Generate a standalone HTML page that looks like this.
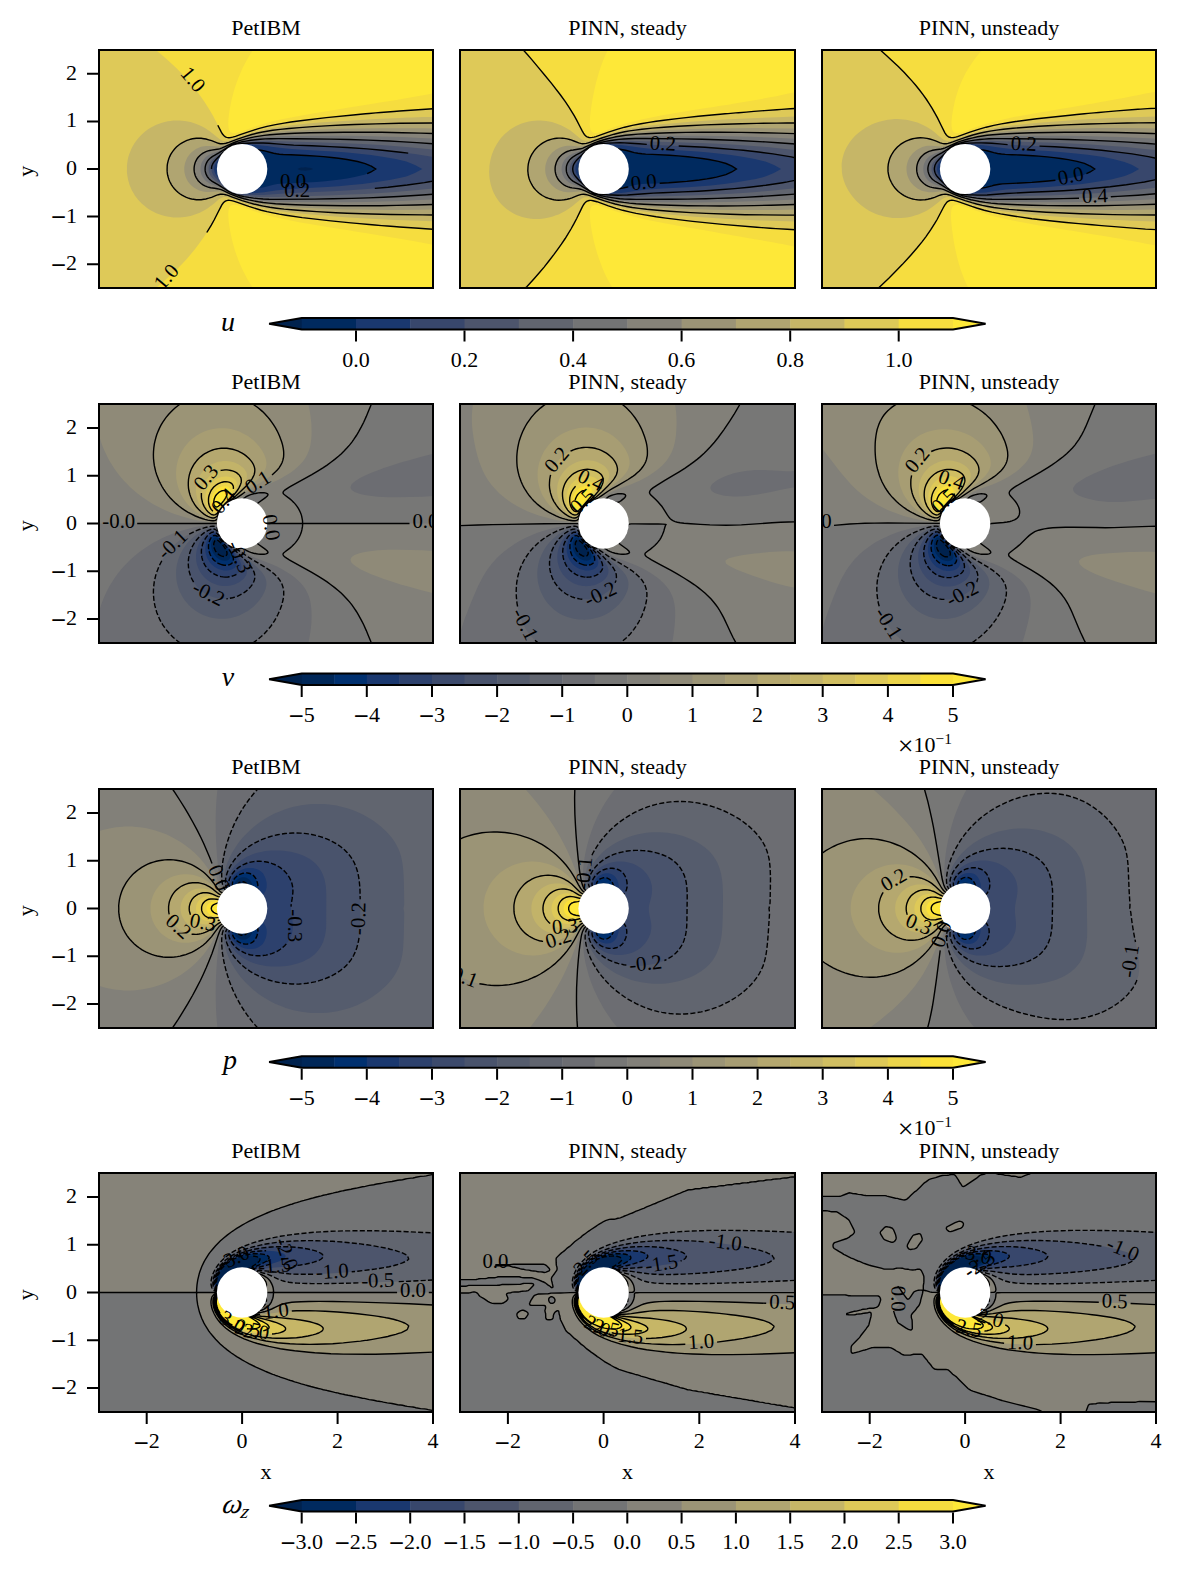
<!DOCTYPE html>
<html><head><meta charset="utf-8"><title>Flow fields</title><style>html,body{margin:0;padding:0;background:#fff}svg{display:block}</style></head><body>
<svg width="1181" height="1572" viewBox="0 0 1181 1572" font-family="'Liberation Serif', 'Times New Roman', serif" font-size="22px" fill="#000">
<rect width="1181" height="1572" fill="#fff"/>
<defs>
<clipPath id="c00"><rect x="99" y="50" width="334" height="238"/></clipPath>
<clipPath id="c10"><rect x="99" y="404" width="334" height="239"/></clipPath>
<clipPath id="c20"><rect x="99" y="789" width="334" height="239"/></clipPath>
<clipPath id="c30"><rect x="99" y="1173" width="334" height="239"/></clipPath>
<clipPath id="c01"><rect x="460" y="50" width="335" height="238"/></clipPath>
<clipPath id="c11"><rect x="460" y="404" width="335" height="239"/></clipPath>
<clipPath id="c21"><rect x="460" y="789" width="335" height="239"/></clipPath>
<clipPath id="c31"><rect x="460" y="1173" width="335" height="239"/></clipPath>
<clipPath id="c02"><rect x="822" y="50" width="334" height="238"/></clipPath>
<clipPath id="c12"><rect x="822" y="404" width="334" height="239"/></clipPath>
<clipPath id="c22"><rect x="822" y="789" width="334" height="239"/></clipPath>
<clipPath id="c32"><rect x="822" y="1173" width="334" height="239"/></clipPath>
</defs>
<g clip-path="url(#c00)">
<rect x="99" y="50" width="334" height="238" fill="#00224e"/>
<path fill="#002a5f" fill-rule="evenodd" d="M99 288l334 0l0-238l-334 0l0 238zM299.4 170l-0.1 0l-0.9-0.5l-0.8-0.5l0.8-0.5l1-0.5l1.9-0.4l1.9-0.2l1.9-0.1l1.9 0.1l1.9 0.3l2 0.4l2.4 0.9l-1.5 0.6l-1.1 0.4l-1.8 0.3l-1.9 0.3l-1.9 0.1l-1.9-0.1l-1.9-0.2l-1.9-0.4z"/>
<path fill="#1a386f" fill-rule="evenodd" d="M99 288l334 0l0-238l-334 0l0 238zM242.1 192.8l-0.2 0l-0.7-0.7l-1-0.2l-2.8 0l-1-0.1l-0.9-0.9l-0.3 0l6.4-20l0.2-0.9l0.3-1l11.4 0l-11.4 0l-0.3-1l-0.2-0.9l-2.3-7.3l-0.7-2.2l-3.4-10.5l0.3 0l0.9-1l3.8 0l1-0.2l0.7-0.7l0.7 0l0.5 0.4l1 0.4l1.9 0.1l2.9 0.1l0.9 0.8l1.5 0.1l0.4 0.4l0.9 0.5l1 0.1l0.9 0.8l0.7 0.1l0.3 0.4l1 0.4l1.9 0.2l0.9 0l2.9 0.5l2.4 0.4l7.1 1.9l1.9 0.5l2.9 0.5l2.9 0.4l3.8 0.3l7.6 0.3l15.3 0.7l10.5 0.6l6.7 0.5l8.5 0.9l6.7 0.8l8.6 1.2l10.5 2l7.6 2.1l4.8 2l1.3 0.5l4.4 2.9l-4.7 3l-5.8 2.4l-0.9 0.4l-9.6 2.3l-7.6 1.4l-6.7 1l-6.6 0.8l-8.6 0.9l-8.6 0.7l-9.6 0.6l-8.6 0.4l-18.1 0.8l-2.8 0.4l-3.9 0.6l-2.8 0.7l-4.8 1.3l-1.9 0.5l-2.9 0.5l-2.8 0.3l-1.9 0.2l-1 0.4l-0.3 0.4l-0.7 0.1l-0.9 0.9l-1 0l-0.9 0.5l-0.4 0.4l-1.5 0.1l-1 0.9l-3.8 0l-0.9 0.1l-1 0.4l-0.5 0.4l-0.5 0z"/>
<path fill="#38476c" fill-rule="evenodd" d="M99 288l334 0l0-238l-334 0l0 238zM237.4 192.9l-2.9-0.8l-1.9-0.8l-1.9-0.9l-2.4-1.4l-1.4-1.1l-1.9-1.6l-1.2-1.1l-1.7-1.9l-1.6-1.9l-1.3-1.8l-0.8-1.1l-0.6-0.9l-2-2.9l-0.5-0.9l-0.7-1.9l-0.3-1l-0.1-0.9l0-1l0-1l0.3-1.4l0.1-0.5l0.7-1.9l1.1-1.9l2-2.8l2.9-3.8l1.8-2.1l1.6-1.7l2.3-1.9l1.8-1.3l2.9-1.6l0.9-0.4l1.3-0.5l1.6-0.6l4.7-1l2.9-0.2l2.9-0.1l3.8 0.2l11.4 0.9l5.8 0.7l4.7 0.7l9.6 1.3l4.7 0.5l5.8 0.5l10.5 0.6l21.9 1.2l9.6 0.6l10.5 0.8l10.4 1l11.5 1.2l4.8 0.6l11.4 1.6l13.4 2.4l10.5 2.5l3.8 1.5l5.4 2.1l6.8 3.8l-7.4 4.1l-6.7 2.6l-2.9 1l-14.3 3.1l-14.3 2.3l-14.3 1.8l-11.5 1.2l-12.4 1.1l-11.4 0.8l-23.9 1.3l-11.4 0.6l-6.7 0.5l-4.8 0.6l-4.8 0.6l-11.4 1.7l-5 0.5l-10.3 0.7l-3.8 0.2l-2.9-0.1l-1.9-0.2l-1.9-0.3l-0.9-0.2z"/>
<path fill="#4d556c" fill-rule="evenodd" d="M99 288l334 0l0-106.9l-3.8 0.7l-4.8 0.8l-17.2 2.4l-19.1 2.2l-14.3 1.3l-13.3 1.1l-14.3 0.9l-13.4 0.7l-18.1 0.8l-17.2 0.7l-9.6 0.5l-7 0.6l-17.8 1.2l-4.7 0.1l-5.8-0.1l-5.7-0.2l-3.8-0.3l-2.9-0.4l-2.8-0.6l-1.9-0.5l-3-1.2l-1.8-0.8l-1.9-1.1l-1.9-1.2l-2.1-1.6l-2.1-1.9l-8.2-8.4l-0.2-0.2l-0.8-1.1l-0.5-0.8l-0.9-1.9l-0.3-0.9l-0.3-1.9l0-1l0.1-1.7l0-0.2l0.2-1l0.3-0.9l0.5-1l0.4-0.9l0.6-1l0.9-1.1l1.5-1.7l3.2-3.2l2.5-2.5l3.3-3l2.3-1.8l1.5-0.9l1.9-1.1l1.9-0.9l1.9-0.8l2.9-0.8l2.8-0.6l2.9-0.4l3.8-0.3l5.7-0.2l5.8-0.1l4.7 0.1l5.8 0.3l7.6 0.6l9.5 0.7l7.7 0.5l18.1 0.7l18.1 0.8l17.2 0.9l20.1 1.4l15.2 1.3l18.2 2l14.3 1.8l17.1 2.7l1 0.2l0-106.9l-334 0l0 238z"/>
<path fill="#61656f" fill-rule="evenodd" d="M99 288l334 0l0-99.5l-15.3 1.5l-22.9 1.9l-14.3 1l-16.2 1l-14.3 0.7l-22 0.8l-50.5 1.5l-7.7 0.2l-5.7 0l-4.8-0.1l-4.8-0.3l-4.7-0.4l-5.2-0.6l-3.4-0.6l-2.9-0.6l-2.4-0.7l-1.4-0.5l-2.9-1.2l-2.8-1.5l-2.6-1.6l-2.6-1.9l-5.3-4.3l-3.2-2.4l-2.3-1.9l-1.2-1.3l-0.9-1.3l-0.2-0.2l-0.8-1.6l-0.2-0.3l-0.3-1l-0.5-1.9l-0.1-0.9l0-2l0.3-1.9l0.3-0.9l0.5-1.3l0.3-0.6l0.7-1.2l0.9-1.3l1-1l0.9-0.9l1-0.9l1.9-1.4l2.8-2.2l6.7-5.2l1.9-1.3l1.9-1.1l1.9-0.9l2-0.8l2.3-0.9l1.5-0.4l2.8-0.7l2.9-0.5l3.8-0.6l5.7-0.6l4.8-0.3l4.8-0.2l4.8-0.1l6.6 0.2l41.1 1.2l16.2 0.5l13.4 0.5l18.1 0.8l18.1 1.1l13.4 0.9l15.2 1.2l18.2 1.7l5.7 0.6l0-99.5l-334 0l0 238z"/>
<path fill="#737475" fill-rule="evenodd" d="M99 288l334 0l0-93.7l-10.5 0.7l-23.9 1.5l-15.2 0.7l-15.3 0.7l-16.2 0.5l-19.1 0.4l-18.1 0.3l-40.1 0.3l-5.7-0.1l-5.8-0.3l-4.7-0.4l-4.8-0.5l-4.8-0.7l-4.7-0.8l-3.9-0.9l-3.8-1l-1.9-0.7l-2.9-1.2l-2-1l-1.8-1l-1.9-1.1l-7.6-4.9l-6.1-3.4l-1.5-1.2l-1-0.8l-1-1l-0.9-1.1l-0.5-0.7l-1-1.9l-0.7-1.9l-0.4-1.9l-0.1-1.9l0.1-1.9l0.4-1.9l0.7-1.9l1-1.9l0.7-1l0.8-0.9l1-1l1.8-1.4l1-0.7l1.9-1.1l4.7-2.6l2.9-1.9l4.2-2.7l2.5-1.5l2.8-1.4l2.3-1l1.6-0.6l2.8-0.8l3.8-1l3.9-0.7l4.7-0.8l4.8-0.6l4.8-0.5l4.7-0.3l5.8-0.2l7.6-0.1l17.2 0.1l35.3 0.4l18.1 0.4l19.1 0.6l21 0.9l10.5 0.6l17.2 1l16.2 1.1l0-93.7l-334 0l0 238z"/>
<path fill="#868379" fill-rule="evenodd" d="M99 288l334 0l0-88.5l-13.4 0.6l-18.1 0.8l-19.1 0.6l-15.2 0.4l-19.1 0.3l-19.1 0.1l-16.2-0.1l-20.1-0.2l-13.3-0.3l-8.1-0.3l-5.3-0.4l-4.8-0.4l-4.7-0.7l-4.8-0.7l-4.8-1l-4.8-1.1l-3.8-1l-3.8-1.3l-3.8-1.6l-3.8-2l-6.7-3.6l-1.9-0.9l-2.9-1l-3.8-1.3l-0.9-0.5l-2-0.9l-1-0.7l-1.3-0.9l-1.5-1.4l-0.9-1.1l-0.3-0.4l-1.3-1.9l-0.9-1.9l-0.6-1.9l-0.3-1.9l-0.1-1.9l0.1-1.9l0.3-1.9l0.6-1.9l0.9-1.9l1.3-1.9l1.2-1.5l1-0.9l0.9-0.8l1-0.7l1.9-1.1l1.9-0.9l2.9-1l3.8-1.3l1.9-0.9l1.9-0.9l8.6-4.7l2.9-1.2l3.8-1.4l2.8-0.8l2.9-0.8l5.7-1.2l4.8-0.9l4.8-0.7l4.7-0.6l5.8-0.4l5.7-0.3l7.6-0.3l12.4-0.2l20.1-0.2l17.1-0.1l16.3 0.1l17.1 0.3l16.3 0.4l21 0.6l18.1 0.8l12.4 0.6l0-88.5l-334 0l0 238z"/>
<path fill="#9b9476" fill-rule="evenodd" d="M99 288l334 0l0-83.5l-17.2 0.5l-19.1 0.4l-16.2 0.3l-17.2 0.1l-19-0.1l-16.3-0.2l-17.1-0.3l-15.3-0.5l-11.5-0.5l-8.6-0.5l-6.6-0.6l-5.8-0.6l-4.7-0.7l-4.8-0.9l-4.8-1l-4.7-1.2l-5.8-1.7l-4.7-1.7l-3.6-1.5l-3.1-1.5l-2.9-1.4l-2.9-1.2l-1.9-0.6l-1.9-0.4l-2.8-0.4l-3.8-0.6l-2-0.4l-1.9-0.6l-1.9-0.8l-1.9-1l-1.9-1.4l-1.4-1.2l-1.5-1.6l-0.9-1.3l-1.1-1.8l-0.9-1.9l-0.6-1.9l-0.4-1.9l-0.2-1.9l0-2l0.2-1.9l0.4-1.9l0.6-1.9l0.9-1.9l1.1-1.9l0.9-1.2l1-1.1l1-0.9l0.9-0.8l1.9-1.4l1-0.5l1.9-1l2.1-0.7l1.7-0.4l1.9-0.4l7.1-1.1l1.5-0.4l1.9-0.7l2.9-1.3l7.6-3.5l2.9-1.1l3.8-1.3l5.7-1.6l4.8-1.2l4.7-1l4.8-0.8l4.8-0.7l5.7-0.6l6.7-0.6l7.8-0.4l10.3-0.5l15.3-0.5l17.2-0.3l17.2-0.2l17.1-0.1l20.1 0.1l21 0.4l18.1 0.4l12.4 0.4l0-83.5l-334 0l0 238z"/>
<path fill="#b0a571" fill-rule="evenodd" d="M99 288l334 0l0-78.4l-12.4 0.1l-31.5 0.2l-27.7-0.3l-14.3-0.2l-17.2-0.5l-15.2-0.6l-13.4-0.6l-12.4-0.8l-8.6-0.6l-7.6-0.8l-5.7-0.7l-4.8-0.7l-4.8-0.9l-4.8-1l-4.7-1.2l-5.2-1.5l-3.4-1.1l-3.8-1.4l-6.7-2.6l-3.8-1.6l-2.9-0.9l-1.9-0.3l-1.9-0.1l-1.9 0l-7.7 0.6l-1.9 0l-2.4-0.3l-1.4-0.2l-1.9-0.5l-1.9-0.6l-1.9-0.9l-1.9-1l-1.9-1.3l-1.5-1.2l-1.4-1.3l-1.3-1.5l-1.4-1.9l-1.1-2l-0.9-1.8l-0.6-1.9l-0.5-1.9l-0.4-1.9l-0.1-1.9l0-2.9l0.3-1.9l0.4-1.9l0.6-1.9l0.8-1.9l0.9-1.9l1.3-1.9l1.5-1.9l1.5-1.5l1.6-1.4l1.3-0.9l1.8-1.2l1.9-0.9l2.2-0.8l1.7-0.5l2.3-0.4l1.5-0.2l1.9-0.1l1.9 0l2.9 0.2l3.8 0.4l1.9 0l1.9-0.1l1.9-0.3l1.9-0.6l1.9-0.7l6-2.5l2.6-1l2.9-1l3.8-1.3l5.7-1.7l4.8-1.2l4.8-1.1l4.7-0.9l5.8-0.9l5.7-0.7l6.7-0.7l8.5-0.7l10.5-0.6l13.4-0.7l14.3-0.6l16.2-0.5l18.2-0.3l21.9-0.2l24.8 0l18.2 0.1l7.6 0.1l0-78.4l-334 0l0 238z"/>
<path fill="#c6b667" fill-rule="evenodd" d="M99 288l334 0l0-73l-10.5-0.1l-31.5-0.4l-20-0.5l-23.9-0.8l-11.4-0.5l-19.1-1.1l-12.4-0.8l-9.6-0.8l-10.5-0.9l-7.6-0.9l-6.7-0.9l-6.5-1.2l-4-0.8l-5.7-1.3l-4.8-1.3l-6.7-2.1l-10.5-3.8l-3-1.1l-3.2-1l-1.4-0.3l-1.9-0.2l-1.9 0.1l-1.9 0.4l-2.7 1l-4 1.6l-2.9 0.9l-2.8 0.8l-1.9 0.3l-2.9 0.4l-1.9 0.1l-2.9-0.1l-2.8-0.4l-1.9-0.3l-1.9-0.5l-2-0.6l-1.9-0.8l-1.9-0.9l-1.9-1l-2.2-1.4l-1.6-1.3l-1.9-1.7l-1.9-2l-1.3-1.7l-1.6-2.3l-0.9-1.6l-1-2l-0.7-1.7l-0.6-1.9l-0.6-2.3l-0.3-1.5l-0.2-1.9l-0.1-1.9l0.1-3.9l0.2-1.9l0.4-1.9l0.5-1.9l0.6-1.9l0.8-1.9l0.9-1.9l1.1-1.9l1.4-1.9l1.5-1.9l1.8-1.9l1.8-1.6l1.6-1.3l1.4-0.9l1.8-1l1.9-1l2-0.9l1.8-0.6l1.9-0.6l1.9-0.4l1.9-0.3l1.9-0.2l2.9-0.1l1.9 0.1l2.9 0.4l1.9 0.3l2.8 0.8l2.9 0.9l6.8 2.6l1.8 0.4l1.9 0.1l1.9-0.2l1.9-0.4l2.9-0.9l8.6-3.2l6.7-2.3l7.6-2.3l4.8-1.2l4.7-1l5.8-1.1l5.7-0.9l7.6-0.9l8.6-0.9l10.5-0.9l13.4-1l17.1-1l12.4-0.6l12.4-0.5l21-0.6l23.9-0.6l33.4-0.3l0-73l-334 0l0 238z"/>
<path fill="#dec958" fill-rule="evenodd" d="M99 288l334 0l0-66.8l-14.3-0.4l-8.6-0.3l-5.7-0.2l-9.6-0.4l-23.8-1.1l-22.9-1.3l-19.1-1.4l-12.4-1l-16.2-1.5l-11.5-1.2l-8.6-1.2l-7.6-1.2l-6.7-1.2l-4.8-1l-4.7-1.2l-5.8-1.7l-4.7-1.5l-14.4-5l-2.8-0.9l-1.9-0.3l-1.9-0.1l-1 0l-0.9 0.2l-1 0.3l-1.9 0.9l-1 0.6l-0.9 0.7l-1.9 1.6l-4.5 3.8l-1.3 0.9l-2.8 2.1l-2.9 1.7l-2.8 1.6l-2.9 1.4l-2.9 1.1l-2.8 1l-2.9 0.9l-2.9 0.6l-2.8 0.5l-2.9 0.3l-2.8 0.2l-2.9 0l-2.9-0.1l-2.8-0.3l-3.4-0.5l-2.4-0.5l-2.8-0.8l-2.9-1l-2.8-1.1l-2.9-1.4l-2.9-1.6l-2-1.2l-1.8-1.3l-2-1.6l-2.8-2.4l-1.9-1.9l-1.9-2.1l-1.7-2.1l-1.4-1.9l-1.7-2.9l-1.6-2.9l-1.3-2.8l-0.9-2.4l-0.7-2.4l-0.8-2.8l-0.5-2.9l-0.4-2.8l-0.2-1.9l0.1-3.9l-0.1-1.9l0.3-2.8l0.4-2.9l0.6-2.8l0.8-2.9l1.1-2.8l1.3-3.2l1.3-2.5l1.6-2.7l1.4-2.1l1.5-1.9l1.9-2.3l1.9-2l1.9-1.8l1.9-1.6l2.9-2.2l2.8-1.8l2.9-1.6l2.9-1.4l2.8-1.1l2.9-1l2.8-0.8l2.9-0.6l2.9-0.4l2.8-0.3l2.9-0.1l2.9 0l2.8 0.2l2.9 0.3l2.8 0.5l2.9 0.6l2.9 0.9l2.8 1l3.1 1.2l2.7 1.3l2.8 1.6l1.9 1.1l2.9 2l2.9 2.2l6.2 5.1l1.4 1l1.9 0.9l1 0.3l0.9 0.2l1 0l1.9-0.1l2-0.4l3.7-1.1l17.2-5.9l5.1-1.5l3.6-1l4-0.9l3.5-0.8l6.7-1.2l5.7-0.9l7.6-1.1l10.5-1.2l11.5-1.2l11.4-1l16.3-1.2l35.3-2.2l10.5-0.5l18.1-0.8l7.6-0.3l4.8-0.2l10.5-0.3l7.6-0.2l2.9-0.1l0-66.8l-334 0l0 238z"/>
<path fill="#f6dd3f" fill-rule="evenodd" d="M155.7 288l277.3 0l0-58.7l-7.6-0.5l-6.7-0.5l-7.6-0.5l-11.5-0.8l-5.7-0.5l-6.7-0.5l-5.7-0.4l-6.7-0.6l-5.7-0.5l-12.4-1.1l-5.8-0.5l-20-2l-22-2.5l-6.7-0.8l-16.2-2.4l-6.6-1.1l-7.7-1.5l-4.7-1l-5.8-1.4l-7.6-2.3l-4.8-1.5l-11.4-4.1l-3.8-1.2l-2-0.5l-1.9-0.2l-0.9-0.1l-1.2 0.1l-0.7 0.2l-1 0.3l-0.9 0.5l-1.1 0.9l-0.9 1l-1.3 1.9l-1 1.9l-2.4 4.7l-3.9 7.7l-3.1 5.7l-2.9 4.7l-3 4.8l-2.6 3.8l-3.6 5.1l-4.1 5.4l-3.5 4.3l-5.3 6.1l-3.3 3.6l-5.8 6l-4.7 4.5l-6.7 6.1l-5.7 4.8l-4.4 3.6zM227.6 137.6l0.2 0l1 0.1l1.9-0.2l1.9-0.4l2.9-0.8l4.7-1.6l6.7-2.4l7.6-2.5l4.8-1.5l7.7-1.9l8.5-1.8l8.6-1.5l6.7-1.1l9.6-1.3l25.9-3.1l29.4-2.9l4.8-0.5l5.1-0.4l3.5-0.3l6.6-0.6l4.8-0.4l6.7-0.5l6.7-0.5l5.7-0.5l33.4-2.3l0-58.7l-277.3 0l4.4 3.6l6.7 5.7l5.7 5.2l4.8 4.6l4.6 4.7l2.6 2.9l3.2 3.5l5.1 6l3.5 4.4l4.8 6.4l3.8 5.6l3.8 6l3.9 6.5l3.8 7.2l2.8 5.8l1.5 2.8l1 1.9l1.4 1.9l0.9 1.1l1.1 0.8l0.8 0.5l1 0.3l0.7 0.2z"/>
<path fill="#fee838" fill-rule="evenodd" d="M252.4 287l0.6 1l180 0l0-43.3l-6.7-1.3l-10.5-1.9l-8.6-1.5l-10.5-1.8l-4.7-0.8l-10.5-1.7l-5.8-1l-5.9-1l-4.6-0.7l-3.8-0.6l-7.6-1.2l-2.9-0.5l-3.8-0.6l-3.8-0.6l-9.5-1.5l-18.2-3l-5.7-1l-9.5-1.6l-17.2-3.4l-6.7-1.5l-6.7-1.6l-8.6-2.4l-5.1-1.7l-2.7-0.9l-3.6-1.3l-9.7-3.5l-3.7-1l-1.9-0.2l-0.9 0l-1 0.1l-1 0.3l-0.9 0.5l-0.4 0.3l-0.7 1l-0.4 0.9l-0.4 1.2l-0.3 1.7l-0.2 1.9l0 2.8l0.2 2.9l0.3 3.8l0.7 4.8l0.8 4.7l1 4.8l1.1 4.8l1.3 4.7l1.4 4.8l1.6 4.7l1.8 4.8l2 4.8l2.1 4.7l2.4 4.7l2.6 4.8l1.7 2.9l2.4 3.8l0.7 0.9zM231.9 132.8l0.7 0.2l1 0.1l1.9-0.1l1.1-0.2l2.7-0.7l1.9-0.6l4.3-1.5l4.3-1.6l11.4-3.9l9.6-2.7l9.5-2.2l13.4-2.7l19.1-3.4l22.9-3.8l10.4-1.6l2.9-0.5l14.3-2.3l7.7-1.2l4.7-0.8l3.9-0.7l10.5-1.7l7.6-1.2l3.8-0.7l17.2-3l2.8-0.5l5.8-1.1l5.7-1.1l0-43.3l-180 0l-2.5 3.8l-2.6 4.4l-2.9 5.2l-2.4 4.7l-1.7 3.8l-1.6 3.8l-1.9 4.9l-1.7 4.6l-1.5 4.8l-1.3 4.7l-1.3 5l-1.1 5.5l-0.9 4.8l-0.7 4.7l-0.4 3.8l-0.2 3.9l0 2.8l0.2 1.9l0.3 1.9l0.4 1l0.5 1.1l0.6 0.8l0.4 0.3l1.2 0.6z"/>
<path fill="none" stroke="#000" stroke-width="1.4" d="M255.9 149.4l0.6 0.4l1.9 0.2l0.9 0l2.9 0.5l2.4 0.4l7.1 1.9l1.9 0.5l2.9 0.5l2.9 0.4l3.8 0.3l7.6 0.3l15.3 0.7l10.5 0.6l6.7 0.5l8.5 0.9l6.7 0.8l8.6 1.2l10.5 2l7.6 2.1l4.8 2l1.3 0.5l4.4 2.9l-4.7 3l-3.8 1.6M252.1 147.5l0.5 0.5l1 0.1l0.9 0.8l0.7 0.1M250.6 147l0.1 0.1l0.6 0M236.4 146.2l1-0.1M246.9 146.1l2 0.1M241.9 145.2l0.7 0M433 181.1l-3.8 0.7l-4.8 0.8l-17.2 2.4l-19.1 2.2l-13.3 1.2M211.5 169l0.1-1.7l0-0.2l0.2-1l0.3-0.9l0.5-1l0.4-0.9l0.6-1l0.9-1.1l1.5-1.7l3.2-3.2l2.5-2.5l3.3-3l2.3-1.8l1.5-0.9l1.9-1.1l1.9-0.9l1.9-0.8l2.9-0.8l2.8-0.6l2.9-0.4l3.8-0.3l5.7-0.2l5.8-0.1l4.7 0.1l5.8 0.3l7.6 0.6l9.5 0.7l7.7 0.5l18.1 0.7l18.1 0.8l17.2 0.9l20.1 1.4l15.2 1.3l18.2 2l7.6 0.9M433 194.3l-10.5 0.7l-23.9 1.5l-15.2 0.7l-15.3 0.7l-16.2 0.5l-19.1 0.4l-18.1 0.3l-40.1 0.3l-5.7-0.1l-5.8-0.3l-4.7-0.4l-4.8-0.5l-4.8-0.7l-4.7-0.8l-3.9-0.9l-3.8-1l-1.9-0.7l-2.9-1.2l-2-1l-1.8-1l-1.9-1.1l-7.6-4.9l-6.1-3.4l-1.5-1.2l-1-0.8l-1-1l-0.9-1.1l-0.5-0.7l-1-1.9l-0.7-1.9l-0.4-1.9l-0.1-1.9l0.1-1.9l0.4-1.9l0.7-1.9l1-1.9l0.7-1l0.8-0.9l1-1l1.8-1.4l1-0.7l1.9-1.1l4.7-2.6l2.9-1.9l4.2-2.7l2.5-1.5l2.8-1.4l2.3-1l1.6-0.6l2.8-0.8l3.8-1l3.9-0.7l4.7-0.8l4.8-0.6l4.8-0.5l4.7-0.3l5.8-0.2l7.6-0.1l17.2 0.1l35.3 0.4l18.1 0.4l19.1 0.6l21 0.9l10.5 0.6l17.2 1l16.2 1.1M433 204.5l-17.2 0.5l-19.1 0.4l-16.2 0.3l-17.2 0.1l-19-0.1l-16.3-0.2l-17.1-0.3l-15.3-0.5l-11.5-0.5l-8.6-0.5l-6.6-0.6l-5.8-0.6l-4.7-0.7l-4.8-0.9l-4.8-1l-4.7-1.2l-5.8-1.7l-4.7-1.7l-3.6-1.5l-3.1-1.5l-2.9-1.4l-2.9-1.2l-1.9-0.6l-1.9-0.4l-2.8-0.4l-3.8-0.6l-2-0.4l-1.9-0.6l-1.9-0.8l-1.9-1l-1.9-1.4l-1.4-1.2l-1.5-1.6l-0.9-1.3l-1.1-1.8l-0.9-1.9l-0.6-1.9l-0.4-1.9l-0.2-1.9l0-2l0.2-1.9l0.4-1.9l0.6-1.9l0.9-1.9l1.1-1.9l0.9-1.2l1-1.1l1-0.9l0.9-0.8l1.9-1.4l1-0.5l1.9-1l2.1-0.7l1.7-0.4l1.9-0.4l7.1-1.1l1.5-0.4l1.9-0.7l2.9-1.3l7.6-3.5l2.9-1.1l3.8-1.3l5.7-1.6l4.8-1.2l4.7-1l4.8-0.8l4.8-0.7l5.7-0.6l6.7-0.6l7.8-0.4l10.3-0.5l15.3-0.5l17.2-0.3l17.2-0.2l17.1-0.1l20.1 0.1l21 0.4l18.1 0.4l12.4 0.4M433 215l-10.5-0.1l-31.5-0.4l-20-0.5l-23.9-0.8l-11.4-0.5l-19.1-1.1l-12.4-0.8l-9.6-0.8l-10.5-0.9l-7.6-0.9l-6.7-0.9l-6.5-1.2l-4-0.8l-5.7-1.3l-4.8-1.3l-6.7-2.1l-10.5-3.8l-3-1.1l-3.2-1l-1.4-0.3l-1.9-0.2l-1.9 0.1l-1.9 0.4l-2.7 1l-4 1.6l-2.9 0.9l-2.8 0.8l-1.9 0.3l-2.9 0.4l-1.9 0.1l-2.9-0.1l-2.8-0.4l-1.9-0.3l-1.9-0.5l-2-0.6l-1.9-0.8l-1.9-0.9l-1.9-1l-2.2-1.4l-1.6-1.3l-1.9-1.7l-1.9-2l-1.3-1.7l-1.6-2.3l-0.9-1.6l-1-2l-0.7-1.7l-0.6-1.9l-0.6-2.3l-0.3-1.5l-0.2-1.9l-0.1-1.9l0.1-3.9l0.2-1.9l0.4-1.9l0.5-1.9l0.6-1.9l0.8-1.9l0.9-1.9l1.1-1.9l1.4-1.9l1.5-1.9l1.8-1.9l1.8-1.6l1.6-1.3l1.4-0.9l1.8-1l1.9-1l2-0.9l1.8-0.6l1.9-0.6l1.9-0.4l1.9-0.3l1.9-0.2l2.9-0.1l1.9 0.1l2.9 0.4l1.9 0.3l2.8 0.8l2.9 0.9l6.8 2.6l1.8 0.4l1.9 0.1l1.9-0.2l1.9-0.4l2.9-0.9l8.6-3.2l6.7-2.3l7.6-2.3l4.8-1.2l4.7-1l5.8-1.1l5.7-0.9l7.6-0.9l8.6-0.9l10.5-0.9l13.4-1l17.1-1l12.4-0.6l12.4-0.5l21-0.6l23.9-0.6l33.4-0.3M433 229.3l-7.6-0.5l-6.7-0.5l-7.6-0.5l-11.5-0.8l-5.7-0.5l-6.7-0.5l-5.7-0.4l-6.7-0.6l-5.7-0.5l-12.4-1.1l-5.8-0.5l-20-2l-22-2.5l-6.7-0.8l-16.2-2.4l-6.6-1.1l-7.7-1.5l-4.7-1l-5.8-1.4l-7.6-2.3l-4.8-1.5l-11.4-4.1l-3.8-1.2l-2-0.5l-1.9-0.2l-0.9-0.1l-1.2 0.1l-0.7 0.2l-1 0.3l-0.9 0.5l-1.1 0.9l-0.9 1l-1.3 1.9l-1 1.9l-2.4 4.7l-3.9 7.7l-3.1 5.7l-2.9 4.7l-1.6 2.6M217.8 125.2l3.4 6.7l1.1 1.9l0.8 0.9l0.9 1.1l1.1 0.8l0.8 0.5l1 0.3l0.9 0.2l1 0.1l1.9-0.2l1.9-0.4l2.9-0.8l4.7-1.6l6.7-2.4l7.6-2.5l4.8-1.5l7.7-1.9l8.5-1.8l8.6-1.5l6.7-1.1l9.6-1.3l25.9-3.1l29.4-2.9l4.8-0.5l5.1-0.4l3.5-0.3l6.6-0.6l4.8-0.4l6.7-0.5l6.7-0.5l5.7-0.5l33.4-2.3"/>
<ellipse cx="242.1" cy="169.0" rx="25.2" ry="25.1" fill="#fff"/>
<text transform="translate(191.6 80.5) rotate(50.0)" text-anchor="middle" y="4.9" font-size="20.8px">1.0</text>
<text transform="translate(167.7 278.0) rotate(-50.0)" text-anchor="middle" y="4.9" font-size="20.8px">1.0</text>
<text transform="translate(293.1 183.1) rotate(0.0)" text-anchor="middle" y="4.9" font-size="20.8px">0.0</text>
<text transform="translate(297.2 192.3) rotate(0.0)" text-anchor="middle" y="4.9" font-size="20.8px">0.2</text>
</g>
<rect x="99" y="50" width="334" height="238" fill="none" stroke="#000" stroke-width="2"/>
<text transform="translate(50.9 275.6) scale(1.215 1.5)">−</text><text x="66.0" y="270.2">2</text>
<text transform="translate(50.9 227.9) scale(1.215 1.5)">−</text><text x="66.0" y="222.6">1</text>
<text x="77.0" y="175.0" text-anchor="end">0</text>
<text x="77.0" y="127.4" text-anchor="end">1</text>
<text x="77.0" y="79.8" text-anchor="end">2</text>
<text transform="translate(33 171.3) rotate(-90)" text-anchor="middle">y</text>
<path stroke="#000" stroke-width="2" fill="none" d="M98.0 264.2h-11M98.0 216.6h-11M98.0 169.0h-11M98.0 121.4h-11M98.0 73.8h-11"/>
<text x="266.0" y="34.6" text-anchor="middle">PetIBM</text>
<g clip-path="url(#c01)">
<rect x="460" y="50" width="335" height="238" fill="#002a5f"/>
<path fill="#1a386f" fill-rule="evenodd" d="M460 288l335 0l0-238l-335 0l0 238zM602.6 192.8l-0.9-0.7l-1-0.1l-2.9-0.1l-0.9-0.1l-1-0.9l-1 0l-0.9-0.8l-1.1-0.2l-0.8-0.8l-1-0.1l-0.9-0.9l-0.6-0.1l-0.4-0.3l-0.9-0.8l-1-0.8l-2.9-2.8l0-1l-1-0.9l-0.3-1l-0.6-0.6l0-0.3l-0.4-1l-0.5-0.5l-0.2-1.4l-0.8-0.7l-0.1-0.2l0-1l-0.2-0.9l-0.4-1l-0.3-0.4l-0.2-1.5l-0.1-1.9l0.1-1.9l0.2-1.4l0.3-0.5l0.4-1l0.2-0.9l0.1-1.2l0.8-0.7l0.2-1.4l0.5-0.5l0.4-1.3l0.6-0.6l0.4-1l0.9-0.9l0-1l3.9-3.8l1.2-0.9l0.7-0.1l0.9-0.9l1-0.2l0.8-0.7l1.1-0.2l1-0.8l0.9-0.1l1-0.9l3.8-0.1l1-0.2l0.9-0.6l2.5 0l0.4 0.3l0.9 0.3l2 0.2l2.3 0.2l0.5 0.4l1 0.3l1.4 0.2l0.5 0.4l1.9 0.6l1 0.5l0.9 0.2l1 0.2l0.9 0.3l5.8 1l3.8 1l4.8 1.3l3.8 0.7l3.9 0.5l3.8 0.3l6.7 0.3l17.2 0.9l8.6 0.6l9.6 0.9l7.7 0.8l6.7 0.9l6.7 1l9.5 1.9l7.7 2.1l5.9 2.6l4.4 2.9l-4.6 3l-5.9 2.7l-9.4 2.4l-5.7 1.1l-3.9 0.7l-7.6 1.1l-6.7 0.8l-5.8 0.6l-11.4 0.9l-6.7 0.5l-12.5 0.6l-9.6 0.4l-4.7 0.3l-3.9 0.5l-2.8 0.5l-4.2 1l-7.6 1.9l-4.5 0.8l-1 0.3l-0.9 0.2l-1 0.4l-0.3 0.2l-1.6 0.5l-0.7 0.5l-0.3 0.1l-1.9 0.3l-0.6 0.5l-0.3 0.1l-2.9 0.1l-1 0.1l-0.9 0.3l-0.6 0.4l-1.3 0l-1 0z"/>
<path fill="#38476c" fill-rule="evenodd" d="M460 288l335 0l0-238l-335 0l0 238zM598.8 192.9l-2.9-0.8l-1.9-0.7l-1.9-1l-2.4-1.4l-1.4-1l-2-1.6l-1.2-1.2l-1.7-1.9l-2.3-2.9l-2.4-3.3l-1-1.4l-1.1-1.9l-0.8-1.9l-0.2-1l-0.1-0.9l-0.1-1l0.1-1l0.1-0.9l0.2-1l0.8-1.9l1.1-1.9l4.2-5.7l2.5-3l1.7-1.7l2.2-1.9l1.9-1.3l2.8-1.6l1-0.5l4.3-1.4l1.4-0.3l2-0.3l2.8-0.3l2.9 0l3.8 0.2l11.5 0.8l5.8 0.7l5.7 0.8l6.7 0.9l6.7 0.7l5.7 0.5l12.5 0.7l17.2 1l14.4 1l11.5 1l11.5 1.2l10.5 1.2l11.5 1.7l12.4 2.3l10.5 2.6l3.9 1.4l5.3 2.2l6.6 3.8l-7.2 4.1l-6.7 2.7l-2 0.8l-10.4 2.6l-1.9 0.4l-16.3 2.7l-12.4 1.7l-13.4 1.4l-9.6 0.8l-13.4 1l-25.8 1.4l-9.6 0.6l-5.8 0.4l-5.7 0.6l-5.7 0.8l-9.6 1.4l-4.8 0.5l-9.6 0.6l-3.8 0.2l-2.9 0l-2.8-0.3l-2-0.3l-0.9-0.2z"/>
<path fill="#4d556c" fill-rule="evenodd" d="M460 288l335 0l0-107.6l-7.7 1.5l-4.7 0.8l-16.7 2.5l-16.8 2l-14.4 1.4l-15.3 1.2l-9.6 0.7l-11.5 0.7l-15.3 0.7l-20.1 0.8l-9.6 0.4l-8.6 0.6l-17.2 1.3l-4.8 0.1l-4.8 0.1l-5.7-0.2l-4.8-0.2l-3.8-0.4l-2.9-0.4l-2.9-0.7l-2.8-1l-2-0.8l-1.9-1l-2.4-1.5l-1.4-1l-2.2-1.9l-3-2.8l-1.5-1.5l-1.4-1.4l-3.6-3.8l-1.3-1.9l-0.5-0.9l-0.4-1l-0.5-1.6l0-0.3l-0.1-0.9l-0.1-1l0.1-1l0.3-1.9l0.3-0.9l0.5-1.2l0.4-0.7l0.6-1l0.9-1.2l1.5-1.6l4.3-4.2l1.4-1.5l3.3-3l2.4-1.8l1.5-1l1.9-1l1.9-0.9l1.9-0.8l2.9-0.9l2.9-0.6l2.8-0.4l3.9-0.3l5.7-0.2l5.7-0.1l4.8 0.1l5.8 0.3l8.6 0.6l11.5 0.9l10.6 0.5l37.2 1.7l17.9 1.2l25.2 2l18.2 2l13.4 1.8l18.2 3l3.8 0.8l0-107.7l-335 0l0 238z"/>
<path fill="#61656f" fill-rule="evenodd" d="M460 288l335 0l0-99.8l-22 2.3l-16.3 1.4l-17.2 1.3l-12.5 0.7l-13.4 0.7l-8.6 0.4l-14.3 0.5l-15.3 0.4l-22.1 0.6l-25.8 0.7l-4.8-0.1l-4.8-0.2l-4.8-0.4l-5.7-0.6l-3.8-0.6l-3-0.6l-1.8-0.5l-2.9-0.9l-2.9-1.1l-2.8-1.5l-2.7-1.7l-2.6-1.9l-4.3-3.5l-4.3-3.2l-2.2-1.9l-1.2-1.2l-0.9-1.2l-0.3-0.4l-0.7-1.3l-0.3-0.6l-0.3-1l-0.5-1.9l-0.1-0.9l0-2l0.3-1.9l0.3-0.9l0.6-1.6l0.2-0.3l0.8-1.3l0.9-1.3l1-1.1l1-0.8l0.9-0.8l1.8-1.4l1.3-0.9l2.7-2.1l4.7-3.7l2.7-1.8l2.1-1.3l1.9-1l2.9-1.1l2.9-1l2.9-0.6l2.8-0.6l3.9-0.5l5.7-0.6l4.8-0.4l4.8-0.2l4.8-0.1l6.7 0.2l65 2l12.5 0.6l23 1.3l21 1.4l10.5 0.9l18.2 1.8l9.6 1l0-99.9l-335 0l0 238z"/>
<path fill="#737475" fill-rule="evenodd" d="M460 288l335 0l0-93.9l-16.3 1.2l-19.1 1.2l-15.3 0.9l-15.3 0.6l-11.5 0.4l-11.5 0.4l-18.2 0.3l-17.2 0.2l-34.5 0.1l-5.7-0.1l-5.8-0.2l-4.8-0.4l-4.7-0.6l-4.8-0.7l-4.8-0.8l-3.8-0.8l-3.9-1.1l-1.9-0.7l-3-1.2l-1.9-1l-1.8-0.9l-1.9-1.2l-7.7-4.9l-6.7-3.7l-0.9-0.7l-1.1-0.9l-0.9-1l-0.9-1l-0.9-1.5l-0.3-0.3l-0.8-1.9l-0.6-1.9l-0.2-1.9l0-2l0.2-1.9l0.6-1.9l0.9-1.9l1.1-1.7l0.1-0.2l0.9-1l0.9-0.9l1.1-0.9l1.8-1.3l1.9-1.1l4.8-2.6l2.9-1.8l4.8-3.1l2.8-1.6l1.9-1l2.2-0.9l1.7-0.6l3.8-1.1l4.8-1.1l3.8-0.7l4.8-0.7l4.8-0.6l4.8-0.4l4.8-0.3l6.7-0.2l10.5 0l35.4 0.4l21.1 0.4l16.2 0.5l20.1 0.7l26.8 1.4l12.5 0.8l14.3 1.1l2.9 0.2l0-94l-335 0l0 238z"/>
<path fill="#868379" fill-rule="evenodd" d="M460 288l335 0l0-88.6l-16.3 0.8l-19.1 0.9l-15.3 0.5l-15.3 0.4l-17.1 0.3l-14.5 0.1l-17.3 0l-21-0.2l-14.4-0.3l-8.6-0.3l-6.7-0.4l-5.7-0.5l-4.8-0.6l-4.8-0.7l-4.8-0.9l-4.8-1.1l-3.8-1l-2.9-0.9l-2.8-1l-2.9-1.3l-3.8-1.9l-5.9-3.3l-2.1-0.9l-1.6-0.6l-6.7-2.4l-1.9-1l-1.9-1.2l-1-0.8l-1-0.9l-0.9-1.1l-1-1.2l-0.7-1.3l-0.9-1.9l-0.6-1.9l-0.4-1.9l-0.1-1.9l0.1-1.9l0.4-1.9l0.6-1.9l0.9-1.9l1.2-1.9l1.4-1.7l1-0.9l1-0.7l0.9-0.7l1.9-1.1l1.9-0.9l2.9-1l3.8-1.3l2-0.8l2.8-1.5l5.8-3.2l3.8-1.8l2.9-1.1l3.8-1.2l4.8-1.2l4.8-1.1l4.8-0.9l4.7-0.7l4.8-0.5l5.8-0.5l5.7-0.3l7.7-0.3l12.4-0.3l17.2-0.1l21.1 0l21.1 0.2l16.2 0.3l20.1 0.6l18.2 0.7l20.1 0.9l4.8 0.3l0-88.7l-335 0l0 238z"/>
<path fill="#9b9476" fill-rule="evenodd" d="M460 288l335 0l0-83.5l-23.9 0.7l-17.3 0.4l-16.2 0.3l-17.3 0.1l-14.3-0.1l-18.2-0.2l-17.2-0.4l-15.3-0.5l-11.5-0.6l-7.7-0.5l-6.7-0.6l-5.7-0.7l-4.8-0.7l-4.8-0.9l-4.8-1.1l-5.7-1.5l-3.9-1.2l-3.9-1.3l-2.8-1.2l-2.8-1.2l-5-2.4l-2.7-1.1l-1.9-0.6l-1.9-0.4l-2.9-0.4l-3.8-0.5l-1.9-0.4l-1.9-0.6l-2-0.8l-1.9-1l-1.9-1.3l-0.9-0.8l-1-0.9l-1-1l-1.2-1.6l-1.1-1.9l-0.9-1.9l-0.6-2l-0.4-1.8l-0.2-1.9l0-2l0.2-1.9l0.5-1.9l0.6-1.9l0.9-1.9l1.1-1.9l1.1-1.5l1-1l1-0.9l0.9-0.8l1-0.7l1.9-1.2l1.9-0.9l1.9-0.7l1.9-0.5l2.2-0.3l7.4-1.2l2.3-0.7l1.5-0.7l2.9-1.3l3.8-1.8l3.9-1.6l4.7-1.7l5-1.5l3.7-1l4-0.9l3.6-0.8l4.8-0.8l4.8-0.7l5.7-0.6l6.7-0.6l7.7-0.4l10.5-0.5l13.4-0.4l16.3-0.4l16.3-0.2l18.1 0l21.1 0.2l20.1 0.3l17.2 0.4l16.3 0.5l0-83.6l-335 0l0 238z"/>
<path fill="#b0a571" fill-rule="evenodd" d="M460 288l335 0l0-78.4l-17.2 0.3l-32.6 0.2l-9.5-0.1l-23-0.3l-14.4-0.4l-13.4-0.4l-15.3-0.7l-14.3-0.8l-10.6-0.8l-7.6-0.7l-6.5-0.7l-4.1-0.6l-4.7-0.8l-4.8-0.9l-4.8-1.1l-5.8-1.6l-4.7-1.5l-6.7-2.4l-4.8-1.9l-4-1.6l-1.8-0.6l-1.9-0.4l-1.9-0.2l-1.9 0l-2.9 0.2l-4.8 0.5l-1.9 0l-1.9-0.1l-1.9-0.2l-1.9-0.3l-1.9-0.6l-2-0.7l-1.9-0.9l-1.9-1.1l-1.8-1.3l-1.2-1l-1.8-1.8l-0.9-1.2l-1.3-1.7l-1.1-1.9l-0.8-1.9l-0.7-1.9l-0.5-1.9l-0.3-1.9l-0.1-1.9l0.1-2.9l0.2-1.9l0.5-1.9l0.6-1.9l0.7-1.9l1-1.9l1.3-1.9l1.5-1.9l1.7-1.8l1.4-1.1l1.5-1.1l1.9-1.1l1.9-1l2-0.7l1.9-0.5l1.9-0.4l1.9-0.3l1.9-0.1l1.9 0.1l2.9 0.2l3.8 0.4l1.9 0.1l2-0.1l1.9-0.4l1.9-0.5l1.9-0.7l3.8-1.6l3.9-1.6l6.7-2.3l4.7-1.5l6.7-1.8l4.8-1.1l5.8-1.1l5.7-0.8l6.7-0.9l7.7-0.7l9.5-0.7l11.5-0.6l12.5-0.6l13.4-0.5l22-0.5l19.1-0.3l25.9-0.1l33.5 0.3l3.8 0.1l0-78.5l-335 0l0 238z"/>
<path fill="#c6b667" fill-rule="evenodd" d="M460 288l335 0l0-72.9l-9.6 0l-40.2-0.4l-15.3-0.4l-23.9-0.9l-15.3-0.8l-21.1-1.3l-12.4-1l-10.6-1l-7.6-0.9l-6.7-0.9l-5.8-1l-5.7-1.1l-5.7-1.4l-4.8-1.3l-5.8-1.8l-6.9-2.4l-4.6-1.7l-3.2-1.1l-2.5-0.8l-1.9-0.4l-1.9-0.2l-1.9 0.1l-2 0.5l-2.2 0.8l-5.4 2.1l-2.9 1l-1.9 0.5l-2.9 0.5l-2.8 0.3l-2.9 0.1l-2.9-0.2l-1.9-0.3l-1.9-0.4l-1.9-0.5l-1.9-0.6l-2-0.7l-1.9-1l-1.9-1l-1.9-1.3l-1.8-1.4l-1.1-1l-1.9-1.9l-1.6-1.9l-1.3-1.9l-1.1-1.9l-1-1.9l-0.8-1.9l-0.7-1.9l-0.5-1.9l-0.4-1.9l-0.2-2.2l-0.2-1.6l0.2-4.2l0.3-2.5l0.4-1.9l0.5-1.9l0.7-1.9l0.9-2.2l1-1.9l1-1.6l1.3-1.9l1.5-1.9l1.9-2l2.1-1.8l1.8-1.3l1.9-1.3l1.9-1l1.9-0.9l1.9-0.7l1.9-0.6l1.9-0.5l2-0.4l1.9-0.2l1.9-0.2l1.9 0l1.9 0.1l1.9 0.2l2.9 0.5l2.3 0.6l1.5 0.4l2.9 1.1l4.8 1.9l1.9 0.5l1.9 0.3l1.9-0.1l1.9-0.2l2-0.6l2.8-0.9l3.9-1.5l2.8-1l3.9-1.4l7.6-2.4l4.8-1.4l4.8-1.2l5.7-1.2l4.9-0.9l5.7-0.8l6.7-0.9l10.5-1.1l11.5-0.9l14.3-1l9.6-0.5l17.2-0.8l19.2-0.7l17.2-0.5l15.3-0.3l20.1-0.3l10.5-0.1l7.7 0l0-73l-335 0l0 238z"/>
<path fill="#dec958" fill-rule="evenodd" d="M460 288l335 0l0-66.5l-35.4-1.1l-35.4-1.6l-29.7-2l-18.2-1.6l-12.4-1.2l-12.5-1.4l-7.6-1l-6.7-1l-5.8-1l-5.7-1.1l-5.8-1.4l-7-1.9l-3.5-1.1l-4.8-1.6l-3.8-1.4l-7.7-2.7l-3-0.8l-1.7-0.3l-2-0.1l-0.9 0l-1.5 0.4l-0.4 0.1l-1.7 0.8l-1.4 1l-2.4 1.9l-2.2 1.9l-2.9 2.4l-3.8 2.9l-3.8 2.4l-2.9 1.6l-3.8 1.8l-3.3 1.2l-2.5 0.9l-3.8 1l-3.8 0.8l-2.9 0.4l-2.9 0.2l-2.8 0.1l-2.9-0.1l-2.9-0.2l-2.8-0.4l-2.9-0.6l-2.9-0.7l-2.9-0.9l-2.8-1.2l-2.9-1.4l-3-1.7l-1.8-1.2l-2.2-1.6l-2.6-2.2l-1.9-1.8l-1.9-2.1l-1.2-1.5l-1.7-2.3l-1-1.5l-1.1-1.9l-1.5-2.9l-1.2-2.9l-1-2.8l-0.8-2.9l-0.6-2.8l-0.5-2.9l-0.3-2.8l-0.1-2.9l-0.1-0.9l0.3-3.9l0-1.9l0.6-3.8l0.6-3.1l0.7-2.6l0.9-2.8l0.7-1.9l1.2-2.9l1.5-2.8l1.1-2l1.8-2.8l1.7-2.3l1.2-1.5l1.7-1.9l1.9-1.9l2.2-1.9l2.6-2.1l2.8-1.9l2.9-1.6l2.1-1.1l2.7-1.1l2.9-1.1l2.8-0.8l2.9-0.7l2.9-0.5l2.9-0.3l2.8-0.1l2.9 0l2.9 0.1l2.8 0.3l2.9 0.5l2.9 0.6l2.9 0.8l2.8 1l3.3 1.3l2.5 1.2l2.8 1.5l3.9 2.4l2.8 2.2l5.8 4.7l1.6 1.3l1.4 1l1.8 0.8l0.9 0.3l1 0.2l0.9 0l2-0.1l1.9-0.3l3.8-1.2l10.1-3.5l3.3-1.2l4.8-1.5l7.4-2.1l3.1-0.8l6.7-1.4l5.8-1l6.7-1.1l8.6-1.1l10.8-1.2l9.3-0.9l20.1-1.7l24.9-1.6l13.4-0.8l22.9-1.1l24.9-1l18.2-0.6l0-66.6l-335 0l0 238z"/>
<path fill="#f6dd3f" fill-rule="evenodd" d="M525.4 288l269.6 0l0-58.2l-7.7-0.5l-11.4-0.7l-5.8-0.4l-8.6-0.6l-4.8-0.3l-34.4-2.9l-29.7-3l-26.8-3.3l-9.6-1.3l-11.5-1.9l-8.6-1.5l-5.7-1.3l-7.7-1.8l-6.7-2l-7.6-2.5l-11.5-4.1l-1.9-0.5l-2-0.5l-1.9-0.3l-0.9 0l-1 0.1l-0.9 0.2l-1.6 0.7l-0.4 0.2l-0.9 0.8l-1 1.1l-1.1 1.7l-1.1 1.9l-1.8 3.8l-3.7 7.6l-3 5.7l-2.7 4.8l-3.4 5.7l-2.4 3.8l-3.8 5.7l-4.1 5.7l-3.5 4.8l-5.1 6.6l-4.6 5.8l-4.8 5.7l-5 5.7l-4.3 4.7l-3 3.2l-1.6 1.6zM586.7 136.6l0.6 0.3l1 0.4l0.9 0.2l1 0.1l1.9-0.2l1.9-0.3l1.9-0.5l5.5-1.9l7-2.5l8.6-2.8l7.6-2.2l7.7-1.8l8.6-1.7l8.1-1.3l7.2-1.1l7.7-1.1l15.3-1.8l6.8-0.8l12.3-1.3l16.3-1.5l5.7-0.6l4.8-0.4l2.9-0.2l7.7-0.7l2.8-0.2l7.7-0.6l7.6-0.7l6.7-0.5l3.9-0.3l12.4-0.9l4.8-0.3l8.6-0.6l4.8-0.3l0-58.5l-271.7 0l4.3 4.8l4.2 4.8l7.1 8.5l5.5 6.7l7.5 9.1l8.6 11.1l4.8 6.6l3.8 5.7l3.4 5.5l1.7 2.9l2.6 4.7l3 5.8l2.4 4.7l1.3 2.3l0.9 1.3l0.2 0.2l0.9 1l1.2 0.9z"/>
<path fill="#fee838" fill-rule="evenodd" d="M612.1 287l0.6 1l182.3 0l0-41.2l-10.5-2.3l-1.9-0.4l-3.9-0.6l-7.6-1.4l-9.6-1.8l-6.7-1.1l-11.5-2l-3.8-0.7l-7.7-1.3l-3.8-0.7l-7.7-1.3l-4.7-0.9l-12.5-2.2l-10.5-1.8l-1.9-0.4l-3.9-0.6l-2.8-0.5l-7.7-1.4l-1.9-0.4l-5.7-1l-13.4-2.6l-12.5-2.5l-12.4-3.1l-9.6-2.8l-10.5-3.6l-3.9-1.5l-5.7-1.9l-2.9-0.7l-0.9-0.2l-1.9-0.1l-1.2 0.2l-0.8 0.3l-1 0.6l-0.9 1.2l-0.3 0.7l-0.4 1l-0.3 1.9l-0.2 1.9l0 2.8l0.2 2.9l0.3 3.8l0.7 5l0.8 4.5l0.9 4.8l1.3 5.7l1.5 5.7l1.7 5.7l1.6 4.8l1.8 5.1l2.1 5.4l2.1 4.7l1.8 3.8l2 3.8l2.2 3.8l1.2 1.9zM593.8 132.8l0.2 0.1l1 0.1l1.9-0.1l0.9-0.2l3.4-0.8l4.3-1.5l3.8-1.4l3.8-1.4l10-3.3l3.4-1.1l3.9-1l4.8-1.3l6.1-1.4l7.3-1.6l12.4-2.4l32.5-5.5l12.7-1.9l3.6-0.6l3.8-0.6l3.9-0.6l4.8-0.7l7.6-1.2l1.9-0.3l8.6-1.5l4.8-0.8l7.7-1.4l8.6-1.5l8.6-1.7l7.7-1.3l0.9-0.2l1.9-0.4l7.7-1.7l5.7-1.1l1-0.2l0-42.3l-187 0l-2 3.8l-1.7 3.8l-1.7 4.1l-1.9 5.2l-1.6 5l-1.4 4.8l-1.6 5.7l-1.3 5.7l-1.4 6.6l-1.1 5.8l-0.9 5.7l-0.8 5.7l-0.5 4.7l-0.2 3.8l-0.1 2.9l0 1.9l0.2 1.9l0.4 1.9l0.3 1l0.5 0.9l0.9 1.1l0.9 0.5l0.8 0.3z"/>
<path fill="none" stroke="#000" stroke-width="1.4" d="M604.9 192.8l-1.3 0l-1 0M598.8 191.9l-1.9-0.1M610.6 191.8l-0.3 0.1l-2.1 0.1M595 190.9l-0.1 0M593.1 190l-0.2-0.1M591.2 189l-0.1 0M587.4 186.3l-3-3M583.5 181.4l-0.3-0.3M582.5 179.8l0-0.3l-0.3-0.4M581.6 178l-0.2-0.6M580.6 175.9l-0.1-0.2l0-1l-0.2-0.9l-0.4-0.7M579.6 172.4l-0.2-1.5l-0.1-1.9l0.1-1.9l0.2-1.4M579.9 164.9l0.4-0.7l0.2-0.9l0.1-1.2M581.4 160.6l0.1-0.2l0.1-0.4M582.2 158.9l0.3-0.4l0-0.3M583.2 156.8l0.3-0.2M584.4 154.7l3.4-3.3M591.1 149l0.1-0.1M592.9 148.1l0.1-0.1l0.2-0.1M594.8 147.1l0.2 0M611.7 146.6l0.5 0.3l1.4 0.2l0.5 0.4l1.9 0.6l1 0.5l0.9 0.2l1 0.2l0.9 0.3l5.8 1l3.8 1l4.8 1.3l3.8 0.7l3.9 0.5l3.8 0.3l6.7 0.3l17.2 0.9l8.6 0.6l9.6 0.9l7.7 0.8l6.7 0.9l6.7 1l9.5 1.9l7.7 2.1l5.9 2.6l4.4 2.9l-4.6 3l-5.9 2.7l-9.4 2.4l-5.7 1.1l-3.9 0.7l-7.6 1.1l-6.7 0.8l-5.8 0.6l-11.4 0.9l-6.7 0.5l-9 0.4M628.3 186.9l-1.8 0.4l-3.8 0.8l-3.8 0.7l-1 0.3l-0.9 0.2l-1 0.4l-0.3 0.2l-1.6 0.5l-0.7 0.5l-0.3 0.1l-0.9 0.1l-0.4 0.2M596.9 146.2l0-0.1l2 0M608.1 145.9l0.3 0.1l2.3 0.2M602.5 145.2l1.1 0l1.5 0M795 180.4l-7.7 1.5l-4.7 0.8l-16.7 2.5l-16.8 2l-14.4 1.4l-15.3 1.2l-9.6 0.7l-11.5 0.7l-15.3 0.7l-20.1 0.8l-9.6 0.4l-8.6 0.6l-17.2 1.3l-4.8 0.1l-4.8 0.1l-5.7-0.2l-4.8-0.2l-3.8-0.4l-2.9-0.4l-2.9-0.7l-2.8-1l-2-0.8l-1.9-1l-2.4-1.5l-1.4-1l-2.2-1.9l-3-2.8l-1.5-1.5l-1.4-1.4l-3.6-3.8l-1.3-1.9l-0.5-0.9l-0.4-1l-0.5-1.6l0-0.3l-0.1-0.9l-0.1-1l0.1-1l0.3-1.9l0.3-0.9l0.5-1.2l0.4-0.7l0.6-1l0.9-1.2l1.5-1.6l4.3-4.2l1.4-1.5l3.3-3l2.4-1.8l1.5-1l1.9-1l1.9-0.9l1.9-0.8l2.9-0.9l2.9-0.6l2.8-0.4l3.9-0.3l5.7-0.2l5.7-0.1l4.8 0.1l5.8 0.3l8.6 0.6l7.8 0.6M678.7 146l15.8 0.7l10.5 0.6l12.5 0.9l21 1.7l4.8 0.4l15.3 1.7l14.4 1.9l18.2 3l3.8 0.8M795 194.1l-16.3 1.2l-19.1 1.2l-15.3 0.9l-15.3 0.6l-11.5 0.4l-11.5 0.4l-18.2 0.3l-17.2 0.2l-34.5 0.1l-5.7-0.1l-5.8-0.2l-4.8-0.4l-4.7-0.6l-4.8-0.7l-4.8-0.8l-3.8-0.8l-3.9-1.1l-1.9-0.7l-3-1.2l-1.9-1l-1.8-0.9l-1.9-1.2l-7.7-4.9l-6.7-3.7l-0.9-0.7l-1.1-0.9l-0.9-1l-0.9-1l-0.9-1.5l-0.3-0.3l-0.8-1.9l-0.6-1.9l-0.2-1.9l0-2l0.2-1.9l0.6-1.9l0.9-1.9l1.1-1.7l0.1-0.2l0.9-1l0.9-0.9l1.1-0.9l1.8-1.3l1.9-1.1l4.8-2.6l2.9-1.8l4.8-3.1l2.8-1.6l1.9-1l2.2-0.9l1.7-0.6l3.8-1.1l4.8-1.1l3.8-0.7l4.8-0.7l4.8-0.6l4.8-0.4l4.8-0.3l6.7-0.2l10.5 0l35.4 0.4l21.1 0.4l16.2 0.5l20.1 0.7l26.8 1.4l12.5 0.8l14.3 1.1l2.9 0.2M795 204.5l-23.9 0.7l-17.3 0.4l-16.2 0.3l-17.3 0.1l-14.3-0.1l-18.2-0.2l-17.2-0.4l-15.3-0.5l-11.5-0.6l-7.7-0.5l-6.7-0.6l-5.7-0.7l-4.8-0.7l-4.8-0.9l-4.8-1.1l-5.7-1.5l-3.9-1.2l-3.9-1.3l-2.8-1.2l-2.8-1.2l-5-2.4l-2.7-1.1l-1.9-0.6l-1.9-0.4l-2.9-0.4l-3.8-0.5l-1.9-0.4l-1.9-0.6l-2-0.8l-1.9-1l-1.9-1.3l-0.9-0.8l-1-0.9l-1-1l-1.2-1.6l-1.1-1.9l-0.9-1.9l-0.6-2l-0.4-1.8l-0.2-1.9l0-2l0.2-1.9l0.5-1.9l0.6-1.9l0.9-1.9l1.1-1.9l1.1-1.5l1-1l1-0.9l0.9-0.8l1-0.7l1.9-1.2l1.9-0.9l1.9-0.7l1.9-0.5l2.2-0.3l7.4-1.2l2.3-0.7l1.5-0.7l2.9-1.3l3.8-1.8l3.9-1.6l4.7-1.7l5-1.5l3.7-1l4-0.9l3.6-0.8l4.8-0.8l4.8-0.7l5.7-0.6l6.7-0.6l7.7-0.4l10.5-0.5l13.4-0.4l16.3-0.4l16.3-0.2l18.1 0l21.1 0.2l20.1 0.3l17.2 0.4l16.3 0.5M795 215.1l-9.6 0l-40.2-0.4l-15.3-0.4l-23.9-0.9l-15.3-0.8l-21.1-1.3l-12.4-1l-10.6-1l-7.6-0.9l-6.7-0.9l-5.8-1l-5.7-1.1l-5.7-1.4l-4.8-1.3l-5.8-1.8l-6.9-2.4l-4.6-1.7l-3.2-1.1l-2.5-0.8l-1.9-0.4l-1.9-0.2l-1.9 0.1l-2 0.5l-2.2 0.8l-5.4 2.1l-2.9 1l-1.9 0.5l-2.9 0.5l-2.8 0.3l-2.9 0.1l-2.9-0.2l-1.9-0.3l-1.9-0.4l-1.9-0.5l-1.9-0.6l-2-0.7l-1.9-1l-1.9-1l-1.9-1.3l-1.8-1.4l-1.1-1l-1.9-1.9l-1.6-1.9l-1.3-1.9l-1.1-1.9l-1-1.9l-0.8-1.9l-0.7-1.9l-0.5-1.9l-0.4-1.9l-0.2-2.2l-0.2-1.6l0.2-4.2l0.3-2.5l0.4-1.9l0.5-1.9l0.7-1.9l0.9-2.2l1-1.9l1-1.6l1.3-1.9l1.5-1.9l1.9-2l2.1-1.8l1.8-1.3l1.9-1.3l1.9-1l1.9-0.9l1.9-0.7l1.9-0.6l1.9-0.5l2-0.4l1.9-0.2l1.9-0.2l1.9 0l1.9 0.1l1.9 0.2l2.9 0.5l2.3 0.6l1.5 0.4l2.9 1.1l4.8 1.9l1.9 0.5l1.9 0.3l1.9-0.1l1.9-0.2l2-0.6l2.8-0.9l3.9-1.5l2.8-1l3.9-1.4l7.6-2.4l4.8-1.4l4.8-1.2l5.7-1.2l4.9-0.9l5.7-0.8l6.7-0.9l10.5-1.1l11.5-0.9l14.3-1l9.6-0.5l17.2-0.8l19.2-0.7l17.2-0.5l15.3-0.3l20.1-0.3l10.5-0.1l7.7 0M795 229.8l-7.7-0.5l-11.4-0.7l-5.8-0.4l-8.6-0.6l-4.8-0.3l-34.4-2.9l-29.7-3l-26.8-3.3l-9.6-1.3l-11.5-1.9l-8.6-1.5l-5.7-1.3l-7.7-1.8l-6.7-2l-7.6-2.5l-11.5-4.1l-1.9-0.5l-2-0.5l-1.9-0.3l-0.9 0l-1 0.1l-0.9 0.2l-1.6 0.7l-0.4 0.2l-0.9 0.8l-1 1.1l-1.1 1.7l-1.1 1.9l-1.8 3.8l-3.7 7.6l-3 5.7l-2.7 4.8l-3.4 5.7l-2.4 3.8l-3.8 5.7l-4.1 5.7l-3.5 4.8l-5.1 6.6l-4.6 5.8l-4.8 5.7l-5 5.7l-4.3 4.7l-3 3.2l-1.6 1.6M523.3 50l4.3 4.8l4.2 4.8l7.1 8.5l5.5 6.7l7.5 9.1l8.6 11.1l4.8 6.6l3.8 5.7l3.4 5.5l1.7 2.9l2.6 4.7l3 5.8l2.4 4.7l1.3 2.3l0.9 1.3l0.2 0.2l0.9 1l1.2 0.9l0.6 0.3l1 0.4l0.9 0.2l1 0.1l1.9-0.2l1.9-0.3l1.9-0.5l5.5-1.9l7-2.5l8.6-2.8l7.6-2.2l7.7-1.8l8.6-1.7l8.1-1.3l7.2-1.1l7.7-1.1l15.3-1.8l6.8-0.8l12.3-1.3l16.3-1.5l5.7-0.6l4.8-0.4l2.9-0.2l7.7-0.7l2.8-0.2l7.7-0.6l7.6-0.7l6.7-0.5l3.9-0.3l12.4-0.9l4.8-0.3l8.6-0.6l4.8-0.3"/>
<ellipse cx="603.6" cy="169.0" rx="25.2" ry="25.1" fill="#fff"/>
<text transform="translate(643.9 184.0) rotate(-6.1)" text-anchor="middle" y="4.9" font-size="20.8px">0.0</text>
<text transform="translate(662.8 145.3) rotate(-357.3)" text-anchor="middle" y="4.9" font-size="20.8px">0.2</text>
</g>
<rect x="460" y="50" width="335" height="238" fill="none" stroke="#000" stroke-width="2"/>
<text x="627.5" y="34.6" text-anchor="middle">PINN, steady</text>
<g clip-path="url(#c02)">
<rect x="822" y="50" width="334" height="238" fill="#002a5f"/>
<path fill="#1a386f" fill-rule="evenodd" d="M822 288l334 0l0-238l-334 0l0 238zM965.1 192.8l-0.2 0l-0.7-0.7l-1-0.2l-2.8 0l-1.1-0.1l-0.8-0.9l-0.6 0l-0.2-1.9l0.1-1.9l0.2-1.9l0.5-2.1l0.4-1.7l1.1-2.9l1.7-3.8l0.6-0.9l0.4-1l0.6-0.9l0.4-1l0.5-0.5l0.1-0.4l-0.1-0.3l-0.6 0.3l-0.4 0.3l-1.3 0.6l-0.6 0.4l-1 0.6l-6.9 4.7l-5.4 4.4l-1 0.8l-0.9-0.1l-0.4-0.3l-0.6-0.5l-0.1-0.5l-0.9-0.9l-0.1-1l-0.8-0.8l0-0.1l-0.1-1l-0.9-0.9l-0.1-1.9l-0.3-1l-0.5-0.9l-0.3-1.9l0-2l0.3-2.1l0.5-0.7l0.2-1l0.2-2l0.9-0.8l0.1-1.2l0.7-0.7l0.2-1.2l0.8-0.7l0.2-1l0.9-0.9l0.1-0.8l0.1-0.2l3-2.8l1.6-1.4l0.6-0.5l0.4-0.1l0.9-0.9l1-0.1l0.9-0.9l1 0l1-0.9l0.9 0l1-0.9l3.8-0.1l0.9-0.1l1.1-0.8l1.9 0l0.9 0.6l0.9 0.2l2.9 0.1l1.1 0.1l0.8 0.7l1.9 0.2l0.9 0.7l1.2 0.3l0.7 0.6l1.2 0.3l0.8 0.5l0.9 0.2l2.9 0.3l4.7 1l5.8 1.6l3.8 0.9l3.8 0.5l3.8 0.4l6.7 0.3l8.6 0.3l12.4 0.7l5.7 0.4l8.6 0.8l6.7 0.7l6.7 0.9l7.6 1.1l8.8 1.8l7.4 2l4.8 2.2l1.2 0.5l4.3 2.9l-4.5 3l-5.8 2.5l-0.9 0.4l-8.6 2.2l-7.6 1.4l-5.8 0.9l-5.7 0.8l-7.6 0.8l-8.6 0.8l-7.7 0.6l-11.4 0.6l-18.1 0.9l-3.1 0.3l-2.7 0.5l-2.8 0.6l-1.9 0.6l-1.9 0.5l-3.9 1l-3.8 0.6l-2.8 0.2l-1 0.4l-0.4 0.4l-0.6 0.1l-0.9 0.8l-1 0.1l-0.9 0.4l-0.5 0.5l-1.4 0.1l-1 0.9l-3.8 0l-0.9 0.1l-1 0.3l-0.6 0.5l-0.4 0zM963.7 168l0.5 0.2l0.1-0.2l-0.1-0.3l-0.5 0.3zM962.3 167.1l0.9 0.4l0.3-0.4l-0.3-0.6l-0.4-0.4l-0.5-0.7l-0.3-0.2l-0.7-0.7l-0.9-0.6l-0.5 0.3l0.5 1l0.9 1l1 0.9z"/>
<path fill="#38476c" fill-rule="evenodd" d="M822 288l334 0l0-238l-334 0l0 238zM960.4 192.9l-2.9-0.8l-1.9-0.7l-1.9-1l-2.4-1.4l-1.4-1.1l-1.9-1.6l-1.2-1.1l-1.8-1.9l-2.2-2.9l-2.5-3.4l-0.9-1.3l-1.1-1.9l-0.8-1.9l-0.2-1l-0.2-0.9l0-1l0-1l0.2-0.9l0.2-1l0.7-1.9l1.2-1.9l1.3-1.9l4.4-5.8l1.6-1.8l2.2-2l2.4-1.8l1.5-0.9l1.8-1l1-0.5l4.3-1.4l1.4-0.3l1.9-0.3l2.9-0.3l2.9 0l3.8 0.2l10.5 0.8l5.7 0.7l4.8 0.7l8.6 1.3l6.6 0.7l6.7 0.5l9.6 0.5l22.9 1.3l17.1 1.4l10.5 1l11.8 1.3l15.9 2.4l9.6 1.8l11.4 3l6.7 2.6l1.9 0.9l6 3.6l-7 4l-6.6 2.7l-2.5 0.9l-9.9 2.4l-2 0.5l-17.1 2.8l-11.5 1.6l-13.3 1.4l-9.7 0.8l-11.3 0.9l-12.4 0.7l-22.9 1.3l-6.7 0.6l-5.7 0.7l-5.8 0.8l-8.6 1.3l-4.7 0.4l-11.5 0.8l-2.8 0.1l-2.9-0.2l-1.9-0.2l-1.9-0.4z"/>
<path fill="#4d556c" fill-rule="evenodd" d="M822 288l334 0l0-108.4l-11.5 2.4l-5.7 0.9l-12.4 1.9l-16.2 2l-15.3 1.5l-20 1.7l-11.5 0.7l-15.2 0.8l-18.2 0.8l-16.2 0.8l-7.6 0.4l-19.1 1.5l-4.8 0.1l-4.8 0l-5.7-0.2l-3.8-0.2l-2.9-0.3l-2.8-0.4l-2.9-0.7l-2.8-1l-2-0.8l-1.9-1l-2.4-1.5l-1.4-1l-2.2-1.9l-3-2.8l-1.5-1.5l-1.3-1.4l-3.7-3.8l-1.3-1.9l-0.4-0.9l-0.4-1l-0.5-1.6l0-0.3l-0.2-0.9l0-1l0-1l0.4-1.9l0.2-0.9l0.6-1.2l0.3-0.7l0.6-1l1-1.2l1.4-1.6l4.3-4.2l1.5-1.5l3.3-3l2.3-1.8l1.5-1l1.9-1l1.9-0.9l1.9-0.8l2.9-0.9l2.8-0.6l2.9-0.3l3.8-0.4l5.7-0.2l5.8 0l4.7 0.1l5.8 0.3l7.6 0.6l9.5 0.8l9.8 0.5l44.6 2.1l11.5 0.7l15.3 1.2l12.4 1.2l14.3 1.5l15.2 2l16.3 2.7l7.6 1.7l0-108.3l-334 0l0 238z"/>
<path fill="#61656f" fill-rule="evenodd" d="M822 288l334 0l0-100.2l-21.9 2.3l-21 1.8l-13.4 1l-16.2 1l-13.4 0.7l-20 0.8l-13.4 0.4l-26.7 0.7l-20 0.6l-4.8 0l-4.8-0.2l-4.8-0.3l-5.7-0.6l-3.8-0.6l-2.9-0.5l-2.8-0.7l-2.9-0.9l-2.9-1.2l-2.8-1.5l-2.6-1.6l-2.6-1.9l-5.3-4.2l-3.8-2.9l-1-0.8l-0.9-0.9l-1-1l-0.9-1.3l-0.3-0.3l-0.7-1.3l-0.3-0.6l-0.3-1l-0.5-1.9l-0.1-0.9l0-2l0.3-1.9l0.3-0.9l0.6-1.6l0.1-0.3l0.9-1.4l0.9-1.2l1-1.1l0.9-0.8l1-0.8l1.7-1.4l1.3-0.9l2.7-2.1l4.8-3.7l2.6-1.8l2.1-1.3l1.9-1l2.9-1.1l2.9-0.9l2.8-0.7l2.9-0.6l3.8-0.5l5.9-0.6l4.6-0.3l4.8-0.2l4.8-0.1l6.6 0.2l38.2 1.2l14.3 0.4l22 0.9l20 1l13.4 0.9l10.5 0.8l11.4 0.9l18.1 1.8l11.5 1.2l0-100.1l-334 0l0 238z"/>
<path fill="#737475" fill-rule="evenodd" d="M822 288l334 0l0-94.2l-18.1 1.4l-20.1 1.2l-16.2 0.9l-14.3 0.6l-15.3 0.5l-19.1 0.5l-17.1 0.2l-36.3 0.3l-7.6-0.1l-5.8-0.3l-4.7-0.4l-4.8-0.5l-4.8-0.7l-4.7-0.8l-3.9-0.9l-3.8-1l-1.9-0.7l-2.9-1.2l-2-1l-1.8-0.9l-1.9-1.2l-7.6-4.9l-6.7-3.8l-0.9-0.7l-1.1-0.8l-0.9-1l-0.9-1.1l-1-1.4l-0.2-0.3l-0.8-1.9l-0.6-1.9l-0.3-1.9l0-2l0.3-1.9l0.5-1.9l0.9-1.9l0.6-0.9l0.7-1l0.8-1l1-0.9l1-0.9l1.9-1.3l1.9-1.1l4.7-2.6l2.9-1.8l4.8-3.1l2.8-1.6l1.9-0.9l2.2-1l1.7-0.6l2.8-0.9l3.8-0.9l4.8-0.9l4.8-0.8l5.1-0.6l4.4-0.4l4.8-0.3l5.7-0.2l7.7 0l14.3 0.1l33.4 0.4l18.4 0.4l18.8 0.6l22.9 1l18.1 1l20.1 1.4l7.6 0.6l0-94.1l-334 0l0 238z"/>
<path fill="#868379" fill-rule="evenodd" d="M822 288l334 0l0-88.8l-17.2 0.9l-19.1 0.8l-18.1 0.6l-15.3 0.4l-19 0.3l-19.1 0.1l-17.2-0.1l-17.2-0.2l-12.4-0.3l-7.6-0.3l-5.8-0.4l-5.1-0.6l-4.4-0.6l-4.8-0.8l-4.7-1l-4.8-1.1l-4.2-1.2l-1.5-0.5l-3.6-1.4l-1.2-0.6l-3.8-2l-5.8-3.2l-2.1-0.9l-1.7-0.7l-6.6-2.4l-2-0.9l-1.9-1.3l-0.9-0.7l-1-0.9l-0.9-1.1l-1-1.2l-0.8-1.3l-0.9-1.9l-0.6-1.9l-0.3-1.9l-0.1-1.9l0.1-1.9l0.3-1.9l0.6-1.9l0.9-1.9l0.8-1.3l1-1.3l0.9-1l1-0.9l0.9-0.8l1-0.6l1.9-1.1l1.9-0.9l2.9-1l3.8-1.3l1.9-0.8l2.6-1.4l2.2-1.2l3.8-2.1l3.8-1.8l2.9-1.1l3.8-1.2l4.8-1.2l4.7-1.1l4.8-0.8l4.8-0.8l4.7-0.5l5.8-0.5l5.7-0.3l7.6-0.2l12.4-0.3l17.2-0.1l17.2-0.1l16.2 0.1l16.2 0.3l16.3 0.3l20 0.7l16.2 0.7l16.2 0.8l2.9 0.1l0-88.7l-334 0l0 238z"/>
<path fill="#9b9476" fill-rule="evenodd" d="M822 288l334 0l0-83.7l-20 0.6l-21 0.5l-16.3 0.3l-17.1 0.1l-16.3-0.1l-17.1-0.1l-16.3-0.4l-14.3-0.5l-11.4-0.5l-8.6-0.5l-6.7-0.6l-5.7-0.7l-5.7-0.9l-5.3-1.1l-3.3-0.7l-5.8-1.5l-3.8-1.2l-4.7-1.7l-2.9-1.2l-9.1-4.2l-1.4-0.5l-1.9-0.5l-2.9-0.4l-4.7-0.7l-2-0.4l-1.9-0.6l-1.9-0.7l-1.9-1l-1.9-1.3l-0.9-0.8l-1-0.9l-1-1l-1.2-1.6l-1.2-1.9l-0.9-1.9l-0.6-1.9l-0.4-1.9l-0.2-1.9l0-2l0.2-1.9l0.4-1.9l0.6-1.9l0.9-1.9l1.1-1.9l1.3-1.7l1.1-1.1l1.8-1.6l1-0.7l1.9-1.1l1.9-0.9l1.9-0.6l1.9-0.5l2.9-0.5l5.7-0.8l1.9-0.5l1.9-0.6l2.9-1.3l7.6-3.5l2.9-1.2l3.8-1.2l5.7-1.7l4.8-1.1l4.7-1.1l4.8-0.8l4.8-0.7l5.7-0.6l6.7-0.5l7.6-0.5l10.5-0.4l14.3-0.5l16.3-0.3l17.1-0.2l16.3-0.1l16.2 0.1l19.1 0.2l19.1 0.5l16.2 0.5l3.8 0.1l0-83.6l-334 0l0 238z"/>
<path fill="#b0a571" fill-rule="evenodd" d="M822 288l334 0l0-78.5l-30.5 0.4l-19.1 0l-30.6-0.3l-20-0.5l-16.2-0.6l-14.3-0.7l-11.5-0.6l-10.5-0.9l-7.6-0.7l-5.7-0.7l-4.8-0.8l-4.8-0.9l-4.8-1l-4.7-1.2l-5.2-1.5l-3.4-1.1l-3.8-1.4l-6.7-2.6l-3.9-1.6l-2.8-0.9l-1.9-0.3l-1.9-0.1l-1.9 0.1l-3.8 0.4l-2.9 0.2l-1.9 0l-1.9 0l-2.4-0.4l-1.4-0.2l-2.4-0.7l-1.5-0.5l-1.9-0.9l-1.9-1.1l-0.9-0.6l-1.9-1.5l-1.2-1.1l-1.8-1.9l-1.4-1.9l-1.1-1.9l-0.9-1.9l-0.7-1.9l-0.5-1.9l-0.3-1.9l-0.2-1.9l0-2.9l0.3-1.9l0.4-1.9l0.7-2.2l0.7-1.6l0.9-1.9l1.3-1.9l1.5-1.9l1.3-1.4l1.8-1.5l1.3-0.9l1.7-1.1l1.9-1l2-0.8l1.8-0.5l1.9-0.5l1.9-0.3l1.9-0.1l1.9 0l2.9 0.2l5.7 0.6l1.9-0.1l1.9-0.2l2-0.4l1.9-0.6l4.7-2l3.9-1.5l6.6-2.4l4.8-1.5l6.7-1.8l4.8-1.1l5.7-1.1l5.7-0.8l6.7-0.8l7.6-0.7l9.6-0.7l11.4-0.7l13.4-0.6l17.2-0.6l21.9-0.5l19.1-0.3l17.2-0.1l30.5 0.2l10.5 0.2l0-78.4l-334 0l0 238z"/>
<path fill="#c6b667" fill-rule="evenodd" d="M822 288l334 0l0-73l-25.8-0.1l-17.1-0.3l-32.5-0.9l-22.3-0.9l-12-0.6l-14.4-0.9l-12.4-1l-10.5-0.9l-8.5-1l-6.7-0.9l-5.8-1l-5.7-1.1l-5.7-1.4l-4.8-1.3l-6.7-2.1l-10.5-3.8l-3-1.1l-3.2-1l-1.4-0.3l-1.9-0.2l-1.9 0.2l-1.9 0.4l-2.6 0.9l-4.1 1.6l-3.6 1.2l-1.2 0.3l-1.9 0.5l-2.8 0.4l-1.9 0.2l-2.9 0.1l-2.9-0.2l-2.8-0.4l-1.9-0.4l-2-0.6l-2.4-0.8l-2.2-1l-2-1l-1.9-1.2l-2.3-1.6l-1.6-1.3l-1.5-1.6l-1.8-1.9l-1.4-1.9l-1.3-1.9l-1-1.9l-0.9-1.9l-0.8-1.9l-0.6-1.9l-0.6-2.8l-0.3-1.9l-0.1-1l0-3.8l0.3-2.9l0.4-1.9l0.5-1.9l0.6-1.9l0.9-2.1l1-1.9l1-1.7l1.3-1.9l1.6-1.9l1.8-1.9l2.1-1.9l1.7-1.3l2.5-1.6l2.3-1.1l1.9-0.9l2.3-0.8l2.5-0.7l1.9-0.4l2.8-0.4l2.9-0.2l2.9 0.1l1.9 0.2l1.9 0.3l2.8 0.6l2.9 0.9l2.9 1l4.7 1.9l1.9 0.6l1.9 0.3l2 0l1.9-0.3l1.9-0.6l2.8-0.9l4.8-1.8l7.1-2.5l3.4-1.1l4.8-1.5l6.7-1.8l4.7-1l5.8-1.1l6.6-1l6.7-0.9l9.6-0.9l13.3-1.1l12.4-0.9l9.6-0.5l17.1-0.9l22.9-0.9l14.4-0.4l24.8-0.6l11.4-0.1l17.2-0.1l0-72.8l-334 0l0 238z"/>
<path fill="#dec958" fill-rule="evenodd" d="M822 288l334 0l0-66.6l-9.5-0.2l-7.7-0.3l-7.6-0.2l-8.6-0.4l-6.7-0.3l-18.1-0.8l-7.6-0.4l-31.5-2l-23.9-1.9l-9.5-0.9l-13.4-1.5l-7.6-1l-6.7-1.1l-5.7-1l-5.8-1.2l-5.7-1.4l-4.8-1.3l-7-2.2l-3.5-1.2l-12.4-4.3l-1.9-0.5l-1.9-0.2l-0.9 0l-1 0l-0.9 0.2l-1 0.3l-1.9 0.9l-1 0.6l-0.9 0.7l-1.9 1.6l-3.8 3.2l-3.3 2.5l-1.5 1l-2.9 1.8l-2.8 1.6l-3.9 1.8l-2.8 1.2l-3.6 1.1l-2.1 0.6l-2.9 0.7l-2.9 0.5l-2.8 0.4l-2.9 0.2l-2.9 0.1l-2.8 0l-2.9-0.2l-3.1-0.3l-2.6-0.5l-2.9-0.6l-3.2-0.9l-2.9-0.9l-2.5-1l-2.8-1.2l-3.1-1.6l-3.2-1.9l-2.8-1.9l-2.4-1.9l-2.8-2.5l-1.9-1.8l-2.2-2.4l-1.7-1.9l-2-2.8l-1.9-2.9l-1.6-2.9l-1.4-2.8l-0.8-1.9l-1-2.9l-0.9-2.8l-0.6-2.9l-0.4-2.8l-0.1-3.9l-0.2-1.9l0.1-2.8l0.4-2.9l0.6-2.8l0.5-1.9l0.7-2.5l1-2.4l1.3-2.7l1.6-2.9l1.9-2.9l1.9-2.5l1.9-2.2l1.9-2l2-1.8l2.8-2.3l2.8-2.1l2.9-1.8l2.9-1.6l2.8-1.4l3.1-1.3l3.6-1.3l2.9-0.8l3.1-0.8l3.5-0.6l2.9-0.4l3.8-0.3l2.9 0l2.9 0.1l2.8 0.2l2.9 0.3l2.8 0.5l2.9 0.7l2.9 0.8l2.8 0.9l2.9 1.1l3.2 1.5l2.5 1.3l2.9 1.7l2.8 1.9l2.9 2.2l4.8 4.1l1.4 1.2l1.4 1.1l1.2 0.8l1.7 0.8l1 0.3l0.9 0.2l1 0.1l1.9-0.2l1.9-0.3l3.8-1.1l10.5-3.8l3.8-1.3l5.7-1.8l5.5-1.5l3.1-0.7l6.7-1.5l5.7-1l6.7-1.1l8.6-1.1l9.5-1.1l11.5-1.1l9.5-0.9l13.3-1l23-1.6l31.5-1.7l7.6-0.4l7.7-0.2l6.6-0.3l8.6-0.3l15.3-0.5l0-66.4l-334 0l0 238z"/>
<path fill="#f6dd3f" fill-rule="evenodd" d="M878.4 288l277.6 0l0-58.4l-10.5-0.5l-34.4-2.7l-6.6-0.5l-5.8-0.5l-6.6-0.6l-13.4-1.2l-12.4-1.1l-14.3-1.5l-20.1-2.3l-20-2.9l-11.4-1.9l-8.6-1.8l-7.7-1.9l-7.6-2.2l-4.8-1.6l-11.4-4.1l-3.8-1.2l-2-0.5l-1.1-0.2l-1.7-0.1l-1.3 0.1l-0.6 0.1l-1 0.4l-0.9 0.5l-1.2 0.9l-0.8 1l-1.3 1.9l-1.6 2.8l-6 11.5l-2.5 4.2l-3.8 6l-4.8 6.9l-3.8 5l-4.8 5.9l-6.2 7.2l-3.4 3.8l-5.6 6.1l-8 8.2l-5.4 5.4l-7.6 7.2l-2.8 2.6zM951.5 137.6l0.9 0l1.3-0.1l1.9-0.4l1.9-0.5l5.5-1.9l6.9-2.5l8.6-2.8l7.6-2.2l7.7-1.8l7.6-1.5l6.7-1.2l7.6-1.2l15.3-2l5.7-0.7l33.4-3.6l6.7-0.7l7.7-0.7l3.7-0.4l5.8-0.5l4.7-0.4l6.7-0.6l5.7-0.5l5.8-0.5l21-1.6l2.8-0.2l6.7-0.5l7.6-0.4l1-0.1l0-58.1l-275.7 0l6.4 5.7l4 3.7l7.6 7.2l6.2 6.2l3.6 3.9l3.6 3.9l4 4.6l3.8 4.8l3.7 4.8l3.3 4.7l2.5 3.8l3 4.8l2.7 4.7l2.8 5.1l3.6 7.3l3.8 7.6l1.3 1.9l0.9 1l1.2 0.9l0.6 0.4l1 0.3l0.9 0.2l0.7 0.1z"/>
<path fill="#fee838" fill-rule="evenodd" d="M967.9 287l0.5 1l187.6 0l0-42.6l-2.9-0.5l-5.7-0.9l-8.5-1.7l-6.8-1.3l-6.6-1.1l-6.7-1.3l-1.9-0.4l-11.5-1.9l-4.7-0.8l-6.7-1.1l-5.8-1l-4.1-0.6l-6.4-1l-3.8-0.7l-3.8-0.6l-3.8-0.6l-3.8-0.6l-4.8-0.8l-7.6-1.2l-9.6-1.6l-20-3.6l-11.5-2.3l-12.4-2.8l-7.6-2.1l-10.5-3.3l-3.8-1.3l-6.1-2.3l-7.3-2.4l-1.9-0.5l-1.9-0.3l-0.9 0l-1 0.1l-1 0.3l-0.9 0.5l-0.5 0.4l-0.8 1l-0.6 1.5l-0.1 0.4l-0.4 1.9l-0.2 1.9l-0.1 2.8l0.1 3.9l0.4 4.7l0.6 5.7l0.8 5.7l0.9 5.8l1 5.7l1.3 5.7l1.4 6l1.2 4.4l1.8 5.8l1.8 5.1l1.7 4.4l1.6 3.8l1.8 3.8l0.5 0.9zM955.3 132.8l0.3 0.1l1 0.1l1.9-0.1l0.9-0.1l3.4-0.9l4.3-1.5l3.8-1.4l3.8-1.4l9.9-3.3l3.4-1.1l3.9-1l4.7-1.3l8.6-2l8.6-1.8l7.6-1.4l21-3.7l3.9-0.6l15.2-2.6l4.8-0.8l4.8-0.7l2.8-0.6l5.8-0.9l4.7-0.9l4.8-0.8l2.9-0.4l8.6-1.6l4.7-0.8l9.4-1.8l5.5-0.9l3.3-0.7l9.5-1.8l5.7-1l6.7-1.5l7.6-1.4l2.9-0.5l0-41.7l-173.9 0l-3.6 4.3l-3.4 4.3l-2.3 3.2l-3 4.4l-2.3 3.8l-1.7 2.8l-2 3.9l-1.8 3.8l-1.6 3.8l-1.5 3.8l-1.6 4.7l-1.5 4.8l-1.2 4.6l-1 4.9l-0.9 4.8l-0.6 3.8l-0.4 3.8l-0.2 2.9l0 2.8l0.2 1.9l0.3 1.9l0.3 1l0.5 0.9l0.9 1.1l0.9 0.6l0.7 0.2z"/>
<path fill="none" stroke="#000" stroke-width="1.4" d="M965.5 192.8l-0.6 0M960.4 191.9l-1.1-0.1M971.9 191.8l-0.1 0.1l-1.9 0M974.2 190.9l-0.5 0.1M976.6 189.9l-1 0.1l-0.4 0.4M978.1 189l-0.6 0.1l-0.9 0.8M944.1 179.5l0-0.1M943.2 177.7l-0.1-0.2M942.2 175.8l0-0.1l-0.1-1.9l-0.3-0.4M941.3 172l-0.2-1.1l-0.1-1.9l0.1-1.9l0.2-1.2M941.8 164.7l0.2-0.5l0.2-2M943.1 160.5l0-0.1l0.1-0.2M943.9 158.7l0.2-0.2l0-0.2M945 156.7l0.1-0.1M952.7 149M954.6 148.1l0.1-0.1M956.5 147.1l0.1 0M973.5 146.9l0.2 0.1l1 0.1l0.9 0.7l1.2 0.3l0.7 0.6l1.2 0.3l0.8 0.5l0.9 0.2l2.9 0.3l4.7 1l5.8 1.6l3.8 0.9l3.8 0.5l3.8 0.4l6.7 0.3l8.6 0.3l12.4 0.7l5.7 0.4l8.6 0.8l6.7 0.7l6.7 0.9l7.6 1.1l8.8 1.8l7.4 2l4.8 2.2l1.2 0.5l4.3 2.9l-4.5 3l-3.8 1.7M1055.4 180.2l-7.2 0.8l-8.6 0.8l-7.7 0.6l-11.4 0.6l-18.1 0.9l-3.1 0.3l-2.7 0.5l-2.8 0.6l-1.9 0.6l-1.9 0.5l-3.9 1l-3.8 0.6l-2.8 0.2l-0.6 0.4M958.5 146.2l1.9-0.1M969.8 146l0.1 0.1l2.1 0.1M964.3 145.2l1.9 0M1156 179.6l-11.5 2.4l-5.7 0.9l-12.4 1.9l-16.2 2l-15.3 1.5l-20 1.7l-11.5 0.7l-15.2 0.8l-18.2 0.8l-16.2 0.8l-7.6 0.4l-19.1 1.5l-4.8 0.1l-4.8 0l-5.7-0.2l-3.8-0.2l-2.9-0.3l-2.8-0.4l-2.9-0.7l-2.8-1l-2-0.8l-1.9-1l-2.4-1.5l-1.4-1l-2.2-1.9l-3-2.8l-1.5-1.5l-1.3-1.4l-3.7-3.8l-1.3-1.9l-0.4-0.9l-0.4-1l-0.5-1.6l0-0.3l-0.2-0.9l0-1l0-1l0.4-1.9l0.2-0.9l0.6-1.2l0.3-0.7l0.6-1l1-1.2l1.4-1.6l4.3-4.2l1.5-1.5l3.3-3l2.3-1.8l1.5-1l1.9-1l1.9-0.9l1.9-0.8l2.9-0.9l2.8-0.6l2.9-0.3l3.8-0.4l5.7-0.2l5.8 0l4.7 0.1l5.8 0.3l7.6 0.6l8.1 0.7M1039.5 146.1l15.3 0.7l11.5 0.7l21 1.5l14.3 1.3l16.2 1.8l14.3 1.8l16.3 2.7l7.6 1.7M1156 193.8l-18.1 1.4l-20.1 1.2l-7 0.4M1079 198.2l-15.6 0.4l-18.1 0.4l-21 0.2l-25.8 0.2l-6.6-0.1l-5.8-0.3l-4.7-0.4l-4.8-0.5l-4.8-0.7l-4.7-0.8l-3.9-0.9l-3.8-1l-1.9-0.7l-2.9-1.2l-2-1l-1.8-0.9l-1.9-1.2l-7.6-4.9l-6.7-3.8l-0.9-0.7l-1.1-0.8l-0.9-1l-0.9-1.1l-1-1.4l-0.2-0.3l-0.8-1.9l-0.6-1.9l-0.3-1.9l0-2l0.3-1.9l0.5-1.9l0.9-1.9l0.6-0.9l0.7-1l0.8-1l1-0.9l1-0.9l1.9-1.3l1.9-1.1l4.7-2.6l2.9-1.8l4.8-3.1l2.8-1.6l1.9-0.9l2.2-1l1.7-0.6l2.8-0.9l3.8-0.9l4.8-0.9l4.8-0.8l5.1-0.6l4.4-0.4l4.8-0.3l5.7-0.2l7.7 0l14.3 0.1l33.4 0.4l18.4 0.4l18.8 0.6l22.9 1l18.1 1l20.1 1.4l7.6 0.6M1156 204.3l-20 0.6l-21 0.5l-16.3 0.3l-17.1 0.1l-16.3-0.1l-17.1-0.1l-16.3-0.4l-14.3-0.5l-11.4-0.5l-8.6-0.5l-6.7-0.6l-5.7-0.7l-5.7-0.9l-5.3-1.1l-3.3-0.7l-5.8-1.5l-3.8-1.2l-4.7-1.7l-2.9-1.2l-9.1-4.2l-1.4-0.5l-1.9-0.5l-2.9-0.4l-4.7-0.7l-2-0.4l-1.9-0.6l-1.9-0.7l-1.9-1l-1.9-1.3l-0.9-0.8l-1-0.9l-1-1l-1.2-1.6l-1.2-1.9l-0.9-1.9l-0.6-1.9l-0.4-1.9l-0.2-1.9l0-2l0.2-1.9l0.4-1.9l0.6-1.9l0.9-1.9l1.1-1.9l1.3-1.7l1.1-1.1l1.8-1.6l1-0.7l1.9-1.1l1.9-0.9l1.9-0.6l1.9-0.5l2.9-0.5l5.7-0.8l1.9-0.5l1.9-0.6l2.9-1.3l7.6-3.5l2.9-1.2l3.8-1.2l5.7-1.7l4.8-1.1l4.7-1.1l4.8-0.8l4.8-0.7l5.7-0.6l6.7-0.5l7.6-0.5l10.5-0.4l14.3-0.5l16.3-0.3l17.1-0.2l16.3-0.1l16.2 0.1l19.1 0.2l19.1 0.5l16.2 0.5l3.8 0.1M1156 215l-25.8-0.1l-17.1-0.3l-32.5-0.9l-22.3-0.9l-12-0.6l-14.4-0.9l-12.4-1l-10.5-0.9l-8.5-1l-6.7-0.9l-5.8-1l-5.7-1.1l-5.7-1.4l-4.8-1.3l-6.7-2.1l-10.5-3.8l-3-1.1l-3.2-1l-1.4-0.3l-1.9-0.2l-1.9 0.2l-1.9 0.4l-2.6 0.9l-4.1 1.6l-3.6 1.2l-1.2 0.3l-1.9 0.5l-2.8 0.4l-1.9 0.2l-2.9 0.1l-2.9-0.2l-2.8-0.4l-1.9-0.4l-2-0.6l-2.4-0.8l-2.2-1l-2-1l-1.9-1.2l-2.3-1.6l-1.6-1.3l-1.5-1.6l-1.8-1.9l-1.4-1.9l-1.3-1.9l-1-1.9l-0.9-1.9l-0.8-1.9l-0.6-1.9l-0.6-2.8l-0.3-1.9l-0.1-1l0-3.8l0.3-2.9l0.4-1.9l0.5-1.9l0.6-1.9l0.9-2.1l1-1.9l1-1.7l1.3-1.9l1.6-1.9l1.8-1.9l2.1-1.9l1.7-1.3l2.5-1.6l2.3-1.1l1.9-0.9l2.3-0.8l2.5-0.7l1.9-0.4l2.8-0.4l2.9-0.2l2.9 0.1l1.9 0.2l1.9 0.3l2.8 0.6l2.9 0.9l2.9 1l4.7 1.9l1.9 0.6l1.9 0.3l2 0l1.9-0.3l1.9-0.6l2.8-0.9l4.8-1.8l7.1-2.5l3.4-1.1l4.8-1.5l6.7-1.8l4.7-1l5.8-1.1l6.6-1l6.7-0.9l9.6-0.9l13.3-1.1l12.4-0.9l9.6-0.5l17.1-0.9l22.9-0.9l14.4-0.4l24.8-0.6l11.4-0.1l17.2-0.1M1156 229.6l-10.5-0.5l-34.4-2.7l-6.6-0.5l-5.8-0.5l-6.6-0.6l-13.4-1.2l-12.4-1.1l-14.3-1.5l-20.1-2.3l-20-2.9l-11.4-1.9l-8.6-1.8l-7.7-1.9l-7.6-2.2l-4.8-1.6l-11.4-4.1l-3.8-1.2l-2-0.5l-1.1-0.2l-1.7-0.1l-1.3 0.1l-0.6 0.1l-1 0.4l-0.9 0.5l-1.2 0.9l-0.8 1l-1.3 1.9l-1.6 2.8l-6 11.5l-2.5 4.2l-3.8 6l-4.8 6.9l-3.8 5l-4.8 5.9l-6.2 7.2l-3.4 3.8l-5.6 6.1l-8 8.2l-5.4 5.4l-7.6 7.2l-2.8 2.6M880.3 50l6.4 5.7l4 3.7l7.6 7.2l6.2 6.2l3.6 3.9l3.6 3.9l4 4.6l3.8 4.8l3.7 4.8l3.3 4.7l2.5 3.8l3 4.8l2.7 4.7l2.8 5.1l3.6 7.3l3.8 7.6l1.3 1.9l0.9 1l1.2 0.9l0.6 0.4l1 0.3l0.9 0.2l1.6 0.1l1.3-0.1l1.9-0.4l1.9-0.5l5.5-1.9l6.9-2.5l8.6-2.8l7.6-2.2l7.7-1.8l7.6-1.5l6.7-1.2l7.6-1.2l15.3-2l5.7-0.7l33.4-3.6l6.7-0.7l7.7-0.7l3.7-0.4l5.8-0.5l4.7-0.4l6.7-0.6l5.7-0.5l5.8-0.5l21-1.6l2.8-0.2l6.7-0.5l7.6-0.4l1-0.1"/>
<ellipse cx="965.1" cy="169.0" rx="25.2" ry="25.1" fill="#fff"/>
<text transform="translate(1071.1 177.8) rotate(-11.2)" text-anchor="middle" y="4.9" font-size="20.8px">0.0</text>
<text transform="translate(1023.6 145.4) rotate(-357.3)" text-anchor="middle" y="4.9" font-size="20.8px">0.2</text>
<text transform="translate(1094.9 197.6) rotate(-2.5)" text-anchor="middle" y="4.9" font-size="20.8px">0.4</text>
</g>
<rect x="822" y="50" width="334" height="238" fill="none" stroke="#000" stroke-width="2"/>
<text x="989.0" y="34.6" text-anchor="middle">PINN, unsteady</text>
<path fill="#00224e" d="M302.2 318.1L269.1 323.85L302.2 329.6z"/>
<path fill="#fee838" d="M952.5 318.1L985.6 323.85L952.5 329.6z"/>
<rect x="301.70" y="318.1" width="54.77" height="11.5" fill="#002a5f"/>
<rect x="355.97" y="318.1" width="54.78" height="11.5" fill="#1a386f"/>
<rect x="410.25" y="318.1" width="54.77" height="11.5" fill="#38476c"/>
<rect x="464.52" y="318.1" width="54.77" height="11.5" fill="#4d556c"/>
<rect x="518.80" y="318.1" width="54.78" height="11.5" fill="#61656f"/>
<rect x="573.08" y="318.1" width="54.77" height="11.5" fill="#737475"/>
<rect x="627.35" y="318.1" width="54.78" height="11.5" fill="#868379"/>
<rect x="681.62" y="318.1" width="54.77" height="11.5" fill="#9b9476"/>
<rect x="735.90" y="318.1" width="54.77" height="11.5" fill="#b0a571"/>
<rect x="790.17" y="318.1" width="54.78" height="11.5" fill="#c6b667"/>
<rect x="844.45" y="318.1" width="54.77" height="11.5" fill="#dec958"/>
<rect x="898.72" y="318.1" width="54.28" height="11.5" fill="#f6dd3f"/>
<path fill="none" stroke="#000" stroke-width="2" stroke-linejoin="miter" d="M301.7 318.1H953.0L985.6 323.85L953.0 329.6H301.7L269.1 323.85z"/>
<text x="356.0" y="366.6" text-anchor="middle">0.0</text>
<text x="464.5" y="366.6" text-anchor="middle">0.2</text>
<text x="573.1" y="366.6" text-anchor="middle">0.4</text>
<text x="681.6" y="366.6" text-anchor="middle">0.6</text>
<text x="790.2" y="366.6" text-anchor="middle">0.8</text>
<text x="898.7" y="366.6" text-anchor="middle">1.0</text>
<path stroke="#000" stroke-width="2" fill="none" d="M356.0 330.6v11M464.5 330.6v11M573.1 330.6v11M681.6 330.6v11M790.2 330.6v11M898.7 330.6v11"/>
<text x="228" y="330.6" text-anchor="middle" font-style="italic" font-size="28px">u</text>
<g clip-path="url(#c10)">
<rect x="99" y="404" width="334" height="239" fill="#00224e"/>
<path fill="#002758" fill-rule="evenodd" d="M99 643l334 0l0-239l-334 0l0 239zM222.1 556.2l-1-0.3l-0.9-0.4l-1-0.6l-1-0.8l-1-1l-0.8-0.9l-1-1.4l-0.7-1.5l-0.4-0.9l-0.4-2l-0.1-0.9l-0.1-1l0.1-0.9l0.2-1l0.5-1.2l0.5-0.7l0.4-0.4l1-0.3l0.9 0.1l1.1 0.6l1.1 1l1 0.9l1.8 1.9l1.5 1.9l1.3 2l0.8 1.3l0.7 1.5l0.3 1l0.1 0.9l0 1l-0.1 0.4l-0.3 0.5l-0.7 0.8l-0.2 0.2l-0.7 0.3l-1 0.2l-0.9-0.1l-1-0.2z"/>
<path fill="#00306f" fill-rule="evenodd" d="M99 643l334 0l0-239l-334 0l0 239zM225 560.8l-1-0.1l-0.9-0.1l-1-0.2l-1.5-0.6l-0.4-0.1l-1.5-0.8l-0.4-0.3l-1-0.7l-1.1-0.9l-0.9-1l-0.8-1l-1.3-1.9l-0.9-1.9l-0.6-1.9l-0.4-1.9l-0.2-1.9l0.1-1.9l0.4-1.9l0.4-1l0.6-1.2l0.5-0.7l0.4-0.5l1-0.6l0.9-0.2l1 0.1l0.9 0.5l1 0.7l1.9 1.9l3.4 3.8l2.4 2.9l1.4 1.9l1.2 1.9l0.9 1.9l0.4 1l0.2 0.9l0.1 1l0 1l-0.2 0.9l-0.5 1l-1 0.9l-0.7 0.4l-0.9 0.4l-1 0.1l-0.9 0.1z"/>
<path fill="#1a386f" fill-rule="evenodd" d="M99 643l334 0l0-239l-334 0l0 239zM222.1 564.8l-1.9-0.6l-1.9-0.9l-1.9-1.1l-1.7-1.4l-1.2-1.1l-1.4-1.8l-0.7-0.9l-1-2l-0.8-1.9l-0.6-1.9l-0.4-1.9l-0.1-1.9l0-1.9l0.2-2l0.5-1.8l0.7-1.9l0.8-1.4l0.3-0.6l0.8-0.9l0.8-0.7l0.9-0.5l1-0.3l0.9 0.1l1.1 0.4l0.8 0.6l1.9 1.9l1.2 1.4l9.1 10.5l1.9 2.8l1 1.9l0.7 2l0.2 0.9l0.1 1l0 0.9l-0.1 1l-0.4 0.9l-0.6 1l-1 1l-0.6 0.4l-1.1 0.5l-0.8 0.3l-1 0.2l-1.9 0.2l-1.9-0.1l-1.9-0.4z"/>
<path fill="#2d416d" fill-rule="evenodd" d="M99 643l334 0l0-239l-334 0l0 239zM224 570.4l-1.9-0.3l-1.9-0.5l-1.9-0.7l-1.9-0.9l-1.9-1.2l-1.6-1.2l-1.3-1.2l-1.5-1.7l-0.7-1l-1.2-1.9l-1-1.9l-0.7-1.9l-0.6-2.1l-0.4-1.7l-0.1-1.9l-0.1-1.9l0.2-2l0.3-1.9l0.5-1.9l0.7-1.9l0.9-1.9l0.8-1.3l1-1.2l1-1l0.9-0.8l1-0.5l0.9-0.3l1-0.1l0.9 0.2l1 0.6l0.9 0.7l1.9 2.2l1.2 1.5l3.6 4.2l3.8 4l1.4 1.4l2.5 2.8l1.4 1.9l1.4 2.1l1 1.8l0.8 1.9l0.5 1.9l0.2 0.9l0 1l-0.1 1l-0.2 0.9l-0.4 1l-0.8 1.3l-1 1l-0.9 0.7l-1.7 0.8l-1.2 0.4l-1.9 0.5l-1.9 0.2l-1.9 0l-1-0.1z"/>
<path fill="#3c4a6c" fill-rule="evenodd" d="M99 643l334 0l0-239l-334 0l0 239zM225 577.1l-1.9-0.2l-2-0.3l-2.2-0.5l-1.6-0.6l-1.9-0.8l-1.9-1l-1.9-1.2l-1.5-1.2l-1.4-1.3l-1.4-1.6l-1.4-1.7l-1-1.5l-0.9-1.8l-1-2.1l-0.5-1.5l-0.5-1.9l-0.4-1.9l-0.2-1.9l0-1.9l0-1.9l0.2-1.9l0.5-2.1l0.4-1.8l0.7-1.9l0.9-1.9l1.1-1.9l1.3-1.9l1.7-1.9l1.5-1.3l1-0.7l0.9-0.5l1.3-0.4l0.6-0.1l1.1 0.1l0.8 0.3l1.1 0.7l0.9 0.9l1.5 1.9l1.3 1.7l0.9 1.2l2 2.4l1.9 2l3.8 3.8l1.5 1.4l3.7 3.8l2.4 3l1.2 1.8l1.2 1.9l1 1.9l0.8 1.9l0.6 1.9l0.1 1.9l-0.1 1.4l-0.1 0.5l-0.3 1l-0.6 1.1l-0.9 1.4l-1 0.9l-0.9 0.8l-1 0.7l-1.9 1l-2.1 0.8l-1.7 0.4l-1.9 0.4l-1.9 0.2l-1.9 0z"/>
<path fill="#49536c" fill-rule="evenodd" d="M99 643l334 0l0-239l-334 0l0 239zM221.1 585.7l-1.9-0.3l-1.9-0.5l-1.9-0.6l-1.9-0.7l-1.9-0.9l-1.9-1.1l-1.9-1.3l-1.9-1.6l-1.9-1.8l-1.6-1.8l-1.4-1.9l-1.2-1.9l-1-1.9l-0.8-1.9l-0.7-2.1l-0.5-1.7l-0.5-2.5l-0.1-1.4l-0.2-1.9l0-1.9l0.1-1.9l0.2-1.9l0.4-1.9l0.6-2.3l0.5-1.6l0.8-1.9l0.9-1.9l1.1-1.9l1.5-2.2l1.2-1.6l1.8-1.9l1.7-1.5l1-0.7l1-0.7l1.9-1l0.9-0.3l1-0.3l0.9 0l1 0.1l0.9 0.3l1 0.7l1.2 1.5l0.7 0.9l2 2.9l1.8 2.4l1.1 1.4l1.8 1.9l2 1.9l2.7 2.5l1.9 1.6l2 1.7l1.9 1.9l2.7 2.8l3.9 4.9l1.3 1.8l1.2 2l1 1.9l0.8 1.9l0.4 1.9l0.1 0.9l0 1.7l0 0.3l-0.2 0.9l-0.2 1l-0.5 1.2l-0.4 0.7l-0.6 0.9l-0.9 1.2l-1 1l-1 0.9l-1.9 1.4l-1.9 1.2l-2.2 1l-1.6 0.7l-1.9 0.6l-1.9 0.4l-1.9 0.3l-1.9 0.2l-1.9 0.1l-1.9-0.1l-2-0.2z"/>
<path fill="#555c6d" fill-rule="evenodd" d="M99 643l334 0l0-239l-334 0l0 239zM217.3 598.2l-2.8-0.6l-1.9-0.6l-2.2-0.8l-2.2-1l-1.8-1l-1.6-0.9l-1.8-1.2l-2.1-1.7l-1.7-1.5l-1.9-1.9l-1.1-1.4l-1.8-2.3l-0.9-1.5l-1.1-1.9l-1-1.9l-0.8-2l-0.6-1.8l-0.6-1.9l-0.4-2l-0.5-2.8l-0.2-2.9l0-2.9l0.2-2.8l0.5-2.9l0.7-2.7l0.3-1.1l0.7-1.9l0.9-2.2l0.9-1.9l1-1.7l1.1-1.9l1.7-2.3l1.3-1.5l1.7-1.9l2.1-1.9l2.6-2.1l1.9-1.2l1.9-1.1l1.9-0.8l1.9-0.6l1-0.2l0.9 0l1.2 0.2l0.7 0.3l1 0.7l0.9 1.2l3.5 5.5l2.3 3l1.9 2.1l1.9 1.8l2.8 2.4l1.6 1.2l1.3 1l3.4 2.8l6.1 5.8l3.9 3.8l2.5 2.9l2.3 2.8l1.4 1.9l1 1.9l0.9 2l0.5 1.9l0.2 1.9l0 1.9l-0.4 1.9l-0.7 1.9l-0.4 1l-1.1 1.9l-1.5 1.9l-1.7 1.9l-1.1 1.1l-2.1 1.8l-1.7 1.2l-2 1.2l-2.5 1.4l-1.3 0.6l-2.8 1.1l-2.9 0.8l-2.9 0.6l-2.8 0.4l-2.9 0.1l-2.9-0.1l-2.8-0.3l-1-0.2z"/>
<path fill="#61656f" fill-rule="evenodd" d="M99 643l334 0l0-239l-334 0l0 239zM214.5 618.2l-2.9-0.5l-2.9-0.7l-2.8-1l-2.9-1.1l-1.9-0.9l-1.9-1l-2.9-1.8l-2.4-1.7l-1.4-1.1l-2-1.7l-2-1.9l-1.7-2l-1.9-2.4l-1.7-2.3l-1.2-2l-1.4-2.8l-0.9-1.9l-1.1-2.9l-0.7-1.9l-0.7-2.9l-0.6-2.8l-0.3-2.9l-0.2-2.9l0-2.8l0.1-2.9l0.4-2.9l0.5-2.8l0.8-2.9l0.9-2.9l1.1-2.9l1.4-2.8l1.7-3l1.1-1.8l2.1-2.9l1.6-1.9l1.9-2l1.9-1.9l2.1-1.8l2.6-2.1l2.9-1.9l3-1.8l2.7-1.3l1.9-0.8l2.2-0.7l1.7-0.4l1.9-0.3l0.9 0l1 0.1l0.9 0.4l1 0.7l1 1.4l3.2 5.7l2 2.9l1.7 1.9l1.9 1.9l1.6 1.5l3.8 2.8l2.9 1.9l2 1.5l3.7 2.9l9.6 7.8l4.7 3.9l2 1.6l2.9 2.9l1.8 1.9l1.5 1.9l1.4 2.2l0.9 1.6l0.7 1.9l0.5 2l0.2 1.9l0 1.9l-0.3 1.9l-0.4 1.9l-0.7 2l-0.9 2.3l-1 1.8l-0.9 1.7l-1.2 1.8l-1.7 2.3l-2.1 2.4l-1.8 2l-2 1.9l-2.3 1.9l-1.3 1l-1.9 1.3l-2.9 1.7l-2.9 1.5l-2.8 1.3l-2.9 1l-2.8 0.8l-2.9 0.7l-2.9 0.5l-2.8 0.3l-2.9 0.1l-2.9-0.1l-2.8-0.2l-1.9-0.3z"/>
<path fill="#6c6d72" fill-rule="evenodd" d="M99 643l81.3 0l-2.1-1.5l-2.9-2.3l-2.2-1.9l-2.5-2.5l-2.1-2.3l-2.4-2.9l-1.4-1.9l-1.9-2.9l-1.8-2.9l-1.4-2.8l-1.4-3.2l-1.4-3.5l-0.9-2.9l-1-3.8l-0.6-2.9l-0.5-3.8l-0.3-3.8l-0.1-2.9l0.1-3.8l0.4-3.8l0.4-3.1l0.8-3.6l0.7-2.9l0.9-2.8l1.1-2.9l1.3-3.3l1.2-2.4l1.7-3.2l1.6-2.6l2.2-3.3l1.9-2.5l2.4-2.8l2.7-2.9l3-2.8l3.4-2.9l2.8-2.1l2.9-1.9l2.8-1.8l3.5-1.8l4.2-2.1l3.8-1.5l2.9-1l2.8-0.9l2.9-0.7l2.9-0.5l1.9-0.2l0.9 0l1.1 0.2l0.8 0.2l1.1 0.7l0.8 1.1l2.6 5.6l2.4 3.8l1.7 2.1l1.9 2l2 1.7l1.8 1.3l3.9 2.4l0.9 0.6l2.5 1.4l4.2 2.9l4.8 3.3l4.7 3.1l13.4 8l3.8 2.5l1.9 1.3l2.9 2.3l1.9 1.6l1.9 1.9l1.6 1.8l1.5 1.9l1.2 1.9l1 1.9l0.7 1.9l0.6 2l0.4 1.9l0.2 1.9l0 1.9l0 1.9l-0.2 1.9l-0.5 2.9l-0.7 2.8l-0.8 2.9l-1.2 3.3l-1 2.5l-1.3 2.8l-1.5 3l-1.9 3.3l-1.9 3l-1.9 2.6l-2 2.5l-2.5 2.8l-2.2 2.4l-2.9 2.7l-3.1 2.6l-2.6 1.9l-2.7 1.9l180.2 0l0-239l-334 0l0 239z"/>
<path fill="#777776" fill-rule="evenodd" d="M308.2 643l124.8 0l0-146.9l-10.5 0.7l-12.4 0.3l-12.4 0.2l-5.7 0l-3.9-0.1l-10.4-0.5l-2-0.2l-9.5-1.2l-3.8-0.8l-2.9-0.7l-4.9-1.8l-2.9-2l-1-1.9l-0.2-0.9l0.6-1.9l0.5-1l2.2-2.1l2.3-1.7l2.5-1.6l0.9-0.6l1.9-1l3.8-1.9l6-2.6l5.5-2.1l7.1-2.6l6.3-2.2l10.5-3.3l9.5-2.7l10.5-2.9l11.4-3l1-0.2l0-49.8l-334 0l0 208.4l1-3.8l1.5-4.8l1.4-3.8l1.6-3.8l2.2-4.8l2-3.8l1.8-3.1l2.2-3.6l2.6-3.9l2-2.8l3.1-3.9l3.3-3.8l3.9-4.1l2.9-2.8l2.9-2.6l3.8-3.2l3.3-2.6l4.3-3l4.1-2.7l4.8-2.9l4.5-2.4l3.8-1.9l3.8-1.8l4.8-2l3.8-1.4l4.8-1.7l4-1.2l5.5-1.5l4.8-1.1l4.7-1l4.8-0.8l3.8-0.5l3.9-0.4l2.8 0l1 0l0.9 0.2l1 0.3l0.9 1l1.2 2.8l0.2 1l0.5 1.3l0.4 0.6l0.3 1l0.3 0.6l0.3 0.3l0.3 1l0.3 0.5l0.5 0.4l0.5 1.1l1 1.3l1.3 1.5l0.9 0.9l2.5 2.4l1 0.7l1.2 0.7l1.6 1l2 1l6.6 3.2l8.6 5.1l2.9 1.4l3.8 1.7l4.9 1.9l9.4 3.6l3.8 1.7l3.9 1.7l3.8 2l2.8 1.6l3.8 2.3l2.9 1.9l2 1.5l2.8 2.2l1.9 1.7l1.9 1.8l1.9 2l1.9 2.3l1.1 1.5l1.3 1.9l1.1 1.9l0.9 1.9l1.2 2.9l0.6 1.9l0.8 2.8l0.5 2.9l0.5 3.8l0.3 3.9l0.1 3.8l-0.1 3.8l-0.1 3.8l-0.5 4.8l-0.6 4.8l-0.8 4.8l-1 4.7l-0.3 1z"/>
<path fill="#828079" fill-rule="evenodd" d="M370.9 642l0.4 1l61.7 0l0-119.5l-129.8 0l-0.6 1l-0.1 1.9l-0.5 2.8l-0.4 1.9l-0.6 2l-0.8 1.9l-0.9 1.9l-1.1 1.9l-1.2 1.9l-1.5 1.9l-1.8 2l-1.9 1.9l-2.2 1.9l-1.7 1.2l-2.8 2.2l-0.6 0.4l-1 0.9l-0.5 1l0.2 0.9l0.6 1l0.3 0.2l1 0.9l1.9 1.3l1.9 1.2l2.1 1.2l20.8 11.6l6.7 4l4.8 3l3.8 2.5l3.8 2.8l3.8 2.9l3.8 3.1l2.9 2.6l2.9 2.9l2.8 3l2.4 2.7l2.4 3l1.9 2.7l2.6 3.9l2.3 3.8l2.6 4.8l2.4 4.7l2.6 5.8l2 4.8l2.3 5.7l0.3 0.9zM258 554.1l1.3 0.1l1.9 0.1l1.9-0.1l1.9-0.1l1-0.3l1.6-0.7l0.4-0.9l-0.1-0.2l-0.4-0.8l-2.1-1.9l-1.3-0.9l-5.4-3.9l-0.3-0.3l-1.9-1.3l-1 0.3l-0.4 0.4l-0.6 0.1l-0.9 0.8l-1 0.1l-0.9 0.4l-0.5 0.5l-1.4 0.1l-1 0.9l-3.8 0l-0.9 0.2l-1 0.7l0.2 1l0.8 0.4l0.6 0.5l1.3 0.8l0.2 0.2l2.6 1.3l1.9 0.7l2.9 0.9l2.9 0.6l1.5 0.3zM235.5 546.4l4.7 0.1l1 0.2l0.9-0.3l0-19.1l-0.9-0.8l-0.4 1.8l-0.6 1.2l-0.4 1.6l-0.7 2l-0.6 1.9l-0.3 0.9l-1.3 3.9l-1.5 4.7l-0.3 1l0.4 0.9zM99 522.5l0 1l203.3 0l0.3-1l-0.1-1.9l-0.5-2.8l-0.4-1.9l-0.6-2l-0.8-1.9l-0.9-1.9l-1.1-1.9l-1.2-1.9l-1.5-1.9l-1.8-2l-1.9-1.9l-2.2-1.9l-1.7-1.2l-2.8-2.2l-0.6-0.4l-1-0.9l-0.5-1l0.2-0.9l0.6-1l0.3-0.2l1-0.9l1.9-1.3l1.9-1.2l2.1-1.2l20.8-11.6l6.7-4l4.8-3l3.8-2.5l3.8-2.8l3.8-2.9l3.8-3.1l2.9-2.6l2.9-2.9l2.8-3l2.4-2.7l2.4-3l1.9-2.7l2.6-3.9l2.3-3.8l2.6-4.8l2.4-4.7l2.6-5.8l2-4.8l2.3-5.7l0.7-1.9l-272.3 0l0 118.5zM241.2 520.5l-0.4-1.8l-0.6-1.2l-0.4-1.6l-0.7-2l-0.6-1.9l-0.3-0.9l-1.3-3.9l-1.5-4.7l-0.3-1l0.4-0.9l4.7-0.1l1-0.2l0.9 0.3l0 19.1l-0.9 0.8zM255.5 503.8l-0.4-0.4l-0.6-0.1l-0.9-0.8l-1-0.1l-0.9-0.4l-0.5-0.5l-1.4-0.1l-1-0.9l-3.8 0l-0.9-0.2l-1-0.7l0.2-1l0.8-0.4l0.6-0.5l1.3-0.8l0.2-0.2l2.6-1.3l1.9-0.7l2.9-0.9l2.9-0.6l1.9-0.3l1.9-0.2l1.9 0l1.9 0.1l0.9 0.1l1 0.3l1.6 0.7l0.4 0.9l-0.1 0.2l-0.4 0.8l-2.1 1.9l-1.3 0.9l-5.4 3.9l-0.3 0.3l-1.9 1.3l-1-0.3z"/>
<path fill="#8f8a78" fill-rule="evenodd" d="M429.6 592.3l3.4 0.9l0-42.3l-10.5-0.7l-12.4-0.3l-12.4-0.2l-5.7 0l-3.9 0.1l-10.4 0.5l-2 0.2l-9.5 1.2l-3.8 0.8l-2.9 0.7l-4.9 1.8l-2.9 2l-1 1.9l-0.2 0.9l0.6 1.9l0.5 1l2.2 2.1l2.3 1.7l2.5 1.6l0.9 0.6l1.9 1l3.8 1.9l6 2.6l5.5 2.1l7.1 2.6l6.3 2.2l10.5 3.3l9.5 2.7l10.5 2.9l9 2.3zM205.7 521.6l4 0.4l2.9 0.1l1.9 0l0.9-0.2l1-0.3l0.9-1l1.2-2.8l0.2-1l0.5-1.3l0.4-0.6l0.3-1l0.3-0.6l0.3-0.3l0.3-1l0.3-0.5l0.5-0.4l0.5-1.1l1-1.3l1.3-1.5l0.9-0.9l2.5-2.4l1-0.7l1.2-0.7l1.6-1l2-1l6.6-3.2l8.6-5.1l2.9-1.4l3.8-1.7l4.9-1.9l9.4-3.6l3.8-1.7l3.9-1.7l3.8-2l2.8-1.6l3.8-2.3l2.9-1.9l2-1.5l2.8-2.2l1.9-1.7l1.9-1.8l1.9-2l1.9-2.3l1.1-1.5l1.3-1.9l1.1-1.9l0.9-1.9l1.2-2.9l0.6-1.9l0.8-2.8l0.5-2.9l0.5-3.8l0.3-3.9l0.1-3.8l-0.1-3.8l-0.1-3.8l-0.5-4.8l-0.6-4.8l-0.8-4.8l-1-4.7l-0.3-1l-209.2 0l0 30.6l1 3.8l1.5 4.8l1.4 3.8l1.6 3.8l2.2 4.8l2 3.8l1.8 3.1l2.2 3.6l2.6 3.9l2 2.8l3.1 3.9l3.3 3.8l3.9 4.1l2.9 2.8l2.9 2.6l3.8 3.2l3.3 2.6l4.3 3l4.1 2.7l4.8 2.9l4.5 2.4l3.8 1.9l3.8 1.8l4.8 2l3.8 1.4l4.8 1.7l4 1.2l5.5 1.5l4.8 1.1l4.7 1l4.8 0.8l2.7 0.4z"/>
<path fill="#9b9476" fill-rule="evenodd" d="M210.6 520.6l1 0.1l1.9 0.1l1.1-0.2l0.8-0.2l1.1-0.7l0.8-1.1l2.6-5.6l2.4-3.8l1.7-2.1l1.9-2l2-1.7l1.8-1.3l3.9-2.4l0.9-0.6l2.5-1.4l4.2-2.9l4.8-3.3l4.7-3.1l13.4-8l3.8-2.5l1.9-1.3l2.9-2.3l1.9-1.6l1.9-1.9l1.6-1.8l1.5-1.9l1.2-1.9l1-1.9l0.7-1.9l0.6-2l0.4-1.9l0.2-1.9l0-1.9l0-1.9l-0.2-1.9l-0.5-2.9l-0.7-2.8l-0.8-2.9l-1.2-3.3l-1-2.5l-1.3-2.8l-1.5-3l-1.9-3.3l-1.9-3l-1.9-2.6l-2-2.5l-2.5-2.8l-2.2-2.4l-2.9-2.7l-3.1-2.6l-2.6-1.9l-2.7-1.9l-72.5 0l-2.1 1.5l-2.9 2.3l-2.2 1.9l-2.5 2.5l-2.1 2.3l-2.4 2.9l-1.4 1.9l-1.9 2.9l-1.8 2.9l-1.4 2.8l-1.4 3.2l-1.4 3.5l-0.9 2.9l-1 3.8l-0.6 2.9l-0.5 3.8l-0.3 3.8l-0.1 2.9l0.1 3.8l0.4 3.8l0.4 3.1l0.8 3.6l0.7 2.9l0.9 2.8l1.1 2.9l1.3 3.3l1.2 2.4l1.7 3.2l1.6 2.6l2.2 3.3l1.9 2.5l2.4 2.8l2.7 2.9l3 2.8l3.4 2.9l2.8 2.1l2.9 1.9l2.8 1.8l3.5 1.8l4.2 2.1l3.8 1.5l2.9 1l2.8 0.9l2.9 0.7l2.8 0.5z"/>
<path fill="#a79d73" fill-rule="evenodd" d="M209 518.7l1.7 0.4l1.9 0.3l0.9 0l1-0.1l0.9-0.4l1-0.7l1-1.4l3.2-5.7l2-2.9l1.7-1.9l1.9-1.9l1.6-1.5l3.8-2.8l2.9-1.9l2-1.5l3.7-2.9l9.6-7.8l4.7-3.9l2-1.6l2.9-2.9l1.8-1.9l1.5-1.9l1.4-2.2l0.9-1.6l0.7-1.9l0.5-2l0.2-1.9l0-1.9l-0.3-1.9l-0.4-1.9l-0.7-2l-0.9-2.3l-1-1.8l-0.9-1.7l-1.2-1.8l-1.7-2.3l-2.1-2.4l-1.8-2l-2-1.9l-2.3-1.9l-1.3-1l-1.9-1.3l-2.9-1.7l-2.9-1.5l-2.8-1.3l-2.9-1l-2.8-0.8l-2.9-0.7l-2.9-0.5l-2.8-0.3l-2.9-0.1l-2.9 0.1l-2.8 0.2l-2.9 0.4l-2.8 0.6l-2.9 0.8l-2.9 1l-2.8 1.2l-2.9 1.5l-2.9 1.8l-2.4 1.7l-1.4 1.1l-2 1.7l-2 1.9l-1.7 2l-1.9 2.4l-1.7 2.3l-1.2 2l-1.4 2.8l-0.9 1.9l-1.1 2.9l-0.7 1.9l-0.7 2.9l-0.6 2.8l-0.3 2.9l-0.2 2.9l0 2.8l0.1 2.9l0.4 2.9l0.5 2.8l0.8 2.9l0.9 2.9l1.1 2.9l1.4 2.8l1.7 3l1.1 1.8l2.1 2.9l1.6 1.9l1.9 2l1.9 1.9l2.1 1.8l2.6 2.1l2.9 1.9l3 1.8l2.7 1.3l1.9 0.8l2.2 0.7z"/>
<path fill="#b5a86f" fill-rule="evenodd" d="M211.4 517.8l0.2 0l1 0.2l0.9 0l1.2-0.2l0.7-0.3l1-0.7l0.9-1.2l3.5-5.5l2.3-3l1.9-2.1l1.9-1.8l2.8-2.4l1.6-1.2l1.3-1l3.4-2.8l6.1-5.8l3.9-3.8l2.5-2.9l2.3-2.8l1.4-1.9l1-1.9l0.9-2l0.5-1.9l0.2-1.9l0-1.9l-0.4-1.9l-0.7-1.9l-0.4-1l-1.1-1.9l-1.5-1.9l-1.7-1.9l-1.1-1.1l-2.1-1.8l-1.7-1.2l-2-1.2l-2.5-1.4l-1.3-0.6l-2.8-1.1l-2.9-0.8l-2.9-0.6l-2.8-0.4l-2.9-0.1l-2.9 0.1l-2.8 0.3l-1.9 0.4l-1.9 0.4l-1.9 0.6l-2.2 0.8l-2.2 1l-1.8 1l-1.6 0.9l-1.8 1.2l-2.1 1.7l-1.7 1.5l-1.9 1.9l-1.1 1.4l-1.8 2.3l-0.9 1.5l-1.1 1.9l-1 1.9l-0.8 2l-0.6 1.8l-0.6 1.9l-0.4 2l-0.5 2.8l-0.2 2.9l0 2.9l0.2 2.8l0.5 2.9l0.7 2.7l0.3 1.1l0.7 1.9l0.9 2.2l0.9 1.9l1 1.7l1.1 1.9l1.7 2.3l1.3 1.5l1.7 1.9l2.1 1.9l2.6 2.1l1.9 1.2l1.9 1.1l1.9 0.8l1.7 0.6z"/>
<path fill="#c2b369" fill-rule="evenodd" d="M210.6 515.9l1 0.3l1 0.3l0.9 0l1-0.1l0.9-0.3l1-0.7l1.2-1.5l0.7-0.9l2-2.9l1.8-2.4l1.1-1.4l1.8-1.9l2-1.9l2.7-2.5l1.9-1.6l2-1.7l1.9-1.9l2.7-2.8l3.9-4.9l1.3-1.8l1.2-2l1-1.9l0.8-1.9l0.4-1.9l0.1-0.9l0-1.7l0-0.3l-0.2-0.9l-0.2-1l-0.5-1.2l-0.4-0.7l-0.6-0.9l-0.9-1.2l-1-1l-1-0.9l-1.9-1.4l-1.9-1.2l-2.2-1l-1.6-0.7l-1.9-0.6l-1.9-0.4l-1.9-0.3l-1.9-0.2l-1.9-0.1l-1.9 0.1l-2.4 0.3l-1.5 0.2l-1.9 0.5l-1.9 0.6l-1.9 0.7l-1.9 0.9l-1.9 1.1l-1.9 1.3l-1.9 1.6l-1.9 1.8l-1.6 1.8l-1.4 1.9l-1.2 1.9l-1 1.9l-0.8 1.9l-0.7 2.1l-0.5 1.7l-0.5 2.5l-0.1 1.4l-0.2 1.9l0 1.9l0.1 1.9l0.2 1.9l0.4 1.9l0.6 2.3l0.5 1.6l0.8 1.9l0.9 1.9l1.1 1.9l1.5 2.2l1.2 1.6l1.8 1.9l1.7 1.5l1 0.7l1 0.7l1.8 1z"/>
<path fill="#d0be62" fill-rule="evenodd" d="M212.9 514.9l0.6 0.1l1.1-0.1l0.8-0.3l1.1-0.7l0.9-0.9l1.5-1.9l1.3-1.7l0.9-1.2l2-2.4l1.9-2l3.8-3.8l1.5-1.4l3.7-3.8l2.4-3l1.2-1.8l1.2-1.9l1-1.9l0.8-1.9l0.6-1.9l0.1-1.9l-0.1-1.4l-0.1-0.5l-0.3-1l-0.6-1.1l-0.9-1.4l-1-0.9l-0.9-0.8l-1-0.7l-1.9-1l-2.1-0.8l-1.7-0.4l-1.9-0.4l-1.9-0.2l-1.9 0l-1.9 0.2l-2 0.3l-2.2 0.5l-1.6 0.6l-1.9 0.8l-1.9 1l-1.9 1.2l-1.5 1.2l-1.4 1.3l-1.4 1.6l-1.4 1.7l-1 1.5l-0.9 1.8l-1 2.1l-0.5 1.5l-0.5 1.9l-0.4 1.9l-0.2 1.9l0 1.9l0 1.9l0.2 1.9l0.5 2.1l0.4 1.8l0.7 1.9l0.9 1.9l1.1 1.9l1.3 1.9l1.7 1.9l1.5 1.3l1 0.7l0.9 0.5l1.3 0.4z"/>
<path fill="#dec958" fill-rule="evenodd" d="M212.5 513l0.1 0l0.9 0.3l1 0.1l0.9-0.2l1-0.6l0.9-0.7l1.9-2.2l1.2-1.5l3.6-4.2l3.8-4l1.4-1.4l2.5-2.8l1.4-1.9l1.4-2.1l1-1.8l0.8-1.9l0.5-1.9l0.2-0.9l0-1l-0.1-1l-0.2-0.9l-0.4-1l-0.8-1.3l-1-1l-0.9-0.7l-1.7-0.8l-1.2-0.4l-1.9-0.5l-1.9-0.2l-1.9 0l-1.9 0.2l-2 0.4l-1.9 0.6l-1.9 0.9l-1.9 1l-1.9 1.3l-1.6 1.5l-1.2 1.3l-1.3 1.6l-1.2 1.9l-1 1.9l-0.7 1.9l-0.6 2.1l-0.4 1.7l-0.1 1.9l-0.1 1.9l0.2 2l0.3 1.9l0.5 1.9l0.7 1.9l0.9 1.9l0.8 1.3l1 1.2l1 1l0.9 0.8l0.9 0.5z"/>
<path fill="#ebd44b" fill-rule="evenodd" d="M213.1 511.1l0.4 0.2l1 0.3l0.9-0.1l1.1-0.4l0.8-0.6l1.9-1.9l1.2-1.4l9.1-10.5l1.9-2.8l1-1.9l0.7-2l0.2-0.9l0.1-1l0-0.9l-0.1-1l-0.4-0.9l-0.6-1l-1-1l-0.6-0.4l-1.1-0.5l-0.8-0.3l-1-0.2l-1.9-0.2l-1.9 0.1l-1.9 0.4l-1.9 0.6l-1.9 0.9l-1.9 1.1l-1.7 1.4l-1.2 1.1l-1.4 1.8l-0.7 0.9l-1 2l-0.8 1.9l-0.6 1.9l-0.4 1.9l-0.1 1.9l0 1.9l0.2 2l0.5 1.8l0.7 1.9l0.8 1.4l0.3 0.6l0.8 0.9l0.8 0.7l0.5 0.3z"/>
<path fill="#fbe138" fill-rule="evenodd" d="M214.2 509.2l0.3 0.1l0.9 0.2l1-0.1l0.9-0.5l1-0.7l1.9-1.9l3.4-3.8l2.4-2.9l1.4-1.9l1.2-1.9l0.9-1.9l0.4-1l0.2-0.9l0.1-1l0-1l-0.2-0.9l-0.5-1l-1-0.9l-0.7-0.4l-0.9-0.4l-1-0.1l-1.2-0.1l-0.7 0.1l-0.9 0.1l-1 0.2l-1.5 0.6l-0.4 0.1l-1.5 0.8l-0.4 0.3l-1 0.7l-1.1 0.9l-0.9 1l-0.8 1l-1.3 1.9l-0.9 1.9l-0.6 1.9l-0.4 1.9l-0.2 1.9l0.1 1.9l0.4 1.9l0.4 1l0.6 1.2l0.5 0.7l0.4 0.5l0.7 0.5z"/>
<path fill="#fee838" fill-rule="evenodd" d="M215 506.3l0.4 0.4l1 0.3l0.9-0.1l1.1-0.6l1.1-1l1-0.9l1.8-1.9l1.5-1.9l1.3-2l0.8-1.3l0.7-1.5l0.3-1l0.1-0.9l0-1l-0.1-0.4l-0.3-0.5l-0.7-0.8l-0.2-0.2l-0.7-0.3l-1-0.2l-0.9 0.1l-1 0.2l-1 0.3l-0.9 0.4l-1 0.6l-1 0.8l-1 1l-0.8 0.9l-1 1.4l-0.7 1.5l-0.4 0.9l-0.4 2l-0.1 0.9l-0.1 1l0.1 0.9l0.2 1l0.5 1.2l0.5 0.7z"/>
<path fill="none" stroke="#000" stroke-width="1.4" d="M243.1 547.4l0.2 1l0.8 0.4l0.6 0.5l1.3 0.8l0.2 0.2l2.6 1.3l1.9 0.7l2.9 0.9l2.9 0.6l1.9 0.3l1.9 0.2l1.9 0l1.9-0.1l0.9-0.1l1-0.3l1.6-0.7l0.4-0.9l-0.1-0.2l-0.4-0.8l-2.1-1.9l-1.3-0.9l-5.4-3.9l-0.3-0.3l-1.9-1.3l-0.6 0.3M235.5 546.4l1.9 0.1M248.9 546.4l-0.1 0.1l-2 0M251.2 545.5l-0.6 0.1M255.1 543.6l-0.6 0.1l-0.9 0.8l-1 0.1l-0.5 0.4M409.5 523.5l-106.3 0l-0.6 1l-0.1 1.9l-0.5 2.8l-0.4 1.9l-0.6 2l-0.8 1.9l-0.9 1.9l-1.1 1.9l-1.2 1.9l-1.5 1.9l-1.8 2l-1.9 1.9l-2.2 1.9l-1.7 1.2l-2.8 2.2l-0.6 0.4l-1 0.9l-0.5 1l0.2 0.9l0.6 1l0.3 0.2l1 0.9l1.9 1.3l1.9 1.2l2.1 1.2l20.8 11.6l6.7 4l4.8 3l3.8 2.5l3.8 2.8l3.8 2.9l3.8 3.1l2.9 2.6l2.9 2.9l2.8 3l2.4 2.7l2.4 3l1.9 2.7l2.6 3.9l2.3 3.8l2.6 4.8l2.4 4.7l2.6 5.8l2 4.8l2.3 5.7l0.7 1.9M137.2 523.5l81.1 0M266 523.5l36.3 0l0.3-1l-0.1-1.9l-0.5-2.8l-0.4-1.9l-0.6-2l-0.8-1.9l-0.9-1.9l-1.1-1.9l-1.2-1.9l-1.5-1.9l-1.8-2l-1.9-1.9l-2.2-1.9l-1.7-1.2l-2.8-2.2l-0.6-0.4l-1-0.9l-0.5-1l0.2-0.9l0.6-1l0.3-0.2l1-0.9l1.9-1.3l1.9-1.2l2.1-1.2l20.8-11.6l6.7-4l4.8-3l3.8-2.5l3.8-2.8l3.8-2.9l3.8-3.1l2.9-2.6l2.9-2.9l2.8-3l2.4-2.7l2.4-3l1.9-2.7l2.6-3.9l2.3-3.8l2.6-4.8l2.4-4.7l2.6-5.8l2-4.8l2.3-5.7l0.7-1.9M255.1 503.4l-0.6-0.1l-0.9-0.8l-1-0.1l-0.5-0.4M251.2 501.5l-0.6-0.1M235.5 500.6l1.9-0.1M248.9 500.6l-0.1-0.1l-2 0M243.1 499.6l0.2-1l0.8-0.4l0.6-0.5l1.3-0.8l0.2-0.2l2.6-1.3l1.9-0.7l2.9-0.9l2.9-0.6l1.9-0.3l1.9-0.2l1.9 0l1.9 0.1l0.9 0.1l1 0.3l1.6 0.7l0.4 0.9l-0.1 0.2l-0.4 0.8l-2.1 1.9l-1.3 0.9l-5.4 3.9l-0.3 0.3l-1.9 1.3l-0.6-0.3M180.3 404l-2.1 1.5l-2.9 2.3l-2.2 1.9l-2.5 2.5l-2.1 2.3l-2.4 2.9l-1.4 1.9l-1.9 2.9l-1.8 2.9l-1.4 2.8l-1.4 3.2l-1.4 3.5l-0.9 2.9l-1 3.8l-0.6 2.9l-0.5 3.8l-0.3 3.8l-0.1 2.9l0.1 3.8l0.4 3.8l0.4 3.1l0.8 3.6l0.7 2.9l0.9 2.8l1.1 2.9l1.3 3.3l1.2 2.4l1.7 3.2l1.6 2.6l2.2 3.3l1.9 2.5l2.4 2.8l2.7 2.9l3 2.8l3.4 2.9l2.8 2.1l2.9 1.9l2.8 1.8l3.5 1.8l4.2 2.1l3.8 1.5l2.9 1l2.8 0.9l2.9 0.7l2.9 0.5l1.9 0.2l0.9 0l1.1-0.2l0.8-0.2l1.1-0.7l0.8-1.1l2.6-5.6l2.4-3.8l1.7-2.1l1.9-2l2-1.7l1.8-1.3l3.9-2.4l0.9-0.6l2.5-1.4l4.2-2.9l3.9-2.8M272 474.9l1.4-1.1l2.1-2l2-2l1.4-1.7l1.4-2.1l1-1.8l0.9-2l0.6-1.8l0.5-1.9l0.3-1.9l0.1-1.9l0-1.9l-0.1-2l-0.4-2.8l-0.6-2.9l-0.8-2.9l-1-2.8l-1.1-2.9l-1.3-3l-1.3-2.7l-1.6-2.9l-1.9-3l-1.9-2.8l-2.1-2.8l-2.4-2.9l-2.2-2.3l-2.4-2.5l-2.3-2l-2.9-2.3l-2.9-2.1l-1.7-1.2M211.6 517.8l1 0.2l0.9 0l1.2-0.2l0.7-0.3l1-0.7l0.9-1.2l3.5-5.5l2.3-3l1.9-2.1l1.9-1.8l2.8-2.4l1.6-1.2l1.3-1l3.4-2.8l6.1-5.8l3.9-3.8l2.5-2.9l2.3-2.8l1.4-1.9l1-1.9l0.9-2l0.5-1.9l0.2-1.9l0-1.9l-0.4-1.9l-0.7-1.9l-0.4-1l-1.1-1.9l-1.5-1.9l-1.7-1.9l-1.1-1.1l-2.1-1.8l-1.7-1.2l-2-1.2l-2.5-1.4l-1.3-0.6l-2.8-1.1l-2.9-0.8l-2.9-0.6l-2.8-0.4l-2.9-0.1l-2.9 0.1l-2.8 0.3l-1.9 0.4l-1.9 0.4l-1.9 0.6l-2.2 0.8l-2.2 1l-1.8 1l-1.6 0.9l-1.8 1.2l-2.1 1.7l-1.7 1.5l-1.9 1.9l-1.1 1.4l-1.8 2.3l-0.9 1.5l-1.1 1.9l-1 1.9l-0.8 2l-0.6 1.8l-0.6 1.9l-0.4 2l-0.5 2.8l-0.2 2.9l0 2.9l0.2 2.8l0.5 2.9l0.7 2.7l0.3 1.1l0.7 1.9l0.9 2.2l0.9 1.9l1 1.7l1.1 1.9l1.7 2.3l1.3 1.5l1.7 1.9l2.1 1.9l2.6 2.1l1.9 1.2l1.9 1.1l1.9 0.8l1.7 0.6zM201.4 493l0 1.8l0 1.9l0.2 1.9l0.5 2.1l0.4 1.8l0.7 1.9l0.9 1.9l1.1 1.9l1.3 1.9l1.7 1.9l1.5 1.3l1 0.7l0.9 0.5l1.3 0.4l0.6 0.1l1.1-0.1l0.8-0.3l1.1-0.7l0.9-0.9l1.5-1.9l1.3-1.7l0.9-1.2l2-2.4l1.9-2l3.8-3.8l1.5-1.4l3.7-3.8l2.4-3l1.2-1.8l1.2-1.9l1-1.9l0.8-1.9l0.6-1.9l0.1-1.9l-0.1-1.4l-0.1-0.5l-0.3-1l-0.6-1.1l-0.9-1.4l-1-0.9l-0.9-0.8l-1-0.7l-1.9-1l-2.1-0.8l-1.7-0.4l-1.9-0.4l-1.9-0.2l-1.9 0l-1.9 0.2l-2 0.3l-0.5 0.1M233.3 488.9l0.1-0.8l0-0.9l-0.1-1l-0.4-0.9l-0.6-1l-1-1l-0.6-0.4l-1.1-0.5l-0.8-0.3l-1-0.2l-1.9-0.2l-1.9 0.1l-1.9 0.4l-1.9 0.6l-1.9 0.9l-1.9 1.1l-1.7 1.4l-1.2 1.1l-1.4 1.8l-0.7 0.9l-1 2l-0.8 1.9l-0.6 1.9l-0.4 1.9l-0.1 1.9l0 1.9l0.2 2l0.5 1.8l0.7 1.9l0.8 1.4l0.3 0.6l0.8 0.9l0.8 0.7l0.4 0.2M215.4 506.7l1 0.3l0.9-0.1l1.1-0.6l1.1-1l1-0.9l1.8-1.9l1.5-1.9l1.3-2l0.8-1.3l0.7-1.5l0.3-1l0.1-0.9l0-1l-0.1-0.4l-0.3-0.5l-0.7-0.8l-0.2-0.2l-0.7-0.3l-1-0.2l-0.9 0.1l-1 0.2l-1 0.3l-0.9 0.4l-1 0.6l-1 0.8l-1 1l-0.8 0.9l-1 1.4l-0.7 1.5l-0.4 0.9l-0.4 2l-0.1 0.9l-0.1 1l0.1 0.9l0.2 1l0.5 1.2l0.5 0.7z"/>
<path fill="none" stroke="#000" stroke-width="1.4" stroke-dasharray="5.1 2.2" d="M222.1 556.2l-1-0.3l-0.9-0.4l-1-0.6l-1-0.8l-1-1l-0.8-0.9l-1-1.4l-0.7-1.5l-0.4-0.9l-0.4-2l-0.1-0.9l-0.1-1l0.1-0.9l0.2-1l0.5-1.2l0.5-0.7l0.4-0.4l1-0.3l0.9 0.1l1.1 0.6l1.1 1l1 0.9l1.8 1.9l1.5 1.9l1.3 2l0.8 1.3l0.7 1.5l0.3 1l0.1 0.9l0 1l-0.1 0.4l-0.3 0.5l-0.7 0.8l-0.2 0.2l-0.7 0.3l-1 0.2l-0.9-0.1l-1-0.2M222.1 564.8l-1.9-0.6l-1.9-0.9l-1.9-1.1l-1.7-1.4l-1.2-1.1l-1.4-1.8l-0.7-0.9l-1-2l-0.8-1.9l-0.6-1.9l-0.4-1.9l-0.1-1.9l0-1.9l0.2-2l0.5-1.8l0.7-1.9l0.8-1.4l0.3-0.6l0.8-0.9l0.8-0.7l0.9-0.5l1-0.3l0.9 0.1l1.1 0.4l0.8 0.6l1.9 1.9l1.2 1.4l9.1 10.5l1.9 2.8l1 1.9l0.7 2l0.2 0.9l0.1 1l0 0.9l-0.1 1l-0.4 0.9l-0.6 1l-1 1l-0.6 0.4l-1.1 0.5l-0.8 0.3l-1 0.2l-1.9 0.2l-1.9-0.1l-0.9-0.2zM225 577.1l-1.9-0.2l-2-0.3l-2.2-0.5l-1.6-0.6l-1.9-0.8l-1.9-1l-1.9-1.2l-1.5-1.2l-1.4-1.3l-1.4-1.6l-1.4-1.7l-1-1.5l-0.9-1.8l-1-2.1l-0.5-1.5l-0.5-1.9l-0.4-1.9l-0.2-1.9l0-1.9l0-1.9l0.2-1.9l0.5-2.1l0.4-1.8l0.7-1.9l0.9-1.9l1.1-1.9l1.3-1.9l1.7-1.9l1.5-1.3l1-0.7l0.9-0.5l1.3-0.4l0.6-0.1l1.1 0.1l0.8 0.3l1.1 0.7l0.9 0.9l1.5 1.9l1.3 1.7l0.9 1.2l2 2.4l1.9 2.1M236.4 574.3l-0.9 0.5l-1.9 0.9l-2 0.6l-1.9 0.4l-1.9 0.3l-1.9 0.1l-0.9 0M193.6 582.1l-1.1-1.9l-1.1-2.2l-0.8-2l-0.6-1.8l-0.6-1.9l-0.4-2l-0.5-2.8l-0.2-2.9l0-2.9l0.2-2.8l0.5-2.9l0.7-2.7l0.3-1.1l0.7-1.9l0.9-2.2l0.9-1.9l1-1.7l1.1-1.9l1.7-2.3l1.3-1.5l1.7-1.9l2.1-1.9l2.6-2.1l1.9-1.2l1.9-1.1l1.9-0.8l1.9-0.6l1-0.2l0.9 0l1.2 0.2l0.7 0.3l1 0.7l0.9 1.2l3.5 5.5l2.3 3l1.9 2.1l1.9 1.8l2.8 2.4l1.6 1.2l1.3 1l3.4 2.8l6.1 5.8l3.9 3.8l2.5 2.9l2.3 2.8l1.4 1.9l1 1.9l0.9 2l0.5 1.9l0.2 1.9l0 1.9l-0.4 1.9l-0.7 1.9l-0.4 1l-1.1 1.9l-1.5 1.9l-1.7 1.9l-1.1 1.1l-2.1 1.8l-1.7 1.2l-2 1.2l-2.5 1.4l-1.3 0.6l-2.8 1.1l-2.9 0.8l-2.9 0.6l-2.8 0.4l-0.4 0M180.3 643l-2.1-1.5l-2.9-2.3l-2.2-1.9l-2.5-2.5l-2.1-2.3l-2.4-2.9l-1.4-1.9l-1.9-2.9l-1.8-2.9l-1.4-2.8l-1.4-3.2l-1.4-3.5l-0.9-2.9l-1-3.8l-0.6-2.9l-0.5-3.8l-0.3-3.8l-0.1-2.9l0.1-3.8l0.4-3.8l0.4-3.1l0.8-3.6l0.7-2.9l0.9-2.8l1.1-2.9l1.3-3.3l1.2-2.4l1.5-2.9M189.2 534.1l2-1l4.2-2.1l3.8-1.5l2.9-1l2.8-0.9l2.9-0.7l2.9-0.5l1.9-0.2l0.9 0l1.1 0.2l0.8 0.2l1.1 0.7l0.8 1.1l2.6 5.6l2.4 3.8l1.7 2.1l1.9 2l2 1.7l1.8 1.3l3.9 2.4l0.9 0.6l2.5 1.4l4.2 2.9l4.8 3.3l4.7 3.1l13.4 8l3.8 2.5l1.9 1.3l2.9 2.3l1.9 1.6l1.9 1.9l1.6 1.8l1.5 1.9l1.2 1.9l1 1.9l0.7 1.9l0.6 2l0.4 1.9l0.2 1.9l0 1.9l0 1.9l-0.2 1.9l-0.5 2.9l-0.7 2.8l-0.8 2.9l-1.2 3.3l-1 2.5l-1.3 2.8l-1.5 3l-1.9 3.3l-1.9 3l-1.9 2.6l-2 2.5l-2.5 2.8l-2.2 2.4l-2.9 2.7l-3.1 2.6l-2.6 1.9l-2.7 1.9"/>
<ellipse cx="242.1" cy="523.5" rx="25.2" ry="25.2" fill="#fff"/>
<text transform="translate(238.0 557.5) rotate(-293.3)" text-anchor="middle" y="4.9" font-size="20.8px">-0.3</text>
<text transform="translate(207.8 595.0) rotate(-333.2)" text-anchor="middle" y="4.9" font-size="20.8px">-0.2</text>
<text transform="translate(173.7 545.6) rotate(-44.2)" text-anchor="middle" y="4.9" font-size="20.8px">-0.1</text>
<text transform="translate(425.4 523.5) rotate(-0.0)" text-anchor="middle" y="4.9" font-size="20.8px">0.0</text>
<text transform="translate(258.7 483.7) rotate(-31.8)" text-anchor="middle" y="4.9" font-size="20.8px">0.1</text>
<text transform="translate(207.3 478.6) rotate(-49.7)" text-anchor="middle" y="4.9" font-size="20.8px">0.3</text>
<text transform="translate(224.9 502.2) rotate(-49.6)" text-anchor="middle" y="4.9" font-size="20.8px">0.4</text>
<text transform="translate(269.5 527.8) rotate(80.0)" text-anchor="middle" y="4.9" font-size="20.8px">0.0</text>
<text transform="translate(118.8 523.5) rotate(0.0)" text-anchor="middle" y="4.9" font-size="20.8px">-0.0</text>
</g>
<rect x="99" y="404" width="334" height="239" fill="none" stroke="#000" stroke-width="2"/>
<text transform="translate(50.9 630.5) scale(1.215 1.5)">−</text><text x="66.0" y="625.1">2</text>
<text transform="translate(50.9 582.6) scale(1.215 1.5)">−</text><text x="66.0" y="577.3">1</text>
<text x="77.0" y="529.5" text-anchor="end">0</text>
<text x="77.0" y="481.7" text-anchor="end">1</text>
<text x="77.0" y="433.9" text-anchor="end">2</text>
<text transform="translate(33 525.8) rotate(-90)" text-anchor="middle">y</text>
<path stroke="#000" stroke-width="2" fill="none" d="M98.0 619.1h-11M98.0 571.3h-11M98.0 523.5h-11M98.0 475.7h-11M98.0 427.9h-11"/>
<text x="266.0" y="388.6" text-anchor="middle">PetIBM</text>
<g clip-path="url(#c11)">
<rect x="460" y="404" width="335" height="239" fill="#00224e"/>
<path fill="#002758" fill-rule="evenodd" d="M460 643l335 0l0-239l-335 0l0 239zM583.5 556.1l-1-0.3l-1.4-0.8l-0.5-0.2l-1-0.8l-0.9-0.9l-1-1.1l-1.1-1.7l-0.8-2l-0.2-0.9l-0.3-1.9l0-1l0-0.9l0.2-1l0.4-0.9l0.9-1.1l0.9-0.4l1 0.1l0.9 0.5l1.1 0.9l1 0.9l1.8 1.9l1.9 2.5l1 1.4l1 1.9l0.4 0.9l0.3 1l0.1 0.9l-0.1 1l-0.4 0.9l-0.4 0.5l-1 0.6l-0.9 0.2l-1 0l-0.9-0.2z"/>
<path fill="#00306f" fill-rule="evenodd" d="M460 643l335 0l0-239l-335 0l0 239zM582.5 560l-0.9-0.4l-1.4-0.7l-1.4-1l-0.1-0.1l-1-0.8l-1-1l-0.9-1.1l-1.1-1.8l-1-1.9l-0.6-1.9l-0.4-1.9l-0.1-1.9l0.1-1.9l0.2-1.3l0.2-0.6l0.4-1l0.4-0.9l1-1.3l1-0.7l0.9-0.2l1.1 0.2l0.8 0.4l0.9 0.7l1 0.9l2.6 2.8l2.5 2.9l2.3 2.9l1.3 1.9l1.1 1.9l0.7 1.9l0.3 0.9l0.1 1l-0.1 1l-0.3 1.1l-0.5 0.8l-0.4 0.5l-1 0.7l-0.9 0.3l-1 0.2l-1 0.1l-0.9-0.1l-1-0.1l-0.9-0.2l-1-0.3z"/>
<path fill="#1a386f" fill-rule="evenodd" d="M460 643l335 0l0-239l-335 0l0 239zM583.5 564.8l-1.9-0.6l-2-0.9l-1.9-1.2l-1.6-1.3l-1-1l-0.9-0.9l-0.7-1l-1.2-1.9l-0.5-1l-0.8-1.9l-0.6-1.9l-0.4-1.9l-0.1-1.9l0-1.9l0.3-1.9l0.4-1.9l0.8-1.9l0.6-1.2l0.9-1.3l1-0.9l1-0.6l0.9-0.2l1 0l0.9 0.4l1.3 0.9l0.9 0.9l1.7 1.8l0.9 1.1l3.4 3.8l4.3 4.9l1.3 1.8l1.2 1.9l1 1.9l0.7 2l0.2 0.9l0.1 1l0 0.9l-0.2 1l-0.5 1.3l-0.4 0.6l-0.6 0.6l-0.9 0.7l-1.3 0.6l-0.6 0.2l-1 0.2l-1.9 0.2l-1.9-0.1l-1.9-0.3z"/>
<path fill="#2d416d" fill-rule="evenodd" d="M460 643l335 0l0-239l-335 0l0 239zM585.4 570.4l-1.9-0.3l-1.9-0.5l-2-0.7l-1.9-0.9l-1.9-1.2l-1.6-1.2l-1.3-1.2l-1.5-1.7l-0.7-1l-1.2-1.9l-0.9-1.9l-0.8-1.9l-0.5-1.9l-0.4-1.9l-0.1-1.9l-0.1-1.9l0.2-2l0.3-1.9l0.5-1.9l0.7-1.9l1-1.9l0.7-1.1l0.9-1.3l1-1l0.9-0.7l1.4-0.7l0.6-0.2l0.9 0l1.1 0.2l0.8 0.5l1 0.7l1.9 2.2l1.1 1.4l3.7 4.3l3.8 4l1.3 1.3l2.5 2.9l1.5 1.8l1.4 2.3l0.9 1.6l0.8 1.9l0.5 1.9l0.2 0.9l0 1l-0.1 1l-0.4 1.5l-0.1 0.4l-0.8 1.2l-1 1l-0.9 0.7l-1.7 0.9l-1.2 0.4l-1.9 0.5l-1.9 0.2l-2 0l-0.9-0.1z"/>
<path fill="#3c4a6c" fill-rule="evenodd" d="M460 643l335 0l0-239l-335 0l0 239zM585.4 577.1l-1.9-0.2l-1.9-0.4l-2-0.5l-1.9-0.7l-1.9-0.9l-2-1.2l-1.8-1.3l-1.9-1.7l-1.6-1.8l-1.3-1.6l-1-1.5l-0.9-1.8l-1-2.2l-0.5-1.5l-0.5-1.9l-0.3-1.9l-0.2-1.9l-0.1-1.9l0.1-1.9l0.2-1.9l0.4-2l0.5-1.9l0.7-1.9l0.9-1.9l1.1-1.9l1.3-1.9l1.7-1.9l1.4-1.2l1.1-0.7l0.8-0.5l1-0.3l1-0.2l0.9 0.1l1 0.3l0.9 0.6l1 0.9l1.9 2.4l1.1 1.4l2.3 2.9l2.3 2.6l4.8 4.6l1.5 1.4l3.5 3.8l1.7 2.3l1.2 1.6l1.2 1.9l1 1.9l0.8 1.9l0.5 1.9l0.1 1l0.1 0.9l-0.1 1.1l-0.1 0.8l-0.3 1l-0.5 1.1l-1 1.3l-1 1.1l-0.9 0.7l-1 0.7l-1.9 1l-1.9 0.8l-1.9 0.5l-1.9 0.4l-1.9 0.1l-2 0.1l-0.9-0.1z"/>
<path fill="#49536c" fill-rule="evenodd" d="M460 643l335 0l0-239l-335 0l0 239zM580.6 585.6l-1.9-0.4l-1.9-0.6l-2.3-0.9l-2-0.9l-1.6-1l-1.8-1.2l-2-1.7l-1.8-1.7l-1.1-1.1l-1.5-1.9l-1.2-2l-1.1-1.9l-0.9-1.9l-0.7-1.9l-0.5-1.9l-0.5-1.9l-0.3-1.9l-0.1-1.9l-0.1-1.9l0.1-2l0.2-2.4l0.3-1.4l0.4-1.9l0.9-2.9l0.8-1.9l0.9-1.9l1.1-1.9l1.4-2l1.4-1.8l1.8-1.9l1.6-1.4l0.9-0.7l1.9-1.2l1.2-0.6l0.7-0.2l1-0.3l1 0l0.9 0.1l1.1 0.4l0.8 0.6l1.2 1.4l0.7 0.9l1.3 1.9l2.9 3.9l1.7 1.9l1.8 1.9l2.9 2.6l1.4 1.2l5.3 4.8l2.6 2.8l4.1 5l1.2 1.7l1.2 2l1 1.9l0.8 1.9l0.5 1.9l0.1 0.9l0 1l0 1l-0.2 0.9l-0.3 1l-0.5 1.3l-0.3 0.6l-0.7 1.1l-0.9 1.2l-1 1l-0.9 0.9l-1.9 1.4l-2 1.1l-1.9 1l-2.3 0.9l-1.5 0.5l-2.1 0.4l-1.7 0.3l-1.9 0.2l-2 0.1l-1.9-0.1l-1.9-0.1l-1.9-0.4z"/>
<path fill="#555c6d" fill-rule="evenodd" d="M460 643l335 0l0-239l-335 0l0 239zM581.6 599.1l-2-0.2l-1.9-0.4l-1.9-0.4l-1.9-0.6l-1.9-0.7l-1.9-0.8l-1.9-0.9l-2-1.1l-2.4-1.7l-1.4-1l-2-1.8l-1.9-1.9l-1.8-2.3l-1.2-1.6l-1.2-1.9l-1-1.9l-0.9-1.9l-0.8-1.9l-0.7-2.2l-0.4-1.6l-0.6-2.9l-0.3-2.9l-0.1-2.8l0.1-2.9l0.2-1.9l0.5-2.9l0.6-2.4l0.5-1.4l0.6-1.9l0.9-1.9l0.9-2l1-1.9l1.3-1.9l1.5-2.1l1.4-1.7l1.8-1.9l2.1-1.9l2.4-2l1.9-1.2l1.9-1.1l1.9-0.9l1.9-0.5l1-0.2l1 0l0.9 0.1l1 0.4l0.9 0.7l1 1.2l2.9 4.5l1.2 1.8l1.6 2.1l1.9 2.1l2 1.8l3.1 2.6l2.6 2l3.4 2.8l5.2 4.9l3.8 3.8l2.9 3.1l1.4 1.6l2.3 2.9l1.7 2.8l0.9 2l0.6 1.9l0.2 1.9l0 1.9l-0.3 1.9l-0.3 1l-0.7 1.9l-1.1 1.9l-1.4 1.9l-1.4 1.7l-1.2 1.2l-1.6 1.5l-2 1.5l-1.9 1.2l-1.9 1.2l-2.6 1.3l-1.2 0.5l-1.9 0.7l-2.4 0.7l-1.5 0.3l-1.9 0.4l-2.8 0.4l-2.9 0.1l-1.9 0l-1.9-0.2z"/>
<path fill="#61656f" fill-rule="evenodd" d="M460 643l335 0l0-239l-335 0l0 239zM576.8 619.2l-2.9-0.5l-2.9-0.6l-2.8-0.9l-2.9-1l-2.9-1.3l-2.9-1.5l-1.9-1.2l-2.4-1.7l-1.4-1.1l-2-1.8l-1.9-1.9l-1.8-2l-2-2.5l-1.5-2.2l-1.3-2.2l-1.3-2.6l-1.3-2.8l-1.1-2.9l-0.5-1.9l-0.8-2.9l-0.5-2.8l-0.3-2.9l-0.2-2.9l0-2.8l0.2-3l0.4-2.8l0.6-3l0.7-2.7l1-2.9l1.2-2.9l1.3-2.8l1.7-2.9l1.7-2.7l1-1.3l1.4-1.7l2.6-2.9l1.9-1.9l2.7-2.3l2-1.5l2.8-2l3.2-1.9l2.5-1.2l2-0.8l2.4-0.8l1.4-0.4l1.9-0.2l1 0l0.9 0.1l1.1 0.5l0.8 0.6l1 1.3l3.3 5.7l2 2.9l1.6 1.9l1.9 1.9l1.7 1.5l3.8 2.8l2.2 1.5l4.5 3.3l2 1.6l9.5 7.7l4.5 3.6l5.3 4.8l1.8 1.9l1.5 1.9l1.4 1.9l1 1.9l0.9 1.9l0.5 2l0.3 1.9l0.1 1.9l-0.2 1.9l-0.3 1.9l-0.6 1.9l-0.9 2.4l-0.9 2l-1 1.8l-0.9 1.6l-1.3 1.8l-1.6 2.1l-1.9 2.3l-1.9 1.9l-1.9 1.8l-2 1.5l-2.5 1.9l-1.4 0.9l-1.8 1.1l-2.9 1.5l-2.8 1.2l-2.9 1.1l-3.1 0.8l-2.7 0.7l-2.8 0.4l-2.9 0.3l-2.9 0.2l-2.8-0.1l-2.9-0.2l-1.9-0.2z"/>
<path fill="#6c6d72" fill-rule="evenodd" d="M460 643l78.3 0l-2.3-1.9l-2.3-2.1l-2.5-2.7l-1.6-1.9l-2.2-2.9l-1.8-2.8l-1.6-2.9l-1.4-2.9l-1.2-2.8l-1.1-2.9l-0.9-2.9l-0.7-2.8l-0.9-3.9l-0.7-3.8l-0.4-2.9l-0.3-3.8l-0.2-3.8l0-2.9l0.2-3.8l0.3-3.8l0.5-2.9l0.5-2.9l0.7-2.8l0.9-3.2l1-2.7l1.1-2.7l1.4-2.9l1.5-2.9l1.8-2.8l1.9-2.9l2.2-2.9l2.5-2.9l2.8-2.8l3.1-2.9l2.8-2.2l2.8-2.1l2.1-1.4l3-1.9l3.5-1.9l3.9-1.9l1.9-0.8l1.9-0.8l2.9-1l2.8-0.9l2.9-0.7l1.9-0.4l1.9-0.3l2 0l0.9 0.1l1 0.3l0.9 0.6l1 1.2l2.6 5.5l2.4 3.8l1.7 2.2l1.9 1.9l2 1.7l1.8 1.4l4 2.4l4.7 2.9l4.1 2.8l3.5 2.5l4.8 3l14.9 8.9l4.3 2.8l2.8 2.1l2.1 1.8l2.7 2.5l1.2 1.3l1.7 2l1.2 1.8l1.1 1.9l0.9 1.9l0.7 2l0.5 1.9l0.4 1.9l0.2 1.9l0 1.9l-0.1 2.9l-0.4 2.8l-0.6 2.9l-0.7 2.9l-0.9 2.8l-1 2.9l-1.3 3.3l-1.2 2.4l-1.7 3.4l-1.4 2.4l-1.8 2.8l-2.1 2.9l-1.5 1.9l-1.8 2.2l-2.4 2.6l-2.4 2.3l-2.9 2.4l-2.6 2l174.9 0l0-239l-335 0l0 239z"/>
<path fill="#777776" fill-rule="evenodd" d="M460 643l0.1 0l-0.1-1.9l0.1-2.9l0.2-2.8l0.5-2.9l0.6-2.9l0.7-2.9l1.2-3.8l1.3-3.8l2.5-6.7l3.8-9.6l4.8-11.4l2.6-5.8l2.4-4.7l2.3-4.3l2-3.4l1.9-2.9l2-2.8l2.7-3.5l1.9-2.3l2.9-3.1l2.8-2.8l2-1.8l3.2-2.8l3.7-2.8l3.6-2.5l2.9-1.9l2.8-1.8l3.9-2.1l2.8-1.5l3.9-1.9l4-1.7l4.8-1.9l4.6-1.6l4-1.3l4.6-1.3l4.8-1.2l4.7-1l4.8-0.8l3.9-0.5l3.8-0.4l1.9-0.1l1.9 0.1l1 0.1l0.9 0.4l1 1l1.1 2.7l0.3 1l0.5 1.3l0.3 0.6l0.3 1l0.4 0.6l0.2 0.3l0.4 1l0.3 0.5l0.4 0.4l0.6 1.1l0.9 1.3l1.4 1.5l0.8 0.9l2.6 2.4l1 0.7l1.1 0.7l1.7 1l2 1l6.7 3.3l9 5.2l2.4 1.2l3.9 1.7l4.9 1.9l10.1 3.9l5.1 2.1l3.8 1.8l3.8 2l3.9 2.1l2.8 1.8l2.9 1.9l2.9 2.1l1.9 1.6l2.1 1.8l2.7 2.5l1.1 1.3l1.7 2l1.4 1.8l1.5 2.3l1 1.7l0.9 1.9l0.8 1.8l1 2.8l0.7 2.9l0.5 2.9l0.4 2.8l0.2 2.9l0.1 3.8l-0.1 3.8l-0.2 3.9l-0.4 4.7l-0.7 5.8l-0.8 5.7l-0.9 4.8l122.9 0l0-155.8l-4.8 0.8l-6.7 1.3l-11.5 2.4l-7.6 1.5l-6.7 1.2l-5.8 0.9l-4.8 0.6l-3.8 0.3l-5.7 0.3l-4.8-0.1l-4.8-0.3l-1.9-0.2l-2.9-0.5l-3.8-0.8l-1.9-0.6l-2.9-1.1l-2.9-2l-0.5-0.9l-0.5-0.9l-0.4-1l0.5-1.9l0.4-0.9l1.5-1.7l1.4-1.2l1.5-1.1l1.9-1.3l0.9-0.5l3.9-2l4.7-1.9l4.8-1.6l1-0.4l5.7-1.4l3.9-0.7l4.7-0.7l3.9-0.4l3.8-0.3l10.5-0.1l2.9 0.2l5.7 0.3l4.8 0.2l6.7 0.5l3.9 0l5.7-0.1l0-67.1l-335 0l0 239z"/>
<path fill="#828079" fill-rule="evenodd" d="M735.5 642l0.6 1l58.9 0l0-121.1l-6.7 0.1l-7.7 0.3l-8.6 0.5l-30.6 2.1l-7.7 0.2l-7.6 0.1l-7.7-0.1l-8.6-0.2l-9.6-0.5l-9.5-0.7l-6.7-0.5l-3.9-0.5l-2.8-0.5l-2.2-0.6l-1.7-0.7l-0.9-0.5l-1.1-0.7l-1.1-1l-0.9-0.9l-1.4-1.9l-0.7-1l-4.4-7l-1.1-1.6l-1.8-2.1l-1.9-2.2l-2.4-2.4l-5.1-4.8l-0.6-0.9l-0.5-1l0.1-0.9l0.3-1l0.7-1l0.9-0.9l1.8-1.5l2-1.3l1.5-1l8-4.9l8-4.7l6.4-3.9l5.9-3.7l4.6-3.2l3.8-2.8l3.9-3l3-2.5l3.7-3.3l2.5-2.5l3.6-3.8l4.2-4.8l3.8-4.7l5.6-7.7l5.9-8.6l4.3-6.7l2.8-4.8l2.7-4.7l0.5-1l-280 0l0 121.6l18.2-0.6l14.3-0.4l52.7-0.8l20.1-0.2l12.4 0l1 0l0.8 0.9l0.1 0.5l0.4 0.4l0.5 1l0.1 1.9l0 1.6l5.7-1.2l4.8-1.1l6.7-1.8l1-0.4l1.9-0.3l0.3 0.3l-1.3 1.6l-0.3 0.3l-1.9 2.9l-1 1.9l-0.8 1.9l-0.7 2.1l-0.5 1.7l-0.5 2.7l-0.1 1.2l-0.2 2.8l0.3 0l1 1l0.9 0l1 0.9l3.8 0.1l1 0.2l0.8 0.7l1.1 0.1l0.9 0.2l0.2 0.7l0.8 0.4l0.6 0.5l1.3 0.8l0.2 0.2l2.7 1.3l1.9 0.7l2.9 0.9l2.8 0.6l1.9 0.3l2 0.1l1.9 0.1l2.3-0.2l1.5-0.3l1.5-0.7l0.5-0.9l-0.1-0.2l-0.4-0.8l-2-1.9l-1.4-1l-5.2-3.8l-0.6-0.5l-0.6-0.4l-0.3-0.7l-0.6-0.3l0.6-0.5l0.1-0.4l1.8-1.8l0.1-0.1l1.9-2l0.2-0.9l0.7-0.7l0.1-0.3l0.8-0.9l0.2-1l0.8-0.9l0.3-2l0.6-0.6l0.2-0.3l0.2-1.9l0.3-1l0.3-0.5l0.4-1.4l0.6-0.9l0.9-0.4l1.9-0.2l3.9 0l14.3 0.1l8.6 0l4.8 0.1l2.9 0.3l0.2 0.1l-0.5 0.9l-0.7 2.1l-0.9 3.3l-0.4 1.3l-1.2 2.9l-1.4 2.8l-1.2 2l-1.6 2.1l-1.4 1.7l-1.9 1.9l-1.5 1.3l-2.8 2.3l-3 2.1l-1.2 1l-1 0.9l-0.4 1l0.2 0.9l0.7 1l1.2 1l4.5 2.8l8.7 4.8l10.4 5.6l7 4l6.4 3.8l6.1 3.8l4.4 3l3.8 2.8l3.9 3.1l3 2.6l3.1 2.9l2.8 2.8l2.5 3l2.2 2.8l2.1 2.8l1.8 2.9l2.2 3.8l2 3.8l3.6 7.7l3.1 6.7l2.3 4.8l2.1 3.8l0.5 0.9zM601.7 524.6l-0.2-0.1l0.3 0l-0.1 0.1zM612.2 545.5l-0.3 0l0.3-0.2l0 0.2zM614.1 501.5l-1-0.4l-0.9-0.2l-1-0.4l-0.9-0.4l-1-0.1l-1.3-0.4l-1.8-1l0.2-0.2l0.7-0.7l1.3-0.8l0.2-0.2l2.6-1.2l1.9-0.7l2.9-0.7l1.9-0.3l1.9-0.1l2 0l1.3 0.2l0.6 0.1l0.9 0.4l0.7 0.4l0.4 1l-0.3 0.9l-0.8 1l-1 0.9l-2.4 2l-1.4 0.9l-0.9 0.5l-1 0.3l-0.9 0.1l-1-0.2l-1.9-0.7z"/>
<path fill="#8f8a78" fill-rule="evenodd" d="M793.7 587.6l1.3 0.2l0-36.3l-4.8-0.3l-5.3 0l-6.2 0.2l-9.5 0.6l-3.9 0.4l-6.7 0.8l-3.8 0.4l-11.5 1.5l-3.8 0.7l-4.8 0.9l-5.7 1.5l-1.3 0.7l-1.6 1l-0.8 0.9l0.5 1.9l0.4 1l1.8 1.4l2.9 1.6l3.4 1.7l3.3 1.5l5.9 2.4l9.4 3.4l9.6 3.3l7.6 2.5l6.7 2l4.8 1.3l4.8 1.2l4.8 1.1l2.5 0.5zM566.4 521.6l3.7 0.4l2.8 0.2l2 0l0.9-0.1l1-0.1l1-0.4l0.9-1l1.2-2.8l0.2-1l0.5-1.2l0.4-0.7l0.3-1l0.3-0.5l0.3-0.4l0.3-1l0.3-0.4l0.5-0.5l0.5-1.1l0.9-1.3l1.4-1.5l0.9-0.9l2.5-2.3l1-0.7l0.9-0.6l0.3-0.2l0.7-0.5l2.9-1.4l2.8-1.3l2.9-1.4l2.2-1.2l6.5-3.8l2.8-1.4l3.4-1.5l2.4-0.9l5.7-2.1l7.6-2.8l3.9-1.6l3.8-1.7l3.8-1.9l3.8-2.1l2.9-1.7l2.9-1.9l2.9-2l1.9-1.5l2.8-2.4l2-1.7l1.9-2l1.3-1.4l1.5-1.9l1.4-1.9l1.8-2.9l1.5-2.8l1.2-2.9l1-2.9l0.8-3l0.6-2.7l0.5-2.9l0.5-3.8l0.3-4.8l0.2-4.8l0-4.7l-0.1-4.8l-0.4-3.9l-0.4-3.8l-0.6-3.8l-202 0l-0.4 2.9l-0.4 3.8l-0.3 3.8l0 3.8l0 3.9l0.3 4.7l0.5 4.8l0.8 5.8l1 5.7l1.2 5.7l1.2 4.8l1 3.8l1.5 4.8l1.5 3.8l1.6 3.9l1.8 3.8l1.6 2.9l1.9 3l1.9 2.7l2.1 2.9l2.5 2.8l3 3.2l1.9 1.9l3 2.6l2.8 2.2l2.9 2.2l2.8 2l2.9 1.8l2.9 1.7l3.8 2.1l3.8 1.9l3.9 1.7l3.9 1.6l4.7 1.7l3.8 1.2l4.8 1.4l4.8 1.3l3.8 0.8l4.8 1l4.8 0.8l3 0.4z"/>
<path fill="#9b9476" fill-rule="evenodd" d="M571.6 520.6l1.3 0.2l2 0l1.2-0.2l0.7-0.2l1.1-0.7l0.8-1.1l2.6-5.6l2.4-3.8l1.7-2.1l1.9-2l2-1.7l1.8-1.3l3.9-2.3l0.9-0.6l2.9-1.7l2.9-1.9l6.7-4.6l3.8-2.3l5.9-3.4l10-5.8l4.3-2.8l2.8-2.1l2-1.8l2.1-1.9l1.8-1.9l1.7-2.2l1.1-1.6l1.1-1.9l0.8-1.9l0.7-2l0.4-1.9l0.4-1.9l0.1-1.9l0-2.9l-0.2-2.8l-0.4-2.9l-0.6-2.9l-0.8-2.8l-0.9-2.9l-1.4-3.8l-1.2-3l-1.4-2.8l-1.5-2.9l-1.9-3.2l-1.9-2.8l-2-2.6l-2.2-2.8l-2.5-2.7l-2.2-2.1l-2.6-2.3l-1.9-1.5l-75.9 0l-2.7 1.9l-2.8 2.2l-1.9 1.7l-3 2.8l-1.8 2l-2.4 2.8l-2.1 2.9l-2 2.8l-1.7 2.9l-1.5 2.9l-1.4 2.8l-1.3 3.3l-1 2.7l-1 3l-0.6 2.5l-0.8 3.8l-0.6 3.8l-0.3 2.9l-0.2 2.9l0 3.8l0.1 2.9l0.2 2.8l0.6 3.9l0.7 3.1l0.7 2.6l0.9 2.9l1.3 3.4l1 2.3l1.4 2.9l1.7 2.8l1.9 2.9l2.1 2.9l2.4 2.8l1.9 2.1l1.9 1.9l2 1.8l2.8 2.2l2.1 1.6l2.8 1.9l3.7 2.2l3 1.6l4 2l3.5 1.4l2.9 1l2.9 0.9l2.9 0.8l2.8 0.5l0.6 0.1z"/>
<path fill="#a79d73" fill-rule="evenodd" d="M570.1 518.7l1.9 0.5l1.9 0.2l1 0l0.9-0.1l1-0.3l0.9-0.7l1.1-1.5l3.2-5.7l2-2.9l1.7-1.9l1.6-1.7l2.6-2.1l1.2-1l1.4-0.9l1.5-1.1l4-2.8l4.9-3.8l3.6-2.9l5.7-4.4l1.9-1.5l3.3-2.7l3.4-2.9l1.9-1.8l1.9-2.2l1.4-1.7l1.2-1.9l1-1.9l0.7-1.9l0.5-1.9l0.2-1.9l0-1.9l-0.3-2l-0.4-1.9l-0.6-1.9l-0.8-2.1l-1-2l-0.9-1.7l-1.1-1.8l-1.8-2.5l-1.9-2.4l-1.9-2l-1.9-1.9l-2.1-1.7l-1.8-1.4l-2.2-1.5l-1.6-1l-1.9-1l-2.9-1.3l-2.8-1.2l-2.9-0.9l-2.9-0.7l-2.9-0.5l-2.8-0.3l-2.9-0.1l-2.9 0l-2.8 0.2l-2.9 0.3l-2.9 0.6l-2.9 0.7l-2.8 0.9l-2.9 1.1l-2.9 1.3l-1.9 1l-1.9 1.1l-1.9 1.2l-2.1 1.5l-2.4 1.9l-1.3 1.1l-1.9 1.9l-1.9 2.1l-1.9 2.4l-1.5 2l-1.4 2.2l-1.4 2.6l-1.4 3l-1.1 2.7l-1 2.9l-0.7 2.9l-0.5 2.9l-0.4 2.8l-0.1 2.9l0 2.9l0.2 2.8l0.4 2.9l0.6 2.9l0.8 2.8l0.8 2.4l1 2.3l0.4 1.1l1.5 2.8l1.2 1.9l1.6 2.5l1.1 1.4l1.8 2.2l1.9 2l1.9 1.8l2 1.7l2.8 2.2l2.4 1.5l3.4 2l2.8 1.4l2 0.8l1.9 0.6z"/>
<path fill="#b5a86f" fill-rule="evenodd" d="M572.5 517.8l0.4 0.1l1 0.1l1 0l1.2-0.2l0.7-0.3l0.9-0.7l1-1.1l3.5-5.6l2.2-3l1.9-2.1l2-1.8l2.8-2.4l1.9-1.4l3.4-2.7l5.4-4.7l5.8-5.8l3.6-3.8l1.9-2.3l1.1-1.5l1.2-1.9l1-2l0.6-1.9l0.4-1.9l0.1-1.9l-0.3-1.9l-0.5-1.9l-0.8-1.9l-1.1-1.9l-1.4-2l-1.2-1.3l-1.9-1.9l-1.9-1.6l-2-1.4l-2.3-1.4l-1.9-1l-1.5-0.6l-1.9-0.8l-1.9-0.6l-1.9-0.5l-2.9-0.5l-2.9-0.3l-1.9-0.1l-1.9 0l-1.9 0.1l-1.9 0.3l-2 0.3l-1.9 0.4l-1.9 0.5l-2.4 0.9l-1.4 0.6l-1.9 0.8l-2.6 1.5l-1.5 0.9l-1.7 1.2l-2.1 1.7l-2.1 1.9l-1.7 1.9l-1.7 2.1l-1.2 1.7l-1.2 1.9l-1.1 2l-0.8 1.9l-1.1 2.8l-0.6 1.9l-0.5 2l-0.5 2.8l-0.2 2.9l-0.1 2.9l0.2 2.8l0.5 2.9l0.4 1.9l0.6 1.9l0.8 2.4l0.6 1.4l1.3 2.7l0.7 1.2l1.9 2.8l2.2 2.9l1.9 2l2 1.8l2.4 1.9l2.3 1.5l1.9 1.1l1 0.4l1.9 0.7l0.5 0.2z"/>
<path fill="#c2b369" fill-rule="evenodd" d="M571.8 515.9l1.1 0.4l1 0.2l1 0.1l0.9-0.1l1-0.4l0.9-0.7l1.3-1.5l0.7-0.9l2-2.9l1.8-2.4l1.1-1.4l1.8-1.9l2-1.9l2.7-2.4l1.9-1.6l2-1.8l2.9-2.8l2.8-3.1l2.3-2.7l2.2-2.8l1.8-2.9l1-1.9l0.7-1.9l0.4-1.9l0.1-1l0-1l-0.1-0.9l-0.2-1l-0.5-1.4l-0.2-0.5l-0.8-1.3l-1-1.3l-1-1.2l-1.8-1.6l-1.9-1.3l-2-1l-1.9-0.9l-1.9-0.7l-1.9-0.5l-1.9-0.4l-2.1-0.3l-1.7-0.1l-2 0l-2 0.1l-1.8 0.2l-1.9 0.4l-1.9 0.5l-2.3 0.8l-1.5 0.6l-2.6 1.3l-1.5 1l-1.7 1.1l-2 1.8l-2 1.9l-1.7 2l-1.3 1.8l-1.2 1.9l-1 1.9l-0.8 1.9l-0.7 1.9l-0.5 1.9l-0.4 2l-0.2 1.9l-0.2 1.9l0 1.9l0.1 1.9l0.2 1.9l0.4 1.9l0.5 1.9l0.6 2l0.8 1.9l0.9 1.9l1.1 1.9l1.3 1.9l1.5 1.9l1.8 1.9l1.9 1.6l0.9 0.7l1 0.6l1.7 1z"/>
<path fill="#d0be62" fill-rule="evenodd" d="M574.1 514.9l0.8 0.1l1.1-0.1l0.8-0.2l1-0.8l1-0.9l0.8-1l2.1-2.8l2.7-3.3l1.9-2.1l3.9-3.7l1.5-1.5l3.7-3.8l2.4-2.9l1.4-1.9l1.5-2.3l0.8-1.5l0.9-1.9l0.6-1.9l0.1-1l0.1-0.9l0-1l-0.1-0.9l-0.2-1l-0.4-0.9l-0.8-1.5l-1-1.2l-1-0.8l-0.9-0.7l-1.9-1.2l-1.9-0.8l-2-0.5l-1.9-0.4l-1.9-0.2l-1.9-0.1l-1.9 0.1l-1.9 0.2l-1.9 0.5l-2 0.5l-1.9 0.8l-1.9 0.9l-1.9 1.1l-1.9 1.4l-2 1.9l-1.8 1.9l-1 1.3l-1 1.5l-1.1 1.9l-0.8 2l-0.7 1.9l-0.5 1.9l-0.4 1.9l-0.2 1.9l0 1.9l0.1 1.9l0.2 1.9l0.4 2l0.5 1.9l0.7 1.9l0.9 1.9l1.1 1.9l1.3 1.9l1.7 1.9l1.6 1.4l1 0.6l0.9 0.5l1.2 0.4z"/>
<path fill="#dec958" fill-rule="evenodd" d="M573.8 513l0.1 0l1 0.3l0.9 0.1l1-0.2l0.9-0.5l1-0.8l1.9-2.2l1.2-1.5l3.6-4.2l3.8-4l1.4-1.4l2.5-2.8l1.5-1.9l1.9-2.9l1-1.9l0.7-1.9l0.5-1.9l0-1l0-1l-0.1-0.9l-0.3-1l-0.5-0.9l-0.9-1.2l-1-0.9l-1.3-0.8l-0.6-0.3l-1.8-0.6l-1.1-0.3l-1.9-0.3l-1.9-0.1l-1.9 0.1l-1.9 0.4l-1.9 0.5l-2 0.7l-1.9 0.9l-1.9 1.2l-1.9 1.6l-1.1 1l-1.7 1.9l-1 1.5l-1 1.6l-0.8 1.7l-0.7 1.9l-0.5 1.9l-0.4 1.9l-0.2 1.9l0 1.9l0.2 2l0.3 1.9l0.5 1.9l0.7 1.9l1 1.9l0.9 1.4l0.9 1.2l0.3 0.3l1 0.9l0.6 0.5l0.9 0.5z"/>
<path fill="#ebd44b" fill-rule="evenodd" d="M574.3 511.1l0.6 0.2l0.9 0.3l1-0.1l1-0.4l0.9-0.6l1.9-1.9l1.2-1.4l9.3-10.7l1.2-1.7l1.1-1.9l0.9-1.9l0.6-1.9l0.1-1l0.1-0.9l-0.1-1l-0.3-0.9l-0.7-1.2l-1-1l-1-0.7l-0.9-0.4l-0.9-0.3l-1.5-0.3l-1.4-0.1l-1.9 0.2l-1.9 0.3l-1.9 0.7l-2 0.8l-1.9 1.2l-0.9 0.8l-1.1 0.9l-1 1l-1.5 1.9l-0.6 0.9l-1.1 2l-0.8 1.9l-0.5 1.9l-0.4 1.9l-0.1 1.9l0 1.9l0.3 1.9l0.4 1.9l0.8 1.9l0.8 1.5l0.3 0.5l0.8 0.9l0.8 0.7l0.4 0.3z"/>
<path fill="#fbe138" fill-rule="evenodd" d="M575.5 509.2l0.3 0.1l1 0.3l0.9-0.2l1-0.5l0.9-0.7l2-1.9l2.8-3.2l3-3.5l1.4-1.9l1.2-1.9l1-1.9l0.4-1l0.2-0.9l0.2-1l0-1l-0.2-0.9l-0.5-1.1l-0.9-1l-1-0.5l-0.9-0.4l-1-0.1l-1-0.1l-0.9 0.1l-1.3 0.2l-0.6 0.2l-1 0.3l-1.9 0.9l-1 0.5l-1.2 1l-1.1 0.9l-0.9 1l-0.8 1l-1.2 1.9l-0.9 1.9l-0.6 1.9l-0.4 1.9l-0.1 1.9l0.1 1.9l0.4 1.9l0.3 1l0.7 1.3l0.5 0.6l0.5 0.5l0.6 0.5z"/>
<path fill="#fee838" fill-rule="evenodd" d="M576.3 506.3l0.5 0.4l0.9 0.4l1-0.2l1-0.6l1.2-1l1-0.9l1.7-1.9l1.6-1.9l1.3-2l0.8-1.3l0.7-1.5l0.3-1l0.2-0.9l0-1l-0.3-0.9l-0.9-1.1l-1-0.4l-0.9-0.2l-1 0.1l-0.9 0.2l-1.3 0.4l-0.6 0.3l-1.1 0.7l-1.2 0.9l-0.9 1l-0.8 0.9l-0.8 1.2l-0.8 1.7l-0.4 0.9l-0.4 2l-0.1 0.9l-0.1 1l0.1 0.9l0.2 1l0.5 1.3l0.5 0.6z"/>
<path fill="none" stroke="#000" stroke-width="1.4" d="M602.5 547.4l1.1 0.1l0.9 0.2l0.2 0.7l0.8 0.4l0.6 0.5l1.3 0.8l0.2 0.2l2.7 1.3l1.9 0.7l2.9 0.9l2.8 0.6l1.9 0.3l2 0.1l1.9 0.1l2.3-0.2l1.5-0.3l1.5-0.7l0.5-0.9l-0.1-0.2l-0.4-0.8l-2-1.9l-1.4-1l-5.2-3.8l-0.6-0.5l-0.6-0.4l-0.3-0.7l-0.6-0.3l0.6-0.5l0.1-0.4l1.8-1.8l0.1-0.1l1.9-2l0.1-0.2M596.9 546.4l1.9 0.1M594.9 545.5l0.1 0M612.2 545.5M623.7 536.2l0.1-0.3l0.8-0.9l0.2-1l0.8-0.9l0.1-1l0.2-0.3M626.5 530.5l0.2-0.3l0.2-1.9l0.3-0.7M580.6 528.3l0 1.6M627.5 526.8l0.4-1.4l0.6-0.9l0.9-0.4l1.9-0.2l3.9 0l14.3 0.1l8.6 0l4.8 0.1l2.9 0.3l0.2 0.1l-0.5 0.9l-0.7 2.1l-0.9 3.3l-0.4 1.3l-1.2 2.9l-1.4 2.8l-1.2 2l-1.6 2.1l-1.4 1.7l-1.9 1.9l-1.5 1.3l-2.8 2.3l-3 2.1l-1.2 1l-1 0.9l-0.4 1l0.2 0.9l0.7 1l1.2 1l4.5 2.8l8.7 4.8l10.4 5.6l7 4l6.4 3.8l6.1 3.8l4.4 3l3.8 2.8l3.9 3.1l3 2.6l3.1 2.9l2.8 2.8l2.5 3l2.2 2.8l2.1 2.8l1.8 2.9l2.2 3.8l2 3.8l3.6 7.7l3.1 6.7l2.3 4.8l2.1 3.8l1.1 1.9M460 525.6l18.2-0.6l14.3-0.4l52.7-0.8l20.1-0.2l12.4 0l1 0l0.8 0.9l0.1 0.5M795 521.9l-6.7 0.1l-7.7 0.3l-8.6 0.5l-30.6 2.1l-7.7 0.2l-7.6 0.1l-7.7-0.1l-8.6-0.2l-9.6-0.5l-9.5-0.7l-6.7-0.5l-3.9-0.5l-2.8-0.5l-2.2-0.6l-1.7-0.7l-0.9-0.5l-1.1-0.7l-1.1-1l-0.9-0.9l-1.4-1.9l-0.7-1l-4.4-7l-1.1-1.6l-1.8-2.1l-1.9-2.2l-2.4-2.4l-5.1-4.8l-0.6-0.9l-0.5-1l0.1-0.9l0.3-1l0.7-1l0.9-0.9l1.8-1.5l2-1.3l1.5-1l8-4.9l8-4.7l6.4-3.9l5.9-3.7l4.6-3.2l3.8-2.8l3.9-3l3-2.5l3.7-3.3l2.5-2.5l3.6-3.8l4.2-4.8l3.8-4.7l5.6-7.7l5.9-8.6l4.3-6.7l2.8-4.8l2.7-4.7l0.5-1M614.1 501.5l-1-0.4l-0.9-0.2l-1-0.4l-0.9-0.4l-1-0.1l-1.3-0.4l-1.8-1l0.2-0.2l0.7-0.7l1.3-0.8l0.2-0.2l2.6-1.2l1.9-0.7l2.9-0.7l1.9-0.3l1.9-0.1l2 0l1.3 0.2l0.6 0.1l0.9 0.4l0.7 0.4l0.4 1l-0.3 0.9l-0.8 1l-1 0.9l-2.4 2l-1.4 0.9l-0.9 0.5l-1 0.3l-0.9 0.1l-1-0.2l-1.9-0.7M545.9 404l-2.7 1.9l-2.8 2.2l-1.9 1.7l-3 2.8l-1.8 2l-2.4 2.8l-2.1 2.9l-2 2.8l-1.7 2.9l-1.5 2.9l-1.4 2.8l-1.3 3.3l-1 2.7l-1 3l-0.6 2.5l-0.8 3.8l-0.6 3.8l-0.3 2.9l-0.2 2.9l0 3.8l0.1 2.9l0.2 2.8l0.6 3.9l0.7 3.1l0.7 2.6l0.9 2.9l1.3 3.4l1 2.3l1.4 2.9l1.7 2.8l1.9 2.9l2.1 2.9l2.4 2.8l1.9 2.1l1.9 1.9l2 1.8l2.8 2.2l2.1 1.6l2.8 1.9l3.7 2.2l3 1.6l4 2l3.5 1.4l2.9 1l2.9 0.9l2.9 0.8l2.8 0.5l1.9 0.3l2 0l1.2-0.2l0.7-0.2l1.1-0.7l0.8-1.1l2.6-5.6l2.4-3.8l1.7-2.1l1.9-2l2-1.7l1.8-1.3l3.9-2.3l0.9-0.6l2.9-1.7l2.9-1.9l6.7-4.6l3.8-2.3l5.9-3.4l10-5.8l4.3-2.8l2.8-2.1l2-1.8l2.1-1.9l1.8-1.9l1.7-2.2l1.1-1.6l1.1-1.9l0.8-1.9l0.7-2l0.4-1.9l0.4-1.9l0.1-1.9l0-2.9l-0.2-2.8l-0.4-2.9l-0.6-2.9l-0.8-2.8l-0.9-2.9l-1.4-3.8l-1.2-3l-1.4-2.8l-1.5-2.9l-1.9-3.2l-1.9-2.8l-2-2.6l-2.2-2.8l-2.5-2.7l-2.2-2.1l-2.6-2.3l-1.9-1.5M550.6 474.9l-0.4 1.8l-0.5 2.8l-0.2 2.9l-0.1 2.9l0.2 2.8l0.5 2.9l0.4 1.9l0.6 1.9l0.8 2.4l0.6 1.4l1.3 2.7l0.7 1.2l1.9 2.8l2.2 2.9l1.9 2l2 1.8l2.4 1.9l2.3 1.5l1.9 1.1l1 0.4l1.9 0.7l0.9 0.3l1 0.1l1 0l1.2-0.2l0.7-0.3l0.9-0.7l1-1.1l3.5-5.6l2.2-3l1.9-2.1l2-1.8l2.8-2.4l1.9-1.4l3.4-2.7l5.4-4.7l5.8-5.8l3.6-3.8l1.9-2.3l1.1-1.5l1.2-1.9l1-2l0.6-1.9l0.4-1.9l0.1-1.9l-0.3-1.9l-0.5-1.9l-0.8-1.9l-1.1-1.9l-1.4-2l-1.2-1.3l-1.9-1.9l-1.9-1.6l-2-1.4l-2.3-1.4l-1.9-1l-1.5-0.6l-1.9-0.8l-1.9-0.6l-1.9-0.5l-2.9-0.5l-2.9-0.3l-1.9-0.1l-1.9 0l-1.9 0.1l-1.9 0.3l-2 0.3l-1.9 0.4l-1.9 0.5l-2.4 0.9l-1.4 0.6l-1.5 0.6M574.9 515l1.1-0.1l0.8-0.2l1-0.8l1-0.9l0.8-1l2.1-2.8l2.7-3.3l1.9-2.1l3.9-3.7l1.5-1.5l3.7-3.8l2.4-2.9l1.4-1.9l1.5-2.3l0.8-1.5l0.9-1.9l0.6-1.9l0.1-1l0.1-0.9l0-1l-0.1-0.9l-0.2-1l-0.4-0.9l-0.8-1.5l-1-1.2l-1-0.8l-0.9-0.7l-1.9-1.2l-1.9-0.8l-2-0.5l-1.9-0.4l-1.9-0.2l-1.9-0.1l-1.9 0.1l-1.9 0.2l-1.9 0.5l-2 0.5l-1.9 0.8l-1.9 0.9l-1.9 1.1l-1.9 1.4l-2 1.9l-1.8 1.9l-1 1.3l-1 1.5l-1.1 1.9l-0.8 2l-0.7 1.9l-0.5 1.9l-0.4 1.9l-0.2 1.9l0 1.9l0.1 1.9l0.2 1.9l0.4 2l0.5 1.9l0.7 1.9l0.9 1.9l1.1 1.9l1.3 1.9l1.7 1.9l1.6 1.4l1 0.6l0.9 0.5l1.2 0.4zM575.6 486.3l-0.9 0.9l-1.5 1.9l-0.6 0.9l-1.1 2l-0.8 1.9l-0.5 1.9l-0.4 1.9l-0.1 1.9l0 1.9l0.3 1.9l0.4 1.9l0.8 1.9l0.8 1.5l0.3 0.5l0.8 0.9l0.8 0.7l1 0.5l0.9 0.3l1-0.1l1-0.4l0.9-0.6l1.9-1.9l1.2-1.4l9.3-10.7l1.3-1.8M584.8 490.3l-0.4 0.1l-0.9 0.2l-1.3 0.4l-0.6 0.3l-1.1 0.7l-1.2 0.9l-0.9 1l-0.8 0.9l-0.8 1.2l-0.8 1.7l-0.4 0.9l-0.4 1.5"/>
<path fill="none" stroke="#000" stroke-width="1.4" stroke-dasharray="5.1 2.2" d="M583.5 556.1l-1-0.3l-1.4-0.8l-0.5-0.2l-1-0.8l-0.9-0.9l-1-1.1l-1.1-1.7l-0.8-2l-0.2-0.9l-0.3-1.9l0-1l0-0.9l0.2-1l0.4-0.9l0.9-1.1l0.9-0.4l1 0.1l0.9 0.5l1.1 0.9l1 0.9l1.8 1.9l1.9 2.5l1 1.4l1 1.9l0.4 0.9l0.3 1l0.1 0.9l-0.1 1l-0.4 0.9l-0.4 0.5l-1 0.6l-0.9 0.2l-1 0zM583.5 564.8l-1.9-0.6l-2-0.9l-1.9-1.2l-1.6-1.3l-1-1l-0.9-0.9l-0.7-1l-1.2-1.9l-0.5-1l-0.8-1.9l-0.6-1.9l-0.4-1.9l-0.1-1.9l0-1.9l0.3-1.9l0.4-1.9l0.8-1.9l0.6-1.2l0.9-1.3l1-0.9l1-0.6l0.9-0.2l1 0l0.9 0.4l1.3 0.9l0.9 0.9l1.7 1.8l0.9 1.1l3.4 3.8l4.3 4.9l1.3 1.8l1.2 1.9l1 1.9l0.7 2l0.2 0.9l0.1 1l0 0.9l-0.2 1l-0.5 1.3l-0.4 0.6l-0.6 0.6l-0.9 0.7l-1.3 0.6l-0.6 0.2l-1 0.2l-1.9 0.2l-1.9-0.1l-1-0.1zM585.4 577.1l-1.9-0.2l-1.9-0.4l-2-0.5l-1.9-0.7l-1.9-0.9l-2-1.2l-1.8-1.3l-1.9-1.7l-1.6-1.8l-1.3-1.6l-1-1.5l-0.9-1.8l-1-2.2l-0.5-1.5l-0.5-1.9l-0.3-1.9l-0.2-1.9l-0.1-1.9l0.1-1.9l0.2-1.9l0.4-2l0.5-1.9l0.7-1.9l0.9-1.9l1.1-1.9l1.3-1.9l1.7-1.9l1.4-1.2l1.1-0.7l0.8-0.5l1-0.3l1-0.2l0.9 0.1l1 0.3l0.9 0.6l1 0.9l1.9 2.4l1.1 1.4l2.3 2.9l2.3 2.6l4.8 4.6l1.5 1.4l3.5 3.8l1.7 2.3l1.2 1.6l1.2 1.9l1 1.9l0.8 1.9l0.5 1.9l0.1 1l0.1 0.9l-0.1 1.1l-0.1 0.8l-0.3 1l-0.5 1.1l-1 1.3l-1 1.1l-0.9 0.7l-1 0.7l-1.9 1l-1.9 0.8l-1.9 0.5l-1.9 0.4l-1.9 0.1l-2 0.1zM582.3 599.2l-2.7-0.3l-1.9-0.4l-1.9-0.4l-1.9-0.6l-1.9-0.7l-1.9-0.8l-1.9-0.9l-2-1.1l-2.4-1.7l-1.4-1l-2-1.8l-1.9-1.9l-1.8-2.3l-1.2-1.6l-1.2-1.9l-1-1.9l-0.9-1.9l-0.8-1.9l-0.7-2.2l-0.4-1.6l-0.6-2.9l-0.3-2.9l-0.1-2.8l0.1-2.9l0.2-1.9l0.5-2.9l0.6-2.4l0.5-1.4l0.6-1.9l0.9-1.9l0.9-2l1-1.9l1.3-1.9l1.5-2.1l1.4-1.7l1.8-1.9l2.1-1.9l2.4-2l1.9-1.2l1.9-1.1l1.9-0.9l1.9-0.5l1-0.2l1 0l0.9 0.1l1 0.4l0.9 0.7l1 1.2l2.9 4.5l1.2 1.8l1.6 2.1l1.9 2.1l2 1.8l3.1 2.6l2.6 2l3.4 2.8l5.2 4.9l3.8 3.8l2.9 3.1l1.4 1.6l2.3 2.9l1.7 2.8l0.9 2l0.6 1.9l0.2 1.9l0 1.9l-0.3 1.9l-0.3 1l-0.7 1.8M538.3 643l-2.3-1.9l-0.9-0.8M517.6 606.5l-0.5-2.7l-0.4-2.9l-0.3-3.8l-0.2-3.8l0-2.9l0.2-3.8l0.3-3.8l0.5-2.9l0.5-2.9l0.7-2.8l0.9-3.2l1-2.7l1.1-2.7l1.4-2.9l1.5-2.9l1.8-2.8l1.9-2.9l2.2-2.9l2.5-2.9l2.8-2.8l3.1-2.9l2.8-2.2l2.8-2.1l2.1-1.4l3-1.9l3.5-1.9l3.9-1.9l1.9-0.8l1.9-0.8l2.9-1l2.8-0.9l2.9-0.7l1.9-0.4l1.9-0.3l2 0l0.9 0.1l1 0.3l0.9 0.6l1 1.2l2.6 5.5l2.4 3.8l1.7 2.2l1.9 1.9l2 1.7l1.8 1.4l4 2.4l4.7 2.9l4.1 2.8l3.5 2.5l4.8 3l14.9 8.9l4.3 2.8l2.8 2.1l2.1 1.8l2.7 2.5l1.2 1.3l1.7 2l1.2 1.8l1.1 1.9l0.9 1.9l0.7 2l0.5 1.9l0.4 1.9l0.2 1.9l0 1.9l-0.1 2.9l-0.4 2.8l-0.6 2.9l-0.7 2.9l-0.9 2.8l-1 2.9l-1.3 3.3l-1.2 2.4l-1.7 3.4l-1.4 2.4l-1.8 2.8l-2.1 2.9l-1.5 1.9l-1.8 2.2l-2.4 2.6l-2.4 2.3l-2.9 2.4l-2.6 2"/>
<ellipse cx="603.6" cy="523.5" rx="25.2" ry="25.2" fill="#fff"/>
<text transform="translate(601.1 595.7) rotate(-26.2)" text-anchor="middle" y="4.9" font-size="20.8px">-0.2</text>
<text transform="translate(523.5 624.9) rotate(-297.2)" text-anchor="middle" y="4.9" font-size="20.8px">-0.1</text>
<text transform="translate(558.0 460.9) rotate(-50.1)" text-anchor="middle" y="4.9" font-size="20.8px">0.2</text>
<text transform="translate(590.2 481.7) rotate(-334.1)" text-anchor="middle" y="4.9" font-size="20.8px">0.4</text>
<text transform="translate(583.7 502.4) rotate(-43.5)" text-anchor="middle" y="4.9" font-size="20.8px">0.5</text>
</g>
<rect x="460" y="404" width="335" height="239" fill="none" stroke="#000" stroke-width="2"/>
<text x="627.5" y="388.6" text-anchor="middle">PINN, steady</text>
<g clip-path="url(#c12)">
<rect x="822" y="404" width="334" height="239" fill="#00224e"/>
<path fill="#002758" fill-rule="evenodd" d="M822 643l334 0l0-239l-334 0l0 239zM944.1 556.4l-0.9-0.5l-1.4-0.9l-1.2-0.9l-0.9-1l-0.8-0.9l-0.6-1l-0.8-1.6l-0.5-1.2l-0.4-2l-0.1-0.9l-0.1-1l0.1-1l0.2-0.9l0.3-0.9l0.5-1l0.9-0.8l1-0.2l0.9 0.2l1.3 0.8l1.1 1l1 0.9l1.4 1.6l1.9 2.4l1.3 1.8l0.6 1l1 2.1l0.2 0.7l0.2 0.9l0 1l-0.4 1.3l-0.5 0.6l-0.5 0.3l-0.9 0.4l-1 0.2l-0.9-0.1l-1-0.1l-1-0.3z"/>
<path fill="#00306f" fill-rule="evenodd" d="M822 643l334 0l0-239l-334 0l0 239zM945.1 560.8l-1-0.3l-1.9-0.8l-1.3-0.8l-1.2-1l-1.1-0.9l-0.9-1l-0.7-1l-0.7-0.9l-1-1.9l-0.7-1.9l-0.5-1.9l-0.2-2l0-1.9l0.2-1.9l0.5-1.7l0.1-0.2l0.4-0.9l0.7-1l0.9-1l0.8-0.4l0.9-0.2l1 0.2l0.9 0.5l1.1 0.9l1 1l1.8 1.9l4.7 5.5l1 1.2l1.3 1.9l1 1.9l0.5 1.1l0.3 0.8l0.3 0.9l0.1 1l0 1l-0.1 0.9l-0.6 1.2l-0.9 1l-1 0.5l-0.9 0.3l-1 0.2l-0.9 0.1l-1-0.1l-0.9-0.1l-1-0.2z"/>
<path fill="#1a386f" fill-rule="evenodd" d="M822 643l334 0l0-239l-334 0l0 239zM947 565.6l-1.9-0.3l-1.9-0.6l-1.9-0.8l-1.9-1.1l-1.4-1.1l-1.1-0.9l-0.9-1l-0.8-0.9l-0.7-1l-1.2-1.9l-0.9-1.9l-0.7-2.1l-0.3-1.7l-0.3-1.9l0-2l0.2-1.9l0.3-1.9l0.6-1.9l0.5-1l0.4-0.9l0.7-1l0.8-1l1.1-0.9l0.8-0.4l1-0.2l0.9 0l1 0.4l1.4 1.2l0.5 0.4l11.4 13.1l1.3 1.8l1.1 1.9l0.5 1.1l0.7 1.8l0.3 1.4l0 0.5l0 0.9l-0.1 1l-0.3 0.9l-0.6 1.1l-1 1l-1.1 0.8l-0.8 0.3l-0.9 0.4l-1.5 0.3l-1.4 0.1l-1.9-0.1z"/>
<path fill="#2d416d" fill-rule="evenodd" d="M822 643l334 0l0-239l-334 0l0 239zM944.1 570.4l-1.9-0.5l-1.9-0.8l-1.9-1l-1.9-1.2l-1.6-1.3l-1.2-1.3l-1.4-1.6l-1.3-1.9l-0.5-1l-0.9-1.9l-0.7-1.9l-0.5-1.9l-0.4-1.9l-0.1-1.9l0-2.4l0.2-1.5l0.3-1.9l0.5-1.9l0.8-1.9l1.1-2.2l0.9-1.4l0.2-0.2l0.8-1l1-0.9l1.5-1l0.4-0.2l0.9-0.3l1 0l0.9 0.2l1 0.5l0.9 0.8l1.9 2.2l1.3 1.6l3.5 4.1l3.4 3.5l4.4 4.8l1.4 1.9l1.9 2.9l0.9 1.9l0.7 1.9l0.4 1.9l0.1 1l-0.1 1l-0.2 0.9l-0.5 1.4l-0.3 0.5l-0.7 1l-1.1 0.9l-0.7 0.5l-1 0.6l-1 0.4l-1.9 0.6l-1.9 0.3l-1.9 0.2l-1.9-0.1l-1.9-0.3l-1-0.2z"/>
<path fill="#3c4a6c" fill-rule="evenodd" d="M822 643l334 0l0-239l-334 0l0 239zM943.2 577.1l-1.9-0.5l-1.9-0.6l-1.9-0.9l-1.9-1l-1.9-1.3l-2-1.6l-1.7-1.8l-1.1-1.4l-1.1-1.5l-1.1-1.9l-0.9-1.9l-0.8-1.9l-0.5-1.9l-0.4-1.9l-0.3-2l-0.1-1.9l0.1-1.9l0.2-1.9l0.3-1.9l0.5-1.9l0.6-1.9l0.8-1.9l1-1.9l1.2-2l1.6-1.9l0.9-0.9l1-1l1.8-1.2l0.9-0.4l1-0.4l0.9-0.1l1 0l0.9 0.3l1.2 0.9l0.9 0.9l0.8 1l2.9 3.8l1.9 2.3l1.9 2.1l3.8 3.7l1.9 1.8l1.6 1.6l3.3 3.8l1.8 2.4l1 1.4l1.1 1.9l0.9 1.9l0.7 2l0.3 1.9l0.1 0.9l-0.1 1l-0.2 1.3l-0.2 0.6l-0.8 1.6l-0.2 0.3l-0.7 1l-1 0.9l-1.2 1l-1.6 1l-1.9 0.9l-2 0.6l-1.9 0.5l-1.9 0.3l-1.9 0.1l-1.9 0l-1.9-0.2l-1.9-0.3z"/>
<path fill="#49536c" fill-rule="evenodd" d="M822 643l334 0l0-239l-334 0l0 239zM946.1 586.6l-2.9-0.2l-1.9-0.4l-1.9-0.4l-1.9-0.7l-1.9-0.7l-1.9-0.9l-2.5-1.5l-1.4-1l-1.9-1.5l-1.3-1.3l-1.7-1.9l-1.7-2.3l-1-1.5l-1-2l-0.9-1.9l-0.7-1.9l-0.5-1.9l-0.5-1.9l-0.2-1.9l-0.2-1.9l0-1.9l0-2l0.3-1.9l0.3-1.9l0.5-2.2l0.5-1.6l0.8-1.9l0.9-1.9l1-1.9l1.2-1.9l1.4-2l1.9-2l1.9-1.8l1.9-1.5l0.9-0.6l2-0.9l0.9-0.4l1-0.2l0.9-0.1l1 0.2l0.9 0.3l1 0.7l1.3 1.6l0.7 0.9l1.9 2.9l1.8 2.4l1.2 1.4l1.8 1.9l2 1.9l2.6 2.4l1.9 1.6l2 1.8l2.9 2.8l2.6 2.9l3.8 4.8l2.1 3.4l0.7 1.4l0.8 1.9l0.4 1.9l0.2 0.9l0 1l-0.2 1.6l0 0.3l-0.3 1l-0.6 1.5l-0.8 1.3l-0.7 1l-0.8 0.9l-1.6 1.5l-1.9 1.4l-1.9 1.2l-1.9 1l-1.9 0.8l-1.9 0.6l-1.9 0.5l-1.9 0.4l-1.9 0.2l-1.9 0.1l-1.9 0z"/>
<path fill="#555c6d" fill-rule="evenodd" d="M822 643l334 0l0-239l-334 0l0 239zM940.3 599.1l-2.8-0.6l-1.9-0.5l-2.6-0.9l-1.3-0.5l-1.9-0.9l-1.9-1l-2.1-1.4l-1.7-1.2l-2-1.7l-1.9-1.9l-1.8-2l-1.9-2.5l-1-1.5l-0.9-1.6l-1-2l-0.9-2.1l-0.6-1.7l-0.6-1.9l-0.5-1.9l-0.4-1.9l-0.2-1.9l-0.2-1.9l0-1.9l0-2l0.3-2.8l0.3-1.9l0.4-2l0.6-1.9l0.9-2.5l0.5-1.3l0.9-1.9l1.6-2.9l1.2-1.9l1.5-1.9l1.6-1.9l2.2-2.3l1.7-1.5l2.5-1.9l2.5-1.7l0.9-0.5l1.9-0.9l2-0.7l0.9-0.2l1-0.2l0.9 0l1 0.1l0.9 0.4l1 0.8l0.9 1.1l3.5 5.6l2.3 2.9l1.9 2.1l1.9 1.9l2.8 2.3l1.9 1.5l3.4 2.7l4.3 3.8l3.9 3.8l3.7 3.9l2.5 2.8l2.3 3.1l1.1 1.7l0.9 1.9l0.7 1.9l0.4 1.9l0.1 1.9l-0.2 1.9l-0.3 1l-0.6 1.9l-0.5 1l-1.1 1.9l-1.4 1.9l-1 1.2l-1.9 1.9l-2 1.7l-1.8 1.4l-2.4 1.4l-1.7 1l-1.9 1l-2.4 0.9l-1.2 0.4l-2.9 0.9l-1.9 0.4l-2.8 0.4l-2.9 0.2l-1.9 0.1l-1.9-0.1l-1.9-0.2l-1-0.1z"/>
<path fill="#61656f" fill-rule="evenodd" d="M822 643l334 0l0-239l-334 0l0 239zM934.6 618.2l-2.9-0.6l-2.8-0.9l-2.9-1.1l-2.7-1.3l-2.1-1.1l-1.9-1.2l-2.2-1.5l-1.6-1.2l-2-1.7l-2-1.9l-1.8-1.9l-1.8-2.2l-1.9-2.6l-1.2-1.9l-1.7-3l-1.3-2.7l-1.1-2.9l-1-2.9l-0.7-2.8l-0.5-2.9l-0.4-2.9l-0.1-2.8l0-2.9l0.2-2.9l0.4-2.8l0.6-2.9l0.8-2.9l1-2.8l1.2-2.9l1-1.9l1-1.9l1.8-2.8l0.9-1.3l1.3-1.7l1.6-1.9l1.9-1.9l2-1.9l2.2-1.9l2.5-1.9l2.9-1.9l2.8-1.6l1.9-1l1.9-0.9l1.9-0.8l1.9-0.6l2-0.5l1.9-0.2l0.9 0l1 0.1l0.9 0.4l1 0.7l1.1 1.5l3.1 5.7l2.1 2.9l1.6 1.9l1.6 1.7l2.6 2.1l1.2 1l1.4 0.9l1.5 1.1l4 2.8l3.6 2.9l8.6 7l4.3 3.5l4.4 3.8l1.9 1.9l1.8 1.9l1.5 1.9l1.4 2.2l0.9 1.6l0.7 1.9l0.4 2l0.2 1.9l0 1.9l-0.3 1.9l-0.4 1.9l-0.7 1.9l-0.8 1.9l-1 1.9l-1.2 2l-1.6 2.4l-1.9 2.3l-1.7 1.9l-1.9 2l-1.2 1l-2.1 1.8l-2.5 1.9l-2.1 1.4l-2.8 1.7l-2.9 1.5l-2.9 1.3l-2.8 1.1l-2.9 0.9l-2.9 0.6l-2.8 0.6l-2.9 0.3l-2.9 0.2l-2.8-0.1l-2.9-0.2l-2.8-0.4l-1-0.2z"/>
<path fill="#6c6d72" fill-rule="evenodd" d="M822 643l83.4 0l-2.3-1.7l-2.6-2.1l-1.2-1.1l-2.9-2.7l-1.9-2l-2.5-2.8l-1.6-1.9l-2.1-2.9l-1.9-2.9l-1.6-2.8l-1.5-2.9l-1.3-2.9l-1.2-2.8l-1-2.9l-1-3.8l-0.9-3.9l-0.4-2.8l-0.4-2.9l-0.2-3.8l-0.1-2.9l0.2-3.8l0.2-2.9l0.6-3.8l0.6-2.9l0.9-3.4l0.7-2.3l1.2-3.2l1.1-2.5l1.4-2.9l1.6-2.9l1.9-2.9l2.1-2.8l2.4-2.9l1.9-2l1.9-1.9l1.9-1.8l2.9-2.4l1.9-1.5l2.8-2l2.9-1.8l3.4-1.9l3.8-1.9l4.4-1.9l3.7-1.3l2.8-0.9l2.9-0.8l2.8-0.6l2-0.3l1.9-0.2l0.9 0l1.4 0.3l0.5 0.1l1 0.6l0.9 1.2l2.7 5.7l2.3 3.8l1.7 2.1l1.9 2l2 1.7l1.8 1.3l3.9 2.4l0.9 0.5l2.9 1.7l2.8 2l6.7 4.6l3.8 2.5l14.8 8.9l4.3 2.9l2.9 2.2l1.9 1.7l1.9 1.8l1.7 1.9l1.4 1.9l1.2 1.9l1 1.9l0.7 1.9l0.5 2l0.3 1.9l0.1 1.9l0 1.9l-0.2 2.2l-0.3 1.6l-0.6 2.9l-0.9 2.8l-1.1 3l-1.2 2.8l-1.6 3.3l-1.4 2.4l-1.7 2.9l-1.9 2.9l-2.1 2.8l-2.2 2.9l-2.2 2.5l-2.9 3l-2.8 2.7l-2.9 2.5l-2.9 2.3l-3.1 2.3l-2.6 1.7l-0.3 0.2l184.5 0l0-239l-334 0l0 239z"/>
<path fill="#777776" fill-rule="evenodd" d="M1022.3 643l133.7 0l0-144.2l-5.7 0.5l-6.7 0.6l-16.2 1.7l-5.8 0.4l-4.7 0.1l-4.8 0l-3.8-0.2l-3.8-0.3l-5.8-0.7l-2.8-0.4l-6.7-1.4l-1.9-0.6l-4.8-1.5l-1.9-0.8l-1.9-0.8l-1.1-0.6l-2.7-1.9l-1.4-1.9l-0.3-1l-0.1-1.9l0.4-0.9l1.4-2l0.9-1.1l1-0.9l2.9-2l2.8-1.8l3.2-1.8l3.7-1.9l3.6-1.7l1-0.4l10.8-4.6l6.3-2.4l7.7-2.7l8.6-2.7l6.7-1.9l8.5-2.4l11.5-2.9l1.9-0.5l0-49.5l-334 0l0 229.3l0.4-2.7l0.6-2.9l1-3.8l0.9-3.1l1.5-4.6l2.7-7.6l4.4-11.5l3.5-8.6l2.6-5.7l2.4-5l2-3.6l1.9-3.1l1.9-3l1.9-2.7l2.1-2.7l2.6-3.1l2.5-2.6l2.9-2.9l3.2-2.9l3.6-2.8l4.1-2.9l2.9-1.9l3.7-2.3l3.9-2.1l3.8-1.8l3.8-1.7l4-1.7l4.6-1.7l3.8-1.2l4.8-1.4l4.7-1.2l4.8-1.1l3.8-0.7l4.8-0.8l4.8-0.6l3.8-0.4l2.9-0.1l1.9 0l0.9 0.2l1.1 0.4l0.9 1l1.1 2.8l0.3 1l0.4 1.2l0.4 0.7l0.3 1l0.3 0.5l0.3 0.4l0.4 1l0.2 0.4l0.5 0.5l0.5 1l1 1.4l1.3 1.5l0.9 0.9l2.5 2.3l1 0.7l0.9 0.6l0.3 0.2l0.7 0.5l2.9 1.5l3.8 1.7l0.9 0.5l1.9 1l8.6 5.1l2.9 1.4l3.9 1.7l4.8 1.9l10.4 4l4.1 1.8l4.1 1.9l3.6 1.9l3.4 2l3 1.8l2.8 2l2.8 2.2l1.9 1.7l1.9 1.8l2 2.1l1.3 1.7l1.5 2.2l1 1.6l0.9 1.9l1 2.4l0.4 1.4l0.5 2.3l0.4 2.5l0.2 1.9l0 2.9l-0.1 2.9l-0.2 2.8l-0.6 3.9l-0.6 3.8l-1 4.8l-1.2 4.7l-1.8 6.7l-2.2 7.7l-0.6 1.9z"/>
<path fill="#828079" fill-rule="evenodd" d="M1085.2 642l0.5 1l70.3 0l0-116.7l-6.7 0.1l-7.6 0.2l-27.7 1l-8.6 0.1l-9.5-0.2l-22.9-0.3l-7.7 0l-6.6 0.3l-5.8 0.3l-4.7 0.5l-3.9 0.6l-2.8 0.6l-2.9 0.7l-1.9 0.7l-1.9 0.8l-1.9 1.1l-1.9 1.3l-2.2 1.8l-2 1.9l-7.3 7.1l-3 2.5l-2.7 2.1l-3.5 2.7l-1 0.9l-0.6 1l-0.1 0.9l0.4 1.1l1 1l0.9 0.8l2.9 2l9.7 5.7l7.5 4.3l6.9 4.3l4.5 3l3.9 2.8l3.8 2.9l3.1 2.7l3.1 2.9l2.7 2.9l2.5 2.9l1.9 2.5l1 1.3l1.9 3l1.6 2.7l2.2 4.3l1.6 3.4l4 9.5l2.4 5.7l2.5 5.8l3.6 7.6l1 1.9zM980.8 554.1l1.5 0.1l1.9 0.1l1.9 0l1.9-0.2l1-0.3l1.5-0.7l0.3-0.9l-0.4-1l-2-1.9l-1.3-1l-6.4-4.7l-0.3-0.5l-0.9-0.5l-1 0.1l-0.8 0.9l-0.2 0l-0.9 0.5l-0.4 0.4l-0.6 0.1l-0.9 0.4l-0.5 0.5l-1.4 0.1l-1 0.9l-1.9 0.1l-0.9 0.1l-1 0.3l-0.4 0.4l-0.5 0.3l-0.5 0.7l0.5 0.2l0.9 0.8l1.9 1.2l1.9 0.9l1.9 0.8l2.9 0.9l2.9 0.7l1.3 0.2zM978.5 541.7l1 0.9l0.9-0.8l0.1-0.1l1.9-1.9l1.9-2l0-0.9l0.9-1l0.4-0.9l0.5-0.6l0.1-0.4l0.2-0.9l0.7-0.8l0.1-1.2l0.9-0.9l0-1.9l0.1-1l0.3-0.9l0.5-1l0.3-0.9l0.7-0.8l1.5-0.2l12.1-1l3.5-0.5l2.9-0.5l1.9-0.6l1.9-0.7l1.2-0.5l1.5-1l1-0.9l0.8-1l0.5-0.9l0.4-1l0.3-1.4l0.1-0.5l0-1.9l-0.3-1.9l-0.6-2l-1.1-2.2l-0.9-1.6l-1.3-1.9l-1.6-1.9l-3.4-3.8l-0.6-1l-0.5-0.9l-0.1-1l0.2-0.9l0.6-1l0.9-1l1-0.9l1.9-1.4l2.3-1.5l8.2-4.8l9.6-5.5l6.9-4l7.4-4.6l3.8-2.4l3.8-2.7l3.8-2.8l3.8-2.9l3.2-2.8l3.1-2.9l2.7-2.8l2.5-2.9l2.1-2.9l2-2.8l1.6-2.7l1.2-2.1l2-3.8l1.8-3.9l2.4-5.7l6.7-16.2l0.4-1l-273.1 0l0 122.4l5.7-0.4l8.6-0.8l11.5-1l7.6-0.5l7.6-0.4l8.6-0.2l11.5-0.1l16.2 0.1l20 0.2l18.2 0.1l2.8-0.1l0.9-0.8l0.1-0.6l0.3-0.3l0.5-1l0.1-1.9l0-1l7.7 3.1l2.8 1.1l2.9 0.8l1.9 0.5l2.1 0.3l1.7 0.2l1.9 0l1 0.2l0.6 0.6l-0.7 0.9l-0.2 1l-0.1 0.9l0 1l0.2 0.9l0.2 0.6l0.9 0.2l1-0.8l1-1l0 0.1l1.1 0.9l1.7 2l7.6 9.5l1 1zM976.6 501.8l-4.8-1.7l-1.9-0.3l-0.9-0.5l-1.3-0.7l0.3-0.2l0.6-0.7l1.3-0.8l0.2-0.2l2.7-1.2l2-0.7l2.7-0.6l2.1-0.3l1.8-0.1l2.1 0.1l0.7 0.1l1 0.2l1.2 0.6l0.5 1l-0.3 0.9l-0.7 1l-2.1 1.9l-2.4 1.7l-1 0.5l-0.9 0.4l-1 0.1l-1-0.2l-0.9-0.3z"/>
<path fill="#8f8a78" fill-rule="evenodd" d="M1155 593.3l1 0.2l0-41.6l-5.7-0.2l-7.7 0l-10.5 0.2l-3.8 0.1l-19.1 1.3l-6.6 0.5l-2.9 0.3l-7.6 1l-1.9 0.4l-5.8 1.5l-3.8 1.9l-1.5 1.9l-0.1 0.9l0.5 2l0.4 0.9l2.6 2.3l2.1 1.5l2.7 1.7l2.2 1.2l1.6 0.8l1 0.4l3.8 1.8l9.6 3.7l10.4 3.5l8.6 2.8l15.3 4.7l8.6 2.5l6.6 1.8zM929.6 521.6l3.1 0.3l2.9 0.2l1.9-0.1l0.9-0.2l1-0.3l0.9-1l1.1-2.7l0.3-1l0.5-1.3l0.4-0.6l0.3-1l0.3-0.6l0.3-0.3l0.3-1l0.3-0.5l0.5-0.4l0.5-1.1l1-1.3l1.3-1.5l0.9-0.9l2.5-2.4l1-0.6l1.2-0.8l0.7-0.5l2.9-1.5l2.8-1.2l2.9-1.4l2.1-1.2l6.7-3.8l2.6-1.3l3.6-1.6l2.4-0.9l5.5-2l6.7-2.4l4.7-1.9l3.9-1.8l3.8-1.9l3.8-2.1l2.8-1.8l2.9-1.9l2-1.4l2.8-2.2l1.9-1.6l2-2l1.8-1.9l1.9-2.2l1.2-1.6l1.2-1.9l1.1-1.9l0.9-1.9l0.7-1.9l0.6-2l0.5-1.9l0.5-2.8l0.2-1.9l0.1-2.9l0-2.9l-0.2-2.9l-0.4-3.8l-0.7-4.6l-0.7-4l-1.3-5.7l-1.2-4.8l-1.8-6.7l-0.7-1.9l-204.2 0l0 44.3l8.7 11.1l9.6 12.5l4.7 5.7l3.7 4.2l2.9 3.1l2.3 2.3l3.4 3.2l2.9 2.5l3.5 2.9l4.1 3l3.8 2.5l2.9 1.8l2.8 1.7l3.9 2l3.8 1.9l3.8 1.7l4.8 1.9l4.7 1.8l5.5 1.8l6 1.7l4.8 1.2l4.7 1l4.8 1l4.8 0.7l0.7 0.1z"/>
<path fill="#9b9476" fill-rule="evenodd" d="M934.3 520.6l1.3 0.1l1.6-0.1l0.3 0l0.9-0.3l1-0.6l0.9-1.2l2.6-5.5l2.4-3.8l1.7-2.1l1.9-2l2-1.7l1.8-1.3l3.9-2.3l0.9-0.6l2.9-1.7l2.8-1.9l6.9-4.6l3.6-2.3l5.8-3.2l3.8-2.2l4.9-2.8l3.7-2.3l2.2-1.5l2.5-2l2.2-1.9l2-1.9l1.7-1.9l1.4-1.9l1.3-2.1l0.9-1.7l0.7-1.9l0.5-2l0.3-1.9l0.2-1.9l-0.1-1.9l-0.1-1.9l-0.5-2.7l-0.5-2.1l-0.8-2.8l-1-2.9l-1.3-2.9l-1.3-2.9l-1.7-3.1l-2-3.1l-1.9-2.8l-1.9-2.5l-2.3-2.8l-2.4-2.6l-2.2-2.2l-2.6-2.3l-2.9-2.3l-2.8-2.1l-2.9-1.9l-3.2-1.9l-2.5-1.4l-1.1-0.5l-72.9 0l-2.4 1.4l-2.8 2l-1.9 1.6l-2 1.7l-1.9 2l-1.9 2.3l-1.6 2.4l-1.2 2.1l-1 1.8l-1.2 2.8l-1 2.8l-0.9 2.9l-0.6 2.9l-0.5 2.8l-0.5 3.9l-0.3 3.8l-0.1 3.8l0 3.8l0.2 3.9l0.3 3.8l0.5 3.8l0.7 3.8l0.7 2.9l1.1 3.8l0.9 2.9l1.1 2.9l1.5 3.4l1.2 2.3l1.7 3.1l1.7 2.6l2.1 3l1.9 2.4l1.9 2.2l1 1l2.9 2.9l2.8 2.5l1.9 1.5l2.9 2.2l2.8 1.9l2.9 1.8l2.9 1.6l3.8 1.9l3.8 1.7l2.9 1.1l1.9 0.7l2.8 0.9l2.9 0.7l1.9 0.4l1.6 0.2z"/>
<path fill="#a79d73" fill-rule="evenodd" d="M932.2 518.7l1.5 0.4l1.9 0.2l0.9 0l1-0.1l1.1-0.5l0.8-0.5l1-1.4l3.2-5.7l2-2.9l1.7-1.9l1.6-1.7l2.6-2.1l1.2-1l1.4-0.9l1.5-1.1l4.1-2.8l4.8-3.8l3.6-2.9l4.7-3.6l1.9-1.5l3.2-2.5l4.5-3.8l2-1.9l1.7-2l1.5-1.9l1.2-1.9l0.9-1.9l0.6-1.9l0.4-1.9l0.1-1.9l-0.1-1.9l-0.3-2l-0.5-1.9l-0.9-2.2l-1-2l-0.9-1.6l-1.2-1.8l-1.7-2.3l-1.9-2.3l-2-2.1l-2.2-1.9l-1.5-1.3l-2.2-1.6l-1.6-1.1l-2.9-1.7l-2.8-1.4l-2.9-1.2l-2.9-1.1l-2.8-0.8l-2.9-0.7l-3.4-0.6l-2.3-0.3l-2.9-0.2l-2.9-0.1l-2.8 0.1l-2.9 0.2l-2.8 0.4l-2.9 0.6l-2.9 0.7l-2.8 0.9l-2.9 1.1l-2.9 1.4l-1.9 1l-1.9 1.2l-2.3 1.6l-1.5 1.2l-1.9 1.7l-2 1.9l-1.8 2.1l-1.3 1.7l-1.6 2.3l-0.9 1.5l-1.1 2l-0.9 1.9l-1.2 2.8l-0.6 2.1l-0.8 2.7l-0.6 2.9l-0.4 2.9l-0.2 2.8l0 2.9l0.1 2.9l0.4 2.8l0.5 2.9l0.7 2.9l0.9 2.8l1.2 2.9l1.3 2.9l1.6 2.8l1.3 1.9l2 2.9l2.5 2.9l1.9 2l1.9 1.8l2.8 2.4l1.9 1.5l2.9 1.9l3.2 1.9l2.5 1.2l1.9 0.8l2.4 0.8z"/>
<path fill="#b5a86f" fill-rule="evenodd" d="M934.6 517.8l1 0.1l0.9 0l1.1-0.1l0.8-0.4l1-0.7l0.9-1.1l3.5-5.5l2.3-3l1.9-2.1l1.9-1.8l2.8-2.4l1.9-1.4l3.4-2.7l5.4-4.7l6.8-6.7l2.7-2.9l1.8-2.2l1.2-1.6l1.2-1.9l0.9-2l0.6-1.9l0.3-1.9l0.1-0.9l-0.2-1.9l-0.4-2l-0.8-1.9l-0.5-0.9l-1.2-1.9l-1.2-1.6l-1.2-1.3l-1.7-1.6l-1.9-1.6l-2.4-1.6l-1.6-0.9l-1.8-1l-2.2-1l-1.5-0.5l-2.9-0.9l-2.9-0.7l-2.8-0.4l-2.9-0.3l-2.8 0l-2.9 0.2l-1.9 0.3l-2.5 0.4l-1.3 0.4l-2.2 0.6l-1.6 0.6l-2 0.7l-1.9 0.9l-1.9 1.1l-2.3 1.5l-1.5 1.1l-2.1 1.7l-1.9 1.9l-1.7 2l-1.4 1.9l-1.3 1.9l-1.1 2l-1 2l-0.9 2.5l-0.7 2.1l-0.5 1.9l-0.3 1.9l-0.3 1.9l-0.1 2.9l0 1.9l0.1 1.9l0.2 1.9l0.4 1.9l0.6 2.9l0.6 1.9l0.9 2.3l0.7 1.5l1.5 2.9l1.6 2.6l1 1.4l1.4 1.7l1.7 2l1.9 1.9l2.2 1.9l2.7 1.9l1.6 1l1.9 0.9l1.9 0.7l0.9 0.3z"/>
<path fill="#c2b369" fill-rule="evenodd" d="M933.7 515.9l0.9 0.3l1 0.2l0.9 0.1l1-0.1l0.9-0.4l1-0.6l1.2-1.5l0.7-0.9l2-2.9l1.8-2.4l1.2-1.4l1.7-1.9l2-1.9l2.7-2.4l1.9-1.6l2-1.8l3-2.8l2.7-3l2.3-2.8l2.5-3.2l1-1.6l1-1.9l0.9-1.9l0.5-1.9l0.2-0.9l0-1l0-1l-0.1-0.9l-0.2-1l-0.5-1.3l-0.3-0.6l-0.6-1.1l-1-1.3l-1.3-1.4l-1.6-1.3l-1.9-1.3l-1.9-1l-1.9-0.9l-1.9-0.7l-2-0.5l-1.8-0.4l-1.9-0.3l-1.9-0.2l-1.9 0l-1.9 0.1l-2 0.2l-1.9 0.3l-1.9 0.5l-2.3 0.7l-1.5 0.6l-1.9 0.9l-1.9 1.1l-2 1.2l-1.8 1.5l-1.9 1.8l-1.4 1.5l-1.5 1.9l-1.3 1.9l-1 2l-0.9 1.9l-0.7 1.9l-0.6 1.9l-0.4 1.9l-0.3 1.9l-0.2 1.9l0 1.9l0.1 2l0.2 1.9l0.3 1.9l0.5 1.9l0.6 1.9l0.8 2.3l0.8 1.5l1.6 2.9l1.5 2.1l1.3 1.7l1.8 1.9l1.6 1.4l1 0.8l1.9 1.2l1 0.5z"/>
<path fill="#d0be62" fill-rule="evenodd" d="M936.2 514.9l0.3 0.1l1-0.1l0.9-0.3l1-0.7l1-0.9l1.5-1.9l1.3-1.7l0.9-1.2l2-2.3l1.9-2.1l3.8-3.7l1.9-1.8l1.6-1.6l3.4-3.8l1.7-2.2l1.1-1.6l1.1-1.9l1-1.9l0.7-2l0.3-0.9l0.2-1l0.1-0.9l-0.1-1l-0.1-0.9l-0.2-1l-0.4-0.9l-0.9-1.5l-0.9-1.1l-1-0.8l-0.9-0.7l-1.9-1.1l-1.9-0.8l-2-0.6l-1.9-0.4l-1.9-0.2l-1.9-0.1l-1.9 0.1l-1.9 0.2l-1.9 0.4l-1.9 0.5l-1.9 0.7l-1.9 0.9l-1.9 1.1l-2 1.4l-1.9 1.7l-1.2 1.2l-1.5 1.9l-1.1 1.6l-0.9 1.7l-0.8 1.5l-0.7 1.9l-0.6 1.9l-0.4 1.9l-0.2 2l-0.1 1.9l0 1.9l0.2 1.9l0.3 1.9l0.5 1.9l0.6 1.9l1.2 2.7l0.6 1.1l1.3 2l1.4 1.9l1.4 1.4l1 0.8l1 0.6l0.9 0.5l1 0.4l0.6 0.1z"/>
<path fill="#dec958" fill-rule="evenodd" d="M935.6 513l0.9 0.3l1 0l0.9-0.2l1-0.5l0.9-0.8l1.9-2.1l1.2-1.5l3.6-4.2l3.8-3.9l1.4-1.5l2.6-2.8l1.8-2.4l1-1.4l1.1-2l0.8-1.9l0.6-1.9l0.3-1.6l0-0.3l0-1l-0.2-0.9l-0.3-1l-0.5-0.9l-0.9-1.2l-1-0.9l-1.3-0.8l-0.6-0.3l-1.9-0.6l-1-0.3l-1.9-0.3l-1.9-0.1l-1.9 0.2l-1.9 0.3l-1.9 0.5l-1.9 0.7l-1.9 0.9l-1.9 1.2l-1.9 1.5l-1.2 1.1l-0.9 0.9l-1.5 2l-0.6 0.9l-1 1.9l-0.8 1.9l-0.7 2.3l-0.4 1.6l-0.2 1.9l-0.1 1.9l0.1 1.9l0.3 1.9l0.4 1.9l0.6 1.9l0.8 1.9l1.1 2l1.2 1.5l1 1l0.9 0.7l1 0.6z"/>
<path fill="#ebd44b" fill-rule="evenodd" d="M936.1 511.1l0.4 0.2l1 0.2l0.9 0l1.1-0.4l0.8-0.6l1.9-1.9l2-2.3l4.7-5.3l2.2-2.4l1.6-2l1.3-1.8l1.1-1.9l0.5-1l0.7-1.9l0.3-0.9l0.1-1l0-0.9l-0.1-1.3l-0.3-0.6l-0.7-1.3l-1-1l-0.9-0.6l-1-0.4l-0.9-0.3l-1.4-0.3l-1.5-0.1l-1.9 0.2l-1.9 0.3l-1.9 0.6l-2 0.9l-1.8 1.2l-1 0.8l-1.1 0.9l-1 1l-1.5 1.9l-0.6 0.9l-1 2l-0.8 1.9l-0.5 1.9l-0.4 1.9l-0.1 1.9l0 1.9l0.3 2.1l0.5 1.7l0.7 1.9l0.8 1.4l0.3 0.6l0.9 0.9l0.7 0.6l0.5 0.4z"/>
<path fill="#fbe138" fill-rule="evenodd" d="M937.2 509.2l0.3 0.1l0.9 0.2l1-0.1l0.9-0.5l1-0.7l1.9-1.9l2.9-3.2l2.9-3.5l1.5-1.9l1.3-2l0.9-2l0.3-0.8l0.3-0.9l0.2-1l0-1l-0.2-0.9l-0.6-1.2l-0.9-1l-1-0.5l-0.9-0.3l-1-0.2l-0.9 0l-1 0l-1.5 0.3l-1.4 0.4l-1.9 0.9l-0.9 0.6l-1.3 1l-1.1 0.9l-0.9 1l-0.7 1l-1.2 1.9l-0.9 1.9l-0.6 1.9l-0.4 1.9l-0.1 1.9l0.1 1.9l0.4 1.9l0.4 1l0.6 1.2l0.5 0.7l0.4 0.5l0.7 0.5z"/>
<path fill="#fee838" fill-rule="evenodd" d="M937.9 506.3l0.5 0.4l1 0.4l0.9-0.2l1.1-0.6l1.2-1l1-0.9l1.7-1.9l1.7-2.2l1.2-1.7l0.7-1.1l0.8-1.7l0.3-1l0.2-0.9l0-1l-0.3-1.2l-0.7-0.7l-0.3-0.3l-0.9-0.3l-1-0.2l-0.9 0.1l-1 0.2l-1.4 0.5l-0.5 0.3l-1.1 0.7l-1.2 0.9l-0.9 1l-0.8 0.9l-0.8 1.2l-0.8 1.7l-0.4 0.9l-0.4 2l-0.1 0.9l0 1l0.1 0.9l0.2 1l0.5 1.3l0.4 0.6z"/>
<path fill="none" stroke="#000" stroke-width="1.4" d="M967.6 547.4l-0.5 0.3l-0.5 0.7l0.5 0.2l0.9 0.8l1.9 1.2l1.9 0.9l1.9 0.8l2.9 0.9l2.9 0.7l1.9 0.3l1.9 0.1l1.9 0l1.9-0.1l0.9-0.1l1-0.3l1.5-0.7l0.3-0.9l-0.4-1l-2-1.9l-1.3-1l-6.4-4.7l-0.3-0.5l-0.9-0.5M972 546.4l-0.2 0.1l-1.9 0.1l-0.2 0.1M974.2 545.5l-0.6 0.1M976.2 544.5l-0.6 0.1l-0.3 0.3M977.7 543.6l-0.2 0l-0.3 0.4M979.5 542.6l0.9-0.8l0.1-0.1l1.9-1.9l1.9-2M985.2 536l0-0.1l0.3-0.3M986.1 534.4l0.1-0.4l0.2-0.2M987.1 532.3l0.1-0.3M988 530.3l0.1-0.1l0-1.9l0.1-0.2M834 525.4l15.7-1.4l7.6-0.4l7.6-0.3l9.6-0.2l13.3-0.1l17.2 0.1l34.4 0.3l0.9-0.1l0.9-0.8l0.1-0.6M989 525.6l0.3-1.1l0.7-0.8l1.5-0.2l12.1-1l3.5-0.5l2.9-0.5l1.9-0.6l1.9-0.7l1.2-0.5l1.5-1l1-0.9l0.8-1l0.5-0.9l0.4-1l0.3-1.4l0.1-0.5l0-1.9l-0.3-1.9l-0.6-2l-1.1-2.2l-0.9-1.6l-1.3-1.9l-1.6-1.9l-3.4-3.8l-0.6-1l-0.5-0.9l-0.1-1l0.2-0.9l0.6-1l0.9-1l1-0.9l1.9-1.4l2.3-1.5l8.2-4.8l9.6-5.5l6.9-4l7.4-4.6l3.8-2.4l3.8-2.7l3.8-2.8l3.8-2.9l3.2-2.8l3.1-2.9l2.7-2.8l2.5-2.9l2.1-2.9l2-2.8l1.6-2.7l1.2-2.1l2-3.8l1.8-3.9l2.4-5.7l6.7-16.2l0.4-1M1156 526.3l-6.7 0.1l-7.6 0.2l-27.7 1l-8.6 0.1l-9.5-0.2l-22.9-0.3l-7.7 0l-6.6 0.3l-5.8 0.3l-4.7 0.5l-3.9 0.6l-2.8 0.6l-2.9 0.7l-1.9 0.7l-1.9 0.8l-1.9 1.1l-1.9 1.3l-2.2 1.8l-2 1.9l-7.3 7.1l-3 2.5l-2.7 2.1l-3.5 2.7l-1 0.9l-0.6 1l-0.1 0.9l0.4 1.1l1 1l0.9 0.8l2.9 2l9.7 5.7l7.5 4.3l6.9 4.3l4.5 3l3.9 2.8l3.8 2.9l3.1 2.7l3.1 2.9l2.7 2.9l2.5 2.9l1.9 2.5l1 1.3l1.9 3l1.6 2.7l2.2 4.3l1.6 3.4l4 9.5l2.4 5.7l2.5 5.8l3.6 7.6l1.5 2.9M942.2 518.7l0-1M976.6 501.8l-4.8-1.7l-1.9-0.3l-0.9-0.5l-1.3-0.7l0.3-0.2l0.6-0.7l1.3-0.8l0.2-0.2l2.7-1.2l2-0.7l2.7-0.6l2.1-0.3l1.8-0.1l2.1 0.1l0.7 0.1l1 0.2l1.2 0.6l0.5 1l-0.3 0.9l-0.7 1l-2.1 1.9l-2.4 1.7l-1 0.5l-0.9 0.4l-1 0.1l-1-0.2zM896.9 404l-2.4 1.4l-2.8 2l-1.9 1.6l-2 1.7l-1.9 2l-1.9 2.3l-1.6 2.4l-1.2 2.1l-1 1.8l-1.2 2.8l-1 2.8l-0.9 2.9l-0.6 2.9l-0.5 2.8l-0.5 3.9l-0.3 3.8l-0.1 3.8l0 3.8l0.2 3.9l0.3 3.8l0.5 3.8l0.7 3.8l0.7 2.9l1.1 3.8l0.9 2.9l1.1 2.9l1.5 3.4l1.2 2.3l1.7 3.1l1.7 2.6l2.1 3l1.9 2.4l1.9 2.2l1 1l2.9 2.9l2.8 2.5l1.9 1.5l2.9 2.2l2.8 1.9l2.9 1.8l2.9 1.6l3.8 1.9l3.8 1.7l2.9 1.1l1.9 0.7l2.8 0.9l2.9 0.7l1.9 0.4l1.9 0.3l1.9 0l1-0.1l0.9-0.3l1-0.6l0.9-1.2l2.6-5.5l2.4-3.8l1.7-2.1l1.9-2l2-1.7l1.8-1.3l3.9-2.3l0.9-0.6l2.9-1.7l2.8-1.9l6.9-4.6l3.6-2.3l5.8-3.2l3.8-2.2l4.9-2.8l3.7-2.3l2.2-1.5l2.5-2l2.2-1.9l2-1.9l1.7-1.9l1.4-1.9l1.3-2.1l0.9-1.7l0.7-1.9l0.5-2l0.3-1.9l0.2-1.9l-0.1-1.9l-0.1-1.9l-0.5-2.7l-0.5-2.1l-0.8-2.8l-1-2.9l-1.3-2.9l-1.3-2.9l-1.7-3.1l-2-3.1l-1.9-2.8l-1.9-2.5l-2.3-2.8l-2.4-2.6l-2.2-2.2l-2.6-2.3l-2.9-2.3l-2.8-2.1l-2.9-1.9l-3.2-1.9l-2.5-1.4l-1.1-0.5M911.6 475.3l-0.4 2.3l-0.3 1.9l-0.1 2.9l0 1.9l0.1 1.9l0.2 1.9l0.4 1.9l0.6 2.9l0.6 1.9l0.9 2.3l0.7 1.5l1.5 2.9l1.6 2.6l1 1.4l1.4 1.7l1.7 2l1.9 1.9l2.2 1.9l2.7 1.9l1.6 1l1.9 0.9l1.9 0.7l0.9 0.3l1 0.1l0.9 0l1.1-0.1l0.8-0.4l1-0.7l0.9-1.1l3.5-5.5l2.3-3l1.9-2.1l1.9-1.8l2.8-2.4l1.9-1.4l3.4-2.7l5.4-4.7l6.8-6.7l2.7-2.9l1.8-2.2l1.2-1.6l1.2-1.9l0.9-2l0.6-1.9l0.3-1.9l0.1-0.9l-0.2-1.9l-0.4-2l-0.8-1.9l-0.5-0.9l-1.2-1.9l-1.2-1.6l-1.2-1.3l-1.7-1.6l-1.9-1.6l-2.4-1.6l-1.6-0.9l-1.8-1l-2.2-1l-1.5-0.5l-2.9-0.9l-2.9-0.7l-2.8-0.4l-2.9-0.3l-2.8 0l-2.9 0.2l-1.9 0.3l-2.5 0.4l-1.3 0.4l-2.2 0.6l-1.6 0.6l-2.5 1M936.5 515l1-0.1l0.9-0.3l1-0.7l1-0.9l1.5-1.9l1.3-1.7l0.9-1.2l2-2.3l1.9-2.1l3.8-3.7l1.9-1.8l1.6-1.6l3.4-3.8l1.7-2.2l1.1-1.6l1.1-1.9l1-1.9l0.7-2l0.3-0.9l0.2-1l0.1-0.9l-0.1-1l-0.1-0.9l-0.2-1l-0.4-0.9l-0.9-1.5l-0.9-1.1l-1-0.8l-0.9-0.7l-1.9-1.1l-1.9-0.8l-2-0.6l-1.9-0.4l-1.9-0.2l-1.9-0.1l-1.9 0.1l-1.9 0.2l-1.9 0.4l-1.9 0.5l-1.9 0.7l-1.9 0.9l-1.9 1.1l-2 1.4l-1.9 1.7l-1.2 1.2l-1.5 1.9l-1.1 1.6l-0.9 1.7l-0.8 1.5l-0.7 1.9l-0.6 1.9l-0.4 1.9l-0.2 2l-0.1 1.9l0 1.9l0.2 1.9l0.3 1.9l0.5 1.9l0.6 1.9l1.2 2.7l0.6 1.1l1.3 2l1.4 1.9l1.4 1.4l1 0.8l1 0.6l0.9 0.5l1 0.4l0.6 0.1zM936.5 487l-1 1.1l-1.3 1.9l-1 2l-0.8 1.9l-0.5 1.9l-0.4 1.9l-0.1 1.9l0 1.9l0.3 2.1l0.5 1.7l0.7 1.9l0.8 1.4l0.3 0.6l0.9 0.9l0.7 0.6l0.9 0.6l1 0.2l0.9 0l1.1-0.4l0.8-0.6l1.9-1.9l2-2.3l4.7-5.3l2.2-2.4l1.6-2l1.3-1.8l0.7-1.1M946.7 490.3l-0.6 0l-1 0.2l-1.4 0.5l-0.5 0.3l-1.1 0.7l-1.2 0.9l-0.9 1l-0.8 0.9l-0.8 1.2l-0.8 1.7l-0.4 0.9l-0.3 1.5"/>
<path fill="none" stroke="#000" stroke-width="1.4" stroke-dasharray="5.1 2.2" d="M944.1 556.4l-0.9-0.5l-1.4-0.9l-1.2-0.9l-0.9-1l-0.8-0.9l-0.6-1l-0.8-1.6l-0.5-1.2l-0.4-2l-0.1-0.9l-0.1-1l0.1-1l0.2-0.9l0.3-0.9l0.5-1l0.9-0.8l1-0.2l0.9 0.2l1.3 0.8l1.1 1l1 0.9l1.4 1.6l1.9 2.4l1.3 1.8l0.6 1l1 2.1l0.2 0.7l0.2 0.9l0 1l-0.4 1.3l-0.5 0.6l-0.5 0.3l-0.9 0.4l-1 0.2l-0.9-0.1l-1-0.1l-1-0.3M947 565.6l-1.9-0.3l-1.9-0.6l-1.9-0.8l-1.9-1.1l-1.4-1.1l-1.1-0.9l-0.9-1l-0.8-0.9l-0.7-1l-1.2-1.9l-0.9-1.9l-0.7-2.1l-0.3-1.7l-0.3-1.9l0-2l0.2-1.9l0.3-1.9l0.6-1.9l0.5-1l0.4-0.9l0.7-1l0.8-1l1.1-0.9l0.8-0.4l1-0.2l0.9 0l1 0.4l1.4 1.2l0.5 0.4l11.4 13.1l1.3 1.8l1.1 1.9l0.5 1.1l0.7 1.8l0.3 1.4l0 0.5l0 0.9l-0.1 1l-0.3 0.9l-0.6 1.1l-1 1l-1.1 0.8l-0.8 0.3l-0.9 0.4l-1.5 0.3l-1.4 0.1l-1.9-0.1M943.2 577.1l-1.9-0.5l-1.9-0.6l-1.9-0.9l-1.9-1l-1.9-1.3l-2-1.6l-1.7-1.8l-1.1-1.4l-1.1-1.5l-1.1-1.9l-0.9-1.9l-0.8-1.9l-0.5-1.9l-0.4-1.9l-0.3-2l-0.1-1.9l0.1-1.9l0.2-1.9l0.3-1.9l0.5-1.9l0.6-1.9l0.8-1.9l1-1.9l1.2-2l1.6-1.9l0.9-0.9l1-1l1.8-1.2l0.9-0.4l1-0.4l0.9-0.1l1 0l0.9 0.3l1.2 0.9l0.9 0.9l0.8 1l2.9 3.8l1.9 2.3l1.9 2.1l3.8 3.7l1.9 1.8l1.6 1.6l3.3 3.8l1.8 2.4l1 1.4l1.1 1.9l0.9 1.9l0.7 2l0.3 1.9l0.1 0.9l-0.1 1l-0.2 1.3l-0.2 0.6l-0.8 1.6l-0.2 0.3l-0.7 1l-1 0.9l-1.2 1l-1.6 1l-1.9 0.9l-2 0.6l-1.9 0.5l-1.9 0.3l-1.9 0.1l-1.9 0l-1.9-0.2l-1.9-0.3M944.4 599.4l-1.2 0l-1.9-0.2l-1.9-0.3l-1.9-0.4l-1.9-0.5l-2.6-0.9l-1.3-0.5l-1.9-0.9l-1.9-1l-2.1-1.4l-1.7-1.2l-2-1.7l-1.9-1.9l-1.8-2l-1.9-2.5l-1-1.5l-0.9-1.6l-1-2l-0.9-2.1l-0.6-1.7l-0.6-1.9l-0.5-1.9l-0.4-1.9l-0.2-1.9l-0.2-1.9l0-1.9l0-2l0.3-2.8l0.3-1.9l0.4-2l0.6-1.9l0.9-2.5l0.5-1.3l0.9-1.9l1.6-2.9l1.2-1.9l1.5-1.9l1.6-1.9l2.2-2.3l1.7-1.5l2.5-1.9l2.5-1.7l0.9-0.5l1.9-0.9l2-0.7l0.9-0.2l1-0.2l0.9 0l1 0.1l0.9 0.4l1 0.8l0.9 1.1l3.5 5.6l2.3 2.9l1.9 2.1l1.9 1.9l2.8 2.3l1.9 1.5l3.4 2.7l4.3 3.8l3.9 3.8l3.7 3.9l2.5 2.8l2.3 3.1l1.1 1.7l0.9 1.9l0.7 1.9l0.4 1.9l0.1 1.9l-0.2 1.9l-0.3 1l-0.6 1.9l-0.1 0.1M905.4 643l-2.3-1.7l-2.6-2.1l-0.8-0.7M879.2 606.2l-0.7-2.4l-0.6-2.9l-0.4-2.8l-0.4-2.9l-0.2-3.8l-0.1-2.9l0.2-3.8l0.2-2.9l0.6-3.8l0.6-2.9l0.9-3.4l0.7-2.3l1.2-3.2l1.1-2.5l1.4-2.9l1.6-2.9l1.9-2.9l2.1-2.8l2.4-2.9l1.9-2l1.9-1.9l1.9-1.8l2.9-2.4l1.9-1.5l2.8-2l2.9-1.8l3.4-1.9l3.8-1.9l4.4-1.9l3.7-1.3l2.8-0.9l2.9-0.8l2.8-0.6l2-0.3l1.9-0.2l0.9 0l1.4 0.3l0.5 0.1l1 0.6l0.9 1.2l2.7 5.7l2.3 3.8l1.7 2.1l1.9 2l2 1.7l1.8 1.3l3.9 2.4l0.9 0.5l2.9 1.7l2.8 2l6.7 4.6l3.8 2.5l14.8 8.9l4.3 2.9l2.9 2.2l1.9 1.7l1.9 1.8l1.7 1.9l1.4 1.9l1.2 1.9l1 1.9l0.7 1.9l0.5 2l0.3 1.9l0.1 1.9l0 1.9l-0.2 2.2l-0.3 1.6l-0.6 2.9l-0.9 2.8l-1.1 3l-1.2 2.8l-1.6 3.3l-1.4 2.4l-1.7 2.9l-1.9 2.9l-2.1 2.8l-2.2 2.9l-2.2 2.5l-2.9 3l-2.8 2.7l-2.9 2.5l-2.9 2.3l-3.1 2.3l-2.6 1.7l-0.3 0.2"/>
<ellipse cx="965.1" cy="523.5" rx="25.2" ry="25.2" fill="#fff"/>
<text transform="translate(963.0 595.2) rotate(-28.0)" text-anchor="middle" y="4.9" font-size="20.8px">-0.2</text>
<text transform="translate(887.0 623.9) rotate(-302.6)" text-anchor="middle" y="4.9" font-size="20.8px">-0.1</text>
<text transform="translate(918.6 461.1) rotate(-50.5)" text-anchor="middle" y="4.9" font-size="20.8px">0.2</text>
<text transform="translate(950.8 481.5) rotate(-340.9)" text-anchor="middle" y="4.9" font-size="20.8px">0.4</text>
<text transform="translate(945.3 502.4) rotate(-43.1)" text-anchor="middle" y="4.9" font-size="20.8px">0.5</text>
<text transform="translate(818.7 523.5) rotate(0.0)" text-anchor="middle" y="4.9" font-size="20.8px">0.0</text>
</g>
<rect x="822" y="404" width="334" height="239" fill="none" stroke="#000" stroke-width="2"/>
<text x="989.0" y="388.6" text-anchor="middle">PINN, unsteady</text>
<path fill="#00224e" d="M302.2 673.4L269.1 679.15L302.2 684.9z"/>
<path fill="#fee838" d="M952.5 673.4L985.6 679.15L952.5 684.9z"/>
<rect x="301.70" y="673.4" width="33.06" height="11.5" fill="#002758"/>
<rect x="334.26" y="673.4" width="33.06" height="11.5" fill="#00306f"/>
<rect x="366.83" y="673.4" width="33.06" height="11.5" fill="#1a386f"/>
<rect x="399.39" y="673.4" width="33.06" height="11.5" fill="#2d416d"/>
<rect x="431.96" y="673.4" width="33.06" height="11.5" fill="#3c4a6c"/>
<rect x="464.52" y="673.4" width="33.06" height="11.5" fill="#49536c"/>
<rect x="497.09" y="673.4" width="33.06" height="11.5" fill="#555c6d"/>
<rect x="529.65" y="673.4" width="33.07" height="11.5" fill="#61656f"/>
<rect x="562.22" y="673.4" width="33.06" height="11.5" fill="#6c6d72"/>
<rect x="594.78" y="673.4" width="33.06" height="11.5" fill="#777776"/>
<rect x="627.35" y="673.4" width="33.07" height="11.5" fill="#828079"/>
<rect x="659.91" y="673.4" width="33.07" height="11.5" fill="#8f8a78"/>
<rect x="692.48" y="673.4" width="33.06" height="11.5" fill="#9b9476"/>
<rect x="725.04" y="673.4" width="33.06" height="11.5" fill="#a79d73"/>
<rect x="757.61" y="673.4" width="33.07" height="11.5" fill="#b5a86f"/>
<rect x="790.17" y="673.4" width="33.07" height="11.5" fill="#c2b369"/>
<rect x="822.74" y="673.4" width="33.06" height="11.5" fill="#d0be62"/>
<rect x="855.30" y="673.4" width="33.07" height="11.5" fill="#dec958"/>
<rect x="887.87" y="673.4" width="33.07" height="11.5" fill="#ebd44b"/>
<rect x="920.43" y="673.4" width="32.57" height="11.5" fill="#fbe138"/>
<path fill="none" stroke="#000" stroke-width="2" stroke-linejoin="miter" d="M301.7 673.4H953.0L985.6 679.15L953.0 684.9H301.7L269.1 679.15z"/>
<text transform="translate(288.7 727.2) scale(1.215 1.5)">−</text><text x="303.7" y="721.9">5</text>
<text transform="translate(353.8 727.2) scale(1.215 1.5)">−</text><text x="368.9" y="721.9">4</text>
<text transform="translate(418.9 727.2) scale(1.215 1.5)">−</text><text x="434.0" y="721.9">3</text>
<text transform="translate(484.1 727.2) scale(1.215 1.5)">−</text><text x="499.1" y="721.9">2</text>
<text transform="translate(549.2 727.2) scale(1.215 1.5)">−</text><text x="564.3" y="721.9">1</text>
<text x="627.3" y="721.9" text-anchor="middle">0</text>
<text x="692.5" y="721.9" text-anchor="middle">1</text>
<text x="757.6" y="721.9" text-anchor="middle">2</text>
<text x="822.7" y="721.9" text-anchor="middle">3</text>
<text x="887.9" y="721.9" text-anchor="middle">4</text>
<text x="953.0" y="721.9" text-anchor="middle">5</text>
<path stroke="#000" stroke-width="2" fill="none" d="M301.7 685.9v11M366.8 685.9v11M432.0 685.9v11M497.1 685.9v11M562.2 685.9v11M627.3 685.9v11M692.5 685.9v11M757.6 685.9v11M822.7 685.9v11M887.9 685.9v11M953.0 685.9v11"/>
<text x="952.0" y="752.1" text-anchor="end"><tspan font-size="28px" dy="3">×</tspan><tspan dy="-3">10</tspan><tspan font-size="15.4px" dy="-8">−1</tspan></text>
<text x="228" y="685.9" text-anchor="middle" font-style="italic" font-size="28px">v</text>
<g clip-path="url(#c20)">
<rect x="99" y="789" width="334" height="239" fill="#00224e"/>
<path fill="#002758" fill-rule="evenodd" d="M99 1028l334 0l0-239l-334 0l0 239zM242.1 935.3l-0.9-0.1l-1-0.3l-1.1-0.6l-1.1-0.9l-0.7-1l-0.3-1l2.3-10.5l0.7-2.8l0.5-2l0.4-1.9l0.3-1.4l0.5-1.4l0.2-1l0.2-1.1l0.3 0.2l0.1 0.9l1.6 5.2l3.2 12l1 3.8l-0.6 1l-0.9 1l-1.3 0.9l-0.5 0.3l-0.9 0.4l-1 0.2l-1 0.1zM242.1 907.7l0-0.2l-0.2-0.9l-0.2-1l-0.6-1.9l-0.4-1.9l-0.7-2.9l-1.1-4.7l-1.9-8.6l0.4-1.1l0.9-1.2l1-0.7l0.9-0.5l1-0.3l1.2-0.1l0.7 0.1l1 0.2l1.4 0.7l0.5 0.3l0.9 0.8l1 1l0.4 0.8l-5.2 19.3l-0.6 1.7l-0.1 0.9l-0.3 0.2z"/>
<path fill="#00306f" fill-rule="evenodd" d="M99 1028l334 0l0-239l-334 0l0 239zM240.2 939.2l-0.9-0.4l-1.1-0.7l-1.2-0.9l-0.9-1l-0.6-0.9l-0.5-1l-0.3-0.9l-0.3-2l0.1-1l2.7-7.6l2.1-6l1.6-4.5l0.3-1l0.5-0.9l0.4-1.3l0.6 0.4l0.4 0.9l1.5 2.9l1.4 2.7l0.6 1.1l1.4 2.9l4.9 9.5l0 1l-0.5 1.9l-0.9 1.9l-0.8 1.3l-0.9 1.2l-1 1l-0.9 0.7l-1.2 0.6l-0.7 0.3l-1 0.2l-0.9 0.1l-1 0.1l-1-0.1l-0.9-0.2l-1-0.3zM242.1 907.9l-0.1-0.4l-0.3-0.9l-0.5-1l-0.7-1.9l-0.6-1.9l-2.7-7.6l-2.7-7.7l-0.1-0.9l0.3-2l0.3-0.9l0.5-1l0.9-1.3l1-0.9l0.9-0.7l1-0.6l0.9-0.4l1-0.3l0.9-0.2l1-0.1l1 0.1l0.9 0.1l1 0.2l0.9 0.4l1.5 0.9l1.1 0.9l0.8 1l0.7 0.9l1 1.9l0.7 2l0.2 0.9l0 1l-9.8 19.1l-0.4 0.9l-0.6 0.4z"/>
<path fill="#1a386f" fill-rule="evenodd" d="M99 1028l334 0l0-239l-334 0l0 239zM244.1 944l-2-0.5l-1.9-0.7l-1.9-1l-1.2-0.8l-1.1-1l-1-0.9l-0.7-1l-0.7-1l-0.5-0.9l-0.5-1.5l-0.1-0.4l-0.1-0.9l0-1l0.1-1.9l0.4-1l8.5-19.1l0.7-1.5l0.9 0.6l0.1 0.2l0.7 0.7l0.3 0.4l0.5 0.6l0.4 0.6l0.4 0.3l1.5 1.9l5.6 6.7l1.1 1.4l2.9 3.4l0.8 1l0.3 0.9l0.3 1.9l0 1.9l-0.3 2l-0.5 1.9l-0.7 1.9l-0.9 1.7l-0.1 0.2l-0.9 1.2l-0.9 1l-1 0.8l-1.3 0.8l-0.6 0.3l-0.9 0.3l-1.4 0.4l-1.5 0.2l-1.9 0l-0.9-0.1zM242.1 908.1l-3.8-8.2l-2.5-5.7l-3.2-7.4l-0.1-0.3l-0.1-1.9l0-1l0.2-1.3l0.2-0.6l0.8-1.8l0.7-1l0.7-1l1-0.9l1.1-1l0.3-0.2l1.9-1.2l1.9-0.8l1.9-0.6l1.9-0.3l1.9 0l1.9 0.3l1 0.3l1.5 0.6l0.4 0.2l1.1 0.7l1.1 1l0.8 1l0.8 1.1l0.5 0.8l0.8 1.9l0.6 2l0.4 1.8l0.1 1.9l-0.1 1.9l-0.2 1l-0.3 0.9l-11.3 13.6l-1.4 1.7l-0.5 0.6l-0.3 0.4l-0.7 0.7l-0.1 0.2l-0.9 0.6z"/>
<path fill="#2d416d" fill-rule="evenodd" d="M99 1028l334 0l0-239l-334 0l0 239zM246.9 948.8l-1.9-0.4l-2.1-0.7l-1.7-0.7l-2.2-1.2l-1.6-1.1l-1.9-1.6l-1.2-1.1l-0.8-1l-0.9-1.3l-1-1.6l-0.7-1.9l-0.3-0.9l-0.1-1l-0.1-0.9l0.1-1l0.2-1.2l0.4-1.7l3.5-6.7l6.6-12.4l0.6-0.9l0.3-0.8l1 0.4l0.6 0.4l0.4 0.3l11.4 7.5l6.9 4.6l1 0.9l0.7 1l0.9 1.4l0.4 0.5l0.6 1.6l0.1 0.3l0.5 1.9l0.1 1.9l0 2l-0.3 1.9l-0.4 1.9l-0.6 1.9l-0.9 1.9l-1.1 1.9l-1.2 1.5l-1 0.9l-0.9 0.8l-1 0.6l-1.9 1l-1.9 0.7l-1.9 0.4l-1.9 0.2l-1.9 0l-1.9-0.1l-1-0.1zM242.1 908.3l-0.3-0.8l-0.7-0.9l-1-1.9l-2.7-5.3l-1.9-3.7l-4.4-8.2l-0.5-1.9l-0.1-1l-0.1-1l0.1-0.9l0.2-1.2l0.2-0.7l0.8-1.9l1.1-1.9l0.8-1.1l0.9-1.1l1.8-1.7l1.1-0.8l1.9-1.3l1.9-1l1.9-0.8l1.9-0.6l1.9-0.4l1.9-0.2l1.9-0.1l1.9 0.2l1.9 0.3l2 0.5l1.9 0.8l0.9 0.6l1.4 0.9l1.1 1l0.9 0.9l0.7 1l1.1 1.9l0.9 1.9l0.6 2l0.4 1.8l0.3 1.9l0 2l-0.1 1.9l-0.5 1.9l-0.7 1.9l-0.6 0.9l-0.7 1.1l-1 1.1l-0.9 0.8l-5.7 3.8l-13.4 8.9l-1 0.4z"/>
<path fill="#3c4a6c" fill-rule="evenodd" d="M99 1028l334 0l0-239l-334 0l0 239zM253.6 955.4l-2.9-0.5l-2.1-0.5l-1.7-0.6l-1.9-0.7l-1.9-0.8l-1.9-1.1l-1.9-1.2l-1.9-1.4l-1.9-1.6l-2-2.2l-1.5-1.9l-0.6-0.9l-1.1-2l-0.8-1.9l-0.5-1.9l-0.2-0.9l-0.1-1.9l0.1-1.1l0.2-0.9l0.3-0.9l0.8-1.9l9.8-16.3l0.5-0.9l0.8-1.2l0.5-0.7l0.4-1l-0.4-1l-2.4-3.8l-6.7-11.1l-2.5-4.2l-0.8-1.9l-0.3-0.9l-0.2-1l-0.1-1l0.1-1.9l0.4-1.9l0.7-1.9l0.9-1.9l1.2-1.9l1.5-1.9l1-1.2l1.9-1.8l1.9-1.6l1.9-1.3l1.9-1.1l2-0.9l1.9-0.8l1.9-0.7l2.8-0.7l2.9-0.5l2.9-0.3l2.8-0.1l2.9 0.2l2.8 0.3l2.9 0.6l2.9 0.8l1.9 0.7l1.9 0.7l2 1l1.8 1l1.9 1.2l2.1 1.6l2.2 1.9l1.7 1.9l1.6 2.1l1.2 1.8l1 1.9l0.9 1.9l0.8 2.2l0.4 1.6l0.4 1.9l0.2 1.9l0.1 1.9l0 1.9l-0.3 2.9l-0.5 3.8l-0.8 4.8l-0.3 2.9l0 2.9l0.1 1.9l0.4 2.8l1.1 7.7l0.3 2.9l0 1.9l-0.2 2.6l-0.1 1.2l-0.4 1.9l-0.5 1.9l-0.9 2.3l-0.7 1.5l-1.2 2.2l-1.1 1.7l-1.5 1.9l-1.7 1.9l-2.2 1.9l-2.1 1.6l-0.9 0.6l-1.9 1.2l-2 0.9l-1.9 0.9l-1.9 0.7l-2.8 0.9l-2.9 0.6l-2.9 0.4l-2.8 0.3l-2.9 0l-2.9-0.3l-0.9-0.1z"/>
<path fill="#49536c" fill-rule="evenodd" d="M99 1028l334 0l0-239l-334 0l0 239zM266 965.9l-3.8-0.6l-2.9-0.6l-2.8-0.8l-3-0.9l-2.8-1.1l-2.8-1.3l-2.9-1.5l-1.9-1.1l-2.4-1.7l-1.4-1.1l-2-1.8l-2-1.9l-1.7-2l-2-2.5l-1.3-2.2l-1-1.9l-0.8-1.9l-0.7-1.9l-0.5-1.9l-0.2-1.9l0-1.9l0.1-1l0.2-1l0.4-1.1l1-1.9l1.1-1.7l10.9-16.3l0.4-0.3l0.4-0.6l0.5-1l-0.9-1.6l-0.4-0.3l-4.5-6.7l-7.6-11.5l-1-1.9l-0.3-0.9l-0.2-1l-0.2-1.9l0.2-1.9l0.4-1.9l0.5-1.9l0.8-2l0.9-1.9l1.1-1.9l1.3-1.9l1.4-1.9l1.9-2.1l1.9-1.8l2.1-1.8l1.7-1.4l2.3-1.5l1.6-1l1.8-1l2.9-1.3l2.8-1.2l2.9-1l2.9-0.8l2.8-0.6l2.9-0.6l3.8-0.5l3.8-0.3l3.8-0.1l3.9 0.1l3.8 0.2l3.8 0.5l3.8 0.6l3.8 0.9l2.9 0.8l2.9 0.9l2.8 1.2l2.9 1.3l1.9 1.1l1.9 1.1l2.2 1.6l1.6 1.3l1.8 1.6l1.1 1.1l1.5 1.7l1.4 1.9l1.2 2l1.1 1.9l0.8 1.9l0.8 1.9l0.8 2.5l0.4 1.3l0.6 2.9l0.5 2.9l0.3 2.8l0.2 3.8l0.1 4.8l-0.1 26.8l-0.1 3.8l-0.3 2.9l-0.4 2.9l-0.6 2.8l-0.8 2.9l-0.7 2.3l-0.7 1.5l-0.8 1.9l-1.1 1.9l-1.3 2l-1.3 1.9l-1.7 1.9l-1.9 1.9l-2.4 1.9l-2.2 1.6l-1.9 1.1l-2 1.1l-2.8 1.3l-2.8 1.2l-2.9 0.9l-2.9 0.8l-3.8 0.9l-4.1 0.7l-3.5 0.4l-3.8 0.2l-3.9 0.1l-3.8-0.1l-3.8-0.3l-1.9-0.3z"/>
<path fill="#555c6d" fill-rule="evenodd" d="M99 1028l334 0l0-239l-334 0l0 239zM293.7 984l-3.8-0.1l-3.9-0.3l-3.9-0.5l-3.7-0.7l-3.8-0.8l-3.8-1l-3.8-1.2l-3.9-1.4l-3.8-1.7l-2.8-1.4l-2.9-1.5l-3-1.8l-2.7-1.8l-2.9-2.1l-2.9-2.4l-2.8-2.7l-2.4-2.5l-1.6-1.9l-1.7-2.2l-2-2.8l-1.5-2.6l-1-1.9l-0.9-2l-0.7-1.9l-0.7-1.9l-0.6-1.9l-0.4-1.9l-0.3-1.9l-0.1-1.9l0.1-1.9l0.1-1l0.3-1.1l0.3-0.8l0.7-1.3l0.9-1.6l12.9-17.2l0.5-0.5l0.8-1.4l-0.8-1.4l-0.5-0.5l-0.7-1l-6.4-8.6l-5.8-7.6l-1.2-1.9l-0.4-1l-0.3-0.9l-0.3-1l-0.2-1.9l0.1-1.9l0.2-1.9l0.3-1.9l0.5-2l0.6-1.9l1.1-2.8l1.4-2.9l1.1-2l1.9-3l1.9-2.7l1.9-2.3l2.3-2.4l2-1.9l1.4-1.4l3.1-2.5l2.7-2l2.8-1.9l3.1-1.8l2.7-1.4l3-1.5l2.7-1.2l2.8-1.1l3.9-1.3l3.8-1.1l4.8-1.1l3.8-0.7l3.8-0.6l3.8-0.3l3.8-0.2l3.8 0l3.9 0.1l3.8 0.3l4.1 0.5l3.5 0.6l3.8 0.9l3.8 1l3.9 1.2l2.8 1.1l2.9 1.2l3.4 1.7l2.3 1.2l2.9 1.7l2.8 2l2.9 2.3l1.9 1.7l1.9 1.9l2.2 2.6l1.6 2.1l1.7 2.6l1.6 2.9l1.2 2.9l1.1 2.8l0.9 2.9l0.7 2.9l0.7 3.8l0.5 3.8l0.4 3.9l0.3 4.7l0.1 5.8l0.2 13.4l-0.4 18.1l-0.3 4.8l-0.4 3.8l-0.6 3.8l-0.5 2.9l-0.7 2.9l-0.9 2.9l-0.8 2.1l-1 2.3l-1 2.2l-1.7 2.9l-1.2 1.9l-2.3 2.9l-1.7 1.9l-2.5 2.5l-2 1.6l-2.8 2.2l-2.9 1.8l-2.8 1.7l-2.9 1.5l-2.9 1.3l-2.8 1.2l-2.9 1l-3.8 1.2l-3.8 1l-3.8 0.7l-3.9 0.7l-3.8 0.4l-3.8 0.3l-3.8 0.1l-1.9-0.1z"/>
<path fill="#61656f" fill-rule="evenodd" d="M99 1028l334 0l0-239l-334 0l0 239zM308.9 1012.7l-3.8-0.4l-4-0.6l-3.6-0.6l-3.8-0.9l-3.8-1l-4.1-1.3l-3.6-1.3l-3.9-1.5l-3.7-1.7l-3.8-1.9l-3.9-2.2l-3.8-2.3l-3.8-2.6l-3.8-2.9l-3.3-2.7l-2.4-2.2l-3.8-3.7l-2.9-3.1l-2.9-3.4l-2.9-3.8l-2.6-3.9l-1.1-1.9l-2-3.3l-1.9-3.8l-1.5-3.4l-1.1-2.9l-0.9-2.8l-0.9-2.9l-0.6-2.9l-0.6-2.8l-0.3-2.9l-0.1-1.9l0.1-1.9l0.2-1.9l0.4-2l0.6-1.5l0.1-0.4l0.8-1.2l2.1-2.6l13.4-16.2l0.6-1l-0.8-1.3l-0.6-0.6l-0.4-0.5l-0.4-0.5l-0.8-0.9l-2.6-3.2l-2.1-2.6l-8.6-10.5l-0.7-1.3l-0.3-0.6l-0.3-0.9l-0.4-2l-0.2-1.9l-0.1-1.9l0.2-2.8l0.4-2.9l0.7-3.3l0.6-2.5l0.9-2.8l1-2.9l1.3-3.2l1.6-3.5l1.5-2.8l1.7-2.9l2.4-3.8l2-2.9l1.5-1.9l2.6-3.3l3.1-3.4l2.7-2.7l3.8-3.5l4-3.4l2.7-2l2.8-2l3.8-2.5l3.9-2.2l3.2-1.8l2.5-1.2l3.8-1.7l3.8-1.5l3.8-1.4l3.9-1.2l3.8-1l3.8-0.9l3.8-0.7l3.8-0.5l3.8-0.4l3.9-0.3l3.8-0.1l3.8 0l3.8 0.2l4.8 0.4l3.8 0.5l3.8 0.6l3.8 0.9l3.9 0.9l3.8 1.1l4.3 1.5l3.3 1.3l3.8 1.7l3.8 1.8l3.9 2.1l3.8 2.3l3.4 2.3l3.3 2.4l2.9 2.4l3.2 2.9l3 2.8l2.6 2.9l2.6 3.2l2.4 3.5l1.8 2.8l1.9 3.9l1.6 3.8l1.2 3.8l0.9 3.8l0.7 3.9l0.5 3.8l0.3 3.8l0.3 4.8l0.3 7.6l0.3 17.3l0 3.8l-0.7 3.8l0.7 3.8l0 2.9l-0.4 19.1l-0.3 7.7l-0.3 4.7l-0.3 3.9l-0.6 3.8l-0.5 2.9l-0.9 3.8l-1.3 4.1l-1.5 3.5l-1.9 3.9l-2.4 3.8l-2.1 2.8l-2.6 3.2l-2.3 2.6l-2 1.9l-2.4 2.2l-3 2.6l-2.7 2.1l-3.8 2.7l-3.8 2.5l-4 2.2l-3.7 1.9l-3.8 1.8l-3.8 1.5l-4.1 1.5l-3.5 1.1l-3.9 1.1l-3.8 0.9l-4.1 0.7l-3.5 0.6l-3.8 0.4l-4.8 0.3l-3.8 0.1l-3.8 0l-3.8-0.2l-2-0.2z"/>
<path fill="#6c6d72" fill-rule="evenodd" d="M99 1028l158.8 0l-2.6-2.9l-2.6-3l-2.9-3.7l-2.8-3.8l-2.8-4.1l-2.9-4.5l-2.2-3.8l-2.1-3.8l-1.9-3.9l-2.2-4.7l-1.6-3.9l-1.8-4.7l-1.6-4.8l-1.5-4.8l-1.3-5.2l-1-4.4l-0.7-3.8l-0.8-4.8l-0.4-3.9l-0.3-3.7l-0.1-3.8l0-2.9l0.2-2.9l0.3-1.9l0.4-1.9l0.6-1.9l0.8-1.6l0.2-0.3l0.8-1l4.7-5.3l2.1-2.3l9.5-10.5l0.6-1l-0.7-1.1l-1.7-1.8l-0.2-0.3l-1.5-1.6l-1.4-1.6l-1.2-1.2l-4.5-5.1l-4.1-4.5l-2.6-3.2l-0.4-0.6l-0.7-1.9l-0.5-2l-0.4-1.9l-0.2-2.8l-0.1-2.9l0-2.9l0.2-3.8l0.4-3.8l0.5-3.8l0.8-4.8l1-4.8l1.2-4.8l1.1-3.8l1.5-4.8l1.7-4.8l1.9-4.7l2.1-4.8l2.3-4.8l2.1-3.8l2.7-4.8l2.4-3.8l2.4-3.5l3-4.2l3-3.8l2.5-3.1l3.3-3.6l-158.8 0l0 239z"/>
<path fill="#777776" fill-rule="evenodd" d="M99 1028l118.5 0l-0.7-6.7l-0.5-6.7l-0.3-6.7l-0.2-6.7l-0.1-8.6l0.1-7.6l0.2-7.7l0.4-7.6l0.6-8.6l0.8-8.6l0.7-6.7l0.7-5.3l0.6-3.3l0.6-2.9l0.7-2.4l0.6-1.4l1-1.9l0.6-1l0.9-0.9l1-1l16-16.2l0.7-1l-0.7-1l-8.5-8.6l-1.1-1.1l-7.6-7.7l-0.9-1.1l-0.4-0.6l-1-1.9l-0.7-1.9l-0.6-1.9l-0.6-2.9l-0.6-3.8l-0.7-4.8l-0.8-7.6l-0.7-7.7l-0.6-8.9l-0.4-7.3l-0.2-7.7l-0.1-7.6l0-7.7l0.2-6.7l0.4-7.6l0.5-6.7l0.7-6.7l-118.5 0l0 239z"/>
<path fill="#828079" fill-rule="evenodd" d="M99 1028l73.5 0l5.7-8.6l4.8-7.7l4.7-7.8l4.8-8.4l3.8-7.1l4.2-8.2l2.7-5.7l3-6.7l2.5-6l3.3-8.4l2.5-7.1l3.8-11.4l0.9-2.5l1.3-2.9l1.2-1.9l0.8-0.9l1.1-1l1.1-0.9l2.2-2.1l14.3-13.3l0.6-0.9l-0.7-1l-1.8-1.7l-0.3-0.2l-1.6-1.6l-0.4-0.3l-1.5-1.4l-1.6-1.4l-1.3-1.3l-3.8-3.6l-4.8-4.4l-0.9-0.8l-1-1l-0.4-0.4l-1.2-1.9l-0.9-1.9l-1.1-2.9l-6.9-20.1l-3-7.6l-2.8-6.7l-3-6.7l-3.2-6.7l-2.5-4.8l-3.6-6.9l-4.2-7.4l-4-6.7l-3.5-5.8l-4.9-7.6l-4.4-6.7l-73.5 0l0 239z"/>
<path fill="#8f8a78" fill-rule="evenodd" d="M116.6 989.8l3.4 0.3l3.8 0.3l3.8 0.1l3.8-0.1l3.9-0.2l4.3-0.4l3.3-0.5l3.8-0.7l3.8-0.8l3.8-1l3.9-1.2l3.8-1.3l3.8-1.5l3.8-1.7l3.8-2l3.9-2.1l3.8-2.3l4.4-3.1l2.2-1.7l3.9-3.1l3.1-2.9l2.6-2.5l3.8-4.1l2.9-3.4l3.2-4.3l1.9-2.9l1.9-2.8l1.6-2.9l2.6-4.8l1.2-2.2l1.3-2.6l1.7-2.8l0.8-1.1l0.9-1.2l1-0.9l3.8-3l4-3.4l7.5-6.4l0.3-0.3l1.6-1.3l0.6-0.6l0.3-0.2l1-0.9l0.6-0.8l-0.6-0.8l-0.3-0.2l-0.7-0.7l-0.3-0.2l-0.6-0.6l-0.5-0.4l-0.5-0.4l-1.8-1.5l-0.1-0.1l-15.6-13.3l-1.4-1.9l-1.7-2.8l-4.2-8.1l-3.1-5.3l-1.9-2.9l-2-2.9l-2.2-2.8l-1.5-1.9l-2.6-3.1l-2.9-3l-3.6-3.5l-1.2-1l-3.3-2.8l-2.4-1.9l-2.9-2.1l-3.8-2.6l-4.8-2.8l-4.7-2.5l-3.8-1.8l-4.1-1.6l-3.6-1.3l-3.8-1.2l-3.8-1.1l-3.8-0.8l-3.8-0.8l-4.3-0.6l-3.4-0.3l-3.8-0.3l-3.8-0.1l-3.8 0.1l-4.8 0.3l-3.8 0.4l-2.9 0.4l-3.8 0.7l-3.4 0.8l-3.6 0.9l-3.5 1.1l0 154.6l3.8 1.2l3.8 1l3.9 0.8l3.8 0.7l2.3 0.3z"/>
<path fill="#9b9476" fill-rule="evenodd" d="M166.8 957.3l2.8 0l2.9-0.1l2.8-0.3l2.9-0.4l2.9-0.6l2.8-0.8l2.9-0.9l2.9-1.1l2.8-1.3l2.9-1.5l2.8-1.7l2.9-2l2.9-2.2l2.8-2.6l2.9-3l2.9-3.4l4.9-6.8l1.7-2.2l1-0.9l0.9-0.8l3.9-2.7l2.5-2l2.5-1.9l4.5-3.6l1.5-1.2l1.4-1l2.8-2.3l0.6-0.5l0.4-0.3l0.5-0.7l-0.5-0.7l-0.4-0.3l-0.6-0.5l-0.6-0.4l-0.3-0.4l-2-1.5l-3.7-2.9l-10.5-8.3l-1-0.5l-1.1-0.8l-1.1-0.9l-1.7-1.9l-2.1-2.9l-2.7-3.8l-2.3-2.9l-1.4-1.6l-3.1-3.2l-2.1-1.9l-1.5-1.3l-2.8-2.1l-2.9-1.9l-2.9-1.7l-2.8-1.4l-3.9-1.6l-2.8-1l-2.9-0.8l-2.8-0.6l-2.9-0.5l-2.9-0.3l-2.8-0.2l-2.9 0l-2.9 0.2l-2.8 0.3l-3.3 0.5l-2.4 0.6l-2.9 0.8l-2.9 0.9l-2.8 1.2l-2.9 1.4l-3.1 1.8l-2.8 1.9l-2.7 2.1l-2 1.7l-2 1.9l-2.5 2.9l-2.1 2.7l-1.4 2.1l-1.7 2.9l-1.5 2.8l-1.2 2.9l-1 2.9l-0.8 2.9l-0.6 2.8l-0.4 2.9l-0.3 2.8l0.1 3.9l-0.1 1.9l0.3 2.8l0.4 2.9l0.6 2.9l0.8 2.8l1 2.9l1.2 2.9l1 1.9l1 1.9l1.8 2.9l1.8 2.4l1.9 2.4l1.9 2l1.9 1.9l2.9 2.4l1.9 1.4l2.6 1.8l2.2 1.3l1.9 1l2.8 1.3l3.1 1.2l3 0.9l2.5 0.7l2.9 0.5l2.8 0.5l2.9 0.2l1 0.1z"/>
<path fill="#a79d73" fill-rule="evenodd" d="M177.6 942l2.5 0.4l2.9 0.3l2.8 0.1l2.9-0.1l2.9-0.4l2.8-0.6l2.5-0.7l1.3-0.4l2.9-1.2l2.9-1.5l1.9-1.2l2.1-1.4l1.7-1.4l2.9-2.6l2.8-3l1.9-2l1-0.9l0.9-0.8l1.1-0.8l3.7-2.3l11.5-8.2l4.7-3.4l0.5-0.4l0.5-0.3l0.5-0.7l-0.5-0.7l-0.5-0.3l-0.5-0.4l-0.9-0.7l-9.1-6.5l-2.7-1.9l-4.4-3.2l-2.9-1.6l-1.2-1l-2-1.9l-3.6-3.8l-2-1.9l-1.7-1.5l-3.1-2.3l-1.7-1.1l-1.9-1.1l-1.9-1l-1.9-0.8l-2.3-0.8l-1.5-0.5l-2.9-0.7l-2.8-0.4l-2.9-0.2l-2.9 0l-2.8 0.2l-2.9 0.5l-1.9 0.5l-2.9 0.8l-1.9 0.8l-2 0.9l-1.8 1l-1.9 1.2l-1.9 1.3l-1.9 1.6l-1.9 1.8l-1.6 1.7l-1.5 1.9l-1.3 1.9l-1.4 2.4l-0.7 1.5l-0.8 1.9l-0.7 1.9l-0.6 2l-0.6 2.8l-0.3 1.9l-0.1 1.9l0.1 5.7l0.3 1.9l0.4 1.9l0.5 2l0.6 1.9l1 2.4l0.9 1.9l1 1.7l1 1.6l1.9 2.5l1.1 1.3l1.9 2l2.3 1.9l1.3 1l2 1.3l1.9 1.1l1.9 0.9l1.9 0.8l1.9 0.7l1.9 0.5l1.3 0.4z"/>
<path fill="#b5a86f" fill-rule="evenodd" d="M193.1 934.3l1.3 0.1l2.2-0.1l1.6-0.1l2-0.3l2-0.5l1.8-0.6l1.9-0.7l1.9-0.9l1.9-1.1l2.2-1.5l1.6-1.2l4.4-3.6l1.5-1l1.7-0.8l1-0.4l4-2.6l8.4-5.5l1-0.6l3.8-2.5l0.9-0.6l0.4-0.3l0.6-0.4l0.4-0.6l-0.4-0.6l-0.6-0.4l-0.4-0.3l-2.8-1.8l-9.9-6.5l-4.4-2.9l-1-0.6l-1.9-0.8l-1-0.5l-1.9-1.3l-1.9-1.6l-2.8-2.3l-2.9-2l-2.5-1.3l-1.3-0.7l-1.9-0.7l-1.9-0.6l-1.9-0.5l-2-0.3l-1.9-0.1l-1.9-0.1l-1.9 0.1l-1.9 0.3l-1.9 0.3l-1.9 0.6l-2.1 0.7l-2.1 1l-1.7 0.9l-1.7 1.2l-2.1 1.7l-1.8 1.7l-1 1.1l-1.4 2l-1.2 1.9l-0.9 1.9l-0.8 1.9l-0.6 1.9l-0.4 1.9l-0.3 2.1l-0.1 0.8l0 3.8l0.2 1.9l0.4 1.9l0.5 1.9l0.7 2l0.8 1.9l1.1 1.9l1.3 1.9l1.7 2.1l1.8 1.7l1.1 1l1.9 1.4l1.9 1.1l1.9 1l1.9 0.7l1.9 0.6l2 0.5l1.9 0.3l1.5 0.1z"/>
<path fill="#c2b369" fill-rule="evenodd" d="M199.3 928.6l1.8 0l1.9-0.1l1.9-0.2l1.9-0.5l1.9-0.6l2-0.8l1.9-1.1l2.8-1.7l1.9-1.2l1.9-0.9l2.9-1.1l12-7.1l2.3-1.4l4.8-2.9l0.4-0.5l-0.4-0.5l-3.9-2.4l-7.6-4.5l-3.8-2.2l-3.8-2.3l-1.2-0.5l-1.7-0.6l-0.9-0.4l-1.9-1.1l-3.8-2.3l-2.6-1.4l-1.3-0.5l-1.9-0.6l-1.9-0.5l-1.9-0.2l-1.9-0.1l-1.9 0l-1.9 0.3l-1.9 0.4l-1.9 0.6l-1.9 0.9l-1.9 1.1l-1 0.6l-1.9 1.6l-1.2 1.2l-1.5 1.9l-1.2 1.9l-0.9 2l-0.7 1.9l-0.4 1.9l-0.3 1.9l-0.1 1.9l0.1 1.9l0.3 1.9l0.4 1.9l0.7 2l1 1.9l1.1 1.9l1.5 1.9l1.2 1.2l0.9 0.8l2 1.4l0.9 0.6l1.9 1l2 0.7l1.8 0.5l1.9 0.4l1.1 0.1z"/>
<path fill="#d0be62" fill-rule="evenodd" d="M201 923.8l1.1 0.2l1.9 0.3l1.9 0.1l1.9-0.2l1.9-0.4l1.9-0.6l1.9-0.7l3.8-1.7l1.9-0.7l1.9-0.4l8.6-4.6l11.5-6.2l0.3-0.4l-0.3-0.4l-2.9-1.6l-12.4-6.6l-4.8-2.6l-2.8-0.7l-1.9-0.8l-3.8-1.7l-1.9-0.6l-2-0.5l-1.9-0.3l-1.9-0.1l-1.9 0.2l-2 0.4l-1.8 0.6l-1 0.4l-1.9 1.1l-1 0.8l-1.2 0.9l-0.9 1l-0.8 0.9l-0.8 1.3l-0.4 0.7l-0.9 1.9l-0.6 1.9l-0.4 1.9l-0.1 1.9l0.1 1.9l0.4 1.9l0.6 1.9l0.9 1.9l0.5 1l0.8 1.1l1 1.1l0.9 0.9l1 0.8l1.9 1.3l1.9 0.9l1.8 0.6z"/>
<path fill="#dec958" fill-rule="evenodd" d="M208.2 920.9l1.5 0l1.9-0.2l1.9-0.5l4.8-1.2l1.9-0.3l0.9-0.3l20.1-9.5l0.2-0.4l-0.2-0.4l-1.9-0.9l-18.2-8.6l-0.9-0.3l-2.1-0.3l-1.7-0.4l-3.8-1.1l-1.9-0.3l-2-0.1l-1.9 0.1l-1.9 0.4l-1.2 0.4l-1.6 0.8l-1 0.7l-0.9 0.7l-1 1l-1 1.1l-0.3 0.5l-0.6 1.1l-0.4 0.8l-0.6 1.8l-0.2 1.1l-0.1 0.9l0 2l0.3 1.9l0.6 1.9l0.5 0.9l0.8 1.5l1 1.1l1 1l0.9 0.7l1 0.7l1.6 0.8l1.2 0.4l1.9 0.4l1.4 0.1z"/>
<path fill="#ebd44b" fill-rule="evenodd" d="M211.5 918.1l1.1 0l1.9-0.2l2.8-0.3l2.9-0.1l5.7-2.4l15.3-6.3l0.2-0.3l-0.2-0.3l-16.2-6.7l-4.8-2l-1.9 0l-1.9-0.2l-3.8-0.4l-1.9 0.1l-2 0.3l-1.6 0.6l-1.2 0.7l-1 0.7l-0.9 0.9l-0.5 0.6l-0.7 0.9l-0.5 1l-0.3 0.9l-0.3 1l-0.1 0.9l0 2l0.1 0.9l0.4 1.2l0.2 0.7l0.7 1.3l1 1.2l0.9 0.9l1 0.7l1.2 0.7l0.7 0.3l0.9 0.3l2 0.3l0.8 0.1z"/>
<path fill="#fbe138" fill-rule="evenodd" d="M218.9 916.1l0.3 0.1l1-0.2l18.1-6.2l1-0.3l0.9-0.5l1-0.3l0.1-0.2l-0.1-0.2l-1-0.3l-0.9-0.5l-1.9-0.6l-1.9-0.7l-15.3-5.2l-1-0.2l-2.8 0.4l-2.9 0.3l-1.5 0.3l-1.3 0.5l-1 0.5l-1.2 0.9l-0.8 1l-0.6 0.9l-0.3 1l-0.3 0.9l0 1l0 1l0.3 1.1l0.3 0.8l0.7 1l0.9 1.1l1 0.7l1 0.5l1.3 0.5l1.5 0.3l2.9 0.3l2.5 0.3z"/>
<path fill="#fee838" fill-rule="evenodd" d="M217.9 914.2l1.3 0.4l16.3-4.3l1.9-0.6l1.1-0.2l1.7-0.7l1-0.2l0.1-0.1l-0.1-0.1l-1-0.2l-2.8-0.9l-4.8-1.3l-3.8-1.1l-4.8-1.3l-4.8-1.2l-1.3 0.4l-4.2 1.9l-1.2 0.9l-0.7 1l-0.3 0.9l-0.2 1l0.2 1l0.3 0.9l0.8 1l1.1 0.9l1.8 1l2.4 0.9z"/>
<path fill="none" stroke="#000" stroke-width="1.4" d="M172.5 1028l5.7-8.6l4.8-7.7l4.7-7.8l4.8-8.4l3.8-7.1l4.2-8.2l2.7-5.7l3-6.7l2.5-6l3.3-8.4l2.5-7.1l3.8-11.4l0.9-2.5l1.3-2.9l1.2-1.9l0.8-0.9l1.1-1l1.2-1.1M224.8 892.4l-0.1-0.2M212 863.6l-2.3-6l-3.1-7.4l-2.9-6.7l-2.7-5.7l-3.7-7.4l-4.8-8.9l-4.3-7.6l-3.4-5.8l-4.8-7.6l-4.9-7.7l-2.6-3.8M223.4 893.8l-0.9-0.6l-1.5-1l-1.1-0.9l-1.7-1.9l-2.1-2.9l-2.7-3.8l-2.3-2.9l-1.4-1.6l-3.1-3.2l-2.1-1.9l-1.5-1.3l-2.8-2.1l-2.9-1.9l-2.9-1.7l-2.8-1.4l-3.9-1.6l-2.8-1l-2.9-0.8l-2.8-0.6l-2.9-0.5l-2.9-0.3l-2.8-0.2l-2.9 0l-2.9 0.2l-2.8 0.3l-3.3 0.5l-2.4 0.6l-2.9 0.8l-2.9 0.9l-2.8 1.2l-2.9 1.4l-3.1 1.8l-2.8 1.9l-2.7 2.1l-2 1.7l-2 1.9l-2.5 2.9l-2.1 2.7l-1.4 2.1l-1.7 2.9l-1.5 2.8l-1.2 2.9l-1 2.9l-0.8 2.9l-0.6 2.8l-0.4 2.9l-0.3 2.8l0.1 3.9l-0.1 1.9l0.3 2.8l0.4 2.9l0.6 2.9l0.8 2.8l1 2.9l1.2 2.9l1 1.9l1 1.9l1.8 2.9l1.8 2.4l1.9 2.4l1.9 2l1.9 1.9l2.9 2.4l1.9 1.4l2.6 1.8l2.2 1.3l1.9 1l2.8 1.3l3.1 1.2l3 0.9l2.5 0.7l2.9 0.5l2.8 0.5l2.9 0.2l2.9 0.1l2.8-0.1l2.9-0.2l2.9-0.4l2.8-0.5l3.1-0.8l2.6-0.7l3.1-1.2l2.7-1.1l2.8-1.4l2.9-1.7l2.9-1.9l2.8-2.1l2.9-2.5l2.8-2.9l2.9-3.2l3.8-5.2l2.1-2.8l1.7-2.2l1-0.9l0.9-0.8l2.3-1.5M222.1 895.4l-1.9-0.8l-1-0.5l-1.9-1.3l-1.9-1.6l-2.8-2.3l-2.9-2l-2.5-1.3l-1.3-0.7l-1.9-0.7l-1.9-0.6l-1.9-0.5l-2-0.3l-1.9-0.1l-1.9-0.1l-1.9 0.1l-1.9 0.3l-1.9 0.3l-1.9 0.6l-2.1 0.7l-2.1 1l-1.7 0.9l-1.7 1.2l-2.1 1.7l-1.8 1.7l-1 1.1l-1.4 2l-1.2 1.9l-0.9 1.9l-0.8 1.9l-0.6 1.9l-0.4 1.9l-0.3 2.1l-0.1 0.8l0 3.8l0.2 1.9l0.4 2M191.6 934.2l1.9 0.1l1.9 0.1l1.9-0.1l1.9-0.3l1.9-0.4l1.9-0.5l2.1-0.7l1.7-0.8l2.9-1.5l2.2-1.5l1.6-1.2l4.4-3.6l1.5-1l1.7-0.8l1-0.4M221.1 897.3l-2.8-0.7l-1.9-0.8l-3.8-1.7l-1.9-0.6l-2-0.5l-1.9-0.3l-1.9-0.1l-1.9 0.2l-2 0.4l-1.8 0.6l-1 0.4l-1.9 1.1l-1 0.8l-1.2 0.9l-0.9 1l-0.8 0.9l-0.8 1.3l-0.4 0.7l-0.9 1.9l-0.6 1.9l-0.4 1.9l-0.1 1.9l0.1 1.9l0.4 1.9l0.6 1.9l0.2 0.6M217.7 920.6l1.5-0.5l1.9-0.4M220.2 899.5l-1.9 0l-1.9-0.2l-3.8-0.4l-1.9 0.1l-2 0.3l-1.6 0.6l-1.2 0.7l-1 0.7l-0.9 0.9l-0.5 0.6l-0.7 0.9l-0.5 1l-0.3 0.9l-0.3 1l-0.1 0.9l0 2l0.1 0.9l0.4 1.2l0.2 0.7l0.7 1.3l1 1.2l0.9 0.9l1 0.7l1.2 0.7l0.7 0.3l0.9 0.3l2 0.3l1.9 0.1l1.9-0.2l2.8-0.3l2.9-0.1M219.2 902.4l-1.3 0.4l-4.2 1.9l-1.2 0.9l-0.7 1l-0.3 0.9l-0.2 1l0.2 1l0.3 0.9l0.8 1l1.1 0.9l1.8 1l3.7 1.3"/>
<path fill="none" stroke="#000" stroke-width="1.4" stroke-dasharray="5.1 2.2" d="M248.3 931.4l-0.6 1l-0.9 1l-1.3 0.9l-0.5 0.3l-0.9 0.4l-1 0.2l-1.2 0.1l-0.7-0.1l-1-0.3l-1.1-0.6l-1.1-0.9l-0.7-1l-0.3-1M237 885.6l0.4-1.1l0.9-1.2l1-0.7l0.9-0.5l1-0.3l1.2-0.1l0.7 0.1l1 0.2l1.4 0.7l0.5 0.3l0.9 0.8l1 1l0.4 0.8M257.3 926.7l0.3 0.9l0.3 1.9l0 1.9l-0.3 2l-0.5 1.9l-0.7 1.9l-0.9 1.7l-0.1 0.2l-0.9 1.2l-0.9 1l-1 0.8l-1.3 0.8l-0.6 0.3l-0.9 0.3l-1.4 0.4l-1.5 0.2l-1.9 0l-1.9-0.3l-1.9-0.6l-1.9-0.8l-1.9-1.2l-1.4-1.2l-1-0.9l-0.7-1l-0.7-1l-0.5-0.9l-0.5-1.5l-0.1-0.4l-0.1-0.9l0-1l0.1-2M232.5 886.6l0-0.1l-0.1-1.9l0-1l0.2-1.3l0.2-0.6l0.8-1.8l0.7-1l0.7-1l1-0.9l1.1-1l0.3-0.2l1.9-1.2l1.9-0.8l1.9-0.6l1.9-0.3l1.9 0l1.9 0.3l1 0.3l1.5 0.6l0.4 0.2l1.1 0.7l1.1 1l0.8 1l0.8 1.1l0.5 0.8l0.8 1.9l0.6 2l0.4 1.8l0.1 1.9l-0.1 1.9l-0.2 1l-0.3 0.9M230 888.2l-1-2.6l-0.2-1l-0.1-1l0.1-1.9l0.4-1.9l0.7-1.9l0.9-1.9l1.2-1.9l1.5-1.9l1-1.2l1.9-1.8l1.9-1.6l1.9-1.3l1.9-1.1l2-0.9l1.9-0.8l1.9-0.7l2.8-0.7l2.9-0.5l2.9-0.3l2.8-0.1l2.9 0.2l2.8 0.3l2.9 0.6l2.9 0.8l1.9 0.7l1.9 0.7l2 1l1.8 1l1.9 1.2l2.1 1.6l2.2 1.9l1.7 1.9l1.6 2.1l1.2 1.8l1 1.9l0.9 1.9l0.8 2.2l0.4 1.6l0.4 1.9l0.2 1.9l0.1 1.9l0 1.9l-0.3 2.9l-0.5 3.8l-0.8 4.8l-0.3 2.9M286.3 943.9l-1.7 1.9l-2.2 1.9l-2.1 1.6l-0.9 0.6l-1.9 1.2l-2 0.9l-1.9 0.9l-1.9 0.7l-2.8 0.9l-2.9 0.6l-2.9 0.4l-2.8 0.3l-2.9 0l-2.9-0.3l-2.8-0.4l-1.9-0.4l-1.9-0.5l-2.1-0.8l-1.7-0.7l-2.4-1.2l-1.6-0.9l-1.8-1.2l-2-1.7l-1.8-1.7l-1.9-2.3l-1.2-1.7l-1.1-2l-0.8-1.9l-0.5-1.9l-0.2-0.9l-0.1-1.9l0.1-1.1l0.2-0.9l0.3-0.9l0.7-1.7M227.8 889.4l-1.6-2.9l-0.3-0.9l-0.3-1l-0.2-1.9l0.1-1.9l0.2-1.9l0.3-1.9l0.5-2l0.6-1.9l1.1-2.8l1.4-2.9l1.1-2l1.9-3l1.9-2.7l1.9-2.3l2.3-2.4l2-1.9l1.4-1.4l3.1-2.5l2.7-2l2.8-1.9l3.1-1.8l2.7-1.4l3-1.5l2.7-1.2l2.8-1.1l3.9-1.3l3.8-1.1l4.8-1.1l3.8-0.7l3.8-0.6l3.8-0.3l3.8-0.2l3.8 0l3.9 0.1l3.8 0.3l4.1 0.5l3.5 0.6l3.8 0.9l3.8 1l3.9 1.2l2.8 1.1l2.9 1.2l3.4 1.7l2.3 1.2l2.9 1.7l2.8 2l2.9 2.3l1.9 1.7l1.9 1.9l2.2 2.6l1.6 2.1l1.7 2.6l1.6 2.9l1.2 2.9l1.1 2.8l0.9 2.9l0.7 2.9l0.7 3.8l0.5 3.8l0.4 3.9l0.3 4.7l0.1 5.8l0.1 3.1M359 937.9l-0.5 3.1l-0.9 3.8l-0.8 2.9l-1 2.9l-1.1 2.5l-1 2.2l-1.7 2.9l-1.2 1.9l-2.3 2.9l-1.7 1.9l-2.5 2.5l-2 1.6l-2.8 2.2l-2.9 1.8l-2.8 1.7l-2.9 1.5l-2.9 1.3l-2.8 1.2l-2.9 1l-3.8 1.2l-3.8 1l-3.8 0.7l-3.9 0.7l-3.8 0.4l-3.8 0.3l-3.8 0.1l-3.8-0.1l-3.9-0.3l-3.8-0.4l-3.8-0.5l-3.8-0.8l-3.8-0.9l-3.8-1.1l-3.9-1.3l-3.8-1.5l-3.7-1.8l-2-1l-3.3-1.8l-2.4-1.5l-3.4-2.4l-1.4-1l-2.9-2.4l-2.8-2.7l-2.4-2.5l-1.6-1.9l-1.7-2.2l-2-2.8l-1.5-2.6l-1-1.9l-0.9-2l-0.7-1.9l-0.7-1.9l-0.6-1.9l-0.4-1.9l-0.3-1.9l-0.1-1.9l0.1-1.9l0.1-1l0.3-1.1l0.3-0.8l0.7-1.3l0.9-1.6M257.8 1028l-2.6-2.9l-2.6-3l-2.9-3.7l-2.8-3.8l-2.8-4.1l-2.9-4.5l-2.2-3.8l-2.1-3.8l-1.9-3.9l-2.2-4.7l-1.6-3.9l-1.8-4.7l-1.6-4.8l-1.5-4.8l-1.3-5.2l-1-4.4l-0.7-3.8l-0.8-4.8l-0.4-3.9l-0.3-3.7l-0.1-3.8l0-2.9l0.2-2.9l0.3-1.9l0.4-1.9l0.6-1.9l0.8-1.6l0.2-0.3l0.8-1l1.3-1.5M226.3 890.9l-1.3-1.5l-0.1 0l-0.9-1.3l-0.4-0.6l-0.7-1.9l-0.5-2l-0.4-1.9l-0.2-2.8l-0.1-2.9l0-2.9l0.2-3.8l0.4-3.8l0.5-3.8l0.8-4.8l1-4.8l1.2-4.8l1.1-3.8l1.5-4.8l1.7-4.8l1.9-4.7l2.1-4.8l2.3-4.8l2.1-3.8l2.7-4.8l2.4-3.8l2.4-3.5l3-4.2l3-3.8l2.5-3.1l3.3-3.6"/>
<ellipse cx="242.1" cy="908.5" rx="25.2" ry="25.2" fill="#fff"/>
<text transform="translate(360.2 918.6) rotate(-88.5)" text-anchor="middle" y="4.9" font-size="20.8px">-0.2</text>
<text transform="translate(217.1 878.6) rotate(-291.7)" text-anchor="middle" y="4.9" font-size="20.8px">0.0</text>
<text transform="translate(177.3 927.8) rotate(-318.5)" text-anchor="middle" y="4.9" font-size="20.8px">0.2</text>
<text transform="translate(202.5 924.1) rotate(-349.2)" text-anchor="middle" y="4.9" font-size="20.8px">0.3</text>
<text transform="translate(292.7 925.7) rotate(90.0)" text-anchor="middle" y="4.9" font-size="20.8px">-0.3</text>
</g>
<rect x="99" y="789" width="334" height="239" fill="none" stroke="#000" stroke-width="2"/>
<text transform="translate(50.9 1015.5) scale(1.215 1.5)">−</text><text x="66.0" y="1010.1">2</text>
<text transform="translate(50.9 967.6) scale(1.215 1.5)">−</text><text x="66.0" y="962.3">1</text>
<text x="77.0" y="914.5" text-anchor="end">0</text>
<text x="77.0" y="866.7" text-anchor="end">1</text>
<text x="77.0" y="818.9" text-anchor="end">2</text>
<text transform="translate(33 910.8) rotate(-90)" text-anchor="middle">y</text>
<path stroke="#000" stroke-width="2" fill="none" d="M98.0 1004.1h-11M98.0 956.3h-11M98.0 908.5h-11M98.0 860.7h-11M98.0 812.9h-11"/>
<text x="266.0" y="773.6" text-anchor="middle">PetIBM</text>
<g clip-path="url(#c21)">
<rect x="460" y="789" width="335" height="239" fill="#002758"/>
<path fill="#00306f" fill-rule="evenodd" d="M460 1028l335 0l0-239l-335 0l0 239zM602.6 934.4l-0.9-0.2l-1-0.5l-1-0.8l-0.4-0.5l-0.3-1l4-19.1l0.2-0.9l0.2-1l0.2-1.1l0.1 0.2l0.2 0.9l0.5 1.9l0.3 1l0.9 3.8l1.7 7.7l1.5 6.6l-0.5 1l-1.2 1l-0.7 0.4l-0.9 0.4l-1 0.2l-0.9 0.1l-1-0.1zM603.6 907.7l-0.1-0.2l-0.1-0.9l-0.2-1l-0.7-2.8l-0.4-1.9l-0.6-2.9l-0.8-3.6l-1.6-7.9l-0.2-0.9l0.3-1l0.5-0.6l1-0.8l1-0.5l0.9-0.3l1-0.1l0.9 0.1l1 0.3l0.9 0.4l1 0.6l1.1 0.9l0.5 1l-4.1 17.2l-0.5 1.9l-0.5 1.9l-0.2 0.9l-0.1 0.2z"/>
<path fill="#1a386f" fill-rule="evenodd" d="M460 1028l335 0l0-239l-335 0l0 239zM604.5 939.1l-0.9 0l-1-0.2l-0.9-0.3l-1.1-0.5l-0.9-0.5l-0.9-0.7l-1-1l-0.4-0.6l-0.6-1l-0.3-0.9l-0.4-2l0.1-0.9l6.4-19.1l0.5-1l0.5-1.3l0.5 0.4l0.9 1.9l1.4 3.1l1.3 2.6l5.9 12.4l0.2 1l-0.7 1.8l-0.4 1.1l-0.6 0.9l-0.9 1.3l-0.9 1.1l-1 0.8l-0.9 0.6l-1 0.5l-1 0.3l-1.6 0.2l-0.3 0zM603.6 907.9l-0.2-0.4l-0.3-0.9l-0.5-1l-0.6-1.9l-0.4-0.9l-0.6-1.9l-0.6-2l-4.3-12.4l-0.1-0.9l0.4-2l0.5-1.2l0.4-0.7l0.7-0.9l0.9-1l1.4-0.9l0.4-0.2l1-0.4l1.2-0.4l0.7-0.1l0.9-0.1l1 0.1l0.9 0.1l1 0.3l1.3 0.7l0.6 0.3l1 0.8l0.9 1.1l1.1 1.6l1 1.9l0.3 1l0.3 0.9l-0.2 1l-7.4 15.3l-2.2 4.7l-0.5 0.4z"/>
<path fill="#2d416d" fill-rule="evenodd" d="M460 1028l335 0l0-239l-335 0l0 239zM603.6 943.1l-1.9-0.7l-2-1l-0.9-0.6l-1-0.8l-0.9-0.9l-1-1.1l-0.9-1.5l-0.5-1.2l-0.3-1l-0.2-0.9l0-1.1l0.1-1.8l1.6-3.8l7.1-16.3l0.8-1.5l0.8 0.6l0.1 0.3l0.7 0.6l0.3 0.6l0.4 0.4l0.7 0.9l7.5 9.7l3.8 4.9l0.5 0.7l0.1 1l0.1 1.9l-0.2 1.9l-0.5 2l-0.6 1.8l-0.9 1.9l-0.7 1l-0.7 0.9l-1 1l-1.3 1l-0.5 0.3l-1.5 0.6l-1.4 0.4l-1.9 0.2l-1.9-0.1l-1.9-0.3zM603.6 908.1l-2.9-6.3l-1.9-4.3l-4.4-10l-0.4-1l0-2.9l0.1-0.9l0.3-1l0.6-1.3l0.3-0.6l0.6-0.9l1-1.1l0.9-1l1.1-0.8l1.8-1.1l1.9-0.8l1.9-0.5l1.9-0.3l2 0l0.9 0.2l1 0.2l1.1 0.4l0.8 0.3l1 0.6l1.2 1l1 1l0.7 0.9l0.9 1.5l0.6 1.4l0.6 1.9l0.4 1.9l0.2 1.9l-0.1 1.9l-0.2 1l-0.6 1l-13.5 17.1l-0.8 0.6z"/>
<path fill="#3c4a6c" fill-rule="evenodd" d="M460 1028l335 0l0-239l-335 0l0 239zM606.4 947.9l-1.9-0.6l-1.9-0.7l-1.9-1l-1.9-1.2l-1.9-1.6l-1-1l-1.4-1.8l-0.7-0.9l-0.9-1.9l-0.4-1l-0.4-1.7l0-0.2l-0.1-0.9l0.1-1.2l0.1-0.8l0.5-1.9l5.9-11.4l1.5-2.9l2.5-4.8l0.6-0.9l0.4-0.8l0.9 0.4l0.6 0.4l0.4 0.4l0.9 0.7l15.9 11.3l1.1 0.9l0.8 1l1.2 1.9l0.8 1.9l0.4 1.9l0.2 1.9l-0.1 2l-0.3 1.9l-0.4 1.9l-0.7 1.9l-0.8 1.9l-0.8 1.3l-1 1.3l-0.9 1l-1 0.8l-1 0.7l-1.1 0.6l-1.7 0.8l-1 0.3l-1.9 0.4l-1.9 0.2l-1.9 0l-1.9-0.2l-2-0.3zM603.6 908.3l-0.4-0.8l-0.6-0.9l-1-1.9l-2.5-4.8l-6.4-12.4l-0.6-2.4l-0.1-0.5l0-1l0.1-1.4l0.1-0.5l0.2-0.9l0.6-1.6l0.8-1.3l0.6-0.9l0.7-1l0.8-1l1-0.9l1.9-1.6l1.9-1.3l1.9-1l1.9-0.7l1.9-0.6l2-0.4l1.9-0.2l1.9 0l1.9 0.2l1.9 0.3l1.9 0.7l1.9 0.9l1.3 0.8l1.1 1l0.9 0.9l0.8 1l1.1 1.9l0.9 1.9l0.6 1.9l0.4 1.9l0.2 1.9l0.1 2l-0.2 1.9l-0.5 1.9l-0.3 0.9l-0.6 1.2l-0.4 0.7l-0.7 1l-0.8 1l-1.2 0.9l-9.4 6.6l-1.4 1.1l-2.4 1.6l-0.9 0.7l-2.1 1.5l-0.8 0.5l-0.4 0.4l-0.6 0.4l-0.9 0.4z"/>
<path fill="#49536c" fill-rule="evenodd" d="M460 1028l335 0l0-239l-335 0l0 239zM613.1 954.6l-2.8-0.6l-1.9-0.6l-2.5-0.9l-1.4-0.6l-2.4-1.3l-1.5-1l-1.8-1.3l-1.9-1.7l-1.9-2l-1.4-1.7l-1.2-1.9l-0.5-1l-0.8-1.9l-0.6-1.9l-0.2-0.9l-0.1-1l0-0.9l0.1-1l0.2-1l0.7-1.9l0.4-0.9l11-18.4l0.5-0.7l0.5-1l1.9 0.1l1.9 0.2l1.9 0.3l1.9 0.4l3.9 0.4l11.4 1.6l1-0.2l0.6-0.9l0.3-0.9l0.1-1.2l-0.1-0.8l-0.4-0.9l-0.5-0.8l-1-0.2l-4.7 0.6l-5.8 0.8l-3.8 0.4l-1.1 0.1l-2.7 0.6l-2 0.2l-1.9 0.2l-0.9 0l-0.5-1l-1.8-2.8l-6.9-11.5l-2.8-4.8l-0.8-1.9l-0.3-0.9l-0.2-1l-0.1-1l0-0.9l0.1-1l0.4-1.9l0.7-1.9l0.9-1.9l1.2-1.9l0.7-1l1.7-1.9l1.9-1.9l1.9-1.5l2-1.4l1.9-1l1.9-1l2.2-0.8l1.6-0.6l1.9-0.5l2.9-0.6l2.9-0.3l1.9-0.1l2.9 0l2.8 0.3l2.9 0.5l1.9 0.4l2.9 0.9l2.3 0.9l2.5 1.3l1.9 1.1l2.1 1.4l2.3 2l1.8 1.9l1.6 1.9l1.3 1.9l1.1 1.9l0.9 1.9l0.7 1.9l0.6 2.2l0.4 1.7l0.2 1.9l0.1 1.9l-0.1 1.9l-0.1 1.9l-0.5 2.9l-0.7 2.8l-1.5 5.8l-0.3 1.9l-0.1 0.9l0 2.9l0.2 1.9l0.5 2.9l1.3 5.7l0.4 2.9l0.1 1.9l0 1.9l-0.2 1.9l-0.3 1.9l-0.4 2l-0.7 1.9l-0.8 1.9l-0.9 1.9l-1.4 2.1l-1.2 1.7l-1.6 1.9l-1.9 1.9l-2.4 2l-2.4 1.6l-1.9 1l-2 0.9l-1.9 0.8l-1.9 0.6l-2.9 0.7l-1.9 0.3l-2.8 0.4l-2.9 0.1l-2.9-0.2l-1.9-0.2l-1-0.1z"/>
<path fill="#555c6d" fill-rule="evenodd" d="M460 1028l335 0l0-239l-335 0l0 239zM625.6 965l-3.8-0.7l-2.9-0.7l-2.9-0.8l-2.9-1l-2.8-1.2l-3-1.4l-1.8-1.1l-1.9-1.2l-2.9-2.1l-1.9-1.6l-1.9-1.8l-1.9-2.2l-2-2.5l-1.1-1.9l-1.1-1.9l-0.8-1.9l-0.8-2.2l-0.4-1.6l-0.2-1.9l-0.1-1.9l0.2-1l0.2-1l0.3-0.9l1-2l1.2-1.8l10.9-16.3l0.3-0.3l0.4-0.6l0.5-1l-0.9-1.6l-0.3-0.3l-6.5-9.6l-5.7-8.6l-0.9-1.9l-0.4-0.9l-0.2-1l-0.1-1l0-1.9l0.3-1.9l0.4-1.9l0.7-1.9l0.8-1.9l1.1-1.9l1.1-1.9l1.1-1.5l1.9-2.4l1.9-2l2-1.8l1.9-1.5l2.8-2l2.9-1.7l2.9-1.5l2.8-1.2l2.9-1.1l2.9-0.8l2.9-0.7l2.8-0.6l2.9-0.5l3.8-0.4l3.9-0.2l3.8 0l3.8 0.2l3.8 0.3l3.9 0.6l3.8 0.8l3.1 0.8l3 0.9l2.6 1l2.8 1.2l1.9 0.9l1.9 1.1l1.9 1.2l1.9 1.4l2.2 1.8l1.9 1.9l1.7 1.9l1.4 1.9l1.2 2l1.2 2.2l0.7 1.6l0.8 1.9l0.6 1.9l0.8 2.9l0.5 2.8l0.4 3.5l0.2 2.3l0.2 3.8l0 4.8l-0.3 23.9l-0.2 4.8l-0.3 2.8l-0.4 2.9l-0.5 2.9l-0.8 2.8l-0.7 2.3l-0.6 1.6l-0.9 1.9l-1.4 2.6l-1 1.4l-1.2 1.7l-1.6 2l-1.9 1.9l-2.2 1.8l-2.6 1.9l-1.7 1l-2.2 1.2l-2.8 1.4l-2.9 1.1l-1.9 0.6l-2.9 0.9l-2.9 0.7l-3.8 0.7l-3.8 0.5l-3.8 0.4l-3.9 0.1l-3.8 0l-3.8-0.2l-3.9-0.4l-0.9-0.2z"/>
<path fill="#61656f" fill-rule="evenodd" d="M460 1028l335 0l0-239l-335 0l0 239zM646.6 983.1l-3.8-0.5l-3.8-0.8l-3.8-0.9l-3.9-1l-3.8-1.3l-3.8-1.5l-2.9-1.3l-3.8-1.8l-3.9-2.2l-3.8-2.5l-2.9-2l-2.8-2.4l-2.9-2.6l-2.9-3.1l-1.9-2.3l-1.9-2.6l-1.9-3l-1.5-2.6l-1.3-2.9l-0.7-1.9l-0.6-1.9l-0.5-2l-0.4-1.9l-0.2-1.9l0-1.9l0.2-1.9l0.2-1l0.3-0.9l0.7-1.2l1-1.7l12.8-17.2l0.5-0.5l0.9-1.4l-0.9-1.4l-0.5-0.5l-0.7-1l-6.4-8.6l-5.8-7.7l-1.1-1.8l-0.5-1l-0.3-0.9l-0.3-1l-0.2-1.9l0-1.9l0.3-1.9l0.3-1.9l0.5-2l0.6-1.9l1.1-2.8l1.4-2.9l1.1-2l1.9-3.1l1.9-2.6l2.3-2.8l1.8-1.9l1.9-1.9l2.1-2l2.4-2l2.9-2.2l2.9-1.9l2.9-1.8l3.8-2l3.8-1.8l4-1.6l2.7-1l3.8-1.2l3.9-1l3.8-0.9l3.8-0.6l3.9-0.5l3.8-0.3l3.8-0.1l3.8 0l3.9 0.3l3.8 0.3l3.8 0.6l3.9 0.7l3.8 0.9l3.8 1.1l3.8 1.4l3.9 1.5l2.8 1.3l2.9 1.5l2.9 1.7l2.9 1.9l2.8 2.1l2.1 1.7l2 1.9l1.8 2l1.6 1.9l1.4 1.9l1.8 2.8l1.6 2.9l1.2 2.9l1 2.8l0.9 2.9l0.7 2.9l0.5 2.9l0.6 3.8l0.4 3.8l0.2 4.8l0.2 5.7l0 8.6l-0.3 13.4l-0.2 6.7l-0.3 4.8l-0.4 4.8l-0.5 3.8l-0.7 3.8l-0.9 3.8l-0.8 2.9l-1.1 2.9l-1.2 2.8l-1 2.1l-1.6 2.7l-1.3 2l-2.2 2.8l-1.8 1.9l-2.7 2.6l-1.9 1.6l-2.9 2.1l-2.9 1.9l-2.8 1.6l-2.9 1.5l-2.9 1.3l-2.9 1.1l-2.8 1l-2.9 0.9l-3.8 1l-3.9 0.8l-3.8 0.7l-3.8 0.4l-3.8 0.3l-3.9 0.1l-3.8-0.1l-3.8-0.2l-3.9-0.4z"/>
<path fill="#6c6d72" fill-rule="evenodd" d="M460 1028l335 0l0-239l-335 0l0 239zM671.5 1013.7l-3.8-0.4l-3.9-0.6l-3.8-0.7l-3.8-0.9l-3.8-1l-3.8-1.3l-3.9-1.4l-3.8-1.5l-3.8-1.8l-3.9-1.9l-3.8-2.2l-3.8-2.4l-4.5-3.1l-2.5-1.9l-2.6-2l-3.8-3.3l-3.4-3.3l-2.4-2.4l-2.9-3.3l-2.8-3.4l-2.9-3.9l-2.7-4.2l-1.1-1.9l-2.1-3.8l-1.7-3.8l-1.2-2.9l-1.1-2.9l-0.9-2.8l-0.7-2.9l-0.6-2.9l-0.4-2.9l-0.2-2.8l0.1-1.9l0.2-2.1l0.4-1.8l0.5-1.4l0.3-0.5l0.7-1.1l2.1-2.7l13.4-16.2l0.6-1l-0.8-1.3l-0.6-0.6l-0.3-0.5l-0.5-0.5l-0.8-0.9l-2.6-3.2l-2.1-2.6l-8.6-10.5l-0.8-1.3l-0.2-0.6l-0.4-0.9l-0.4-2l-0.2-1.9l0-1.9l0.1-2.8l0.4-2.9l0.6-2.9l0.7-2.9l0.8-2.8l1-2.9l1.5-3.6l1.9-4.1l2-3.8l1.8-3.1l2.3-3.6l2.1-2.8l1.4-1.9l2.8-3.5l3-3.2l2.8-2.9l3-2.9l2.7-2.3l3.8-3.1l3.9-2.7l3.8-2.5l3.8-2.3l3.9-2.1l3.8-1.8l4.8-2l3.8-1.5l3.8-1.2l3.9-1.1l3.8-0.9l3.8-0.7l3.8-0.6l3.9-0.5l3.8-0.3l3.8-0.1l3.9 0l3.8 0.1l3.8 0.3l4.1 0.5l3.6 0.5l3.8 0.7l3.8 0.9l3.9 1l3.8 1.1l4.4 1.5l3.2 1.2l4 1.7l4 1.9l3.7 1.9l3.7 2.1l3.8 2.3l3.3 2.3l3.4 2.6l2.9 2.3l3 2.8l2.9 2.8l2.7 3.1l1.9 2.4l1.6 2.2l1.8 2.8l2.1 3.9l1.6 3.8l1.2 3.8l0.7 2.9l0.6 2.8l0.5 3.9l0.4 4l0.2 4.6l0.2 5.7l-0.1 8.6l-0.3 15.3l-0.2 2.9l-0.9 3.8l0.5 3.8l0 1.9l-1 15.3l-0.7 9.6l-0.7 7.6l-0.6 4.8l-0.6 3.8l-0.6 2.9l-1 3.8l-1.2 3.9l-1.7 3.8l-2 3.8l-1.7 2.9l-2.1 2.8l-1.8 2.3l-2.2 2.5l-2.7 2.9l-3.1 2.9l-3.4 2.9l-3.8 2.8l-2.9 2l-3.9 2.4l-4 2.3l-3.8 1.9l-3.7 1.7l-3.8 1.5l-3.8 1.4l-3.8 1.2l-3.9 1.1l-3.8 0.9l-4.4 0.8l-4.2 0.6l-3.8 0.4l-3.9 0.3l-3.8 0.1l-3.8-0.1l-3.9-0.1l-1.9-0.2z"/>
<path fill="#777776" fill-rule="evenodd" d="M460 1028l157.8 0l-3.1-3.8l-3-3.8l-2.7-3.9l-2.6-3.8l-3-4.8l-2.7-4.8l-2.5-4.7l-1.9-3.9l-2.2-4.7l-1.6-3.9l-1.8-4.7l-1.6-4.8l-1.4-4.8l-1.3-4.8l-0.9-3.8l-0.9-4.8l-0.7-4.8l-0.4-3.8l-0.3-3.8l-0.2-3.8l0.1-2.9l0.2-2.9l0.3-1.9l0.4-1.9l0.6-1.9l0.8-1.6l0.2-0.3l0.7-1l4.8-5.3l2.1-2.3l9.5-10.5l0.7-1l-0.8-1.1l-1.6-1.8l-0.3-0.3l-1.5-1.6l-1.4-1.6l-1.2-1.2l-4.5-5.1l-4.1-4.5l-2.6-3.2l-0.4-0.6l-0.8-1.9l-0.5-2l-0.3-1.9l-0.3-2.8l-0.1-2.9l0-3.8l0.2-3.9l0.5-4.7l0.7-4.8l0.8-4.8l1-4.8l1.2-4.8l1.3-4.7l1.5-4.8l1.7-4.8l1.4-3.8l2-4.8l2.2-4.8l1.9-3.8l2.3-4.2l2.5-4.4l2.4-3.8l3.3-4.8l2.7-3.8l2.3-2.9l-154.9 0l0 239z"/>
<path fill="#828079" fill-rule="evenodd" d="M460 1028l117.5 0l-0.5-7.6l-0.3-7.7l-0.2-8.6l0-7.6l0.1-8.7l0.4-8.6l0.5-9.5l0.7-8.6l0.8-8.6l0.8-6.7l0.7-4.8l0.8-4.8l0.7-2.8l0.6-2l0.9-1.9l0.9-1.5l0.3-0.4l0.9-0.9l1-1l13.2-13.4l2.8-2.8l0.7-1l-0.7-1l-10.4-10.5l-1.1-1.1l-6.4-6.5l-0.7-1l-1-1.9l-0.7-1.9l-0.7-2.6l-0.5-2.2l-0.7-3.8l-0.9-5.7l-0.8-7l-0.8-7.4l-1-10.5l-0.9-11.5l-0.6-9.5l-0.5-9.6l-0.2-8.6l-0.1-8.6l0.2-7.6l0-1l-114.8 0l0 239z"/>
<path fill="#8f8a78" fill-rule="evenodd" d="M460 1028l69.6 0l3.1-4l4.9-6.5l4.1-5.8l3.9-5.7l3.7-5.7l3.5-5.8l3.9-6.7l3.8-6.8l3.3-6.5l2.4-5.1l3.3-7.4l2.5-5.9l2.9-7.6l3.2-9.4l2-5.7l1.2-2.9l1.2-2.1l1-1.3l0.9-1l13.4-12.3l1.6-1.5l0.3-0.2l1.8-1.7l0.2-0.1l0.9-0.9l0.6-0.9l-0.7-1l-1.8-1.7l-0.3-0.2l-1.6-1.6l-1-0.8l-1.5-1.4l-1.3-1.3l-2.9-2.6l-8.6-8l-0.5-0.5l-1.2-1.9l-1.2-2.6l-0.5-1.3l-1.7-4.7l-3.5-10l-3.6-9.2l-1.7-3.8l-2.4-5.3l-3.8-7.7l-3.9-7.1l-3.4-5.7l-2.3-3.8l-3.8-5.8l-4-5.7l-3.7-5l-5-6.5l-4.6-5.6l-7.5-8.7l-65.2 0l0 239z"/>
<path fill="#9b9476" fill-rule="evenodd" d="M487.4 985l3.2 0.3l3.9 0.2l3.8 0l3.8-0.1l3.8-0.4l3.9-0.4l3.8-0.7l3.8-0.9l3.9-1l2.8-0.9l3.9-1.3l3.8-1.6l3.8-1.7l4.8-2.5l3.8-2.3l4.4-3l2.3-1.7l3.9-3.1l3-2.8l2.7-2.6l3.8-4.2l3-3.7l2.1-2.9l2-2.9l1.8-2.8l2.2-3.9l1.5-2.8l2.6-4.8l1.8-2.9l1.2-1.3l1-0.9l3.8-3.1l3.9-3.3l8.5-7.2l0.5-0.4l0.5-0.4l0.6-0.6l0.4-0.2l0.9-0.9l0.6-0.8l-0.6-0.8l-0.2-0.2l-0.7-0.7l-0.4-0.2l-0.6-0.6l-0.5-0.4l-0.5-0.4l-1.8-1.5l-0.1-0.1l-13.6-11.4l-1.2-0.9l-0.9-1l-1.5-1.9l-2.2-3.8l-3.6-6.7l-2.3-3.8l-1.9-2.9l-1.5-2.1l-2.9-3.8l-3.1-3.6l-2.6-2.8l-4.1-3.9l-2.6-2.3l-3.3-2.5l-2.6-1.9l-2.9-1.9l-3.1-2l-2.5-1.3l-3.8-2l-3.8-1.7l-3.8-1.5l-3.9-1.3l-3.8-1.2l-3.8-1l-3.9-0.8l-3.9-0.6l-3.7-0.5l-3.8-0.3l-3.9-0.2l-3.8 0l-3.8 0.1l-3.9 0.3l-3.8 0.4l-3.8 0.7l-3.8 0.8l-2.9 0.7l-3.8 1.1l-3.9 1.3l-2.8 1.2l-1 0.4l0 137.7l3.8 1.9l3.9 1.5l2.8 1.1l3.9 1.2l3.8 1l3.8 0.8l2.9 0.4l2.5 0.4z"/>
<path fill="#a79d73" fill-rule="evenodd" d="M529.5 955.3l2.3 0.1l2.9 0l2.8-0.2l2.9-0.3l2.9-0.6l2.8-0.6l2.9-0.9l2.9-1.1l2.9-1.2l2.8-1.5l2.9-1.7l2.9-2l2.9-2.4l2.2-1.9l1.9-1.9l1.7-1.9l1.8-2.2l3.8-5.1l1-1.3l1.6-1.9l1.3-1.3l0.9-0.8l2.9-1.9l17.2-13.5l0.5-0.7l-0.5-0.7l-0.4-0.3l-0.5-0.5l-0.6-0.4l-0.4-0.4l-2.1-1.5l-2.7-2.2l-9.6-7.4l-1.9-1.5l-0.9-0.5l-1.3-0.9l-1.1-0.9l-1.7-1.9l-2.1-2.9l-1.5-2l-2.9-3.7l-1.9-2.1l-2.7-2.7l-1.1-1l-2.9-2.4l-3.2-2.3l-1.6-1l-2.8-1.6l-2.9-1.4l-2.9-1.2l-2.8-1l-2.9-0.9l-2.9-0.6l-2.9-0.5l-2.8-0.3l-2.9-0.2l-2.9 0l-2.8 0.2l-2.9 0.3l-3.1 0.5l-2.7 0.6l-2.8 0.8l-2.9 1.1l-1.9 0.7l-2.9 1.4l-2.1 1.1l-2.7 1.7l-1.9 1.3l-2.3 1.8l-1.5 1.3l-1.9 1.8l-2.4 2.7l-1.6 1.9l-1.9 2.8l-1.8 3l-1.3 2.8l-1.2 2.8l-1 2.9l-0.7 2.9l-0.5 2.9l-0.3 2.8l-0.2 1.9l0.2 3.9l0 1.9l0.3 2.8l0.5 2.9l0.7 2.9l0.9 2.8l1.2 2.9l1.4 3.1l1.5 2.6l1.9 2.9l1.4 2l2.4 2.8l2.4 2.5l1.9 1.8l1.9 1.5l2.9 2.1l2.9 1.8l2.8 1.5l2.9 1.3l2.9 1.1l2.8 0.9l3.2 0.8l2.6 0.5l2.9 0.3l1.5 0.1z"/>
<path fill="#b5a86f" fill-rule="evenodd" d="M540.7 941l2.6 0.5l1.9 0.2l2.9 0.1l2.8-0.1l2.9-0.4l1.9-0.3l1.9-0.5l1.9-0.6l2.2-0.8l2.1-1l1.9-0.9l1.6-1l1.8-1.2l2.2-1.6l1.6-1.5l3.9-3.8l1.3-1.4l2.1-1.9l1.4-1.1l3.8-2.3l7.4-5.3l2.2-1.5l1.9-1.3l4.8-3.4l0.4-0.4l0.5-0.3l0.5-0.7l-0.5-0.7l-0.5-0.3l-0.4-0.4l-1-0.7l-10.6-7.5l-5.7-4l-1.9-1.1l-1.1-0.6l-1.8-1.4l-1.5-1.5l-2.3-2.4l-3.8-3.6l-2-1.6l-1.8-1.3l-2.7-1.6l-1.2-0.6l-2.8-1.3l-2-0.7l-2.8-0.9l-2.9-0.6l-2.9-0.3l-2.8-0.1l-2.9 0.1l-1.9 0.2l-2.5 0.4l-2.3 0.6l-1.9 0.5l-2.1 0.8l-2.7 1.3l-1.9 1.1l-2.3 1.4l-1.6 1.2l-1.9 1.7l-1.9 2l-1.5 1.8l-1.4 1.9l-1.2 1.9l-1 2l-0.9 1.9l-0.7 1.9l-0.6 1.9l-0.6 2.9l-0.3 1.9l-0.1 1.9l0.1 4.8l0.2 1.9l0.6 2.8l0.5 2l0.7 1.9l0.8 1.9l1 1.9l1.1 1.9l1.4 2.1l1.3 1.7l1.8 1.9l2 2l1.6 1.3l1.9 1.3l1.9 1.2l1.9 1l2 0.9l2.8 1.1l1.9 0.5l1.3 0.3z"/>
<path fill="#c2b369" fill-rule="evenodd" d="M553.2 933.4l1.6 0.1l1.9 0.1l1.9 0l2.3-0.2l1.5-0.3l1.9-0.5l1.9-0.6l2-0.8l1.9-0.9l1.9-1.2l2.9-2l2.9-2.3l1.8-1.4l1-0.6l1.9-0.9l1-0.4l5.7-3.7l13.4-8.7l0.4-0.6l-0.4-0.6l-0.6-0.4l-0.3-0.3l-2.9-1.8l-13-8.4l-2.3-1.5l-1.9-0.8l-1.1-0.5l-1.8-1.2l-3.4-2.7l-1.4-1.1l-1.9-1.3l-2.5-1.4l-1.3-0.7l-2-0.7l-1.9-0.7l-1.9-0.4l-1.9-0.4l-1.9-0.1l-1.9-0.1l-1.9 0.1l-2 0.2l-1.9 0.4l-1.9 0.5l-1.9 0.7l-1.9 0.9l-1.9 1.1l-1.8 1.1l-1.2 1l-1.8 1.7l-1.1 1.1l-1.5 2l-1.2 1.9l-1 1.9l-1 2.2l-0.5 1.6l-0.4 1.9l-0.3 1.9l-0.1 1l0 3.8l0.2 1.9l0.4 1.9l0.6 1.9l0.7 2l0.9 1.9l1.1 1.9l1.3 1.9l1.7 1.9l1.1 1.1l2 1.6l1.5 1.1l1.7 1l1.9 0.9l1.6 0.7l1.9 0.6l1.9 0.4l1.3 0.3z"/>
<path fill="#d0be62" fill-rule="evenodd" d="M558.7 927.6l1.8 0.3l1.9 0.2l1.9-0.1l1.9-0.2l2-0.4l1.9-0.6l2.5-1.1l1.3-0.7l5.7-3.2l2-0.8l0.9-0.3l1.5-0.7l6.2-3.7l1.9-1.1l9.6-5.6l0.1-0.1l0.8-0.5l0.4-0.5l-0.4-0.5l-15.4-9.1l-3.7-2.2l-1-0.4l-1.9-0.6l-1.9-0.9l-2.9-1.7l-1.9-1.1l-1.9-1l-1.9-0.8l-1.9-0.6l-2-0.4l-1.9-0.2l-1.9 0l-1.9 0.1l-1.9 0.3l-1.9 0.5l-1.9 0.8l-2 0.9l-1.9 1.3l-0.9 0.7l-1 0.9l-1.5 1.6l-1.4 1.9l-1.1 1.9l-0.8 1.9l-0.6 1.9l-0.4 1.9l-0.2 1.9l0 2l0.2 1.9l0.4 1.9l0.6 2l0.8 1.8l1.1 2l1.4 1.8l1.5 1.6l1 0.9l0.9 0.7l1.9 1.3l1 0.5l1.9 0.9l1.9 0.6l1.1 0.2z"/>
<path fill="#dec958" fill-rule="evenodd" d="M565.6 923.8l1.6 0.1l1.9-0.1l1.9-0.4l2-0.6l1.9-0.6l3.8-1.6l1.9-0.6l1.9-0.5l11.5-6l2.9-1.5l4.8-2.5l0.9-0.6l0.3-0.4l-0.3-0.4l-1.9-1.1l-6.3-3.3l-2.3-1.2l-9.6-5l-3.8-1.1l-3.2-1.3l-1.6-0.6l-1.9-0.6l-1.9-0.5l-1.9-0.2l-2 0l-1.9 0.2l-1.9 0.5l-1.9 0.7l-1.1 0.5l-1.8 1.2l-0.9 0.8l-1 0.9l-0.9 1.1l-1 1.4l-0.8 1.3l-0.7 1.9l-0.5 1.9l-0.3 1.9l0 2l0.3 1.9l0.5 1.9l0.7 1.9l0.8 1.4l1 1.3l0.1 0.2l0.8 0.9l1 1l1.2 0.9l1.6 1.1l2 0.8l1.9 0.6l1.9 0.4l0.3 0z"/>
<path fill="#ebd44b" fill-rule="evenodd" d="M566.8 920l1.4 0.3l1.9 0.2l1.9-0.1l1.9-0.3l3.8-0.9l1.9-0.4l2-0.2l1.3-0.5l14-6.5l2.8-1.3l2.9-1.4l0.3-0.4l-0.3-0.4l-2.9-1.4l-2.4-1.1l-2.3-1.1l-13.4-6.1l-2-0.2l-1.9-0.4l-3.8-0.9l-1.9-0.3l-1.9-0.1l-1.9 0.2l-2 0.5l-1.7 0.8l-1.1 0.7l-1 0.7l-0.9 0.9l-1 1.1l-0.3 0.4l-0.7 1.1l-0.3 0.8l-0.6 1.6l-0.3 1.3l-0.1 0.9l0 2l0.1 0.9l0.5 1.9l0.7 1.8l0.1 0.1l0.9 1.4l1 1.1l0.9 0.9l1 0.7l1.1 0.7l0.8 0.4l1.5 0.6z"/>
<path fill="#fbe138" fill-rule="evenodd" d="M570.1 917.1l1.9 0.4l1.9 0.1l1.9-0.1l2.9-0.2l2.9 0l12.4-5l8.6-3.5l0.2-0.3l-0.2-0.3l-2.9-1.2l-2.8-1.2l-15.3-6l-1-0.1l-1.9 0l-5.8-0.3l-0.9 0.1l-1.9 0.4l-1 0.4l-1.1 0.6l-1.3 0.9l-0.9 1l-0.7 0.9l-0.8 1.5l-0.1 0.4l-0.3 1l-0.2 0.9l0 1l0 1l0.2 0.9l0.4 1.4l0.2 0.5l0.8 1.3l0.9 1.1l1 0.9l1 0.6l0.9 0.5l1 0.4z"/>
<path fill="#fee838" fill-rule="evenodd" d="M575.7 915.2l4.9 0.8l1-0.2l19.1-6.4l1-0.4l0.9-0.3l0.2-0.2l-0.2-0.2l-0.9-0.3l-1-0.5l-1.9-0.5l-1.9-0.7l-16.3-5.2l-2.9 0.5l-2.8 0.4l-1 0.2l-1.4 0.6l-0.5 0.2l-1.1 0.7l-0.9 1l-0.6 0.9l-0.4 1l-0.3 0.9l0 1l0 1l0.4 1.3l0.3 0.6l0.7 1l0.9 1l1.4 0.8l1.5 0.6l1.8 0.4z"/>
<path fill="none" stroke="#000" stroke-width="1.4" d="M577.5 1028l-0.5-7.6l-0.3-7.7l-0.2-8.6l0-7.6l0.1-8.7l0.4-8.6l0.5-9.5l0.7-8.6l0.8-8.6l0.8-6.7l0.7-4.8l0.8-4.8l0.7-2.8l0.6-2l0.9-1.9l0.9-1.5l0.3-0.4l0.9-0.9l1.3-1.4M586.9 891.7l-2.5-2.6l-0.4-0.7l-1-1.9l-0.7-1.9l-0.7-2.6l-0.5-2.2l-0.7-3.8l-0.9-5.7l-0.8-7l-0.8-7.4l-1-10.5l-0.9-11.5l-0.6-9.5l-0.5-9.6l-0.2-8.6l-0.1-8.6l0.2-7.6l0-1M479.4 983.7l3.6 0.6l3.8 0.6l3.8 0.4l3.9 0.2l3.8 0l3.8-0.1l3.8-0.4l3.9-0.4l3.8-0.7l3.8-0.9l3.9-1l2.8-0.9l3.9-1.3l3.8-1.6l3.8-1.7l4.8-2.5l3.8-2.3l4.4-3l2.3-1.7l3.9-3.1l3-2.8l2.7-2.6l3.8-4.2l3-3.7l2.1-2.9l2-2.9l1.8-2.8l2.2-3.9l1.5-2.8l2.6-4.8l1.8-2.9l1.2-1.3l1-0.9l2-1.5M585.5 893.1l-0.1 0l-2.4-1.8l-0.9-1l-1.5-1.9l-2.2-3.8l-3.6-6.7l-2.3-3.8l-1.9-2.9l-1.5-2.1l-2.9-3.8l-3.1-3.6l-2.6-2.8l-4.1-3.9l-2.6-2.3l-3.3-2.5l-2.6-1.9l-2.9-1.9l-3.1-2l-2.5-1.3l-3.8-2l-3.8-1.7l-3.8-1.5l-3.9-1.3l-3.8-1.2l-3.8-1l-3.9-0.8l-3.9-0.6l-3.7-0.5l-3.8-0.3l-3.9-0.2l-3.8 0l-3.8 0.1l-3.9 0.3l-3.8 0.4l-3.8 0.7l-3.8 0.8l-2.9 0.7l-3.8 1.1l-3.9 1.3l-2.8 1.2l-1 0.4M584 894.6l-2.6-1.4l-1.8-1.4l-1.5-1.5l-2.3-2.4l-3.8-3.6l-2-1.6l-1.8-1.3l-2.7-1.6l-1.2-0.6l-2.8-1.3l-2-0.7l-2.8-0.9l-2.9-0.6l-2.9-0.3l-2.8-0.1l-2.9 0.1l-1.9 0.2l-2.5 0.4l-2.3 0.6l-1.9 0.5l-2.1 0.8l-2.7 1.3l-1.9 1.1l-2.3 1.4l-1.6 1.2l-1.9 1.7l-1.9 2l-1.5 1.8l-1.4 1.9l-1.2 1.9l-1 2l-0.9 1.9l-0.7 1.9l-0.6 1.9l-0.6 2.9l-0.3 1.9l-0.1 1.9l0.1 4.8l0.2 1.9l0.6 2.8l0.5 2l0.7 1.9l0.8 1.9l1 1.9l1.1 1.9l1.4 2.1l1.3 1.7l1.8 1.9l2 2l1.6 1.3l1.9 1.3l1.9 1.2l1.9 1l2 0.9l2.8 1.1l1.9 0.5l2.9 0.6l0.8 0.1M572.6 932.2l1.3-1.2l6.3-6.2l1.4-1.1l1.9-1l0.5-0.3M583 896.5l-0.5-0.2l-1.9-0.6l-1.9-0.9l-2.9-1.7l-1.9-1.1l-1.9-1l-1.9-0.8l-1.9-0.6l-2-0.4l-1.9-0.2l-1.9 0l-1.9 0.1l-1.9 0.3l-1.9 0.5l-1.9 0.8l-2 0.9l-1.9 1.3l-0.9 0.7l-1 0.9l-1.5 1.6l-1.4 1.9l-1.1 1.9l-0.8 1.9l-0.6 1.9l-0.4 1.9l-0.2 1.9l0 2l0.2 1.9l0.4 1.9l0.6 2l0.8 1.8l1.1 2l1.4 1.8l1.5 1.6l1.2 1.1M579.5 921.8l1.1-0.5l2.4-0.8M581.9 898.6l-0.3-0.2l-2-0.2l-1.9-0.4l-3.8-0.9l-1.9-0.3l-1.9-0.1l-1.9 0.2l-2 0.5l-1.7 0.8l-1.1 0.7l-1 0.7l-0.9 0.9l-1 1.1l-0.3 0.4l-0.7 1.1l-0.3 0.8l-0.6 1.6l-0.3 1.3l-0.1 0.9l0 2l0.1 0.9l0.5 1.9l0.7 1.8l0.1 0.1l0.9 1.4l1 1.1l0.9 0.9l1 0.7l1.1 0.7l0.8 0.4l1.5 0.6l1.4 0.3l1.9 0.2l1.9-0.1l1.9-0.3l3.8-0.9l1.9-0.4l2.3-0.3M580.6 901.1l-2.9 0.5l-2.8 0.4l-1 0.2l-1.4 0.6l-0.5 0.2l-1.1 0.7l-0.9 1l-0.6 0.9l-0.4 1l-0.3 0.9l0 1l0 1l0.4 1.3l0.3 0.6l0.7 1l0.9 1l1.4 0.8l1.5 0.6l1.9 0.4l4.8 0.8"/>
<path fill="none" stroke="#000" stroke-width="1.4" stroke-dasharray="5.1 2.2" d="M613.7 929.9l0.1 0.6l-0.7 1.8l-0.4 1.1l-0.6 0.9l-0.9 1.3l-0.9 1.1l-1 0.8l-0.9 0.6l-1 0.5l-1 0.3l-1.6 0.2l-0.6 0l-0.6 0l-1-0.2l-0.9-0.3l-1.1-0.5l-0.9-0.5l-0.9-0.7l-1-1l-0.4-0.6l-0.6-1l-0.3-0.9l-0.4-2M596 885.6l0.4-2l0.5-1.2l0.4-0.7l0.7-0.9l0.9-1l1.4-0.9l0.4-0.2l1-0.4l1.2-0.4l0.7-0.1l0.9-0.1l1 0.1l0.9 0.1l1 0.3l1.3 0.7l0.6 0.3l1 0.8l0.9 1.1l1.1 1.6l1 1.9l0.3 1l0.3 0.9l-0.1 0.7M623.1 922.5l0.6 0.6l0.9 1.3l0.3 0.4l0.7 1.3l0.3 0.6l0.3 0.9l0.4 1.9l0.2 1.9l-0.1 2l-0.3 1.9l-0.4 1.9l-0.7 1.9l-0.8 1.9l-0.8 1.3l-1 1.3l-0.9 1l-1 0.8l-1 0.7l-1.1 0.6l-1.7 0.8l-1 0.3l-1.9 0.4l-1.9 0.2l-1.9 0l-1.9-0.2l-2-0.3l-1.9-0.6l-1.9-0.7l-1.9-1l-1.9-1.2l-1.9-1.6l-1-1l-1.4-1.8l-0.7-0.9l-0.9-1.9l-0.4-1l-0.4-1.7l0-0.2l-0.1-0.9l0.1-1.2l0.1-0.8l0.5-1.9M592.7 887.5l-0.6-2.4l-0.1-0.5l0-1l0.1-1.4l0.1-0.5l0.2-0.9l0.6-1.6l0.8-1.3l0.6-0.9l0.7-1l0.8-1l1-0.9l1.9-1.6l1.9-1.3l1.9-1l1.9-0.7l1.9-0.6l2-0.4l1.9-0.2l1.9 0l1.9 0.2l1.9 0.3l1.9 0.7l1.9 0.9l1.3 0.8l1.1 1l0.9 0.9l0.8 1l1.1 1.9l0.9 1.9l0.6 1.9l0.4 1.9l0.2 1.9l0.1 2l-0.2 1.9l-0.5 1.9l-0.3 0.9l-0.6 1.2l-0.4 0.7l-0.7 1l-1.3 1.4M590.1 888.5l-0.5-1l-0.4-1l-0.4-0.9l-0.2-1l-0.1-1l0-1.9l0.3-1.9l0.4-1.9l0.7-1.9l0.8-1.9l1.1-1.9l1.1-1.9l1.1-1.5l1.9-2.4l1.9-2l2-1.8l1.9-1.5l2.8-2l2.9-1.7l2.9-1.5l2.8-1.2l2.9-1.1l2.9-0.8l2.9-0.7l2.8-0.6l2.9-0.5l3.8-0.4l3.9-0.2l3.8 0l3.8 0.2l3.8 0.3l3.9 0.6l3.8 0.8l3.1 0.8l3 0.9l2.6 1l2.8 1.2l1.9 0.9l1.9 1.1l1.9 1.2l1.9 1.4l2.2 1.8l1.9 1.9l1.7 1.9l1.4 1.9l1.2 2l1.2 2.2l0.7 1.6l0.8 1.9l0.6 1.9l0.8 2.9l0.5 2.8l0.4 3.5l0.2 2.3l0.2 3.8l0 4.8l-0.3 23.9l-0.2 4.8l-0.3 2.8l-0.4 2.9l-0.5 2.9l-0.8 2.8l-0.7 2.3l-0.6 1.6l-0.9 1.9l-1.4 2.6l-1 1.4l-1.2 1.7l-1.6 2l-1.9 1.9l-2.2 1.8l-2.6 1.9l-1.7 1l-2.2 1.2l-2.3 1.1M626.4 965.1l-2.7-0.4l-3.6-0.8l-2.2-0.5l-2.8-0.9l-2.9-1.1l-3-1.3l-1.9-0.9l-1.8-1.1l-1.9-1.2l-2.9-2.1l-1.9-1.6l-1.9-1.8l-1.9-2.2l-2-2.5l-1.1-1.9l-1.1-1.9l-0.8-1.9l-0.8-2.2l-0.4-1.6l-0.2-1.9l-0.1-1.9l0.2-1l0.2-1l0.3-0.9l1-1.9M591.9 855.2l1.1-2.2l2-3.4l2.6-4.2l1.3-1.9l2.8-3.8l2.8-3.5l3-3.2l2.8-2.9l3-2.9l2.7-2.3l3.8-3.1l3.9-2.7l3.8-2.5l3.8-2.3l3.9-2.1l3.8-1.8l4.8-2l3.8-1.5l3.8-1.2l3.9-1.1l3.8-0.9l3.8-0.7l3.8-0.6l3.9-0.5l3.8-0.3l3.8-0.1l3.9 0l3.8 0.1l3.8 0.3l4.1 0.5l3.6 0.5l3.8 0.7l3.8 0.9l3.9 1l3.8 1.1l4.4 1.5l3.2 1.2l4 1.7l4 1.9l3.7 1.9l3.7 2.1l3.8 2.3l3.3 2.3l3.4 2.6l2.9 2.3l3 2.8l2.9 2.8l2.7 3.1l1.9 2.4l1.6 2.2l1.8 2.8l2.1 3.9l1.6 3.8l1.2 3.8l0.7 2.9l0.6 2.8l0.5 3.9l0.4 4l0.2 4.6l0.2 5.7l-0.1 8.6l-0.3 15.3l-0.2 2.9l-0.9 3.8l0.5 3.8l0 1.9l-1 15.3l-0.7 9.6l-0.7 7.6l-0.6 4.8l-0.6 3.8l-0.6 2.9l-1 3.8l-1.2 3.9l-1.7 3.8l-2 3.8l-1.7 2.9l-2.1 2.8l-1.8 2.3l-2.2 2.5l-2.7 2.9l-3.1 2.9l-3.4 2.9l-3.8 2.8l-2.9 2l-3.9 2.4l-4 2.3l-3.8 1.9l-3.7 1.7l-3.8 1.5l-3.8 1.4l-3.8 1.2l-3.9 1.1l-3.8 0.9l-4.4 0.8l-4.2 0.6l-3.8 0.4l-3.9 0.3l-3.8 0.1l-3.8-0.1l-3.9-0.1l-3.8-0.4l-3.8-0.5l-3.8-0.6l-3.9-0.8l-3.8-1l-3.8-1.1l-3.9-1.3l-3.8-1.5l-3.8-1.7l-2.9-1.4l-3.8-2l-4-2.3l-3.7-2.3l-3.8-2.7l-3.8-2.9l-3.1-2.6l-2.7-2.4l-3.8-3.8l-3.1-3.4l-2.4-2.8l-1.5-1.9l-2.1-2.9l-2-2.9l-1.7-2.8l-1.7-2.9l-1.8-3.6l-1.4-3.1l-1.1-2.9l-1-2.8l-0.8-2.9l-0.7-2.9l-0.5-2.8l-0.4-2.9l-0.1-1.9l0.1-1.9l0.2-2.1l0.4-1.8l0.5-1.4l0.3-0.5l0.7-1.1l1.1-1.5"/>
<ellipse cx="603.6" cy="908.5" rx="25.2" ry="25.2" fill="#fff"/>
<text transform="translate(645.7 965.3) rotate(-6.7)" text-anchor="middle" y="4.9" font-size="20.8px">-0.2</text>
<text transform="translate(585.7 873.5) rotate(-84.7)" text-anchor="middle" y="4.9" font-size="20.8px">-0.1</text>
<text transform="translate(464.3 978.8) rotate(-339.3)" text-anchor="middle" y="4.9" font-size="20.8px">0.1</text>
<text transform="translate(558.9 940.1) rotate(-17.5)" text-anchor="middle" y="4.9" font-size="20.8px">0.2</text>
<text transform="translate(565.0 928.0) rotate(-4.7)" text-anchor="middle" y="4.9" font-size="20.8px">0.3</text>
</g>
<rect x="460" y="789" width="335" height="239" fill="none" stroke="#000" stroke-width="2"/>
<text x="627.5" y="773.6" text-anchor="middle">PINN, steady</text>
<g clip-path="url(#c22)">
<rect x="822" y="789" width="334" height="239" fill="#002758"/>
<path fill="#00306f" fill-rule="evenodd" d="M822 1028l334 0l0-239l-334 0l0 239zM963.2 934.5l-0.9-0.5l-1-0.7l-0.7-0.9l-0.3-1l1.2-5.7l0.6-2.9l0.4-1.9l1.5-6.7l0.2-1.2l0.6-1.6l0.2-1l0.1-1.1l0.2 0.2l0.2 0.9l0.3 1l0.3 0.9l1.4 5.8l3.3 13.3l-0.6 1l-0.3 0.3l-0.9 0.8l-1.5 0.8l-0.4 0.2l-1 0.3l-1 0.1l-0.9-0.1l-1-0.3zM965.1 907.7l0-0.2l-0.1-0.9l-0.2-1l-0.7-1.9l-0.3-1.9l-1.7-7.6l-1.3-5.8l-0.6-2.8l0.3-1l0.8-1l1.3-0.9l0.6-0.4l1-0.2l0.9-0.1l1 0.1l1 0.2l0.9 0.4l1.4 0.9l1 1l0.6 1l-2.7 10.5l-2.2 8.6l-0.3 0.9l-0.3 1l-0.2 0.9l-0.2 0.2z"/>
<path fill="#1a386f" fill-rule="evenodd" d="M822 1028l334 0l0-239l-334 0l0 239zM964.2 939.2l-1-0.3l-0.9-0.4l-1-0.5l-1-0.8l-1-1l-0.8-1.3l-0.3-0.6l-0.4-0.9l-0.3-2l0.1-0.9l3.3-9.6l1.6-4.8l1.7-4.8l0.5-0.9l0.4-1.3l0.6 0.4l1.4 2.9l1.4 2.8l3.3 6.8l2.8 5.6l0.9 1.9l0.1 1l-0.6 1.9l-0.4 1l-0.9 1.5l-0.9 1.3l-1 1l-1.2 0.9l-0.7 0.5l-1.3 0.5l-0.6 0.2l-0.9 0.1l-1 0l-1 0l-0.9-0.2zM965.1 907.9l-0.1-0.4l-0.3-0.9l-0.5-1l-0.6-1.9l-0.4-0.9l-0.9-2.6l-4.8-13.9l-0.1-0.7l0.4-2l0.3-0.9l0.4-1l0.9-1.2l1-0.9l0.9-0.7l1-0.6l1-0.4l0.9-0.3l0.9-0.2l1 0l1 0l0.9 0.1l1.3 0.4l0.6 0.3l1.2 0.7l1.1 0.9l0.8 1l0.7 0.9l1.1 1.9l0.7 2l0.2 0.9l-0.1 1l-9.9 20l-0.6 0.4z"/>
<path fill="#2d416d" fill-rule="evenodd" d="M822 1028l334 0l0-239l-334 0l0 239zM969 943.9l-1.9-0.1l-2-0.4l-1.9-0.7l-1.9-1l-1.1-0.7l-1.1-1l-1-0.9l-0.8-1l-0.7-1.2l-0.4-0.7l-0.4-0.9l-0.2-1l-0.2-0.9l0-1l0.2-2.1l1.1-2.7l7.7-17.2l0.7-1.5l0.9 0.6l0.1 0.2l0.7 0.7l0.3 0.5l0.4 0.5l0.8 0.9l1.6 2.1l2.2 2.7l3.5 4.4l1.9 2.3l2.3 2.9l0.5 0.9l0.2 1.9l0 1.9l-0.3 2l-0.5 1.9l-0.8 1.9l-0.5 0.9l-0.9 1.4l-0.9 1.2l-1 0.9l-0.9 0.6l-1.3 0.7l-0.6 0.3l-1 0.3l-0.9 0.2l-1.9 0.2zM965.1 908.1l-3.3-7.2l-1.7-3.9l-4.6-10.5l-0.1-2.9l0.2-1.3l0.2-0.6l0.8-1.8l0.6-1l0.8-1l0.9-0.9l1.2-1l0.3-0.2l1.9-1.2l1.9-0.9l1.9-0.5l1.9-0.3l1.9 0l1.9 0.3l1 0.3l1.5 0.6l0.4 0.2l1.1 0.7l1 1l0.9 1l0.8 1.2l0.8 1.6l0.7 1.9l0.5 1.9l0.2 2l0 1.9l-0.2 1.9l-0.4 0.9l-4.5 5.4l-1.9 2.3l-6.2 7.6l-0.4 0.5l-0.3 0.5l-0.7 0.7l-0.1 0.2l-0.9 0.6z"/>
<path fill="#3c4a6c" fill-rule="evenodd" d="M822 1028l334 0l0-239l-334 0l0 239zM969.9 948.7l-1.9-0.4l-2-0.6l-1.8-0.7l-2.2-1.2l-1.6-1.1l-1.9-1.6l-1.2-1.1l-0.8-1l-0.9-1.2l-1-1.7l-0.7-1.9l-0.3-0.9l-0.1-1l-0.1-0.9l0.1-1l0.2-1.2l0.4-1.7l3.5-6.7l6.6-12.4l0.6-0.9l0.3-0.8l1 0.4l0.6 0.4l0.4 0.3l6.6 4.5l11.2 7.6l1 0.9l1.2 1.6l0.2 0.4l0.7 1.3l0.3 0.6l0.3 0.9l0.4 1.9l0.2 1.9l-0.1 2l-0.3 1.9l-0.4 1.9l-0.7 1.9l-0.8 1.9l-0.8 1.2l-0.9 1.4l-0.3 0.3l-0.9 0.9l-1.1 1l-1.5 1l-1.9 0.9l-2 0.6l-1.9 0.4l-1.9 0.2l-1.9 0l-1.9-0.2zM965.1 908.3l-0.3-0.8l-0.7-0.9l-1-1.9l-2.7-5.3l-2.3-4.3l-4-7.6l-0.5-1.9l-0.2-1l0-1l0-0.9l0.3-1.4l0.1-0.5l0.8-1.9l0.5-1l0.6-0.9l1.5-2l0.9-0.9l1.3-1.2l1.9-1.5l2-1.1l1.8-0.9l2-0.7l1.9-0.5l1.9-0.3l1.9-0.2l1.9 0l1.9 0.2l2 0.4l1.8 0.7l1 0.4l1.5 0.9l1.3 1l1 0.9l0.9 1.1l1 1.4l0.7 1.3l0.8 1.9l0.6 1.9l0.4 1.9l0.2 1.9l0 2l-0.2 1.9l-0.2 0.9l-0.6 1.9l-0.8 1.4l-0.2 0.5l-0.7 1l-1 1.1l-0.9 0.8l-7.2 4.8l-3.3 2.2l-7.6 5.1l-0.4 0.3l-0.6 0.4l-1 0.4z"/>
<path fill="#49536c" fill-rule="evenodd" d="M822 1028l334 0l0-239l-334 0l0 239zM976.6 955.4l-2.9-0.5l-2.2-0.5l-1.6-0.5l-1.9-0.7l-1.9-0.9l-1.9-1l-1.9-1.2l-2-1.4l-1.8-1.6l-1.9-2l-1.7-2.2l-0.6-0.9l-1-2l-0.9-1.9l-0.5-1.9l-0.2-0.9l-0.1-1.9l0.2-1.3l0.1-0.7l0.3-0.9l0.8-1.9l9.8-16.3l0.6-0.9l0.8-1.2l0.5-0.7l0.4-1l-0.4-1l-2.4-3.8l-5.8-9.5l-3.8-6.4l-0.5-1.3l-0.4-1.5l-0.1-0.4l-0.1-1l0.1-1.9l0.4-1.9l0.6-1.9l1-2l1.1-1.8l1.4-1.9l1.3-1.5l1.9-1.9l1.9-1.5l1.9-1.4l2.5-1.4l1.4-0.7l2.9-1.2l1.8-0.6l2.9-0.7l1.9-0.4l2.9-0.3l2.8-0.1l2.9 0l2.8 0.3l2.9 0.5l2.9 0.6l2.8 0.9l2 0.8l2.8 1.3l1.9 1l2.3 1.5l1.5 1.2l2 1.7l1.8 1.9l1.5 1.9l1.4 2.1l1 1.7l0.9 2.2l0.6 1.6l0.5 1.9l0.4 2l0.2 1.9l0.1 1.9l0 1.9l-0.3 2.9l-0.4 2.8l-1 4.8l-0.6 3.8l-0.2 1.9l-0.1 4.8l0.3 2.9l0.7 6.7l0.1 2.9l-0.1 1.9l-0.2 2l-0.3 1.8l-0.4 1.9l-0.7 1.9l-0.8 1.9l-0.9 1.9l-1.2 1.9l-1.4 2l-1.5 1.9l-1.9 1.9l-2.3 2l-1.9 1.4l-1.9 1.2l-1 0.5l-1.9 1l-1.9 0.9l-1.9 0.7l-2.9 0.9l-2.9 0.6l-2.8 0.4l-2.9 0.2l-2.8 0l-2.9-0.2z"/>
<path fill="#555c6d" fill-rule="evenodd" d="M822 1028l334 0l0-239l-334 0l0 239zM989 966l-3.8-0.6l-2.9-0.6l-3.4-0.9l-2.3-0.7l-3.1-1.2l-2.2-0.9l-1.9-1l-1.8-0.9l-1.5-1l-1.9-1.3l-2.1-1.6l-1.7-1.4l-2.4-2.4l-1.4-1.7l-2-2.5l-1.5-2.5l-1-1.9l-0.8-1.9l-0.6-1.9l-0.5-1.9l-0.2-1.9l0-1.9l0.1-1l0.2-1l0.5-1.3l0.8-1.5l1.2-1.9l11-16.3l0.4-0.3l0.4-0.6l0.5-1l-0.9-1.6l-0.4-0.3l-3.4-5.2l-1.9-2.8l-3.7-5.4l-2-2.9l-1.2-1.9l-1-1.9l-0.3-0.9l-0.2-1l-0.2-1l0-1.9l0.3-1.9l0.4-1.9l0.7-1.9l0.8-1.9l0.9-1.9l1.1-1.9l1.5-2.2l1.9-2.4l2-2.1l2.1-1.9l1.6-1.4l2.9-2.1l2.9-1.8l2.8-1.5l2.9-1.4l2.8-1.1l2.9-0.9l3.8-1.1l3.8-0.8l3.9-0.6l3.8-0.4l3.8-0.2l3.8-0.1l3.8 0.2l3.8 0.3l3.9 0.6l2.8 0.5l2.9 0.7l2.9 0.8l2.8 1l2.9 1.1l3 1.5l2.7 1.5l2.1 1.3l2.5 1.9l1.1 1l1.9 1.9l1.7 1.9l1.4 1.9l1.2 1.9l1.1 2l0.9 1.9l0.8 1.9l0.9 2.9l0.8 2.8l0.5 2.9l0.4 2.9l0.3 2.8l0.2 3.8l0 4.8l-0.1 12.5l-0.1 1.9l-0.2 11.4l-0.3 4.8l-0.5 3.8l-0.5 2.9l-0.6 2.9l-0.9 2.8l-0.7 2l-0.9 1.9l-1 1.9l-1.1 1.9l-1.4 1.9l-1.6 1.9l-1.2 1.3l-1.7 1.6l-1.2 1l-2.6 1.9l-2.1 1.2l-2 1.1l-1.9 0.9l-1.9 0.8l-2.8 1.1l-2.9 0.9l-3.8 1l-3.8 0.8l-3.9 0.6l-3.8 0.5l-3.8 0.2l-3.8 0.2l-3.8-0.1l-3.8-0.2l-2.9-0.3z"/>
<path fill="#61656f" fill-rule="evenodd" d="M822 1028l334 0l0-239l-334 0l0 239zM1010 984l-4.8-0.6l-4.7-0.9l-3.9-0.8l-3.8-1.1l-4.3-1.4l-2.6-0.9l-2.6-1.1l-2.9-1.3l-3.8-1.9l-3.8-2.3l-3.8-2.6l-2.9-2.3l-2.1-1.9l-2-1.9l-1.8-1.9l-1.7-2l-2.2-2.8l-1.9-2.9l-1.7-2.9l-1.3-2.8l-1.2-2.9l-0.6-1.9l-0.8-2.9l-0.3-1.9l-0.2-1.9l0-1.9l0.2-1.9l0.4-1.5l0.2-0.4l0.8-1.5l0.9-1.5l9.3-12.3l1.2-1.6l1-1.3l1.4-1.9l0.5-0.5l0.8-1.4l-0.8-1.4l-0.5-0.5l-0.7-1l-4.5-6l-3.5-4.5l-3.2-4.3l-1.1-1.4l-1.2-1.9l-0.6-1.4l-0.2-0.5l-0.4-2l-0.1-1.9l0.1-1.9l0.3-1.9l0.4-1.9l0.8-2.9l0.6-1.9l1.2-2.9l1.1-2.2l1.4-2.5l1.5-2.4l1.9-2.7l2-2.6l1.8-2.1l2.9-2.9l2.9-2.7l2.8-2.3l3.8-2.8l2.9-1.9l3.8-2.2l4.3-2.2l2.4-1.1l3.8-1.5l3.8-1.4l3.8-1.2l3.9-0.9l3.8-0.8l3.8-0.6l3.8-0.5l3.8-0.3l3.8-0.1l3.9 0.1l3.8 0.2l4 0.5l3.6 0.5l3.8 0.8l3.8 1l2.9 0.9l2.9 1l2.8 1.1l2.9 1.3l2.9 1.5l2.8 1.6l2.6 1.7l2.2 1.6l1.9 1.5l2 1.7l2 1.9l1.7 1.9l1.6 1.9l1.4 2l1.2 1.9l1.7 2.8l1.3 2.9l1.1 2.9l1 2.8l1 3.9l0.7 3.8l0.6 3.8l0.4 3.8l0.4 5.1l0.3 5.4l0.2 9.6l0.4 29.6l-0.1 4.8l-0.3 3.8l-0.5 3.9l-0.4 2.8l-0.6 2.9l-0.9 3l-0.9 2.7l-1 2.3l-1.2 2.5l-1.8 2.9l-1.8 2.3l-1.9 2.1l-1.3 1.3l-1.5 1.4l-1.9 1.6l-2.9 2l-2.9 1.8l-2.8 1.5l-2.9 1.3l-2.8 1.1l-2.9 1l-2.9 0.9l-3.8 1l-3.8 0.8l-3.8 0.6l-3.8 0.5l-3.9 0.3l-3.8 0.2l-3.8 0.1l-4.8 0l-3.8-0.2l-4.8-0.4l-0.9-0.2z"/>
<path fill="#6c6d72" fill-rule="evenodd" d="M822 1028l334 0l0-239l-334 0l0 239zM1057.7 1019.4l-4.8-0.4l-3.8-0.4l-4.8-0.6l-4.7-0.8l-5.7-1.1l-4.8-1.1l-5.7-1.5l-5.8-1.6l-5.7-1.9l-5.7-2l-5.7-2.4l-3.9-1.7l-3.8-1.9l-3.8-2.1l-3.8-2.3l-3.8-2.5l-3.4-2.5l-2.4-1.9l-2.8-2.5l-3.4-3.2l-1.9-1.9l-1.7-1.9l-1.6-2l-2.3-2.8l-2.1-2.9l-1.9-2.9l-1.3-2.1l-2-3.6l-1.9-3.8l-1.7-3.8l-1.1-3.1l-1.2-3.6l-0.8-2.9l-0.6-2.9l-0.4-2.8l-0.3-2.9l-0.1-1.9l0.1-1.9l0.2-1.9l0.4-2l0.3-0.9l0.5-1l0.9-1.4l1.9-2.4l11.9-14.3l0.5-0.5l0.3-0.5l0.9-0.9l0.6-1l-0.8-1.3l-0.7-0.6l-0.3-0.5l-0.5-0.5l-0.8-0.9l-1.5-1.9l-11.1-13.4l-0.8-1l-0.5-0.9l-0.5-1l-0.6-1.9l-0.3-1.9l-0.1-1.9l0-1.9l0.2-2.9l0.4-2.9l0.5-2.8l0.7-2.9l0.8-2.9l1.2-3.8l1.5-3.8l1.7-3.8l1.3-2.9l2.1-3.8l1.7-2.9l2.4-3.8l1.3-1.9l2.1-2.9l2.7-3.3l2.9-3.4l2.8-3l2.8-2.8l3.2-2.8l2.6-2.2l3.8-2.9l3.8-2.7l3.8-2.4l3.8-2.2l3.9-2.1l3.8-1.8l3.8-1.7l3.8-1.6l4.2-1.4l3.4-1.1l3.9-1.1l3.8-0.9l4-0.8l3.6-0.5l3.8-0.5l3.8-0.3l3.9-0.1l3.8 0l3.8 0.2l3.8 0.4l2.9 0.4l3.8 0.6l3.8 0.9l3.8 1.1l3.8 1.3l3.9 1.5l3.8 1.7l3.8 2l3.8 2.3l3.5 2.4l3.2 2.4l3 2.4l3.2 2.9l2.9 2.8l2.7 2.9l2.5 3l2.2 2.7l1.6 2.3l1.9 2.8l2.1 3.5l2 3.9l1.7 3.8l1.3 3.8l1.1 3.8l0.8 3.9l0.7 4.7l0.5 4.8l0.3 6l0.5 12.2l0.3 7.6l0.4 6.7l0.5 7.7l-0.2 3.8l1 3.8l0.2 1.9l0.8 6.7l1.3 8.6l1.6 8.6l3.7 18.2l0.7 4.8l0.1 2.8l0.1 2.9l-0.2 3.8l-0.4 2.9l-0.3 1.9l-0.9 2.9l-0.6 1.9l-1.3 2.9l-1 1.9l-1.7 2.8l-2 2.9l-1.6 2l-2.5 2.8l-3.2 3.1l-3.1 2.6l-2.7 2l-2.8 2l-2.9 1.8l-3.8 2.2l-3.8 1.9l-2.9 1.3l-3.8 1.5l-3.8 1.3l-4.5 1.3l-4.1 1l-3.8 0.7l-3.9 0.6l-3.8 0.4l-3.8 0.3l-4.8 0.1l-4.7-0.1l-2.9-0.1z"/>
<path fill="#777776" fill-rule="evenodd" d="M822 1028l152.8 0l-2-2.4l-2.9-3.7l-2.4-3.5l-2.5-3.8l-2.7-4.7l-2.6-4.8l-1.8-3.9l-2.1-4.7l-1.5-3.9l-1.7-4.8l-1.8-5.3l-1.5-5.2l-1.2-4.7l-0.8-3.9l-1-4.8l-0.7-4.7l-0.6-4.8l-0.4-4.8l-0.2-3.8l-0.1-3.8l0.1-2.9l0.3-2.9l0.2-1.9l0.5-1.9l0.6-1.9l0.4-1l0.6-0.9l1-1.3l11.4-12.5l1.4-1.5l1.5-1.6l0.2-0.3l1.7-1.8l0.7-1.1l-0.7-1.1l-1.7-1.8l-0.2-0.3l-1.5-1.6l-1.4-1.5l-1.2-1.3l-2.7-2.9l-7.8-8.6l-0.7-1l-0.6-0.9l-0.8-1.9l-0.5-2l-0.3-1.9l-0.4-2.8l-0.1-2.9l-0.1-3.8l0.2-3.9l0.3-4.7l0.4-4.8l0.7-5.7l0.9-5.8l1.1-5.7l1.1-5.2l1.3-5.3l1.6-5.8l1.4-4.8l1.6-4.7l1.8-4.8l1.9-4.8l2-4.8l1.8-3.8l2.5-4.8l2.1-3.8l-144.9 0l0 239z"/>
<path fill="#828079" fill-rule="evenodd" d="M822 1028l105.6 0l1.7-6.7l1.5-6.8l1.5-7.5l1.1-6.7l1.3-8.6l1.5-10.5l4-30.6l1.3-8.6l0.7-3.9l0.7-2.8l0.8-2.9l0.7-1.9l0.7-1.4l0.3-0.5l0.7-1l0.9-1l1.9-1.8l1.9-2l13.4-13.3l0.7-1l-0.7-1l-18.1-18.2l-1-1.4l-0.2-0.4l-0.9-1.9l-0.6-2l-0.8-2.8l-0.8-3.8l-1-5.8l-2.3-14.3l-1.7-10.5l-1.8-10.6l-1.7-9.5l-1.8-8.6l-1.9-8.6l-1.8-7.7l-2.1-7.6l-1.3-4.8l-102.4 0l0 239z"/>
<path fill="#8f8a78" fill-rule="evenodd" d="M822 1028l47.5 0l4-3l5.8-4.3l7.4-6.1l3.4-2.9l3.5-3l4.7-4.4l5.1-5l2.7-2.8l3.4-3.9l2.4-2.8l3.1-3.9l2.4-3.3l3-4.3l2.8-4.4l2.9-5.2l2.8-5.1l3.1-6.3l2.1-4.8l2-4.8l1.8-4.8l4.4-11.5l0.9-1.9l0.9-1.4l0.4-0.5l0.8-0.9l1-1l1.1-0.9l3.4-3.1l7-6.5l1.6-1.4l1.6-1.5l0.3-0.3l1.7-1.6l0.2-0.1l1-0.9l0.6-0.9l-0.7-1l-1.8-1.7l-0.3-0.2l-1.6-1.5l-1-0.9l-1.6-1.4l-1.2-1.2l-5-4.5l-4.6-4.2l-0.9-0.8l-1-0.9l-1-1.2l-0.3-0.6l-1.1-1.9l-1.3-2.9l-5.1-13.3l-2.4-5.8l-1.3-2.8l-2.4-4.8l-2-3.8l-1.6-2.9l-2.5-4.2l-3.4-5.4l-2.3-3.3l-3.9-5.3l-3.8-4.8l-4-4.7l-3.6-4.1l-5.2-5.5l-3.7-3.8l-4.8-4.8l-4.4-4.2l-6.9-6.3l-4.6-4l-0.9-0.8l-50.6 0l0 239z"/>
<path fill="#9b9476" fill-rule="evenodd" d="M859.3 976.4l3.7 0.5l3.9 0.2l2.8 0.1l3.8 0l3.8-0.2l2.9-0.4l3.8-0.6l3.8-0.8l3.9-1l2.8-0.9l2.9-1l2.9-1.2l3.8-1.8l2.8-1.6l3.1-1.8l2.7-1.8l3.8-2.8l3.8-3.2l2.9-2.8l2.8-2.9l2.9-3.3l2.8-3.7l3-4.4l2.4-3.8l1.6-2.9l2.7-4.8l1.3-1.9l1.4-1.6l0.3-0.3l1.2-0.9l1.4-1l16.2-13.7l1-0.8l0.6-0.8l-0.6-0.8l-0.3-0.2l-0.7-0.6l-0.4-0.3l-0.5-0.5l-0.6-0.5l-0.4-0.3l-1.9-1.6l-12.4-10.5l-2.6-1.9l-1.2-1.3l-1.2-1.6l-1.2-1.9l-5.2-9.1l-3.6-5.2l-1.4-1.9l-2.3-2.9l-1.7-1.9l-1.8-1.9l-2.6-2.6l-3.8-3.3l-2.9-2.3l-3.8-2.7l-3.8-2.4l-3.8-2.2l-3.8-1.9l-2.9-1.2l-3.8-1.5l-3.8-1.3l-3.9-1.1l-3.8-0.9l-3.8-0.7l-2.9-0.4l-3.9-0.4l-3.7-0.1l-2.9 0l-3.8 0.2l-3.8 0.4l-3 0.5l-3.7 0.7l-3.8 1l-3.8 1.2l-2.9 1l-2.8 1.1l-3.8 1.8l-3.9 2l-3.8 2.2l-3.6 2.4l-0.2 0.1l0 107.8l2.9 2l3.8 2.3l4.4 2.5l4.2 2l4.3 1.8l3.3 1.2l3.8 1.2l2.9 0.8l3.8 0.9l3.9 0.7z"/>
<path fill="#a79d73" fill-rule="evenodd" d="M891.8 952.5l2.7 0.2l2.9 0.1l2.9-0.1l2.8-0.2l2.9-0.5l2.8-0.6l2.9-0.8l2.9-1l2.8-1.2l2.9-1.4l2.9-1.7l2.8-1.9l3-2.4l2.1-1.9l1.6-1.6l2.9-3.2l2.8-3.6l1-1.3l1.4-1.8l1.7-1.9l1.1-0.9l1.5-1.1l1.4-0.9l4.3-3.3l4.8-3.6l5.8-4.5l1.8-1.4l0.6-0.5l0.4-0.3l0.5-0.7l-0.5-0.7l-0.4-0.3l-0.6-0.5l-0.6-0.4l-0.3-0.3l-2.1-1.6l-2.7-2.1l-11.4-8.8l-2-1.1l-0.9-0.8l-1-0.9l-1.4-1.6l-5.3-6.7l-1.8-2.2l-2.9-2.8l-2.9-2.5l-3.8-2.8l-2.9-1.7l-2.8-1.5l-2.9-1.3l-2.8-1.1l-2.9-0.8l-2.9-0.7l-2.8-0.5l-2.9-0.4l-2.9-0.1l-2.8 0l-2.9 0.1l-2.8 0.4l-2.9 0.5l-2.9 0.7l-2.8 0.9l-2.9 1.1l-2.9 1.3l-2.8 1.6l-2 1.3l-2.8 2l-2.2 1.8l-2 1.9l-2.5 2.7l-1.7 2.1l-1.4 1.9l-1.7 2.9l-1.6 2.8l-0.8 1.9l-1.1 2.9l-0.9 2.9l-0.6 2.9l-0.4 2.8l-0.2 1.9l0 4.8l0 1l0.3 2.8l0.6 2.9l0.8 2.9l1.1 3.2l1.1 2.5l1.4 2.9l1.3 2.1l1.8 2.7l2 2.5l1.9 2.1l1.9 1.9l2 1.7l1.9 1.5l2.8 2l2.9 1.7l2.8 1.5l2.9 1.2l2.9 1.1l2.8 0.8l2.9 0.6l3 0.5z"/>
<path fill="#b5a86f" fill-rule="evenodd" d="M907.3 940l2.5 0.3l2.9 0l2.8-0.3l2.9-0.4l1.9-0.5l1.9-0.6l1.9-0.7l1.9-0.8l1.9-1l1.9-1.1l2.3-1.5l1.6-1.3l1.9-1.7l2.9-2.8l1.9-1.9l1.8-1.5l1-0.7l3.8-2.2l4.6-3.2l2.1-1.5l3.3-2.4l2.4-1.7l0.3-0.2l1.6-1.1l1.9-1.3l0.5-0.4l0.5-0.4l0.4-0.6l-0.4-0.6l-0.5-0.4l-0.5-0.4l-0.9-0.6l-17.2-12l-1-0.5l-1.4-0.8l-1.4-1.1l-1.9-1.8l-3.9-3.8l-2.3-1.9l-1.5-1.2l-1.9-1.2l-2.8-1.7l-1.9-0.9l-2-0.7l-1.9-0.7l-2.8-0.7l-1.9-0.3l-1.9-0.3l-1.9-0.1l-2.9 0l-2.9 0.3l-1.9 0.3l-2.4 0.5l-1.4 0.4l-1.9 0.7l-2 0.8l-2 1l-1.7 1l-1.9 1.3l-1.9 1.5l-2.1 1.9l-1.8 1.9l-1.4 1.9l-1.4 2.1l-1 1.8l-0.9 1.9l-1 2.5l-0.6 2.3l-0.5 1.9l-0.3 1.9l-0.1 1.9l0 4.8l0.3 1.9l0.4 1.9l0.4 1.9l1 2.9l0.9 1.9l1 1.9l1.3 2.1l1.3 1.7l1.6 2l1.9 1.9l2.2 1.9l1.6 1.1l1.9 1.2l1.9 1.1l1.9 0.9l2 0.7l2.2 0.7l1.6 0.4l1.9 0.4l1.3 0.1z"/>
<path fill="#c2b369" fill-rule="evenodd" d="M916.4 932.4l1 0.1l1.9 0.1l1.9 0l2-0.2l1.9-0.3l2.3-0.7l1.5-0.5l1.9-0.8l1.9-1l1.9-1.1l3.8-2.8l1.9-1.4l1.9-1.2l1.9-0.9l1-0.4l10.5-6.7l2.1-1.3l3.6-2.3l2.9-1.9l0.4-0.6l-0.4-0.6l-0.7-0.4l-0.3-0.3l-2.8-1.8l-15.3-9.7l-2.9-1.2l-0.9-0.6l-2.4-1.7l-2.5-1.9l-1.8-1.3l-1.9-1.1l-1.9-1l-1.9-0.8l-1.9-0.6l-1.9-0.5l-2.3-0.4l-1.6-0.1l-1.9-0.1l-1.9 0.1l-1.9 0.3l-1.9 0.4l-1.9 0.5l-2.1 0.8l-1.9 1l-1.7 1l-1.9 1.4l-1.6 1.4l-1.3 1.3l-1.3 1.6l-1.3 1.9l-1.1 1.9l-0.8 1.9l-0.7 1.9l-0.5 2.4l-0.2 1.4l-0.2 1.9l0.1 2.9l0.3 2.3l0.3 1.5l0.6 2.1l0.7 1.8l1 1.9l1.2 2l1.4 1.8l1.5 1.6l1.3 1.3l1.5 1.2l1.9 1.2l1.9 1l1.9 0.9l2 0.6l1.9 0.5l1.8 0.3z"/>
<path fill="#d0be62" fill-rule="evenodd" d="M920.4 926.7l1.8 0.3l1.9 0.3l1.9 0l1.9-0.2l1.9-0.3l1.9-0.6l2-0.7l1.9-0.9l2.8-1.6l1-0.5l1.9-1l1.9-0.7l0.9-0.3l2-1l16.2-9.4l1.1-0.6l0.8-0.5l0.3-0.5l-0.3-0.5l-19.1-11.1l-1-0.4l-1.9-0.6l-1.9-0.9l-6.6-3.5l-2-0.7l-1.9-0.6l-1.9-0.3l-1.9-0.2l-1.9 0.1l-1.9 0.2l-1.9 0.4l-1.9 0.6l-1.9 0.9l-1 0.5l-1.9 1.3l-0.9 0.7l-1 0.9l-1 1l-1.2 1.7l-1.2 1.9l-0.8 1.9l-0.7 1.9l-0.4 1.9l-0.2 1.9l0 2l0.2 1.9l0.5 2.2l0.6 1.6l0.8 1.9l1.2 1.9l1.2 1.7l1.2 1.2l1.7 1.5l1 0.6l1.9 1.2l1.9 0.8l2 0.7z"/>
<path fill="#dec958" fill-rule="evenodd" d="M925.9 922.8l1.1 0.3l1.9 0.1l1.9 0l1.9-0.3l1.9-0.5l1.9-0.6l4.9-1.8l2.7-0.7l20.1-10.4l0.3-0.4l-0.3-0.4l-1.9-1.1l-18.2-9.3l-0.9-0.3l-1.9-0.4l-1.9-0.6l-4.8-1.8l-1.9-0.5l-1.9-0.3l-1.9 0l-1.9 0.2l-1.9 0.4l-2 0.7l-1.9 1l-1.2 0.9l-1.1 1l-0.9 0.9l-0.8 1l-0.7 1.1l-0.9 1.8l-0.7 1.9l-0.4 1.9l-0.1 1.9l0.1 1.9l0.4 1.9l0.7 1.9l0.9 1.8l0.7 1.1l1.2 1.4l0.9 1l1 0.7l1 0.7l1.9 1l1.9 0.7l0.8 0.2z"/>
<path fill="#ebd44b" fill-rule="evenodd" d="M927.9 919l1 0.4l1.9 0.4l1.9 0.2l1.9-0.2l1.9-0.3l4.8-1l1.9-0.1l1.9-0.8l17.2-7.8l1.9-1l0.2-0.3l-0.2-0.3l-3.8-1.9l-15.3-6.9l-1.9-0.8l-1.9-0.1l-1.9-0.4l-3.8-0.8l-1.9-0.2l-2 0l-0.9 0.1l-1.9 0.4l-1 0.4l-0.9 0.4l-1 0.6l-1.2 0.9l-1 1l-0.8 0.9l-0.8 1.4l-0.3 0.5l-0.4 1l-0.3 0.9l-0.2 1l-0.1 0.9l0 2l0.1 0.9l0.2 1.1l0.3 0.8l0.7 1.5l0.2 0.4l0.8 1.1l0.9 1.1l1 0.9l1 0.8l0.9 0.5l0.9 0.4z"/>
<path fill="#fbe138" fill-rule="evenodd" d="M934.6 917.1l1 0.1l1.9 0l2.8-0.2l2.9 0l21-8.2l0.2-0.3l-0.2-0.3l-1.6-0.7l-0.3-0.1l-2.9-1.1l-16.2-6.3l-1-0.1l-1.9 0.1l-4.7-0.2l-1.9 0.2l-1 0.3l-1.6 0.6l-0.3 0.1l-1.2 0.8l-1.1 1l-0.7 0.9l-0.8 1.5l-0.2 0.4l-0.3 1l-0.2 0.9l0 1l0 1l0.2 0.9l0.5 1.4l0.2 0.5l0.7 1.2l1 1.1l0.9 0.8l1.3 0.7l0.6 0.3l1 0.3l1 0.3l0.9 0.1z"/>
<path fill="#fee838" fill-rule="evenodd" d="M939.9 915.2l1.4 0.3l0.9 0.2l1.9-0.5l13.4-4.3l4.8-1.5l0.9-0.5l1-0.2l0.1-0.2l-0.1-0.2l-1-0.2l-1.1-0.6l-3.6-1.1l-6.7-2.1l-8.6-2.8l-1-0.2l-2.8 0.6l-2.9 0.6l-0.9 0.3l-1 0.5l-0.9 0.5l-1 0.9l-0.7 0.9l-0.4 1l-0.3 0.9l-0.1 1l0.1 1l0.4 1.3l0.3 0.6l0.7 0.9l1.1 1l0.8 0.4l1.1 0.5l1.8 0.5l2.4 0.5z"/>
<path fill="none" stroke="#000" stroke-width="1.4" d="M927.6 1028l1.7-6.7l1.5-6.8l1.5-7.5l1.1-6.7l1.3-8.6l1.5-10.5l4-30.8M948.4 891.8l-1.4-1.4l-0.1-0.1l-0.8-1l-1-1.4l-0.2-0.4l-0.9-1.9l-0.6-2l-0.8-2.8l-0.8-3.8l-1-5.8l-2.3-14.3l-1.7-10.5l-1.8-10.6l-1.7-9.5l-1.8-8.6l-1.9-8.6l-1.8-7.7l-2.1-7.6l-1.3-4.8M822 961l2.9 2l3.8 2.3l4.4 2.5l4.2 2l4.3 1.8l3.3 1.2l3.8 1.2l2.9 0.8l3.8 0.9l3.9 0.7l3.7 0.5l3.9 0.2l2.8 0.1l3.8 0l3.8-0.2l2.9-0.4l3.8-0.6l3.8-0.8l3.9-1l2.8-0.9l2.9-1l2.9-1.2l3.8-1.8l2.8-1.6l3.1-1.8l2.7-1.8l3.8-2.8l3.8-3.2l2.9-2.8l2.8-2.9l2.9-3.3l2.8-3.7l3-4.4l2.4-3.8l1.6-2.9l2.7-4.8l1.3-1.9l1.4-1.6l0.3-0.3l1.2-0.9l1.4-1M947 893.2l-1.9-1.3l-1-0.9l-0.9-1l-1.2-1.6l-1.2-1.9l-5.2-9.1l-3.6-5.2l-1.4-1.9l-2.3-2.9l-1.7-1.9l-1.8-1.9l-2.6-2.6l-3.8-3.3l-2.9-2.3l-3.8-2.7l-3.8-2.4l-3.8-2.2l-3.8-1.9l-2.9-1.2l-3.8-1.5l-3.8-1.3l-3.9-1.1l-3.8-0.9l-3.8-0.7l-2.9-0.4l-3.9-0.4l-3.7-0.1l-2.9 0l-3.8 0.2l-3.8 0.4l-3 0.5l-3.7 0.7l-3.8 1l-3.8 1.2l-2.9 1l-2.8 1.1l-3.8 1.8l-3.9 2l-3.8 2.2l-3.6 2.4l-0.2 0.1M945.5 894.7l-3.3-1.8l-0.9-0.8l-1.9-1.8l-3.9-3.8l-2.3-1.9l-1.5-1.2l-1.9-1.2l-2.8-1.7l-1.9-0.9l-2-0.7l-1.9-0.7l-2.8-0.7l-1.9-0.3l-1.9-0.3l-1.9-0.1l-2.9 0l-0.2 0M883.2 892.3l-1.1 1.9l-0.9 1.9l-1 2.5l-0.6 2.3l-0.5 1.9l-0.3 1.9l-0.1 1.9l0 4.8l0.3 1.9l0.4 1.9l0.4 1.9l1 2.9l0.9 1.9l1 1.9l1.3 2.1l1.3 1.7l1.6 2l1.9 1.9l2.2 1.9l1.6 1.1l1.9 1.2l1.9 1.1l1.9 0.9l2 0.7l2.2 0.7l1.6 0.4l1.9 0.4l2.8 0.3l1.9 0.1l2 0l2.8-0.3l2.9-0.4l1.9-0.5l1.9-0.6l1.9-0.7l1.9-0.8l1.9-1l1.9-1.1l2.3-1.5l1.6-1.3l1.9-1.7l2.9-2.8l1.9-1.9l1.8-1.5l1-0.7l1.9-1l0.4-0.2M944.5 896.6l-0.4-0.1l-1.9-0.6l-1.9-0.9l-6.6-3.5l-2-0.7l-1.9-0.6l-1.9-0.3l-1.9-0.2l-1.9 0.1l-1.9 0.2l-1.9 0.4l-1.9 0.6l-1.9 0.9l-1 0.5l-1.9 1.3l-0.9 0.7l-1 0.9l-1 1l-1.2 1.7l-1.2 1.9l-0.8 1.9l-0.7 1.9l-0.4 1.9l-0.2 1.9l0 2l0.2 1.9l0.5 2.2l0.4 1.2M933.5 925.6l1.1-0.5l2.9-1.5l3-1.7l1.7-0.8l1-0.3l1.3-0.4M943.4 898.7l-0.2-0.1l-1.9-0.1l-1.9-0.4l-3.8-0.8l-1.9-0.2l-2 0l-0.9 0.1l-1.9 0.4l-1 0.4l-0.9 0.4l-1 0.6l-1.2 0.9l-1 1l-0.8 0.9l-0.8 1.4l-0.3 0.5l-0.4 1l-0.3 0.9l-0.2 1l-0.1 0.9l0 2l0.1 0.9l0.2 1.1l0.3 0.8l0.7 1.5l0.2 0.4l0.8 1.1l0.9 1.1l1 0.9l1 0.8l0.9 0.5l0.9 0.4l1.9 0.6l1.9 0.3l2 0l1.9-0.2l3.1-0.7l1.6-0.3l1.9-0.3l1.2-0.1M942.2 901.3l-2.8 0.6l-2.9 0.6l-0.9 0.3l-1 0.5l-0.9 0.5l-1 0.9l-0.7 0.9l-0.4 1l-0.3 0.9l-0.1 1l0.1 1l0.4 1.3l0.3 0.6l0.7 0.9l1.1 1l0.8 0.4l1.1 0.5l1.8 0.5l4.7 1"/>
<path fill="none" stroke="#000" stroke-width="1.4" stroke-dasharray="5.1 2.2" d="M975.5 929.6l0.1 0.9l-0.6 1.9l-0.4 1l-0.9 1.5l-0.9 1.3l-1 1l-1.2 0.9l-0.7 0.5l-1.3 0.5l-0.6 0.2l-0.9 0.1l-1 0l-1 0l-1.3-0.3l-0.6-0.2l-0.9-0.4l-1-0.5l-1-0.8l-1-1l-0.8-1.3l-0.3-0.6l-0.4-0.9l-0.3-2M957.4 885.6l0.4-2l0.3-0.9l0.4-1l0.9-1.2l1-0.9l0.9-0.7l1-0.6l1-0.4l0.9-0.3l0.9-0.2l1 0l1 0l0.9 0.1l1.3 0.4l0.6 0.3l1.2 0.7l1.1 0.9l0.8 1l0.7 0.9l1.1 1.9l0.7 2l0.2 0.9l0 1M985 922l1.7 1.8l1.2 1.9l0.7 1.9l0.4 1.9l0.2 1.9l-0.1 2l-0.3 1.9l-0.4 1.9l-0.7 1.9l-0.8 1.9l-0.8 1.2l-0.9 1.4l-0.3 0.3l-0.9 0.9l-1.1 1l-1.5 1l-1.9 0.9l-2 0.6l-1.9 0.4l-1.9 0.2l-1.9 0l-1.9-0.2l-1.9-0.4l-2-0.6l-1.8-0.7l-2.2-1.2l-1.6-1.1l-1.9-1.6l-1.2-1.1l-0.8-1l-0.9-1.2l-1-1.7l-0.7-1.9l-0.3-0.9l-0.1-1l-0.1-0.9l0.1-1l0.2-1.2l0.4-1.7M954.1 887.5l-0.5-1.9l-0.2-1l0-1l0-0.9l0.3-1.4l0.1-0.5l0.8-1.9l0.5-1l0.6-0.9l1.5-2l0.9-0.9l1.3-1.2l1.9-1.5l2-1.1l1.8-0.9l2-0.7l1.9-0.5l1.9-0.3l1.9-0.2l1.9 0l1.9 0.2l2 0.4l1.8 0.7l1 0.4l1.5 0.9l1.3 1l1 0.9l0.9 1.1l1 1.4l0.7 1.3l0.8 1.9l0.6 1.9l0.4 1.9l0.2 1.9l0 2l-0.2 1.9l-0.2 0.9l-0.6 1.9l-0.8 1.4l-0.2 0.5l-0.7 1l-1 1.1l-0.9 0.8M951.6 888.6l-0.5-1.1l-0.5-1l-0.3-0.9l-0.2-1l-0.2-1l0-1.9l0.3-1.9l0.4-1.9l0.7-1.9l0.8-1.9l0.9-1.9l1.1-1.9l1.5-2.2l1.9-2.4l2-2.1l2.1-1.9l1.6-1.4l2.9-2.1l2.9-1.8l2.8-1.5l2.9-1.4l2.8-1.1l2.9-0.9l3.8-1.1l3.8-0.8l3.9-0.6l3.8-0.4l3.8-0.2l3.8-0.1l3.8 0.2l3.8 0.3l3.9 0.6l2.8 0.5l2.9 0.7l2.9 0.8l2.8 1l2.9 1.1l3 1.5l2.7 1.5l2.1 1.3l2.5 1.9l1.1 1l1.9 1.9l1.7 1.9l1.4 1.9l1.2 1.9l1.1 2l0.9 1.9l0.8 1.9l0.9 2.9l0.8 2.8l0.5 2.9l0.4 2.9l0.3 2.8l0.2 3.8l0 4.8l-0.1 12.5l-0.1 1.9l-0.2 11.4l-0.3 4.8l-0.5 3.8l-0.5 2.9l-0.6 2.9l-0.9 2.8l-0.7 2l-0.9 1.9l-1 1.9l-1.1 1.9l-1.4 1.9l-1.6 1.9l-1.2 1.3l-1.7 1.6l-1.2 1l-2.6 1.9l-2.1 1.2l-2 1.1l-1.9 0.9l-1.9 0.8l-2.8 1.1l-2.9 0.9l-3.8 1l-3.8 0.8l-3.9 0.6l-3.8 0.5l-3.8 0.2l-3.8 0.2l-3.8-0.1l-3.8-0.2l-2.9-0.3l-3.8-0.6l-2.9-0.6l-3.4-0.9l-2.3-0.7l-3.1-1.2l-2.2-0.9l-1.9-1l-1.8-0.9l-1.5-1l-1.9-1.3l-2.1-1.6l-1.7-1.4l-2.4-2.4l-1.4-1.7l-2-2.5l-1.5-2.5l-1-1.9l-0.8-1.9l-0.6-1.9l-0.5-1.9l-0.2-1.9l0-1.9l0.1-1l0.2-1l0.5-1.3l0.9-1.6M950 890.3l-0.7-0.9l-0.8-1l-0.5-0.9l-0.5-1l-0.6-1.9l-0.3-1.9l-0.1-1.9l0-1.9l0.2-2.9l0.4-2.9l0.5-2.8l0.7-2.9l0.8-2.9l1.2-3.8l1.5-3.8l1.7-3.8l1.3-2.9l2.1-3.8l1.7-2.9l2.4-3.8l1.3-1.9l2.1-2.9l2.7-3.3l2.9-3.4l2.8-3l2.8-2.8l3.2-2.8l2.6-2.2l3.8-2.9l3.8-2.7l3.8-2.4l3.8-2.2l3.9-2.1l3.8-1.8l3.8-1.7l3.8-1.6l4.2-1.4l3.4-1.1l3.9-1.1l3.8-0.9l4-0.8l3.6-0.5l3.8-0.5l3.8-0.3l3.9-0.1l3.8 0l3.8 0.2l3.8 0.4l2.9 0.4l3.8 0.6l3.8 0.9l3.8 1.1l3.8 1.3l3.9 1.5l3.8 1.7l3.8 2l3.8 2.3l3.5 2.4l3.2 2.4l3 2.4l3.2 2.9l2.9 2.8l2.7 2.9l2.5 3l2.2 2.7l1.6 2.3l1.9 2.8l2.1 3.5l2 3.9l1.7 3.8l1.3 3.8l1.1 3.8l0.8 3.9l0.7 4.7l0.5 4.8l0.3 6l0.5 12.2l0.3 7.6l0.4 6.7l0.5 7.7l-0.2 3.8l1 3.8l0.2 1.9l0.8 6.7l1.3 8.6l1.6 8.6l0.8 3.9M1136.9 980.1l-0.4 1.1l-1.5 3.1l-1.9 3.3l-1 1.4l-2 2.7l-2.7 3.2l-1.9 1.9l-1.9 1.8l-3.1 2.6l-2.7 2l-2.8 2l-2.9 1.8l-3.8 2.2l-3.8 1.9l-2.9 1.3l-3.8 1.5l-3.8 1.3l-4.5 1.3l-4.1 1l-3.8 0.7l-3.9 0.6l-3.8 0.4l-3.8 0.3l-4.8 0.1l-4.7-0.1l-4.8-0.2l-4.8-0.4l-5.7-0.8l-4.8-0.7l-5.7-1.1l-4.8-1.1l-4.7-1.2l-5.8-1.5l-5.7-1.8l-4.8-1.7l-5.7-2.2l-4.1-1.7l-3.5-1.7l-4.8-2.4l-3.8-2.2l-3.8-2.4l-2.9-2l-2.9-2.2l-3.8-3.1l-3.4-3.2l-2.3-2.3l-3-3.4l-2.7-3.3l-2.5-3.4l-1.9-2.9l-1.3-2.1l-2-3.6l-1.9-3.8l-1.7-3.8l-1.1-3.1l-1.2-3.6l-0.8-2.9l-0.6-2.9l-0.4-2.8l-0.3-2.9l-0.1-1.9l0.1-1.9l0.2-1.9l0.4-2l0.3-0.9l0.5-1l0.9-1.4l1.1-1.3"/>
<ellipse cx="965.1" cy="908.5" rx="25.2" ry="25.2" fill="#fff"/>
<text transform="translate(943.0 934.8) rotate(-70.6)" text-anchor="middle" y="4.9" font-size="20.8px">0.0</text>
<text transform="translate(894.5 881.3) rotate(-30.3)" text-anchor="middle" y="4.9" font-size="20.8px">0.2</text>
<text transform="translate(918.1 925.9) rotate(-337.9)" text-anchor="middle" y="4.9" font-size="20.8px">0.3</text>
<text transform="translate(1131.7 961.3) rotate(-82.0)" text-anchor="middle" y="4.9" font-size="20.8px">-0.1</text>
</g>
<rect x="822" y="789" width="334" height="239" fill="none" stroke="#000" stroke-width="2"/>
<text x="989.0" y="773.6" text-anchor="middle">PINN, unsteady</text>
<path fill="#00224e" d="M302.2 1056.2L269.1 1061.95L302.2 1067.7z"/>
<path fill="#fee838" d="M952.5 1056.2L985.6 1061.95L952.5 1067.7z"/>
<rect x="301.70" y="1056.2" width="33.06" height="11.5" fill="#002758"/>
<rect x="334.26" y="1056.2" width="33.06" height="11.5" fill="#00306f"/>
<rect x="366.83" y="1056.2" width="33.06" height="11.5" fill="#1a386f"/>
<rect x="399.39" y="1056.2" width="33.06" height="11.5" fill="#2d416d"/>
<rect x="431.96" y="1056.2" width="33.06" height="11.5" fill="#3c4a6c"/>
<rect x="464.52" y="1056.2" width="33.06" height="11.5" fill="#49536c"/>
<rect x="497.09" y="1056.2" width="33.06" height="11.5" fill="#555c6d"/>
<rect x="529.65" y="1056.2" width="33.07" height="11.5" fill="#61656f"/>
<rect x="562.22" y="1056.2" width="33.06" height="11.5" fill="#6c6d72"/>
<rect x="594.78" y="1056.2" width="33.06" height="11.5" fill="#777776"/>
<rect x="627.35" y="1056.2" width="33.07" height="11.5" fill="#828079"/>
<rect x="659.91" y="1056.2" width="33.07" height="11.5" fill="#8f8a78"/>
<rect x="692.48" y="1056.2" width="33.06" height="11.5" fill="#9b9476"/>
<rect x="725.04" y="1056.2" width="33.06" height="11.5" fill="#a79d73"/>
<rect x="757.61" y="1056.2" width="33.07" height="11.5" fill="#b5a86f"/>
<rect x="790.17" y="1056.2" width="33.07" height="11.5" fill="#c2b369"/>
<rect x="822.74" y="1056.2" width="33.06" height="11.5" fill="#d0be62"/>
<rect x="855.30" y="1056.2" width="33.07" height="11.5" fill="#dec958"/>
<rect x="887.87" y="1056.2" width="33.07" height="11.5" fill="#ebd44b"/>
<rect x="920.43" y="1056.2" width="32.57" height="11.5" fill="#fbe138"/>
<path fill="none" stroke="#000" stroke-width="2" stroke-linejoin="miter" d="M301.7 1056.2H953.0L985.6 1061.95L953.0 1067.7H301.7L269.1 1061.95z"/>
<text transform="translate(288.7 1110.0) scale(1.215 1.5)">−</text><text x="303.7" y="1104.7">5</text>
<text transform="translate(353.8 1110.0) scale(1.215 1.5)">−</text><text x="368.9" y="1104.7">4</text>
<text transform="translate(418.9 1110.0) scale(1.215 1.5)">−</text><text x="434.0" y="1104.7">3</text>
<text transform="translate(484.1 1110.0) scale(1.215 1.5)">−</text><text x="499.1" y="1104.7">2</text>
<text transform="translate(549.2 1110.0) scale(1.215 1.5)">−</text><text x="564.3" y="1104.7">1</text>
<text x="627.3" y="1104.7" text-anchor="middle">0</text>
<text x="692.5" y="1104.7" text-anchor="middle">1</text>
<text x="757.6" y="1104.7" text-anchor="middle">2</text>
<text x="822.7" y="1104.7" text-anchor="middle">3</text>
<text x="887.9" y="1104.7" text-anchor="middle">4</text>
<text x="953.0" y="1104.7" text-anchor="middle">5</text>
<path stroke="#000" stroke-width="2" fill="none" d="M301.7 1068.7v11M366.8 1068.7v11M432.0 1068.7v11M497.1 1068.7v11M562.2 1068.7v11M627.3 1068.7v11M692.5 1068.7v11M757.6 1068.7v11M822.7 1068.7v11M887.9 1068.7v11M953.0 1068.7v11"/>
<text x="952.0" y="1134.9" text-anchor="end"><tspan font-size="28px" dy="3">×</tspan><tspan dy="-3">10</tspan><tspan font-size="15.4px" dy="-8">−1</tspan></text>
<text x="230" y="1068.7" text-anchor="middle" font-style="italic" font-size="28px">p</text>
<g clip-path="url(#c30)">
<rect x="99" y="1173" width="334" height="239" fill="#00224e"/>
<path fill="#002a5f" fill-rule="evenodd" d="M99 1412l334 0l0-239l-334 0l0 239zM235.5 1291.6l-3.9-0.6l-12.4-1.7l-0.9-0.3l-0.3-0.3l-0.7-1l-0.4-0.9l-0.3-1l-0.3-1.9l0-1.9l0.3-1.9l0.5-1.9l0.6-2l0.9-1.9l1.1-1.9l1.4-2.1l1.4-1.7l1.5-1.6l1.9-1.7l1.9-1.5l1.9-1.4l2.9-1.6l1.9-1l1.9-0.8l2.6-0.9l1.2-0.4l2.9-0.7l2.9-0.6l2.8-0.3l2.9-0.1l2.3 0.2l1.5 0.2l1.9 0.5l1 0.4l1 0.8l0.6 0.9l-0.1 1l-0.6 1.1l-0.9 1l-1 0.9l-1.9 1.4l-1 0.6l-5.7 3.6l-1 1l-2.6 10.5l-1.2 4.8l-0.6 2.8l-0.3 1l-0.5 2.8l-0.5 0.5l-0.9 0.3l-2.9-0.4l-2.8-0.3z"/>
<path fill="#1a386f" fill-rule="evenodd" d="M99 1412l334 0l0-239l-334 0l0 239zM234.5 1291.6l-10.5-1.2l-4.8-0.6l-0.9-0.2l-1-0.9l-0.6-1l-0.4-0.9l-0.3-1l-0.2-0.9l-0.1-2l0.1-1.9l0.4-1.9l0.9-2.9l1.2-2.5l0.7-1.3l1.2-1.9l1.5-1.9l1.7-1.9l1.6-1.6l1.9-1.6l2.8-2.1l2.9-1.7l2.9-1.4l3.8-1.5l2.8-1l2.9-0.7l2.9-0.6l2.8-0.4l2.9-0.3l2.9-0.1l2.8 0.1l2.9 0.3l1.9 0.3l1.9 0.6l1 0.3l1.3 0.9l0.7 0.9l0.1 1l-0.5 0.9l-0.7 1l-1.2 1l-1.7 1l-2.8 1.6l-1 0.4l-4.7 2.1l-4.8 2l-1.9 1l-0.7 0.5l-0.4 0.9l-3.4 11.5l-1.2 4.1l-0.8 2.6l-0.3 0.9l-0.3 1.9l-0.6 0.6l-0.9 0.2l-2.9-0.3l-3.8-0.4z"/>
<path fill="#38476c" fill-rule="evenodd" d="M99 1412l334 0l0-239l-334 0l0 239zM232.6 1291.6l-13.4-1.2l-0.9-0.2l-1-0.7l-0.9-1l-0.5-0.8l-0.5-1.3l-0.2-0.6l-0.1-0.9l-0.2-2l0.2-1.9l0.4-1.9l0.5-1.9l1.1-2.9l1.2-2.2l1-1.6l1.3-1.9l1.7-1.9l1.8-1.9l2.1-1.9l1.6-1.3l2.9-1.9l2.9-1.7l1.9-0.9l1.9-0.9l2.4-1l1.4-0.5l3.8-1.2l3.8-0.9l3.8-0.8l3.9-0.5l3.8-0.3l3.8-0.2l3.8 0l3.8 0.2l2.9 0.3l1.9 0.3l1.9 0.3l1.9 0.5l2.9 1.1l1.3 0.8l0.9 0.9l0.2 1l-0.2 0.9l-0.7 1l-1.1 0.9l-1.6 1l-2.6 1.2l-2.9 1.1l-3.8 1.2l-3.8 1.1l-3.9 1l-4.2 1.1l-4.3 1.1l-2.9 0.9l-1.9 0.6l-1 0.5l-0.8 0.7l-1.3 3.8l-5.7 16.3l-0.2 0.9l-0.6 0.7l-0.9 0.1l-3.8-0.3l-4.8-0.4z"/>
<path fill="#4d556c" fill-rule="evenodd" d="M99 1412l334 0l0-239l-334 0l0 239zM228.8 1291.6l-10.5-0.8l-1-0.5l-0.9-0.7l-1-1.1l-0.4-0.8l-0.5-1.5l-0.1-0.4l-0.2-0.9l-0.1-2l0.1-1.9l0.3-1.9l0.5-1.9l1.1-2.9l1.5-2.8l1.6-2.6l1-1.3l1.6-1.9l1.8-1.9l1.4-1.3l1.9-1.6l1.9-1.4l2.8-1.9l3.9-2.1l3.8-1.7l3.8-1.5l2.9-0.9l2.8-0.8l4.8-1.2l3.8-0.7l4.8-0.8l4.8-0.5l4.7-0.4l4.8-0.2l4.8-0.1l4.7 0l5.8 0.3l4.7 0.3l5.8 0.7l5.7 1l4.8 1.1l2.8 0.8l2.9 1.1l1.9 1l0.6 0.3l0.3 0.3l1 0.7l0.6 0.9l0.3 1l-0.2 0.9l-0.7 1l-1.1 0.9l-1.8 1.1l-2 0.9l-3.7 1.2l-3.8 1l-3.8 0.8l-5.7 1l-6.7 0.9l-5.8 0.6l-6.6 0.6l-20.1 1.6l-3.8 0.5l-2.9 0.5l-1.9 0.4l-1.2 0.4l-0.8 1.9l-4.4 10.5l-0.4 1l-1.6 3.8l-0.1 0.2l-0.7 1.7l-0.3 0.6l-0.3 1.3l-0.7 0.8l-0.9 0.1l-3.8-0.2l-8.6-0.6z"/>
<path fill="#61656f" fill-rule="evenodd" d="M99 1412l334 0l0-239l-334 0l0 239zM222.1 1291.6l-3.8-0.2l-1-0.3l-1-0.5l-1.3-1l-0.7-0.9l-0.5-1l-0.7-1.9l-0.1-0.9l-0.1-2l0.1-1.9l0.3-1.9l0.8-2.9l1.1-2.8l1.5-2.9l1.9-2.9l1.6-2.1l1.9-2.1l1.9-1.9l1.9-1.7l2.9-2.2l3.8-2.5l2.9-1.6l4.7-2.3l2.9-1.1l3.8-1.4l6.7-2l6.7-1.6l5.7-1.1l5.7-0.9l5.8-0.8l5.7-0.5l6.7-0.6l6.9-0.3l6.4-0.2l6.7-0.1l6.7 0.1l8.6 0.3l7.6 0.3l10.5 0.8l14.3 1.5l2.9 0.3l4.7 0.7l2 0.2l3.8 0.6l2.8 0.5l3.9 0.7l2.8 0.5l4.8 0.9l2.5 0.5l2.3 0.7l5.7 1.4l2.8 1l2.9 0.8l4.8 2.5l0.7 0.3l0.2 0.3l0.4 0.7l1.1 2.8l-0.5 0.5l-0.4 0.5l-1.5 1l-1.9 1l-2 0.9l-2.8 1l-2.9 0.9l-3.3 0.9l-2.4 0.6l-1.9 0.4l-2.9 0.5l-2 0.4l-3.7 0.6l-2.2 0.4l-3.5 0.5l-3.8 0.5l-13.4 1.6l-10.5 1l-9.5 0.8l-12.4 0.7l-9.6 0.4l-6.7 0.2l-6.6 0l-5.8-0.1l-4.7-0.2l-4.8-0.4l-5.7-0.7l-14.3-1.9l-3.9-0.3l-3.8-0.1l-2.8 0.1l-2.9 0.3l-1 0.5l-3.3 6.7l-1.4 2.8l-1.4 2.9l-1.5 2.9l-0.4 0.9l-0.6 1l-0.3 0.9l-0.6 1l-0.2 0.9l-0.8 0.8l-0.9 0.1l-5.7-0.2l-13.4-0.6z"/>
<path fill="#737475" fill-rule="evenodd" d="M99 1412l334 0l0-132l-23.9 1.2l-24.8 0.9l-33.4 1l-18.1 0.4l-13.4 0.1l-10.5-0.1l-7.6-0.2l-5.7-0.3l-3.8-0.3l-2.9-0.4l-2.9-0.6l-2.7-0.7l-1.1-0.3l-1.9-0.7l-2.1-0.9l-2.7-1.2l-3.8-1.9l-2.8-1.2l-1.9-0.7l-2.9-0.9l-2.9-0.6l-2.8-0.4l-2.9-0.2l-1 0.2l-0.4 0.2l-2.4 4.1l-1.6 2.6l-1.3 2.2l-1.5 2.6l-0.6 1l-3.6 6l-0.2 0.6l-0.8 0.9l-1.9 0l-21.9-0.4l-2.1-0.5l-0.8-0.2l-1.3-0.7l-1.1-1l-0.7-0.9l-0.5-1l-0.5-1.9l-0.3-1.9l0-1.9l0.2-1.9l0.6-2.9l0.6-1.9l1.6-3.8l2.1-3.9l2.1-2.8l2-2.5l1.2-1.3l2.6-2.5l1.9-1.7l2.9-2.2l3.3-2.3l1.6-0.9l1.8-1l2.8-1.6l5.8-2.6l4.7-1.9l4.8-1.6l3.8-1.2l3.8-1l7.7-1.9l4.7-1l6.7-1.3l6.7-1l7.6-1.1l9.6-1l4.7-0.5l5.8-0.5l16.2-0.9l12.4-0.4l23.9-0.2l8.5 0.1l8.6 0.2l9.6 0.2l13.3 0.5l25.8 1.2l0-59.9l-334 0l0 239zM258.4 1309l-2.1-2.2l-8.4-8.5l-0.1-0.1l-4.7-4.8l1-0.4l1.9 0.3l1.9 0.3l3.8 0.7l2.8 0.5l10.5 2l0.7 0.5l0.3 0.4l0.2 0.5l0.2 1l0.1 0.9l-0.1 1l-0.4 1.5l-0.1 0.4l-0.5 1l-0.6 0.9l-0.8 1l-0.9 0.9l-1.2 1l-1.6 1l-1 0.4l-0.9-0.2z"/>
<path fill="#868379" fill-rule="evenodd" d="M430.5 1410.1l1.5 0.3l1 0.1l0-118l-159.4 0l-0.4 3.8l-0.4 1.9l-1.1 2.9l-0.4 1l-1.2 1.9l-1.7 1.9l-1.4 1.3l-1 0.7l-1.9 1.2l-1.9 0.9l-1.9 0.7l-1.9 0.6l-1.9 0.4l-0.3-0.1l-4.5-6.1l-1.1-1.5l-6.5-8.9l-0.4-0.7l-0.6-0.6l-0.1-0.3l-0.9-1l-44.8 0l-0.7 1l0.1 2.8l0.3 3.8l0.7 4.8l1.5 6.2l0.4 1.5l2.1 5.7l2.3 4.8l1.6 2.9l3.1 4.8l1.3 1.9l2.6 3.1l3 3.5l4.6 4.6l3.8 3.4l3.2 2.6l3.5 2.6l1.7 1.2l1.2 0.8l3.1 2.1l2.6 1.6l2.8 1.7l2.9 1.6l3.8 2.1l7.7 3.8l8.5 3.8l2 0.8l5.7 2.3l1.2 0.4l1.6 0.7l1.1 0.3l1.8 0.7l1 0.2l0.9 0.5l4.8 1.6l2.8 1l2.5 0.8l0.4 0.1l1 0.2l2.8 1l2 0.6l0.9 0.3l2.3 0.6l1.5 0.5l2.9 0.8l0.9 0.3l2.9 0.8l2.9 0.8l0.9 0.2l2.9 0.8l2.8 0.7l1 0.3l1.9 0.4l0.9 0.2l2 0.6l1.9 0.4l0.9 0.1l1.9 0.6l4.8 1.1l1.9 0.5l1.9 0.4l1.1 0.1l1.8 0.6l2.8 0.6l1 0.1l1.9 0.5l2.9 0.6l2.8 0.5l1.9 0.5l2.9 0.5l1 0.1l5.7 1.3l1.9 0.2l1 0.2l1.9 0.5l2 0.5l4.6 0.7l2.9 0.7l3.8 0.5l1 0.1l1.9 0.5l3.8 0.8l4.8 0.6l5.7 1.3l1.9 0.2l1 0l1.9 0.3l2.8 0.7l1.9 0.4l3.9 0.5l1.9 0.1l1 0.2l1.8 0.5l4.8 0.9l3.8 0.3l1.9 0.2l1.9 0.5l2.3 0.5zM99 1291.5l0 1l97.3 0l0.3-1l0.1-2.8l0.3-3.8l0.7-4.8l1.5-6.2l0.4-1.5l2.1-5.7l2.3-4.8l1.6-2.9l3.1-4.8l1.3-1.9l2.6-3.1l3-3.5l4.6-4.6l3.8-3.4l3.2-2.6l3.5-2.6l1.7-1.2l1.2-0.8l3.1-2.1l2.6-1.6l2.8-1.7l2.9-1.6l3.8-2.1l7.7-3.8l8.5-3.8l2-0.8l5.7-2.3l1.2-0.4l1.6-0.7l1.1-0.3l1.8-0.7l1-0.2l0.9-0.5l4.8-1.6l2.8-1l2.5-0.8l0.4-0.1l1-0.2l2.8-1l2-0.6l0.9-0.3l2.3-0.6l1.5-0.5l2.9-0.8l0.9-0.3l2.9-0.8l2.9-0.8l0.9-0.2l2.9-0.8l2.8-0.7l1-0.3l1.9-0.4l0.9-0.2l2-0.6l1.9-0.4l0.9-0.1l1.9-0.6l4.8-1.1l1.9-0.5l1.9-0.4l1.1-0.1l1.8-0.6l2.8-0.6l1-0.1l1.9-0.5l2.9-0.6l2.8-0.5l1.9-0.5l2.9-0.5l1-0.1l5.7-1.3l1.9-0.2l1-0.2l1.9-0.5l2-0.5l4.6-0.7l2.9-0.7l3.8-0.5l1-0.1l1.9-0.5l3.8-0.8l4.8-0.6l5.7-1.3l1.9-0.2l1 0l1.9-0.3l2.8-0.7l1.9-0.4l3.9-0.5l1.9-0.1l1-0.2l1.8-0.5l4.8-0.9l3.8-0.3l1.9-0.2l1.9-0.5l3.8-0.8l1-0.1l0-1.5l-334 0l0 118.5zM243 1291.5l0.1 1l29.6 0l0.9-1l-0.2-1.9l-0.3-1.9l-0.6-1.9l-0.8-1.9l-1.6-2.9l-1.7-1.9l-1.4-1.3l-1-0.7l-1.9-1.2l-1.9-0.9l-1.9-0.7l-1.9-0.6l-1.9-0.4l-0.3 0.1l-4.5 6.1l-1.1 1.5l-6.5 8.9l-0.4 0.7l-0.6 0.6l-0.1 0.3z"/>
<path fill="#9b9476" fill-rule="evenodd" d="M330.6 1353.7l4.1 0.1l4.8 0.2l6.7 0.2l8.5 0.1l14.4-0.1l11.4-0.1l19.1-0.5l33.4-1.5l0-47.1l-23.9-1.2l-24.8-0.9l-33.4-1l-18.1-0.4l-13.4-0.1l-10.5 0.1l-7.6 0.2l-5.7 0.3l-3.8 0.3l-2.9 0.4l-2.9 0.6l-2.7 0.7l-1.1 0.3l-1.9 0.7l-2.1 0.9l-2.7 1.2l-3.8 1.9l-2.8 1.2l-1.9 0.7l-2.9 0.9l-2.9 0.6l-2.8 0.4l-2.9 0.2l-1-0.2l-0.4-0.2l-2.4-4.1l-1.6-2.6l-1.3-2.2l-1.5-2.6l-0.6-1l-3.6-6l-0.2-0.6l-0.8-0.9l-1.9 0l-21.9 0.4l-2.1 0.5l-0.8 0.2l-1.3 0.7l-1.1 1l-0.7 0.9l-0.5 1l-0.5 1.9l-0.3 1.9l0 1.9l0.2 1.9l0.6 2.9l0.6 1.9l1.6 3.8l2.1 3.9l2.1 2.8l2 2.5l1.2 1.3l2.6 2.5l1.9 1.7l2.9 2.2l3.3 2.3l1.6 0.9l1.8 1l2.8 1.6l5.8 2.6l4.7 1.9l4.8 1.6l3.8 1.2l3.8 1l7.7 1.9l4.7 1l6.7 1.3l6.7 1l7.6 1.1l9.6 1l4.7 0.5l5.8 0.5l15.9 0.9zM243.1 1291.5l0 0.1l1 0.4l1.9-0.3l1.9-0.3l3.8-0.7l2.8-0.5l10.5-2l0.7-0.5l0.3-0.4l0.2-0.5l0.2-1l0.1-0.9l-0.1-1l-0.4-1.5l-0.1-0.4l-0.5-1l-0.6-0.9l-0.8-1l-0.9-0.9l-1.2-1l-1.6-1l-1-0.4l-0.9 0.2l-2.1 2.2l-8.4 8.5l-0.1 0.1l-4.7 4.7z"/>
<path fill="#b0a571" fill-rule="evenodd" d="M296.8 1344.1l6.4 0.2l6.7 0.1l6.7-0.1l8.6-0.3l7.6-0.3l10.5-0.8l14.3-1.5l2.9-0.3l4.7-0.7l2-0.2l3.8-0.6l2.8-0.5l3.9-0.7l2.8-0.5l4.8-0.9l2.5-0.5l2.3-0.7l5.7-1.4l2.8-1l2.9-0.8l4.8-2.5l0.7-0.3l0.2-0.3l0.4-0.7l1.1-2.8l-0.5-0.5l-0.4-0.5l-1.5-1l-1.9-1l-2-0.9l-2.8-1l-2.9-0.9l-3.3-0.9l-2.4-0.6l-1.9-0.4l-2.9-0.5l-2-0.4l-3.7-0.6l-2.2-0.4l-3.5-0.5l-3.8-0.5l-13.4-1.6l-10.5-1l-9.5-0.8l-12.4-0.7l-9.6-0.4l-6.7-0.2l-6.6 0l-5.8 0.1l-4.7 0.2l-4.8 0.4l-5.7 0.7l-14.3 1.9l-3.9 0.3l-3.8 0.1l-2.8-0.1l-2.9-0.3l-1-0.5l-3.3-6.7l-1.4-2.8l-1.4-2.9l-1.5-2.9l-0.4-0.9l-0.6-1l-0.3-0.9l-0.6-1l-0.2-0.9l-0.8-0.8l-0.9-0.1l-5.7 0.2l-17.2 0.8l-1 0.3l-1 0.5l-1.3 1l-0.7 0.9l-0.5 1l-0.7 1.9l-0.1 0.9l-0.1 2l0.1 1.9l0.3 1.9l0.8 2.9l1.1 2.8l1.5 2.9l1.9 2.9l1.6 2.1l1.9 2.1l1.9 1.9l1.9 1.7l2.9 2.2l3.8 2.5l2.9 1.6l4.7 2.3l2.9 1.1l3.8 1.4l6.7 2l6.7 1.6l5.7 1.1l5.7 0.9l5.8 0.8l5.7 0.5l6.7 0.6l6.9 0.3z"/>
<path fill="#c6b667" fill-rule="evenodd" d="M265.2 1337.4l3.7 0.4l4.7 0.3l4.8 0.2l4.8 0l4.7-0.1l6.7-0.4l5.8-0.6l4.7-0.7l2.9-0.5l4.8-1.1l2.8-0.8l2.9-1.1l1.9-1l0.6-0.3l0.3-0.3l1-0.7l0.6-0.9l0.3-1l-0.2-0.9l-0.7-1l-1.1-0.9l-1.8-1.1l-2-0.9l-3.7-1.2l-3.8-1l-3.8-0.8l-5.7-1l-6.7-0.9l-5.8-0.6l-6.6-0.6l-20.1-1.6l-3.8-0.5l-2.9-0.5l-1.9-0.4l-1.2-0.4l-0.8-1.9l-4.4-10.5l-0.4-1l-1.6-3.8l-0.1-0.2l-0.7-1.7l-0.3-0.6l-0.3-1.3l-0.7-0.8l-0.9-0.1l-3.8 0.2l-19.1 1.4l-1 0.5l-0.9 0.7l-1 1.1l-0.4 0.8l-0.5 1.5l-0.1 0.4l-0.2 0.9l-0.1 2l0.1 1.9l0.3 1.9l0.5 1.9l1.1 2.9l1.5 2.8l1.6 2.6l1 1.3l1.6 1.9l1.8 1.9l1.4 1.3l1.9 1.6l1.9 1.4l2.8 1.9l3.9 2.1l3.8 1.7l3.8 1.5l2.9 0.9l2.8 0.8l4.8 1.2l3.8 0.7l4.8 0.8l3 0.3z"/>
<path fill="#dec958" fill-rule="evenodd" d="M255.9 1333.6l3.4 0.4l3.8 0.2l3.9 0l3.8-0.1l2.8-0.3l2.9-0.4l1.9-0.3l1.9-0.5l2.9-1.1l1.3-0.8l0.9-0.9l0.2-1l-0.2-0.9l-0.7-1l-1.1-0.9l-1.6-1l-2.6-1.2l-2.9-1.1l-3.8-1.2l-3.8-1.1l-3.9-1l-4.2-1.1l-4.3-1.1l-2.9-0.9l-1.9-0.6l-1-0.5l-0.8-0.7l-1.3-3.8l-5.7-16.3l-0.2-0.9l-0.6-0.7l-0.9-0.1l-3.8 0.3l-18.2 1.6l-0.9 0.2l-1 0.7l-0.9 1l-0.5 0.8l-0.5 1.3l-0.2 0.6l-0.1 0.9l-0.2 2l0.2 1.9l0.4 1.9l0.5 1.9l1.1 2.9l1.2 2.2l1 1.6l1.3 1.9l1.7 1.9l1.8 1.9l2.1 1.9l1.6 1.3l2.9 1.9l2.9 1.7l1.9 0.9l1.9 0.9l2.4 1l1.4 0.5l3.8 1.2l3.8 0.9l3.8 0.8l3.3 0.4z"/>
<path fill="#f6dd3f" fill-rule="evenodd" d="M249.6 1330.7l2.1 0.3l2.8 0.2l2.9 0.1l2.9-0.2l1.9-0.2l1.9-0.3l1.9-0.6l1-0.3l1.3-0.9l0.7-0.9l0.1-1l-0.5-0.9l-0.7-1l-1.2-1l-1.7-1l-2.8-1.6l-1-0.4l-4.7-2.1l-4.8-2l-1.9-1l-0.7-0.5l-0.4-0.9l-3.4-11.5l-1.2-4.1l-0.8-2.6l-0.3-0.9l-0.3-1.9l-0.6-0.6l-0.9-0.2l-2.9 0.3l-15.2 1.7l-3.9 0.5l-0.9 0.2l-1 0.9l-0.6 1l-0.4 0.9l-0.3 1l-0.2 0.9l-0.1 2l0.1 1.9l0.4 1.9l0.9 2.9l1.2 2.5l0.7 1.3l1.2 1.9l1.5 1.9l1.7 1.9l1.6 1.6l1.9 1.6l2.8 2.1l2.9 1.7l2.9 1.4l3.8 1.5l2.8 1l2.9 0.7l2.9 0.6l1.7 0.2z"/>
<path fill="#fee838" fill-rule="evenodd" d="M248.2 1328.8l2.5 0.2l1.9-0.1l1.9-0.1l2-0.4l1.5-0.5l0.4-0.2l1-0.8l0.6-0.9l-0.1-1l-0.6-1.1l-0.9-1l-1-0.9l-1.9-1.4l-1-0.6l-5.7-3.6l-1-1l-2.6-10.5l-1.2-4.8l-0.6-2.8l-0.3-1l-0.5-2.8l-0.5-0.5l-0.9-0.3l-2.9 0.4l-11.4 1.5l-7.7 1.1l-0.9 0.3l-0.3 0.3l-0.7 1l-0.4 0.9l-0.3 1l-0.3 1.9l0 1.9l0.3 1.9l0.5 1.9l0.6 2l0.9 1.9l1.1 1.9l1.4 2.1l1.4 1.7l1.5 1.6l1.9 1.7l1.9 1.5l1.9 1.4l2.9 1.6l1.9 1l1.9 0.8l2.6 0.9l1.2 0.4l2.9 0.7l2.9 0.6l2.2 0.2z"/>
<path fill="none" stroke="#000" stroke-width="1.4" d="M218.3 1292.5l-21 0l-0.7 1l0.1 2.8l0.3 3.8l0.7 4.8l1.5 6.2l0.4 1.5l2.1 5.7l2.3 4.8l1.6 2.9l3.1 4.8l1.3 1.9l2.6 3.1l3 3.5l4.6 4.6l3.8 3.4l3.2 2.6l3.5 2.6l1.7 1.2l1.2 0.8l3.1 2.1l2.6 1.6l2.8 1.7l2.9 1.6l3.8 2.1l7.7 3.8l8.5 3.8l2 0.8l5.7 2.3l1.2 0.4l1.6 0.7l1.1 0.3l1.8 0.7l1 0.2l0.9 0.5l4.8 1.6l2.8 1l2.5 0.8l0.4 0.1l1 0.2l2.8 1l2 0.6l0.9 0.3l2.3 0.6l1.5 0.5l2.9 0.8l0.9 0.3l2.9 0.8l2.9 0.8l0.9 0.2l2.9 0.8l2.8 0.7l1 0.3l1.9 0.4l0.9 0.2l2 0.6l1.9 0.4l0.9 0.1l1.9 0.6l4.8 1.1l1.9 0.5l1.9 0.4l1.1 0.1l1.8 0.6l2.8 0.6l1 0.1l1.9 0.5l2.9 0.6l2.8 0.5l1.9 0.5l2.9 0.5l1 0.1l5.7 1.3l1.9 0.2l1 0.2l1.9 0.5l2 0.5l4.6 0.7l2.9 0.7l3.8 0.5l1 0.1l1.9 0.5l3.8 0.8l4.8 0.6l5.7 1.3l1.9 0.2l1 0l1.9 0.3l2.8 0.7l1.9 0.4l3.9 0.5l1.9 0.1l1 0.2l1.8 0.5l4.8 0.9l3.8 0.3l1.9 0.2l1.9 0.5l3.8 0.8l1 0.1M433 1292.5l-4.2 0M397.1 1292.5l-123.5 0l-0.4 3.8l-0.4 1.9l-1.1 2.9l-0.4 1l-1.2 1.9l-1.7 1.9l-1.4 1.3l-1 0.7l-1.9 1.2l-1.9 0.9l-1.9 0.7l-1.9 0.6l-2 0.4M99 1292.5l97.3 0l0.3-1l0.1-2.8l0.3-3.8l0.7-4.8l1.5-6.2l0.4-1.5l2.1-5.7l2.3-4.8l1.6-2.9l3.1-4.8l1.3-1.9l2.6-3.1l3-3.5l4.6-4.6l3.8-3.4l3.2-2.6l3.5-2.6l1.7-1.2l1.2-0.8l3.1-2.1l2.6-1.6l2.8-1.7l2.9-1.6l3.8-2.1l7.7-3.8l8.5-3.8l2-0.8l5.7-2.3l1.2-0.4l1.6-0.7l1.1-0.3l1.8-0.7l1-0.2l0.9-0.5l4.8-1.6l2.8-1l2.5-0.8l0.4-0.1l1-0.2l2.8-1l2-0.6l0.9-0.3l2.3-0.6l1.5-0.5l2.9-0.8l0.9-0.3l2.9-0.8l2.9-0.8l0.9-0.2l2.9-0.8l2.8-0.7l1-0.3l1.9-0.4l0.9-0.2l2-0.6l1.9-0.4l0.9-0.1l1.9-0.6l4.8-1.1l1.9-0.5l1.9-0.4l1.1-0.1l1.8-0.6l2.8-0.6l1-0.1l1.9-0.5l2.9-0.6l2.8-0.5l1.9-0.5l2.9-0.5l1-0.1l5.7-1.3l1.9-0.2l1-0.2l1.9-0.5l2-0.5l4.6-0.7l2.9-0.7l3.8-0.5l1-0.1l1.9-0.5l3.8-0.8l4.8-0.6l5.7-1.3l1.9-0.2l1 0l1.9-0.3l2.8-0.7l1.9-0.4l3.9-0.5l1.9-0.1l1-0.2l1.8-0.5l4.8-0.9l3.8-0.3l1.9-0.2l1.9-0.5l3.8-0.8l1-0.1M266 1292.5l6.7 0l0.9-1l-0.2-1.9l-0.3-1.9l-0.6-1.9l-0.8-1.9l-1.6-2.9l-1.7-1.9l-1.4-1.3l-1-0.7l-1.9-1.2l-1.9-0.9l-1.9-0.7l-1.9-0.6l-2-0.4M433 1305l-23.9-1.2l-24.8-0.9l-33.4-1l-18.1-0.4l-13.4-0.1l-10.5 0.1l-7.6 0.2l-5.7 0.3l-3.8 0.3l-2.9 0.4l-2.9 0.6l-2.7 0.7l-1.1 0.3l-1.9 0.7l-2.1 0.9l-2.7 1.2l-3.8 1.9l-2.8 1.2l-1.9 0.7l-2.9 0.9l-2.9 0.6l-2.8 0.4l-2.9 0.2l-1.2-0.2M218.3 1293l-2.1 0.5l-0.8 0.2l-1.3 0.7l-1.1 1l-0.7 0.9l-0.5 1l-0.5 1.9l-0.3 1.9l0 1.9l0.2 1.9l0.6 2.9l0.6 1.9l1.6 3.8l2.1 3.9l2.1 2.8l2 2.5l1.2 1.3l2.6 2.5l1.9 1.7l2.9 2.2l3.3 2.3l1.6 0.9l1.8 1l2.8 1.6l5.8 2.6l4.7 1.9l4.8 1.6l3.8 1.2l3.8 1l7.7 1.9l4.7 1l6.7 1.3l6.7 1l7.6 1.1l9.6 1l4.7 0.5l5.8 0.5l16.2 0.9l12.4 0.4l23.9 0.2l8.5-0.1l8.6-0.2l9.6-0.2l13.3-0.5l25.8-1.2M265.4 1288l0.3-0.3l0.3-0.4l0.2-0.5l0.2-1l0.1-0.9l-0.1-1l-0.4-1.5l-0.1-0.4l-0.5-1l-0.6-0.9l-0.8-1l-0.9-0.9l-1.2-1l-1.6-1l-1.5-0.5M218.3 1293.6l-1 0.3l-1 0.5l-1.3 1l-0.7 0.9l-0.5 1l-0.7 1.9l-0.1 0.9l-0.1 2l0.1 1.9l0.3 1.9l0.8 2.9l1.1 2.8l1.5 2.9l1.9 2.9l1.6 2.1l1.9 2.1l1.9 1.9l1.9 1.7l2.9 2.2l3.8 2.5l2.9 1.6l4.7 2.3l2.9 1.1l3.8 1.4l6.7 2l6.7 1.6l5.7 1.1l5.7 0.9l5.8 0.8l5.7 0.5l6.7 0.6l6.9 0.3l6.4 0.2l6.7 0.1l6.7-0.1l8.6-0.3l7.6-0.3l10.5-0.8l14.3-1.5l2.9-0.3l4.7-0.7l2-0.2l3.8-0.6l2.8-0.5l3.9-0.7l2.8-0.5l4.8-0.9l2.5-0.5l2.3-0.7l5.7-1.4l2.8-1l2.9-0.8l4.8-2.5l0.7-0.3l0.2-0.3l0.4-0.7l1.1-2.8l-0.5-0.5l-0.4-0.5l-1.5-1l-1.9-1l-2-0.9l-2.8-1l-2.9-0.9l-3.3-0.9l-2.4-0.6l-1.9-0.4l-2.9-0.5l-2-0.4l-3.7-0.6l-2.2-0.4l-3.5-0.5l-3.8-0.5l-13.4-1.6l-10.5-1l-9.5-0.8l-12.4-0.7l-9.6-0.4l-6.7-0.2l-6.6 0l-5.8 0.1l-4.7 0.2M260.1 1314.4l-2.7-0.1l-2.9-0.2l-0.9-0.1l-1-0.4M218.3 1294.2l-1 0.5l-0.9 0.7l-1 1.1l-0.4 0.8l-0.5 1.5l-0.1 0.4l-0.2 0.9l-0.1 2l0.1 1.9l0.3 1.9l0.5 1.9l1.1 2.9l1.5 2.8l1.6 2.6l1 1.3l1.6 1.9l1.8 1.9l1.4 1.3l1.9 1.6l1.9 1.4l2.8 1.9l3.9 2.1l3.8 1.7l3.8 1.5l2.9 0.9l2.8 0.8l4.8 1.2l3.8 0.7l4.8 0.8l4.8 0.5l4.7 0.4l4.8 0.2l4.8 0.1l4.7 0l5.8-0.3l4.7-0.3l5.8-0.7l5.7-1l4.8-1.1l2.8-0.8l2.9-1.1l1.9-1l0.6-0.3l0.3-0.3l1-0.7l0.6-0.9l0.3-1l-0.2-0.9l-0.7-1l-1.1-0.9l-1.8-1.1l-2-0.9l-3.7-1.2l-3.8-1l-3.8-0.8l-5.7-1l-6.7-0.9l-5.8-0.6l-6.6-0.6l-20.1-1.6l-3.8-0.5l-2.9-0.5l-1.9-0.4l-1.2-0.4M218.3 1294.8l-1 0.7l-0.9 1l-0.5 0.8l-0.5 1.3l-0.2 0.6l-0.1 0.9l-0.2 2l0.2 1.9l0.4 1.9l0.5 1.9l1.1 2.9l1.2 2.2l1 1.6l1.3 1.9l1.7 1.9l1.8 1.9l2.1 1.9l1.6 1.3l2.9 1.9l2.9 1.7l1.9 0.9l1.9 0.9l2.4 1l0.8 0.3M272 1334l2.6-0.3l1.9-0.3l1.9-0.3l1.9-0.5l2.9-1.1l1.3-0.8l0.9-0.9l0.2-1l-0.2-0.9l-0.7-1l-1.1-0.9l-1.6-1l-2.6-1.2l-2.9-1.1l-3.8-1.2l-3.8-1.1l-3.9-1l-4.2-1.1l-4.3-1.1l-2.9-0.9l-1.9-0.6l-1-0.5l-0.4-0.2M218.3 1295.4l-1 0.9l-0.6 1l-0.4 0.9l-0.3 1l-0.2 0.9l-0.1 2l0.1 1.9l0.4 1.9l0.9 2.9l1.2 2.5l0.7 1.3l1.2 1.9l1.5 1.9l1.7 1.9l1.6 1.6l1.9 1.6l2.8 2.1l2.7 1.6M263.3 1330.8l0.8-0.2l1.9-0.6l1-0.3l1.3-0.9l0.7-0.9l0.1-1l-0.5-0.9l-0.7-1l-1.2-1l-1.7-1l-2.8-1.6l-1-0.4l-4.7-2.1l-4.8-2l-1.9-1l-0.7-0.5M218.3 1296l-0.3 0.3l-0.7 1l-0.4 0.9l-0.3 1l-0.3 1.9l0 1.9l0.3 1.9l0.5 1.9l0.6 2l0.9 1.9l1.1 1.9l0.5 0.7M246.9 1328.7l1.9 0.2l2.9 0.1l2.3-0.2l1.5-0.2l1.9-0.5l1-0.4l1-0.8l0.6-0.9l-0.1-1l-0.6-1.1l-0.9-1l-1-0.9l-1.9-1.4l-1-0.6l-5.7-3.6l-1-1"/>
<path fill="none" stroke="#000" stroke-width="1.4" stroke-dasharray="5.1 2.2" d="M218.3 1289l-0.3-0.3l-0.7-1l-0.4-0.9l-0.3-1l-0.3-1.9l0-1.9l0.3-1.9l0.5-1.9l0.6-2l0.9-1.9l1.2-2M253 1256.1l1.5 0.1l2 0.4l1.5 0.5l0.4 0.2l1 0.8l0.6 0.9l-0.1 1l-0.6 1.1l-0.9 1l-1 0.9l-1.9 1.4l-1 0.6l-5.7 3.6l-1 1M218.3 1289.6l-1-0.9l-0.6-1l-0.4-0.9l-0.3-1l-0.2-0.9l-0.1-2l0.1-1.9l0.4-1.9l0.9-2.9l1.2-2.5l0.7-1.3l1.2-1.9l1.5-1.9l1.7-1.9l1.6-1.6l1.9-1.6l2.8-2.1l2.9-1.7l2.9-1.4l3.8-1.5l2.8-1l2.9-0.7l2.9-0.6l2.8-0.4l2.9-0.3l2.9-0.1l2.8 0.1l2.9 0.3l1.9 0.3l1.9 0.6l1 0.3l1.3 0.9l0.7 0.9l0.1 1l-0.5 0.9l-0.7 1l-1.2 1l-1.7 1l-2.8 1.6l-1 0.4l-4.7 2.1l-4.8 2l-1.9 1l-0.7 0.5M218.3 1290.2l-1-0.7l-0.9-1l-0.5-0.8l-0.5-1.3l-0.2-0.6l-0.1-0.9l-0.2-2l0.2-1.9l0.4-1.9l0.5-1.9l1.1-2.9l1.2-2.2l1-1.6l1.3-1.9l1.7-1.9l1.8-1.9l2.1-1.9l1.6-1.3l2.9-1.9l2.9-1.7l1.9-0.9l1.9-0.9l2.4-1l1.4-0.5l3.8-1.2l3.8-0.9l3.8-0.8l3.9-0.5l3.8-0.3l3.8-0.2l2 0M270.8 1264.1l-6.7 1.8l-7.6 1.9l-2.9 0.9l-1.9 0.6l-1 0.5l-0.4 0.2M218.3 1290.8l-1-0.5l-0.9-0.7l-1-1.1l-0.4-0.8l-0.5-1.5l-0.1-0.4l-0.2-0.9l-0.1-2l0.1-1.9l0.3-1.9l0.5-1.9l1.1-2.9l1.5-2.8l1.6-2.6l1-1.3l1.6-1.9l1.8-1.9l1.4-1.3l1.9-1.6l1.9-1.4l2.8-1.9l3.9-2.1l3.8-1.7l3.8-1.5l2.9-0.9l2.8-0.8l4.8-1.2l3.8-0.7l4.8-0.8l4.8-0.5l4.7-0.4l4.8-0.2l4.8-0.1l4.7 0l5.8 0.3l4.7 0.3l5.8 0.7l5.7 1l4.8 1.1l2.8 0.8l2.9 1.1l1.9 1l0.6 0.3l0.3 0.3l1 0.7l0.6 0.9l0.3 1l-0.2 0.9l-0.7 1l-1.1 0.9l-1.8 1.1l-2 0.9l-3.7 1.2l-3.8 1l-3.8 0.8l-5.7 1l-6.6 0.9M255.3 1269.5l-2.7 0.6l-1.2 0.4M218.3 1291.4l-1-0.3l-1-0.5l-1.3-1l-0.7-0.9l-0.5-1l-0.7-1.9l-0.1-0.9l-0.1-2l0.1-1.9l0.3-1.9l0.8-2.9l1.1-2.8l1.5-2.9l1.9-2.9l1.6-2.1l1.9-2.1l1.9-1.9l1.9-1.7l2.9-2.2l3.8-2.5l2.9-1.6l4.7-2.3l2.9-1.1l3.8-1.4l6.7-2l6.7-1.6l5.7-1.1l5.7-0.9l5.8-0.8l5.7-0.5l6.7-0.6l6.9-0.3l6.4-0.2l6.7-0.1l6.7 0.1l8.6 0.3l7.6 0.3l10.5 0.8l14.3 1.5l2.9 0.3l4.7 0.7l2 0.2l3.8 0.6l2.8 0.5l3.9 0.7l2.8 0.5l4.8 0.9l2.5 0.5l2.3 0.7l5.7 1.4l2.8 1l2.9 0.8l4.8 2.5l0.7 0.3l0.2 0.3l0.4 0.7l1.1 2.8l-0.5 0.5l-0.4 0.5l-1.5 1l-1.9 1l-2 0.9l-2.8 1l-2.9 0.9l-3.3 0.9l-2.4 0.6l-1.9 0.4l-2.9 0.5l-2 0.4l-3.7 0.6l-2.2 0.4l-3.5 0.5l-3.8 0.5l-13.4 1.6l-5.9 0.6M313.1 1274.2l-7 0.1l-6.7 0l-5.7-0.2l-4.8-0.3l-4.8-0.5l-5.7-0.8l-6.7-0.9l-3.8-0.5l-3.8-0.3l-3.8-0.2l-2.9 0.1l-2.9 0.2l-0.9 0.1l-1 0.4M265.4 1297l0.3 0.3l0.3 0.4l0.2 0.5l0.2 1l0.1 0.9l-0.1 1l-0.4 1.5l-0.1 0.4l-0.5 1l-0.6 0.9l-0.8 1l-0.9 0.9l-1.2 1l-1.6 1l-1.5 0.5M218.3 1292l-2.1-0.5l-0.8-0.2l-1.3-0.7l-1.1-1l-0.7-0.9l-0.5-1l-0.5-1.9l-0.3-1.9l0-1.9l0.2-1.9l0.6-2.9l0.6-1.9l1.6-3.8l2.1-3.9l2.1-2.8l2-2.5l1.2-1.3l2.6-2.5l1.9-1.7l2.9-2.2l3.3-2.3l1.6-0.9l1.8-1l2.8-1.6l5.8-2.6l4.7-1.9l4.8-1.6l3.8-1.2l3.8-1l7.7-1.9l4.7-1l6.7-1.3l6.7-1l7.6-1.1l9.6-1l4.7-0.5l5.8-0.5l16.2-0.9l12.4-0.4l23.9-0.2l8.5 0.1l8.6 0.2l9.6 0.2l13.3 0.5l25.8 1.2M433 1280l-23.9 1.2l-12.1 0.5M358.4 1282.9l-20.8 0.5l-15.3 0.2l-10.5 0l-8.6-0.2l-5.7-0.3l-4.8-0.3l-3.8-0.5l-2.9-0.6l-2.7-0.7l-1.1-0.3l-1.9-0.7l-2.1-0.9l-2.7-1.2l-3.8-1.9l-2.8-1.2l-1.9-0.7l-2.9-0.9l-2.9-0.6l-2.8-0.4l-2.9-0.2l-1.2 0.2"/>
<ellipse cx="242.1" cy="1292.5" rx="25.2" ry="25.2" fill="#fff"/>
<text transform="translate(234.2 1260.0) rotate(-25.9)" text-anchor="middle" y="4.9" font-size="20.8px">-3.0</text>
<text transform="translate(284.8 1254.6) rotate(-290.2)" text-anchor="middle" y="4.9" font-size="20.8px">-2.0</text>
<text transform="translate(274.5 1267.6) rotate(-4.9)" text-anchor="middle" y="4.9" font-size="20.8px">-1.5</text>
<text transform="translate(332.4 1273.3) rotate(-3.6)" text-anchor="middle" y="4.9" font-size="20.8px">-1.0</text>
<text transform="translate(377.7 1282.4) rotate(-1.9)" text-anchor="middle" y="4.9" font-size="20.8px">-0.5</text>
<text transform="translate(413.0 1292.5) rotate(-0.0)" text-anchor="middle" y="4.9" font-size="20.8px">0.0</text>
<text transform="translate(276.0 1312.8) rotate(-6.7)" text-anchor="middle" y="4.9" font-size="20.8px">1.0</text>
<text transform="translate(256.1 1333.6) rotate(-353.0)" text-anchor="middle" y="4.9" font-size="20.8px">2.0</text>
<text transform="translate(247.4 1330.4) rotate(-349.7)" text-anchor="middle" y="4.9" font-size="20.8px">2.5</text>
<text transform="translate(231.8 1323.8) rotate(-330.3)" text-anchor="middle" y="4.9" font-size="20.8px">3.0</text>
</g>
<rect x="99" y="1173" width="334" height="239" fill="none" stroke="#000" stroke-width="2"/>
<text transform="translate(50.9 1399.4) scale(1.215 1.5)">−</text><text x="66.0" y="1394.1">2</text>
<text transform="translate(50.9 1351.6) scale(1.215 1.5)">−</text><text x="66.0" y="1346.3">1</text>
<text x="77.0" y="1298.5" text-anchor="end">0</text>
<text x="77.0" y="1250.7" text-anchor="end">1</text>
<text x="77.0" y="1202.9" text-anchor="end">2</text>
<text transform="translate(33 1294.8) rotate(-90)" text-anchor="middle">y</text>
<text transform="translate(133.7 1453.8) scale(1.215 1.5)">−</text><text x="148.7" y="1448.4">2</text>
<text x="242.1" y="1448.4" text-anchor="middle">0</text>
<text x="337.6" y="1448.4" text-anchor="middle">2</text>
<text x="433.0" y="1448.4" text-anchor="middle">4</text>
<text x="266.0" y="1478.7" text-anchor="middle">x</text>
<path stroke="#000" stroke-width="2" fill="none" d="M98.0 1388.1h-11M98.0 1340.3h-11M98.0 1292.5h-11M98.0 1244.7h-11M98.0 1196.9h-11M146.7 1413.0v11M242.1 1413.0v11M337.6 1413.0v11M433.0 1413.0v11"/>
<text x="266.0" y="1157.6" text-anchor="middle">PetIBM</text>
<g clip-path="url(#c31)">
<rect x="460" y="1173" width="335" height="239" fill="#00224e"/>
<path fill="#002a5f" fill-rule="evenodd" d="M460 1412l335 0l0-239l-335 0l0 239zM596.9 1291.6l-3.9-0.6l-12.4-1.7l-1-0.3l-0.3-0.3l-0.6-1l-0.5-0.9l-0.3-1l-0.2-1.9l0-1.9l0.2-1.9l0.5-1.9l0.7-2l0.9-1.9l1.1-1.9l1.4-2.1l1.4-1.7l1.5-1.6l1.9-1.8l1.9-1.5l1.9-1.3l2.9-1.7l1.9-0.9l1.9-0.8l2.5-0.9l1.4-0.5l2.8-0.7l2.9-0.5l2.9-0.3l2.8-0.1l2 0.1l1.9 0.2l1.9 0.5l0.9 0.3l1.4 1l0.4 0.9l0 1l-0.5 1l-1.3 1.3l-0.9 0.8l-1 0.7l-4.6 2.9l-1.1 0.7l-1.9 1.2l-1 1l-2.4 9.5l-2.6 10.5l-0.3 1.9l-0.4 0.5l-1 0.3l-2.9-0.4l-2.8-0.3z"/>
<path fill="#1a386f" fill-rule="evenodd" d="M460 1412l335 0l0-239l-335 0l0 239zM595.9 1291.6l-11.5-1.3l-3.8-0.4l-1-0.3l-0.9-0.9l-0.7-1l-0.4-0.9l-0.3-1l-0.2-0.9l-0.1-2l0.1-1.9l0.4-1.9l0.9-2.9l1.2-2.6l0.7-1.2l1.3-1.9l1.4-1.9l1.7-1.9l2-1.9l1.6-1.3l2.8-2.1l2.9-1.7l2.9-1.4l3.8-1.6l2.9-0.9l2.8-0.7l2.9-0.6l2.9-0.4l2.9-0.3l2.8-0.1l2.9 0l2.9 0.3l1.9 0.3l1.9 0.5l1.1 0.4l1.6 1l0.6 0.9l0.1 1l-0.5 1l-1 1.1l-0.9 0.8l-2 1.2l-1.9 1l-3.4 1.6l-4.2 1.7l-5.8 2.6l-0.6 0.5l-0.4 0.9l-2.6 8.6l-1.2 3.8l-1.3 4.8l-0.9 2.9l-0.1 0.9l-0.5 0.6l-1 0.2l-2.9-0.3l-3.8-0.4z"/>
<path fill="#38476c" fill-rule="evenodd" d="M460 1412l335 0l0-239l-335 0l0 239zM594 1291.6l-13.4-1.2l-1-0.1l-0.9-0.7l-1-1.1l-0.5-0.8l-0.4-1.2l-0.2-0.7l-0.2-0.9l-0.1-2l0.1-1.9l0.4-1.9l0.5-1.9l1.1-2.9l1.6-2.8l1.6-2.3l1.1-1.6l1.8-1.9l2-1.9l1.8-1.5l2.8-2.1l2.9-1.7l3.8-1.9l3.9-1.6l2.8-1l2.9-0.8l2.9-0.7l3.8-0.7l3.8-0.5l3.9-0.4l3.8-0.2l3.8 0l3.8 0.2l3.9 0.4l1.9 0.2l3.5 0.8l2.6 1l1.6 1l0.9 1.1l0.2 0.8l-0.2 0.9l-1 1.2l-0.9 0.8l-1.9 1.1l-2.9 1.2l-2.9 1.1l-3.8 1.2l-2.9 0.8l-4.9 1.2l-7.6 1.9l-2.8 0.8l-3.3 1.2l-0.5 0.2l-0.8 0.7l-1.3 3.8l-5.8 16.3l-0.1 0.9l-0.6 0.7l-1 0.1l-3.8-0.3l-4.8-0.4z"/>
<path fill="#4d556c" fill-rule="evenodd" d="M460 1412l335 0l0-239l-335 0l0 239zM590.2 1291.6l-10.6-0.8l-0.9-0.4l-1-0.8l-0.9-1.1l-0.5-0.8l-0.5-1.4l-0.1-0.5l-0.2-0.9l-0.1-2l0.1-1.9l0.4-1.9l0.5-1.9l1-2.9l1.5-2.8l1.2-1.9l1.5-2l1.5-1.9l1.8-1.9l1.4-1.3l2-1.6l2.5-1.9l1.5-0.9l1.7-1.1l1.9-1l2.9-1.4l3.8-1.6l3.8-1.4l4.8-1.4l3.3-0.7l2.5-0.5l3.8-0.7l4.8-0.7l5.7-0.6l4.8-0.3l4.8-0.1l5.7 0l4.8 0.1l4.8 0.3l5.8 0.5l4.7 0.7l4.8 0.8l3.9 0.9l4.8 1.5l2.8 1.2l2.4 1.7l0.7 0.9l0.3 1l-0.3 0.9l-0.5 1l-1 0.9l-2.5 1.4l-2 0.8l-3.8 1.2l-1.9 0.5l-5.7 1.3l-5.8 0.9l-5.7 0.8l-7.2 0.8l-8.1 0.6l-16.3 1.2l-4.8 0.5l-3.8 0.5l-2.9 0.6l-1.1 0.4l-0.9 1.9l-4.5 10.5l-0.4 1l-1.6 3.8l-0.1 0.3l-0.6 1.6l-0.4 0.6l-0.3 1.3l-0.6 0.8l-1 0.1l-3.8-0.2l-8.6-0.6z"/>
<path fill="#61656f" fill-rule="evenodd" d="M460 1412l335 0l0-239l-335 0l0 239zM582.5 1291.5l-2.9-0.1l-0.9-0.3l-1.1-0.5l-1.3-1l-0.7-0.9l-0.5-1l-0.6-1.9l-0.3-1.9l0-1.9l0.2-1.9l0.7-2.9l0.7-2l0.7-1.8l1.5-2.9l1.9-2.9l1.7-2.1l1.9-2.2l1.9-1.9l1.9-1.6l3.5-2.7l1.4-0.9l1.8-1.1l2.9-1.6l4.8-2.3l2.8-1.2l4.1-1.5l3-0.9l2.5-0.7l5.7-1.5l3.9-0.8l4.8-0.9l4.7-0.7l5.8-0.8l5.7-0.6l6.7-0.5l7.7-0.4l6.7-0.2l6.7-0.1l6.7 0.1l6.7 0.2l9.6 0.4l11.4 0.9l9 0.8l15.9 2l5.8 0.9l3.8 0.6l1.9 0.3l2.9 0.7l5.7 1.1l3.9 0.9l1.9 0.4l2.3 0.7l2.5 0.8l2.8 0.8l1 0.4l1.9 1l2.9 1.2l0.9 0.7l1.2 1.8l0.8 1l-0.1 0.9l-1.9 1.5l-0.9 0.7l-1.9 1.1l-2 0.8l-1.9 0.8l-2.8 0.9l-2 0.5l-2.8 0.7l-3.3 0.7l-5.3 1l-6.7 1.1l-6.7 0.9l-4.8 0.6l-4.8 0.6l-6.7 0.7l-12.5 1.1l-9.5 0.7l-13.4 0.7l-10.6 0.4l-7.6 0.1l-5.8-0.1l-5.7-0.3l-4.8-0.3l-4.8-0.6l-5.7-0.8l-7.7-1.1l-3.8-0.4l-3.8-0.3l-3.9 0l-2.8 0.1l-1.9 0.2l-1 0.5l-2.4 4.7l-2.4 4.8l-1.4 2.9l-1.5 2.9l-0.4 0.9l-0.5 1l-0.4 0.9l-0.6 1l-0.2 0.9l-0.7 0.8l-1 0.1l-5.7-0.2l-14.4-0.7z"/>
<path fill="#737475" fill-rule="evenodd" d="M460 1412l335 0l0-131.6l-24.9 1.1l-24.9 0.9l-27.7 0.9l-20.1 0.4l-14.4 0.1l-10.5 0l-7.7-0.2l-5.7-0.2l-4.8-0.4l-3.8-0.5l-2.9-0.5l-1.9-0.5l-1.9-0.5l-2.4-0.9l-1.5-0.7l-8.6-4.1l-2.8-1.1l-2.9-0.9l-2.9-0.7l-2.9-0.4l-2.8-0.2l-1 0.2l-0.3 0.2l-2.6 4.2l-1.5 2.5l-1.3 2.3l-1.5 2.5l-0.6 1l-3.7 6l-0.1 0.6l-0.8 0.9l-1.9 0l-22.1-0.4l-2.1-0.5l-0.7-0.2l-1.4-0.7l-1.1-1l-0.7-0.9l-0.7-1.5l-0.1-0.4l-0.3-1l-0.2-1.9l0-1.9l0.2-1.9l0.4-2.1l0.5-1.8l1-2.8l1.4-3l1-1.7l0.6-1.1l2-2.8l2.2-2.6l1.1-1.2l2.7-2.6l2.6-2.2l1.2-1l2.9-2l1.9-1.3l4.8-2.7l3.4-1.6l2.1-1l1.2-0.5l5.7-2.2l9.6-3.1l2.9-0.7l7.6-1.9l6.7-1.4l8.6-1.5l8.7-1.2l7.6-0.9l2.9-0.3l6.8-0.6l4.7-0.4l7.6-0.5l7.7-0.4l8.6-0.3l10.5-0.3l20.1 0l18.2 0.2l20.1 0.6l13.4 0.6l11.5 0.5l0-59.3l-335 0l0 239zM619.8 1308.8l-1.9-2l-13.4-13.4l1-0.4l1.9 0.3l1.9 0.3l3.8 0.7l2 0.4l11.4 2.2l0.5 0.4l0.6 0.9l0.2 1l0.1 0.9l-0.1 1l-0.3 1.2l-0.2 0.7l-0.8 1.4l-0.3 0.5l-0.8 1l-0.9 0.9l-1.8 1.4l-0.9 0.6l-1 0.3l-1-0.3z"/>
<path fill="#868379" fill-rule="evenodd" d="M791.6 1407.2l2.4 0.7l1 0l0-115.3l-155.1 0l-2.8 0.1l-1 0l-0.9 0.2l-0.6 0.6l-0.2 0.9l0 1.9l-0.4 1.9l-0.5 1.9l-1.2 2.5l-0.3 0.4l-0.7 1.1l-0.9 1.1l-1 1l-0.9 0.9l-1 0.7l-1.9 1.2l-1.9 1l-1.9 0.7l-2 0.6l-2 0.3l-11.4-15.3l-0.6-0.9l-0.3-0.3l-0.3-0.7l-0.7-0.6l0-0.3l-0.9-1l-32.6 0.1l-4.8 0.2l-3.8 0.1l-5.7 0.1l-4.8 0l-1 0.1l-1.4 0.4l-0.5 0.1l-0.9 0.2l-2 0.1l-6.7 0.1l-0.9 0l-1.4 0.4l-2.5 1l-1 0.9l-2.8 4.3l-0.9 2l-0.2 0.4l-0.2 1l0.5 0.9l0.8 0.4l1 0.1l3.8 0l7.7 0l0.9 0.1l1 0.4l0.4 0.9l0 1l-0.7 2.9l0.3 1.4l0.1 0.5l0.3 0.9l0.1 1.9l0 2l0.2 0.9l0.2 0.5l0.5 0.5l0.5 0.2l1 0.2l1.9 0l0.9-0.1l1-0.3l1-1l0.3-0.9l0.2-2l0.4-1.2l0.3-0.7l0.7-1.1l0.9-0.9l1-0.5l1-0.3l0.9 0.4l0.2 0.5l0.5 2.9l0.4 0.9l0.2 1l0.2 1.9l0.4 1.4l1 2l3 6.2l1 1.9l0.7 1.2l1 1.1l1 0.8l1.1 0.7l1.1 1l4 3.8l2.6 1.9l4 3.8l2.7 1.9l3.1 2.9l3.4 2.5l0.9 0.8l1.9 1.2l3.1 2.2l1.2 1l1.5 0.9l3.8 2.7l1.5 1.1l0.4 0.4l5.8 3.1l0.9 0.7l3.9 2l3.8 1.8l7.7 2.5l0.9 0.4l3.8 1l3.9 1.2l1.6 0.3l3.1 1l1 0.4l3.8 1l1.9 0.6l2 0.6l2.8 0.9l1.5 0.3l3.3 1.1l1 0.3l3.8 1l3.8 1.1l1.5 0.3l3 1l2.2 0.7l2.9 0.9l1.5 0.3l3 0.9l1.2 0.5l2.9 0.6l2.9 0.9l0.9 0.4l1 0.2l1.9 0.2l1 0.2l0.9 0.3l1 0.2l3.4 0.4l2.3 0.6l3.4 0.3l2.4 0.7l3.3 0.3l2.4 0.6l2.3 0.3l2.5 0.7l3.3 0.3l2.4 0.6l3.3 0.3l2.5 0.7l3.2 0.3l2.5 0.7l3.2 0.3l2.6 0.6l3.2 0.3l2.5 0.7l3.2 0.3l2.6 0.6l3.1 0.3l2.6 0.7l2.3 0.3l2.5 0.6l3.2 0.3l2.5 0.7l3.3 0.3l2.5 0.7l3.2 0.3l2.5 0.6l3.3 0.3l2.5 0.7l3.2 0.3l2.5 0.6l3.3 0.3zM550.9 1303.3l-0.9-0.5l-0.6-0.7l-0.5-1l-0.2-1l0-0.9l0.3-1l1-1l0.9-0.5l1 0l0.9 0.3l1 0.8l0.4 0.4l0.6 1l0.2 0.9l-0.2 1.2l-0.4 0.8l-0.6 0.7l-0.3 0.2l-0.7 0.3l-0.9 0.1l-1-0.1zM518.7 1318.3l0.6 0.3l1 0.2l2.9 0l0.9-0.1l1-0.4l1.1-0.9l1.8-2.9l0.1-1l-0.4-0.9l-0.7-0.6l-1-0.6l-1.9-0.9l-0.9-0.2l-1 0l-1.3 0.4l-0.6 0.2l-1.2 0.7l-1.2 1l-0.8 0.9l-0.2 1l0.1 0.9l0.4 1.3l0.4 0.7l0.6 0.7l0.3 0.2zM491.2 1303l0.4 0.2l0.9 0.2l2 0.1l6.7 0l0.9-0.1l1.1-0.4l1.8-1.1l1.2-0.8l1-1l0.6-0.9l0.1-1l-0.3-0.9l-0.9-1.9l-0.2-1l0.5-0.9l0.9-0.4l2.8-0.4l1-0.4l0.9-0.2l2-0.1l3.8 0l0.9-0.1l1.5-0.4l0.5-0.1l0.9-0.2l1.9-0.1l1.9-0.1l1-0.1l1.1-0.3l0.8-0.6l1.4-1.3l2.8-2.9l0.6-0.9l-0.4-1l-0.6-0.3l-0.9-0.1l-2.9-0.1l-4.8 0l-0.9 0.1l-1.5 0.4l-0.4 0.2l-1 0.2l-1.9 0.1l-16.3 0.1l-1.4 0.4l-0.5 0.1l-1 0.2l-1.9 0.1l-28.7 0.1l-1.4 0.4l-0.5 0.2l-1 0.2l-1.9 0.1l-3.8 0l0 6.7l8.6 0l1-0.1l1.4-0.4l0.5-0.2l0.9-0.2l1-0.1l1 0l0.9 0.1l1.1 0.4l0.8 0.6l0.4 0.4l0.8 0.9l0.7 1.2l1 0.9l3.8 2.2l2.9 1.9l1 0.7l1.9 1l1.5 0.7zM604.5 1291.5l0 1l19.2 0l7.6-0.1l1-0.1l0.9-0.2l0.7-0.6l0.4-0.9l0.1-1l-0.1-0.9l-0.3-1.9l-0.5-1.9l-1.2-2.5l-0.3-0.4l-0.7-1.1l-0.9-1.1l-1-1l-0.9-0.9l-1-0.7l-1.9-1.2l-1.9-1l-1.9-0.7l-2-0.6l-2-0.3l-11.4 15.3l-0.6 0.9l-0.3 0.3l-0.3 0.7l-0.7 0.6l0 0.3zM550.5 1286.8l0.4 0.3l1 0.6l0.9-0.4l0.2-0.5l-0.2-1.2l-0.4-1.7l-0.4-1.9l-0.3-1l-0.2-0.9l-0.1-1l0.1-0.9l0.4-1.1l0.9-1.3l1.2-1.5l0.8-1.2l1.9-2.6l0.3-0.9l0.1-1l-0.1-1l-0.3-1.4l-0.2-0.5l-0.2-0.9l-0.1-1.9l-0.1-3.9l0.2-0.9l0.8-1l2.4-2.4l2-1.8l0.9-0.7l1.2-0.8l1.2-1l2.4-2.3l1-0.7l1.1-0.8l1.2-0.9l4.1-3.9l3.1-2.3l1-0.8l1.1-0.7l1.2-0.9l1.5-1.5l1-0.7l1.1-0.7l3.8-2.9l2.7-1.8l4.8-3.2l1.9-1.3l1-0.6l3-1.7l1.8-1.2l1.9-0.9l3.8-1.2l1.9-0.1l2.9-0.1l1-0.1l0.9-0.3l1-0.3l0.9-0.2l2.3-0.4l0.6-0.2l1.9-0.8l1.9-0.9l1-0.4l1.9-0.7l2.9-1.3l1.9-0.6l1.9-0.9l1.9-0.9l1-0.4l1.9-0.7l3.8-1.5l1-0.3l2.8-1.4l2-0.8l1.9-0.7l2.8-1.2l2-0.7l2.8-1.3l1.9-0.9l2-0.6l5.7-2.5l1-0.3l2.8-1.3l2-0.7l2.8-1.3l1.9-0.8l2.1-0.7l2.7-1.2l2.1-0.7l2.7-1.2l1-0.2l1.9-0.1l1.9-0.2l1.2-0.2l0.7-0.3l1-0.2l1.9-0.1l1.9 0l0.9-0.1l1.2-0.3l0.8-0.3l0.9-0.2l1.9-0.1l1.9 0l1-0.1l1.1-0.3l0.8-0.2l1-0.3l1.9-0.1l2.9 0l0.9-0.1l1-0.2l0.9-0.3l1-0.2l1.9-0.1l1.9-0.1l1-0.1l0.9-0.2l1-0.3l0.9-0.2l2-0.1l1.9 0l0.9-0.1l1-0.3l0.9-0.3l1-0.2l1.9-0.1l1.9 0l1-0.1l0.9-0.2l1-0.3l1-0.2l1.9-0.1l2.8-0.1l1-0.1l1-0.2l0.9-0.3l1-0.2l1.9-0.1l1.9-0.1l1 0l0.9-0.3l1-0.3l0.9-0.2l1.9-0.1l2 0l0.9-0.1l1-0.2l0.9-0.4l1-0.2l1.9-0.1l1.9 0l1-0.1l0.9-0.2l1-0.3l0.9-0.2l2-0.1l2.8-0.1l1.5-0.2l2.4-0.6l1.9-0.1l1.9 0l1.4-0.2l2.4-0.7l1.9-0.1l2.9 0l0-4l-335 0l0 106.6l15.3 0l1-0.1l1.4-0.4l0.5-0.1l0.9-0.3l2-0.1l3.8 0l0.9-0.1l1.5-0.3l0.5-0.2l0.9-0.2l1.9-0.1l3.9 0l0.9-0.1l1.5-0.4l0.4-0.2l1-0.2l1.9-0.1l18.2 0l0.9 0.1l1.5 0.4l0.5 0.2l0.9 0.2l1.9 0.1l6.7 0l1 0.1l1.4 0.4l1.5 0.4l3.8 1.3l3.8 1.6l1.3 0.5l1.6 0.8l0.9 0.7l1.7 1.4l1.2 0.7l1 0.7l0.5 0.5zM544.2 1272.5l-1.9-0.5l-1.9-0.1l-1.9-0.1l-1.5-0.3l-0.4-0.2l-1-0.2l-1.9-0.1l-1.9-0.1l-1.5-0.4l-0.4-0.1l-1-0.3l-2.9-0.2l-1.4-0.3l-0.5-0.2l-0.9-0.2l-1.9-0.2l-1.5-0.4l-0.5-0.2l-4.7-1.2l-2-0.2l-1.1-0.3l-0.8-0.4l-0.9-0.3l-1-0.1l-3.8 0l-8.6-0.1l-0.5-0.1l0-0.9l0.5-0.1l1.9-0.1l11.5 0l3.8-0.3l14.4 0l15.3 0l0.9 0.1l1.1 0.4l0.8 0.5l1.5 1.4l1.4 1.5l0.3 0.4l0.4 1l-0.3 0.9l-0.4 0.3l-2.9 1.3l-0.9 0.3l-1 0.1z"/>
<path fill="#9b9476" fill-rule="evenodd" d="M721 1354.6l5.1 0.1l4.9-0.1l8.5 0l13.4-0.3l18.2-0.6l23.9-1l0-48.1l-24.9-1.1l-24.9-0.9l-27.7-0.9l-20.1-0.4l-14.4-0.1l-10.5 0l-7.7 0.2l-5.7 0.2l-4.8 0.4l-3.8 0.5l-2.9 0.5l-1.9 0.5l-1.9 0.5l-2.4 0.9l-1.5 0.7l-8.6 4.1l-2.8 1.1l-2.9 0.9l-2.9 0.7l-2.9 0.4l-2.8 0.2l-1-0.2l-0.3-0.2l-2.6-4.2l-1.5-2.5l-1.3-2.3l-1.5-2.5l-0.6-1l-3.7-6l-0.1-0.6l-0.8-0.9l-1.9 0l-22.1 0.4l-2 0.5l-0.8 0.2l-1.4 0.7l-1.1 1l-0.7 0.9l-0.7 1.5l-0.1 0.4l-0.3 1l-0.2 1.9l0 1.9l0.2 1.9l0.4 2.1l0.5 1.8l1 2.8l1.4 3l1 1.7l0.6 1.1l2 2.8l2.2 2.6l1.1 1.2l2.7 2.6l2.6 2.2l1.2 1l2.9 2l1.9 1.3l4.8 2.7l3.4 1.6l2.1 1l1.2 0.5l5.7 2.2l9.6 3.1l2.9 0.7l7.6 1.9l6.7 1.4l8.6 1.5l8.7 1.2l7.6 0.9l2.9 0.3l6.8 0.6l4.7 0.4l7.6 0.5l7.7 0.4l8.6 0.3l10.5 0.3l9.3 0zM604.5 1291.5l0 0.1l1 0.3l1.9-0.2l1.9-0.3l3.8-0.7l2-0.4l11.4-2.2l0.5-0.4l0.6-0.9l0.2-1l0.1-0.9l-0.1-1l-0.3-1.2l-0.2-0.7l-0.8-1.4l-0.3-0.5l-0.8-1l-0.9-0.9l-1.8-1.4l-0.9-0.6l-1-0.3l-1 0.3l-15.3 15.3z"/>
<path fill="#b0a571" fill-rule="evenodd" d="M655 1344.1l6 0.3l7.7 0.2l6.7 0l6.7-0.2l8.6-0.3l11.5-0.7l6.7-0.5l7.6-0.8l18.2-2.3l8.6-1.4l2.9-0.7l5.7-1.1l3.9-0.9l1.9-0.4l2.3-0.7l2.5-0.8l2.8-0.8l1-0.4l1.9-1l2.9-1.2l0.9-0.7l1.2-1.8l0.8-1l-0.1-0.9l-1.9-1.5l-0.9-0.7l-1.9-1.1l-2-0.8l-1.9-0.8l-2.8-0.9l-2-0.5l-2.8-0.7l-3.3-0.7l-5.3-1l-6.7-1.1l-6.7-0.9l-4.8-0.6l-4.8-0.6l-6.7-0.7l-12.5-1.1l-9.5-0.7l-13.4-0.7l-10.6-0.4l-7.6-0.1l-5.8 0.1l-5.7 0.3l-4.8 0.3l-4.8 0.6l-5.7 0.8l-7.7 1.1l-3.8 0.4l-3.8 0.3l-3.9 0l-2.8-0.1l-1.9-0.2l-1-0.5l-2.4-4.7l-2.4-4.8l-1.4-2.9l-1.5-2.9l-0.4-0.9l-0.5-1l-0.4-0.9l-0.6-1l-0.2-0.9l-0.7-0.8l-1-0.1l-5.7 0.2l-17.3 0.8l-0.9 0.3l-1.1 0.5l-1.3 1l-0.7 0.9l-0.5 1l-0.6 1.9l-0.3 1.9l0 1.9l0.2 1.9l0.7 2.9l0.7 2l0.7 1.8l1.5 2.9l1.9 2.9l1.7 2.1l1.9 2.2l1.9 1.9l1.9 1.6l3.5 2.7l1.4 0.9l1.8 1.1l2.9 1.6l4.8 2.3l2.8 1.2l4.1 1.5l3 0.9l2.5 0.7l5.7 1.5l3.9 0.8l4.8 0.9l4.7 0.7l5.8 0.8l5.7 0.6l6.7 0.5l3.6 0.2z"/>
<path fill="#c6b667" fill-rule="evenodd" d="M638.9 1338.4l3.9 0.1l4.8-0.1l5.7-0.2l3.9-0.3l4.8-0.4l4.7-0.7l4.8-0.8l3.9-0.9l4.8-1.5l2.8-1.2l2.4-1.7l0.7-0.9l0.3-1l-0.3-0.9l-0.5-1l-1-0.9l-2.5-1.4l-2-0.8l-3.8-1.2l-1.9-0.5l-5.7-1.3l-5.8-0.9l-5.7-0.8l-7.2-0.8l-8.1-0.6l-16.3-1.2l-4.8-0.5l-3.8-0.5l-2.9-0.6l-1.1-0.4l-0.9-1.9l-4.5-10.5l-0.4-1l-1.6-3.8l-0.1-0.3l-0.6-1.6l-0.4-0.6l-0.3-1.3l-0.6-0.8l-1-0.1l-3.8 0.2l-19.2 1.4l-0.9 0.5l-1 0.7l-0.9 1.1l-0.5 0.8l-0.5 1.4l-0.1 0.5l-0.2 0.9l-0.1 2l0.1 1.9l0.4 1.9l0.5 1.9l1 2.9l1.5 2.8l1.2 1.9l1.5 2l1.5 1.9l1.8 1.9l1.4 1.3l2 1.6l2.5 1.9l1.5 0.9l1.7 1.1l1.9 1l2.9 1.4l3.8 1.6l3.8 1.4l4.8 1.4l3.3 0.7l2.5 0.5l3.8 0.7l4.8 0.7l5.7 0.6l4.8 0.3l2.8 0.1z"/>
<path fill="#dec958" fill-rule="evenodd" d="M616.8 1333.6l3 0.3l3.9 0.3l3.8 0.1l3.8-0.1l3.9-0.2l2.9-0.4l1.8-0.3l2.6-0.6l2.6-1l1.6-1l0.9-1.1l0.2-0.8l-0.2-0.9l-1-1.2l-0.9-0.8l-1.9-1.1l-2.9-1.2l-2.9-1.1l-3.8-1.2l-2.9-0.8l-4.9-1.2l-7.6-1.9l-2.8-0.8l-3.3-1.2l-0.5-0.2l-0.8-0.7l-1.3-3.8l-5.8-16.3l-0.1-0.9l-0.6-0.7l-1-0.1l-3.8 0.3l-18.2 1.6l-1 0.1l-0.9 0.7l-1 1.1l-0.5 0.8l-0.4 1.2l-0.2 0.7l-0.2 0.9l-0.1 2l0.1 1.9l0.4 1.9l0.5 1.9l1.1 2.9l1.6 2.8l1.6 2.3l1.1 1.6l1.8 1.9l2 1.9l1.8 1.5l2.8 2.1l2.9 1.7l3.8 1.9l3.9 1.6l2.8 1l2.9 0.8l2.9 0.7l3.8 0.7l2.7 0.4z"/>
<path fill="#f6dd3f" fill-rule="evenodd" d="M610.8 1330.7l2.3 0.3l2.9 0.3l2.9 0l2.9-0.1l1.9-0.2l1.9-0.3l1.9-0.5l1.1-0.4l1.6-1l0.6-0.9l0.1-1l-0.5-1l-1-1.1l-0.9-0.8l-2-1.2l-1.9-1l-3.4-1.6l-4.2-1.7l-5.8-2.6l-0.6-0.5l-0.4-0.9l-2.6-8.6l-1.2-3.8l-1.3-4.8l-0.9-2.9l-0.1-0.9l-0.5-0.6l-1-0.2l-2.9 0.3l-16.2 1.8l-2.9 0.3l-1 0.3l-0.9 0.9l-0.7 1l-0.4 0.9l-0.3 1l-0.2 0.9l-0.1 2l0.1 1.9l0.4 1.9l0.9 2.9l1.2 2.6l0.7 1.2l1.3 1.9l1.4 1.9l1.7 1.9l2 1.9l1.6 1.3l2.8 2.1l2.9 1.7l2.9 1.4l3.8 1.6l2.9 0.9l2.8 0.7l2.9 0.6l1.5 0.2z"/>
<path fill="#fee838" fill-rule="evenodd" d="M609.2 1328.8l1.1 0.1l2.8 0.1l2-0.1l1.9-0.2l1.9-0.5l0.9-0.3l1.4-1l0.4-0.9l0-1l-0.5-1l-1.3-1.3l-0.9-0.8l-1-0.7l-4.6-2.9l-1.1-0.7l-1.9-1.2l-1-1l-2.4-9.5l-2.6-10.5l-0.3-1.9l-0.4-0.5l-1-0.3l-2.9 0.4l-11.4 1.5l-7.7 1.1l-1 0.3l-0.3 0.3l-0.6 1l-0.5 0.9l-0.3 1l-0.2 1.9l0 1.9l0.2 1.9l0.5 1.9l0.7 2l0.9 1.9l1.1 1.9l1.4 2.1l1.4 1.7l1.5 1.6l1.9 1.8l1.9 1.5l1.9 1.3l2.9 1.7l1.9 0.9l1.9 0.8l2.5 0.9l1.4 0.5l2.8 0.7l2.9 0.5l1.8 0.2z"/>
<path fill="none" stroke="#000" stroke-width="1.4" d="M460 1293l8.6 0l1-0.1l1.4-0.4l0.5-0.2l0.9-0.2l1-0.1l1 0l0.9 0.1l1.1 0.4l0.8 0.6l0.4 0.4l0.8 0.9l0.7 1.2l1 0.9l3.8 2.2l2.9 1.9l1 0.7l1.9 1l1.9 0.9l0.9 0.2l2 0.1l6.7 0l0.9-0.1l1.1-0.4l1.8-1.1l1.2-0.8l1-1l0.6-0.9l0.1-1l-0.3-0.9l-0.9-1.9l-0.2-1l0.5-0.9l0.9-0.4l2.8-0.4l1-0.4l0.9-0.2l2-0.1l3.8 0l0.9-0.1l1.5-0.4l0.5-0.1l0.9-0.2l1.9-0.1l1.9-0.1l1-0.1l1.1-0.3l0.8-0.6l1.4-1.3l2.8-2.9l0.6-0.9l-0.4-1l-0.6-0.3l-0.9-0.1l-2.9-0.1l-4.8 0l-0.9 0.1l-1.5 0.4l-0.4 0.2l-1 0.2l-1.9 0.1l-16.3 0.1l-1.4 0.4l-0.5 0.1l-1 0.2l-1.9 0.1l-28.7 0.1l-1.4 0.4l-0.5 0.2l-1 0.2l-1.9 0.1l-3.8 0M579.6 1292.5l-9.5 0.1l-5.8 0.3l-3.8 0.1l-9.6 0.1l-1.4 0.4l-0.5 0.1l-0.9 0.2l-2 0.1l-6.7 0.1l-0.9 0l-1.4 0.4l-2.5 1l-1 0.9l-2.8 4.3l-0.9 2l-0.2 0.4l-0.2 1l0.5 0.9l0.8 0.4l1 0.1l3.8 0l7.7 0l0.9 0.1l1 0.4l0.4 0.9l0 1l-0.7 2.9l0.3 1.4l0.1 0.5l0.3 0.9l0.1 1.9l0 2l0.2 0.9l0.2 0.5l0.5 0.5l0.5 0.2l1 0.2l1.9 0l0.9-0.1l1-0.3l1-1l0.3-0.9l0.2-2l0.4-1.2l0.3-0.7l0.7-1.1l0.9-0.9l1-0.5l1-0.3l0.9 0.4l0.2 0.5l0.5 2.9l0.4 0.9l0.2 1l0.2 1.9l0.4 1.4l1 2l3 6.2l1 1.9l0.7 1.2l1 1.1l1 0.8l1.1 0.7l1.1 1l4 3.8l2.6 1.9l4 3.8l2.7 1.9l3.1 2.9l3.4 2.5l0.9 0.8l1.9 1.2l3.1 2.2l1.2 1l1.5 0.9l3.8 2.7l1.5 1.1l0.4 0.4l5.8 3.1l0.9 0.7l3.9 2l3.8 1.8l7.7 2.5l0.9 0.4l3.8 1l3.9 1.2l1.6 0.3l3.1 1l1 0.4l3.8 1l1.9 0.6l2 0.6l2.8 0.9l1.5 0.3l3.3 1.1l1 0.3l3.8 1l3.8 1.1l1.5 0.3l3 1l2.2 0.7l2.9 0.9l1.5 0.3l3 0.9l1.2 0.5l2.9 0.6l2.9 0.9l0.9 0.4l1 0.2l1.9 0.2l1 0.2l0.9 0.3l1 0.2l3.4 0.4l2.3 0.6l3.4 0.3l2.4 0.7l3.3 0.3l2.4 0.6l2.3 0.3l2.5 0.7l3.3 0.3l2.4 0.6l3.3 0.3l2.5 0.7l3.2 0.3l2.5 0.7l3.2 0.3l2.6 0.6l3.2 0.3l2.5 0.7l3.2 0.3l2.6 0.6l3.1 0.3l2.6 0.7l2.3 0.3l2.5 0.6l3.2 0.3l2.5 0.7l3.3 0.3l2.5 0.7l3.2 0.3l2.5 0.6l3.3 0.3l2.5 0.7l3.2 0.3l2.5 0.6l3.3 0.3l2.4 0.7l1 0M795 1292.6l-155.1 0l-2.8 0.1l-1 0l-0.9 0.2l-0.6 0.6l-0.2 0.9l0 1.9l-0.4 1.9l-0.5 1.9l-1.2 2.5l-0.3 0.4l-0.7 1.1l-0.9 1.1l-1 1l-0.9 0.9l-1 0.7l-1.9 1.2l-1.9 1l-1.9 0.7l-2 0.6l-1.9 0.4M627.5 1292.5l3.8-0.1l1-0.1l0.9-0.2l0.7-0.6l0.4-0.9l0.1-1l-0.1-0.9l-0.3-1.9l-0.5-1.9l-1.2-2.5l-0.3-0.4l-0.7-1.1l-0.9-1.1l-1-1l-0.9-0.9l-1-0.7l-1.9-1.2l-1.9-1l-1.9-0.7l-2-0.6l-1.9-0.4M460 1279.6l15.3 0l1-0.1l1.4-0.4l0.5-0.1l0.9-0.3l2-0.1l3.8 0l0.9-0.1l1.5-0.3l0.5-0.2l0.9-0.2l1.9-0.1l3.9 0l0.9-0.1l1.5-0.4l0.4-0.2l1-0.2l1.9-0.1l18.2 0l0.9 0.1l1.5 0.4l0.5 0.2l0.9 0.2l1.9 0.1l6.7 0l1 0.1l1.4 0.4l1.5 0.4l3.8 1.3l3.8 1.6l1.3 0.5l1.6 0.8l0.9 0.7l1.7 1.4l1.2 0.7l1 0.7l0.9 0.8l1 0.6l0.9-0.4l0.2-0.5l-0.2-1.2l-0.4-1.7l-0.4-1.9l-0.3-1l-0.2-0.9l-0.1-1l0.1-0.9l0.4-1.1l0.9-1.3l1.2-1.5l0.8-1.2l1.9-2.6l0.3-0.9l0.1-1l-0.1-1l-0.3-1.4l-0.2-0.5l-0.2-0.9l-0.1-1.9l-0.1-3.9l0.2-0.9l0.8-1l2.4-2.4l2-1.8l0.9-0.7l1.2-0.8l1.2-1l2.4-2.3l1-0.7l1.1-0.8l1.2-0.9l4.1-3.9l3.1-2.3l1-0.8l1.1-0.7l1.2-0.9l1.5-1.5l1-0.7l1.1-0.7l3.8-2.9l2.7-1.8l4.8-3.2l1.9-1.3l1-0.6l3-1.7l1.8-1.2l1.9-0.9l3.8-1.2l1.9-0.1l2.9-0.1l1-0.1l0.9-0.3l1-0.3l0.9-0.2l2.3-0.4l0.6-0.2l1.9-0.8l1.9-0.9l1-0.4l1.9-0.7l2.9-1.3l1.9-0.6l1.9-0.9l1.9-0.9l1-0.4l1.9-0.7l3.8-1.5l1-0.3l2.8-1.4l2-0.8l1.9-0.7l2.8-1.2l2-0.7l2.8-1.3l1.9-0.9l2-0.6l5.7-2.5l1-0.3l2.8-1.3l2-0.7l2.8-1.3l1.9-0.8l2.1-0.7l2.7-1.2l2.1-0.7l2.7-1.2l1-0.2l1.9-0.1l1.9-0.2l1.2-0.2l0.7-0.3l1-0.2l1.9-0.1l1.9 0l0.9-0.1l1.2-0.3l0.8-0.3l0.9-0.2l1.9-0.1l1.9 0l1-0.1l1.1-0.3l0.8-0.2l1-0.3l1.9-0.1l2.9 0l0.9-0.1l1-0.2l0.9-0.3l1-0.2l1.9-0.1l1.9-0.1l1-0.1l0.9-0.2l1-0.3l0.9-0.2l2-0.1l1.9 0l0.9-0.1l1-0.3l0.9-0.3l1-0.2l1.9-0.1l1.9 0l1-0.1l0.9-0.2l1-0.3l1-0.2l1.9-0.1l2.8-0.1l1-0.1l1-0.2l0.9-0.3l1-0.2l1.9-0.1l1.9-0.1l1 0l0.9-0.3l1-0.3l0.9-0.2l1.9-0.1l2 0l0.9-0.1l1-0.2l0.9-0.4l1-0.2l1.9-0.1l1.9 0l1-0.1l0.9-0.2l1-0.3l0.9-0.2l2-0.1l2.8-0.1l1.5-0.2l2.4-0.6l1.9-0.1l1.9 0l1.4-0.2l2.4-0.7l1.9-0.1l2.9 0M519.3 1318.6l1 0.2l2.9 0l0.9-0.1l1-0.4l1.1-0.9l1.8-2.9l0.1-1l-0.4-0.9l-0.7-0.6l-1-0.6l-1.9-0.9l-0.9-0.2l-1 0l-1.3 0.4l-0.6 0.2l-1.2 0.7l-1.2 1l-0.8 0.9l-0.2 1l0.1 0.9l0.4 1.3l0.4 0.7l0.6 0.7l0.3 0.2zM550.9 1303.3l-0.9-0.5l-0.6-0.7l-0.5-1l-0.2-1l0-0.9l0.3-1l1-1l0.9-0.5l1 0l0.9 0.3l1 0.8l0.4 0.4l0.6 1l0.2 0.9l-0.2 1.2l-0.4 0.8l-0.6 0.7l-0.3 0.2l-0.7 0.3l-0.9 0.1zM544.2 1272.5l-1.9-0.5l-1.9-0.1l-1.9-0.1l-1.5-0.3l-0.4-0.2l-1-0.2l-1.9-0.1l-1.9-0.1l-1.5-0.4l-0.4-0.1l-1-0.3l-2.9-0.2l-1.4-0.3l-0.5-0.2l-0.9-0.2l-1.9-0.2l-1.5-0.4l-0.5-0.2l-4.7-1.2l-2-0.2l-1.1-0.3l-0.8-0.4l-0.9-0.3l-1-0.1l-3.8 0l-8.6-0.1l-0.5-0.1l0-0.9l0.5-0.1l1.9-0.1l11.5 0l3.8-0.3l14.4 0l15.3 0l0.9 0.1l1.1 0.4l0.8 0.5l1.5 1.4l1.4 1.5l0.3 0.4l0.4 1l-0.3 0.9l-0.4 0.3l-2.9 1.3l-0.9 0.3zM766.2 1303.3l-22.9-0.8l-23.9-0.7l-20.1-0.4l-15.3-0.2l-11.5 0l-7.7 0.2l-5.7 0.2l-4.8 0.4l-3.8 0.5l-2.9 0.5l-1.9 0.5l-1.9 0.5l-2.4 0.9l-1.5 0.7l-8.6 4.1l-2.8 1.1l-2.9 0.9l-2.9 0.7l-2.9 0.4l-2.8 0.2l-1.2-0.2M579.6 1293l-2 0.5l-0.8 0.2l-1.4 0.7l-1.1 1l-0.7 0.9l-0.7 1.5l-0.1 0.4l-0.3 1l-0.2 1.9l0 1.9l0.2 1.9l0.4 2.1l0.5 1.8l1 2.8l1.4 3l1 1.7l0.6 1.1l2 2.8l2.2 2.6l1.1 1.2l2.7 2.6l2.6 2.2l1.2 1l2.9 2l1.9 1.3l4.8 2.7l3.4 1.6l2.1 1l1.2 0.5l5.7 2.2l9.6 3.1l2.9 0.7l7.6 1.9l6.7 1.4l8.6 1.5l8.7 1.2l7.6 0.9l2.9 0.3l6.8 0.6l4.7 0.4l7.6 0.5l7.7 0.4l8.6 0.3l10.5 0.3l20.1 0l18.2-0.2l20.1-0.6l13.4-0.6l11.5-0.5M626.8 1288l0.2-0.3l0.6-0.9l0.2-1l0.1-0.9l-0.1-1l-0.3-1.2l-0.2-0.7l-0.8-1.4l-0.3-0.5l-0.8-1l-0.9-0.9l-1.8-1.4l-0.9-0.6l-1.5-0.4M579.6 1293.6l-0.9 0.3l-1.1 0.5l-1.3 1l-0.7 0.9l-0.5 1l-0.6 1.9l-0.3 1.9l0 1.9l0.2 1.9l0.7 2.9l0.7 2l0.7 1.8l1.5 2.9l1.9 2.9l1.7 2.1l1.9 2.2l1.9 1.9l1.9 1.6l3.5 2.7l1.4 0.9l1.8 1.1l2.9 1.6l4.8 2.3l2.8 1.2l4.1 1.5l3 0.9l2.5 0.7l5.7 1.5l3.9 0.8l4.8 0.9l4.7 0.7l5.8 0.8l5.7 0.6l6.7 0.5l7.7 0.4l6.7 0.2l6.7 0.1l6.7-0.1l6.1-0.2M717.1 1342.1l17.6-2.3l8.6-1.4l2.9-0.7l5.7-1.1l3.9-0.9l1.9-0.4l2.3-0.7l2.5-0.8l2.8-0.8l1-0.4l1.9-1l2.9-1.2l0.9-0.7l1.2-1.8l0.8-1l-0.1-0.9l-1.9-1.5l-0.9-0.7l-1.9-1.1l-2-0.8l-1.9-0.8l-2.8-0.9l-2-0.5l-2.8-0.7l-3.3-0.7l-5.3-1l-6.7-1.1l-6.7-0.9l-4.8-0.6l-4.8-0.6l-6.7-0.7l-12.5-1.1l-9.5-0.7l-13.4-0.7l-10.6-0.4l-7.6-0.1l-5.8 0.1l-5.7 0.3l-4.8 0.3l-4.8 0.6l-5.7 0.8l-7.7 1.1l-3.8 0.4l-3.8 0.3l-3.9 0l-2.8-0.1l-1.9-0.2l-1-0.5M579.6 1294.2l-0.9 0.5l-1 0.7l-0.9 1.1l-0.5 0.8l-0.5 1.4l-0.1 0.5l-0.2 0.9l-0.1 2l0.1 1.9l0.4 1.9l0.5 1.9l1 2.9l1.5 2.8l1.2 1.9l1.5 2l1.5 1.9l1.8 1.9l1.4 1.3l2 1.6l2.5 1.9l1.5 0.9l1.7 1.1l1.9 1l2.9 1.4l3.8 1.6l3.8 1.4l4.8 1.4l3.1 0.7M646 1338.5l5.4-0.2l4.8-0.3l5.8-0.5l4.7-0.7l4.8-0.8l3.9-0.9l4.8-1.5l2.8-1.2l2.4-1.7l0.7-0.9l0.3-1l-0.3-0.9l-0.5-1l-1-0.9l-2.5-1.4l-2-0.8l-3.8-1.2l-1.9-0.5l-5.7-1.3l-5.8-0.9l-5.7-0.8l-7.2-0.8l-8.1-0.6l-16.3-1.2l-4.8-0.5l-3.8-0.5l-2.9-0.6l-1.1-0.4M579.6 1294.7l-0.9 0.7l-1 1.1l-0.5 0.8l-0.4 1.2l-0.2 0.7l-0.2 0.9l-0.1 2l0.1 1.9l0.4 1.9l0.5 1.9l1.1 2.9l1.6 2.8l1.6 2.3l1.1 1.6l1.1 1.1M611.7 1332.8l2.4 0.4l3.8 0.5l3.9 0.4l3.8 0.2l3.8 0l3.8-0.2l3.9-0.4l1.9-0.2l3.5-0.8l2.6-1l1.6-1l0.9-1.1l0.2-0.8l-0.2-0.9l-1-1.2l-0.9-0.8l-1.9-1.1l-2.9-1.2l-2.9-1.1l-3.8-1.2l-2.9-0.8l-4.9-1.2l-7.6-1.9l-2.8-0.8l-3.3-1.2l-1-0.5M579.6 1295.4l-0.9 0.9l-0.7 1l-0.4 0.9l-0.3 1l-0.2 0.9l-0.1 2l0.1 1.9l0.4 1.9l0.9 2.9l1.2 2.6l0.7 1.2l1.3 1.9l1.4 1.9l1.7 1.9l2 1.9l1.6 1.3l2.8 2.1l0.4 0.2M622 1331.2l1.7-0.2l1.9-0.3l1.9-0.5l1.1-0.4l1.6-1l0.6-0.9l0.1-1l-0.5-1l-1-1.1l-0.9-0.8l-2-1.2l-1.9-1l-3.4-1.6l-4.2-1.7l-5.8-2.6l-0.6-0.5M579.6 1296l-0.3 0.3l-0.6 1l-0.5 0.9l-0.3 1l-0.2 1.9l0 1.9l0.2 1.9l0.5 1.9l0.7 2l0.9 1.9l1.1 1.9l1.4 2.1l1.4 1.7l1.5 1.6l1.9 1.8l1.9 1.5l1.9 1.3l2.9 1.7l1.9 0.9l1.9 0.8l2.5 0.9l1.4 0.5l2.8 0.7l2.9 0.5l2.9 0.3l2.8 0.1l2-0.1l1.9-0.2l1.9-0.5l0.9-0.3l1.4-1l0.4-0.9l0-1l-0.5-1l-1.3-1.3l-0.9-0.8l-1-0.7l-4.6-2.9l-1.1-0.7l-1.9-1.2l-1-1"/>
<path fill="none" stroke="#000" stroke-width="1.4" stroke-dasharray="5.1 2.2" d="M579.6 1289l-0.3-0.3l-0.6-1l-0.5-0.9l-0.3-1l-0.2-1.9l0-1.9l0.2-1.9l0.5-1.9l0.7-2l0.9-1.9l1.1-1.9l1.4-2.1l1.4-1.7l1.5-1.6l1.9-1.8l1.9-1.5l1.9-1.3l2.9-1.7l1.9-0.9l1.9-0.8l2.5-0.9l1.4-0.5l2.8-0.7l2.9-0.5l2.9-0.3l2.8-0.1l2 0.1l1.9 0.2l1.9 0.5l0.9 0.3l1.4 1l0.4 0.9l0 1l-0.5 1l-1.3 1.3l-0.9 0.8l-1 0.7l-4.6 2.9l-1.1 0.7l-1.9 1.2l-1 1M579.6 1289.6l-0.9-0.9l-0.7-1l-0.4-0.9l-0.3-1l-0.2-0.9l-0.1-1.2M601.2 1256.6l2.4-0.8l2.8-0.7l2.9-0.6l2.9-0.4l2.9-0.3l2.8-0.1l2.9 0l2.9 0.3l1.9 0.3l1.9 0.5l1.1 0.4l1.6 1l0.6 0.9l0.1 1l-0.5 1l-1 1.1l-0.9 0.8l-2 1.2l-1.9 1l-3.4 1.6l-4.2 1.7l-5.8 2.6l-0.6 0.5M579.6 1290.3l-0.9-0.7l-1-1.1l-0.5-0.8l-0.4-1.2l-0.2-0.7l-0.2-0.9l-0.1-2l0.1-1.9l0.4-1.9l0.5-1.9l1.1-2.9l1.6-2.8l1.6-2.3l1.1-1.6l1.8-1.9l2-1.9l1.8-1.5l2.8-2.1l2.9-1.7l3.8-1.9l3.9-1.6l2.8-1l2.9-0.8l2.9-0.7l3.8-0.7l3.8-0.5l3.9-0.4l3.8-0.2l3.8 0l3.8 0.2l3.9 0.4l1.9 0.2l3.5 0.8l2.6 1l1.6 1l0.9 1.1l0.2 0.8l-0.2 0.9l-1 1.2l-0.9 0.8l-1.9 1.1l-2.9 1.2l-2.9 1.1l-3.8 1.2l-2.9 0.8l-4.9 1.2l-7.6 1.9l-2.8 0.8l-3.3 1.2l-1 0.5M579.6 1290.8l-0.9-0.4l-1-0.8l-0.9-1.1l-0.5-0.8l-0.5-1.4l-0.1-0.5l-0.2-0.9l-0.1-2l0.1-1.9l0.4-1.9l0.5-1.9l1-2.9l1.5-2.8l1.2-1.9l1.5-2l1.5-1.9l1.8-1.9l1.4-1.3l2-1.6l2.5-1.9l1.5-0.9l1.7-1.1l1.9-1l2.9-1.4l3.8-1.6l3.8-1.4l4.8-1.4l3.3-0.7l2.5-0.5l3.8-0.7l4.8-0.7l5.7-0.6l4.8-0.3l4.8-0.1l5.7 0l4.8 0.1l4.8 0.3l5.8 0.5l4.7 0.7l4.8 0.8l3.9 0.9l4.8 1.5l2.8 1.2l2.4 1.7l0.7 0.9l0.3 1l-0.3 0.9l-0.5 1l-1 0.9l-2.5 1.4l-1.5 0.6M642.5 1267.3l-19.8 1.5l-3.8 0.4l-2.9 0.5l-1.9 0.4l-1.1 0.4M579.6 1291.4l-0.9-0.3l-1.1-0.5l-1.3-1l-0.7-0.9l-0.5-1l-0.6-1.9l-0.3-1.9l0-1.9l0.2-1.9l0.7-2.9l0.7-2l0.7-1.8l1.5-2.9l1.9-2.9l1.7-2.1l1.9-2.2l1.9-1.9l1.9-1.6l3.5-2.7l1.4-0.9l1.8-1.1l2.9-1.6l4.8-2.3l2.8-1.2l4.1-1.5l3-0.9l2.5-0.7l5.7-1.5l3.9-0.8l4.8-0.9l4.7-0.7l5.8-0.8l5.7-0.6l6.7-0.5l7.7-0.4l6.7-0.2l6.7-0.1l6.7 0.1l6.7 0.2l9.6 0.4l10.2 0.8M744.1 1246.8l2.1 0.5l5.7 1.1l3.9 0.9l1.9 0.4l2.3 0.7l2.5 0.8l2.8 0.8l1 0.4l1.9 1l2.9 1.2l0.9 0.7l1.2 1.8l0.8 1l-0.1 0.9l-1.9 1.5l-0.9 0.7l-1.9 1.1l-2 0.8l-1.9 0.8l-2.8 0.9l-2 0.5l-2.8 0.7l-3.3 0.7l-5.3 1l-6.7 1.1l-6.7 0.9l-4.8 0.6l-4.8 0.6l-6.7 0.7l-12.5 1.1l-9.5 0.7l-13.4 0.7l-10.6 0.4l-7.6 0.1l-5.8-0.1l-5.7-0.3l-4.8-0.3l-4.8-0.6l-5.7-0.8l-7.7-1.1l-3.8-0.4l-3.8-0.3l-3.9 0l-2.8 0.1l-1.9 0.2l-1 0.5M626.8 1297l0.2 0.3l0.6 0.9l0.2 1l0.1 0.9l-0.1 1l-0.3 1.2l-0.2 0.7l-0.8 1.4l-0.3 0.5l-0.8 1l-0.9 0.9l-1.8 1.4l-0.9 0.6l-1.5 0.4M579.6 1292l-2.1-0.5l-0.7-0.2l-1.4-0.7l-1.1-1l-0.7-0.9l-0.7-1.5l-0.1-0.4l-0.3-1l-0.2-1.9l0-1.9l0.2-1.9l0.4-2.1l0.5-1.8l1-2.8l1.4-3l1-1.7l0.6-1.1l2-2.8l2.2-2.6l1.1-1.2l2.7-2.6l2.6-2.2l1.2-1l2.9-2l1.9-1.3l4.8-2.7l3.4-1.6l2.1-1l1.2-0.5l5.7-2.2l9.6-3.1l2.9-0.7l7.6-1.9l6.7-1.4l8.6-1.5l8.7-1.2l7.6-0.9l2.9-0.3l6.8-0.6l4.7-0.4l7.6-0.5l7.7-0.4l8.6-0.3l10.5-0.3l20.1 0l18.2 0.2l20.1 0.6l13.4 0.6l11.5 0.5M795 1280.4l-24.9 1.1l-24.9 0.9l-27.7 0.9l-20.1 0.4l-14.4 0.1l-10.5 0l-7.7-0.2l-5.7-0.2l-4.8-0.4l-3.8-0.5l-2.9-0.5l-1.9-0.5l-1.9-0.5l-2.4-0.9l-1.5-0.7l-8.6-4.1l-2.8-1.1l-2.9-0.9l-2.9-0.7l-2.9-0.4l-2.8-0.2l-1.2 0.2"/>
<ellipse cx="603.6" cy="1292.5" rx="25.2" ry="25.2" fill="#fff"/>
<text transform="translate(584.8 1266.6) rotate(-47.5)" text-anchor="middle" y="4.9" font-size="20.8px">-2.5</text>
<text transform="translate(661.7 1265.3) rotate(-9.0)" text-anchor="middle" y="4.9" font-size="20.8px">-1.5</text>
<text transform="translate(725.0 1243.9) rotate(-352.7)" text-anchor="middle" y="4.9" font-size="20.8px">-1.0</text>
<text transform="translate(782.1 1304.0) rotate(-357.5)" text-anchor="middle" y="4.9" font-size="20.8px">0.5</text>
<text transform="translate(701.2 1343.5) rotate(-4.1)" text-anchor="middle" y="4.9" font-size="20.8px">1.0</text>
<text transform="translate(630.1 1337.9) rotate(-354.8)" text-anchor="middle" y="4.9" font-size="20.8px">1.5</text>
<text transform="translate(596.6 1327.9) rotate(-333.4)" text-anchor="middle" y="4.9" font-size="20.8px">2.0</text>
<text transform="translate(606.2 1329.9) rotate(-346.5)" text-anchor="middle" y="4.9" font-size="20.8px">2.5</text>
<text transform="translate(495.4 1262.9) rotate(0.0)" text-anchor="middle" y="4.9" font-size="20.8px">0.0</text>
</g>
<rect x="460" y="1173" width="335" height="239" fill="none" stroke="#000" stroke-width="2"/>
<text transform="translate(494.8 1453.8) scale(1.215 1.5)">−</text><text x="509.9" y="1448.4">2</text>
<text x="603.6" y="1448.4" text-anchor="middle">0</text>
<text x="699.3" y="1448.4" text-anchor="middle">2</text>
<text x="795.0" y="1448.4" text-anchor="middle">4</text>
<text x="627.5" y="1478.7" text-anchor="middle">x</text>
<path stroke="#000" stroke-width="2" fill="none" d="M507.9 1413.0v11M603.6 1413.0v11M699.3 1413.0v11M795.0 1413.0v11"/>
<text x="627.5" y="1157.6" text-anchor="middle">PINN, steady</text>
<g clip-path="url(#c32)">
<rect x="822" y="1173" width="334" height="239" fill="#00224e"/>
<path fill="#002a5f" fill-rule="evenodd" d="M822 1412l334 0l0-239l-334 0l0 239zM958.5 1291.6l-3.9-0.6l-12.4-1.7l-0.9-0.3l-0.3-0.3l-0.7-1l-0.4-0.9l-0.3-1l-0.3-1.9l0-1.9l0.3-1.9l0.5-1.9l0.6-2l0.9-1.9l1.1-1.9l1.4-2.1l1.4-1.7l1.5-1.6l1.9-1.8l1.9-1.5l1.9-1.3l2.9-1.7l1.9-0.9l1.9-0.8l2.5-0.9l1.3-0.5l2.9-0.7l2.9-0.5l2.8-0.3l2.9-0.1l1.9 0.1l1.9 0.2l1.9 0.5l1 0.3l1.3 1l0.4 0.9l0 1l-0.5 1l-1.2 1.3l-1 0.8l-1 0.7l-4.5 2.9l-1.2 0.7l-1.9 1.2l-0.9 1l-2.7 10.5l-1.2 4.8l-0.6 2.8l-0.5 1.9l-0.3 1.9l-0.5 0.5l-0.9 0.3l-2.9-0.4l-2.8-0.3z"/>
<path fill="#1a386f" fill-rule="evenodd" d="M822 1412l334 0l0-239l-334 0l0 239zM957.5 1291.6l-11.4-1.3l-3.9-0.4l-0.9-0.3l-1-0.9l-0.6-1l-0.5-0.9l-0.3-1l-0.1-0.9l-0.1-2l0.1-1.9l0.4-1.9l0.9-2.9l1.2-2.6l0.6-1.2l1.3-1.9l1.4-1.9l1.7-1.9l2-1.9l1.6-1.3l2.8-2.1l2.9-1.7l2.9-1.4l3.8-1.6l2.8-0.9l2.9-0.7l2.9-0.6l2.8-0.4l2.9-0.3l2.9-0.1l2.8 0l2.9 0.3l1.9 0.3l1.9 0.5l1.1 0.4l1.6 1l0.6 0.9l0.1 1l-0.5 1l-1 1.1l-0.9 0.8l-2 1.2l-1.9 1l-3.4 1.6l-4.2 1.7l-5.7 2.6l-0.7 0.5l-0.4 0.9l-2.5 8.6l-1.2 3.8l-1.4 4.8l-0.8 2.9l-0.1 0.9l-0.6 0.6l-0.9 0.2l-2.9-0.3l-3.8-0.4z"/>
<path fill="#38476c" fill-rule="evenodd" d="M822 1412l334 0l0-239l-334 0l0 239zM955.6 1291.6l-13.4-1.2l-0.9-0.2l-1-0.6l-0.9-1.1l-0.5-0.8l-0.5-1.2l-0.2-0.7l-0.2-0.9l-0.1-2l0.2-1.9l0.3-1.9l0.5-1.9l1.2-2.9l1.5-2.8l1.6-2.3l1.2-1.6l1.7-1.9l2-1.9l1.8-1.5l2.8-2.1l2.9-1.7l3.8-1.9l3.8-1.6l2.9-1l2.9-0.8l2.8-0.7l3.8-0.7l3.9-0.5l3.8-0.4l3.8-0.2l3.8 0l3.8 0.2l3.8 0.4l2 0.2l3.5 0.8l2.6 1l1.5 1l0.9 1.1l0.3 0.8l-0.3 0.9l-0.9 1.2l-1 0.8l-1.9 1.1l-2.8 1.2l-2.9 1.1l-3.8 1.2l-2.9 0.8l-4.9 1.2l-7.6 1.9l-2.8 0.8l-3.3 1.2l-0.5 0.2l-0.7 0.7l-1.4 3.8l-5.7 16.3l-0.2 0.9l-0.6 0.7l-0.9 0.1l-3.8-0.3l-4.8-0.4z"/>
<path fill="#4d556c" fill-rule="evenodd" d="M822 1412l334 0l0-239l-334 0l0 239zM951.8 1291.6l-10.5-0.8l-1-0.5l-0.9-0.7l-1-1.1l-0.4-0.8l-0.5-1.4l-0.2-0.5l-0.2-0.9l-0.1-2l0.2-1.9l0.3-1.9l0.5-1.9l1.1-2.9l1.4-2.8l1.2-1.9l1.5-2l1.5-1.9l1.8-1.9l1.5-1.3l1.9-1.6l2.5-1.9l1.5-0.9l1.7-1.1l1.9-1l2.9-1.4l3.8-1.6l3.8-1.4l4.8-1.4l3.2-0.7l2.5-0.5l3.8-0.7l4.8-0.7l5.7-0.6l4.8-0.3l4.8-0.1l5.7 0l4.8 0.1l4.7 0.3l5.8 0.5l4.7 0.7l4.8 0.8l3.8 0.9l4.9 1.5l2.7 1.2l2.4 1.7l0.7 0.9l0.4 1l-0.3 0.9l-0.6 1l-1 0.9l-2.5 1.4l-1.9 0.8l-3.8 1.2l-1.9 0.5l-5.8 1.3l-5.7 0.9l-5.7 0.8l-7.1 0.8l-8.2 0.6l-16.2 1.2l-4.8 0.5l-3.8 0.5l-2.9 0.6l-1.1 0.4l-0.9 1.9l-4.4 10.5l-0.4 1l-1.6 3.8l-0.1 0.3l-0.7 1.6l-0.3 0.6l-0.3 1.3l-0.7 0.8l-0.9 0.1l-3.8-0.2l-8.6-0.6z"/>
<path fill="#61656f" fill-rule="evenodd" d="M822 1412l334 0l0-239l-334 0l0 239zM945.1 1291.6l-3.8-0.2l-1-0.3l-1-0.5l-1.3-1l-0.8-0.9l-0.5-1l-0.6-1.9l-0.2-1.9l0-1.9l0.2-1.9l0.7-2.9l0.7-2l0.7-1.8l1.5-2.9l1.8-2.9l1.7-2.1l1.9-2.2l1.9-1.9l1.9-1.6l3.5-2.7l1.4-0.9l1.8-1.1l2.9-1.6l4.7-2.3l2.9-1.2l4.1-1.5l3-0.9l2.4-0.7l5.8-1.5l3.8-0.8l4.8-0.9l4.7-0.7l5.8-0.8l5.7-0.6l6.7-0.5l7.6-0.4l6.7-0.2l6.7-0.1l6.6 0.1l6.7 0.2l9.6 0.4l11.4 0.9l8.9 0.8l15.9 2l5.7 0.9l3.9 0.6l1.9 0.3l2.8 0.7l5.8 1.1l3.8 0.9l1.9 0.4l2.3 0.7l2.5 0.8l2.8 0.8l1 0.4l1.9 1l2.8 1.2l1 0.7l1.2 1.8l0.7 1l-0.1 0.9l-1.8 1.5l-1 0.7l-1.9 1.1l-1.9 0.8l-1.9 0.8l-2.8 0.9l-2 0.5l-2.8 0.7l-3.2 0.7l-5.4 1l-6.7 1.1l-6.7 0.9l-4.7 0.6l-4.8 0.6l-6.7 0.7l-12.4 1.1l-9.5 0.7l-13.4 0.7l-10.5 0.4l-7.6 0.1l-5.8-0.1l-5.7-0.3l-4.8-0.3l-4.7-0.6l-5.7-0.8l-7.7-1.1l-3.8-0.4l-3.8-0.3l-3.8 0l-2.9 0.1l-1.9 0.2l-1 0.5l-2.3 4.7l-2.4 4.8l-1.4 2.9l-1.5 2.9l-0.4 0.9l-0.5 1l-0.4 0.9l-0.6 1l-0.2 0.9l-0.8 0.8l-0.9 0.1l-5.7-0.2l-13.4-0.6z"/>
<path fill="#737475" fill-rule="evenodd" d="M822 1412l334 0l0-131.6l-24.8 1.1l-24.8 0.9l-27.7 0.9l-20 0.4l-14.4 0.1l-10.4 0l-7.7-0.2l-5.7-0.2l-4.8-0.4l-3.8-0.5l-2.9-0.5l-1.9-0.5l-1.9-0.5l-2.3-0.9l-1.5-0.7l-8.6-4.1l-2.8-1.1l-2.9-0.9l-2.9-0.7l-2.8-0.4l-2.9-0.2l-1 0.2l-0.3 0.2l-2.5 4.2l-1.5 2.5l-1.4 2.3l-1.5 2.5l-0.5 1l-3.7 6l-0.1 0.6l-0.9 0.9l-1.9 0l-21.9-0.5l-2-0.4l-0.9-0.2l-1.3-0.7l-1.2-1l-0.7-0.9l-0.4-1l-0.6-1.9l-0.2-1.9l0-1.9l0.2-1.9l0.4-2.1l0.4-1.8l1.1-2.8l1.4-3l0.9-1.7l0.6-1.1l2.1-2.8l2.1-2.6l1.1-1.2l2.7-2.6l2.6-2.2l1.2-1l2.9-2l1.9-1.3l4.8-2.7l3.4-1.6l2.1-1l1.2-0.5l5.7-2.2l9.5-3.1l2.9-0.7l7.6-1.9l6.7-1.4l8.6-1.5l8.6-1.2l7.6-0.9l2.9-0.3l6.8-0.6l4.6-0.4l7.7-0.5l7.6-0.4l8.6-0.3l10.5-0.3l20 0l18.1 0.2l20.1 0.6l13.3 0.6l11.5 0.5l0-59.3l-334 0l0 239zM981.4 1308.8l-2-2l-13.3-13.4l1-0.4l1.9 0.3l1.9 0.3l3.8 0.7l1.9 0.4l11.4 2.2l0.5 0.4l0.6 0.9l0.2 1l0.1 0.9l-0.1 1l-0.3 1.2l-0.2 0.7l-0.8 1.4l-0.3 0.5l-0.8 1l-0.9 0.9l-1.8 1.4l-0.9 0.6l-1 0.3l-0.9-0.3z"/>
<path fill="#868379" fill-rule="evenodd" d="M1041 1411l1.5 1l43.5 0l0.3-1.3l2-5.4l1-0.9l0.9-0.3l1.9-0.1l1.9-0.1l0.9 0l1-0.2l0.9-0.3l1-0.3l1.9-0.1l7.6 0.1l1-0.1l0.9-0.2l1.9-0.5l2-0.1l21 0.1l0.9 0l1-0.2l1.9-0.5l1.9-0.1l16.2 0.2l0-109.1l-154.6 0l-2.9 0.1l-0.9 0l-1 0.2l-0.5 0.6l-0.2 0.9l-0.1 1.9l-0.3 1.9l-0.6 1.9l-1.1 2.5l-0.3 0.4l-0.7 1.1l-0.9 1.1l-1 1l-0.9 0.9l-1 0.7l-1.9 1.2l-1.9 1l-1.9 0.7l-1.9 0.6l-2.1 0.3l-11.3-15.3l-0.6-0.9l-0.3-0.3l-0.4-0.7l-0.6-0.6l-0.1-0.3l-0.9-1l-30.5-0.1l-2.9-0.1l-0.9-0.2l-1-0.2l-3.8-1.2l-1.9-0.4l-0.8-0.7l0-3.8l0.3-1.9l0.2-1l0.1-1.9l0-3.8l-0.1-1l-0.7-1.9l-1.3-2.8l-0.6-1.1l-0.9-0.8l-1-0.4l-0.9-0.1l-1 0.1l-1.4 0.4l-0.5 0.1l-0.9 0.2l-1.9 0.1l-2-0.1l-1.4-0.3l-0.5-0.2l-0.9-0.2l-2.9-0.2l-1.4-0.4l-0.5-0.2l-0.9-0.2l-1.9-0.1l-2.9 0l-1 0.1l-1.4 0.4l-0.5 0.2l-0.9 0.2l-1.9 0.1l-6.7 0l-1-0.1l-1.4-0.4l-0.5-0.2l-10.9-2.7l-1.5-0.4l-3.8-1.3l-1.9-0.7l-1.3-0.4l-2.5-1.2l-2.3-0.7l-2.5-1.2l-1.9-0.9l-2.3-0.8l-2.5-1.2l-3.8-1.9l-1.2-0.7l-1.7-1.2l-3.1-1.7l-1.6-1.1l-3.1-1.8l-0.8-0.9l-0.3-1l-0.1-0.9l0.1-1l0.4-1l0.9-1l1-0.4l11.4-3.8l1.1-0.5l1.3-0.9l1.4-1.2l1.2-0.8l1.2-0.9l0.9-1l0.5-0.9l0-1l-0.2-0.9l-1-2l-2.6-5.2l-1.2-2.4l-0.8-1l-1.8-1.4l-0.9-0.7l-2-1.2l-3.5-2.4l-2.2-1.4l-0.9-0.6l-1-0.3l-1.9-0.1l-2.9 0l-0.9-0.1l-1.4-0.4l-0.5-0.1l-1-0.2l-1.9-0.1l-3.8 0l0 84.1l22.9 0l1 0.1l1.4 0.4l0.5 0.1l0.9 0.2l1.9 0.1l26.7 0.1l1 0.1l1 0.5l0.6 0.8l0.4 0.9l0.3 1l0 0.9l-0.4 1.4l-1.2 3.4l-0.7 1.1l-1 0.9l-0.9 0.4l-2.9 0.9l-1.9 0.1l-1.9 0l-0.9 0.1l-1.5 0.4l-0.4 0.1l-1 0.2l-2.9 0.2l-1.4 0.4l-0.5 0.2l-4.7 1.2l-2 0.2l-1.4 0.3l-0.5 0.2l-3.1 0.8l-0.7 0.3l-1.9 0.6l-0.1 1l0.1 0l1.9 0.3l1.9 0.1l2.9 0l0.9 0l1.4-0.4l0.6-0.2l0.9-0.2l1.9-0.1l1.9-0.1l1.4-0.4l0.5-0.1l1-0.2l3.8-0.5l1-0.3l0.9-0.1l1 0.3l0.4 0.9l0.1 1l-0.2 1.9l-0.3 1.4l-0.2 0.5l-1.7 6.7l-0.6 1l-1.5 1.9l-0.8 1.2l-5 6.4l-0.7 1.2l-1 1.2l-3.3 3.4l-3.8 3.8l-0.6 0.9l-0.3 1l-0.1 1.9l0 1.9l0.1 1l0.4 0.9l0.9 0.5l1-0.1l1.4-0.4l0.5-0.1l3.8-1l3.8-1.2l1.9-0.4l2-0.6l4.3-1.5l0.4-0.1l1-0.2l1.9-0.1l14.3 0l1 0.1l1.3 0.3l2 1l1.7 1l1.6 1.1l3.2 1.7l1.6 1.2l1.9 0.9l1 0.2l1.9 0.1l3.8 0l0.9-0.1l1.5-0.4l0.5-0.1l0.9-0.2l1.9-0.1l4.8 0l0.9 0.1l1 0.3l1.1 1l0.8 1.2l1 1.2l1.3 1.4l0.8 1l0.7 1.2l1 1.1l1.3 1.5l0.8 1l0.7 1.2l1 1.1l1 0.9l0.9 0.6l1 0.3l1.9 0.2l8.6 0l0.9 0.1l1.1 0.3l0.8 0.6l1.4 1.3l2.4 2.4l1 0.7l1.2 0.8l1.2 0.9l3.3 3.4l8.6 8.5l1 0.7l1.9 1.1l1.9 0.8l9.5 3.1l1.9 0.4l1.9 0.7l3.9 1.2l1.9 0.7l3.8 1.2l1.9 0.7l4.3 1.4l0.5 0.2l22.4 5.6l0.5 0.1l10.9 2.7l3.4 1.3l1.4 0.6zM909.8 1329.9l-1.9-0.8l-2.2-1.2l-4.5-3.1l-1.9-1.1l-1-0.7l-0.6-0.9l-0.5-0.9l-0.8-2.3l-1.1-2.5l-1.5-4.8l-0.2-1l0.1-0.9l0.8-1.1l1.9-1.3l2.5-2.4l0.7-0.9l0.1-1l-0.4-1.1l-1-1.2l-2.3-2.5l-0.7-0.9l-1.8-2.9l-0.3-0.9l-0.1-2l0-0.9l0.1-1l0.4-1l0.9-1l1.9-1.1l1-0.2l0.9 0.5l2 2.6l2 3.1l0.8 1.2l3.8 5l1 0.6l0.9-0.3l1-1.1l1.1-1.6l1.3-1.9l1.4-2.1l1-0.8l0.9-0.4l2.9-0.9l1.9-0.1l0.9 0l1 0.1l0.8 0.4l-0.1 0.9l-0.4 2l-1.8 6.6l-0.3 2l-1.1 2.9l-0.9 1.3l-1.4 1.5l-0.7 1l-0.8 1.2l-0.9 1.1l-2.3 2.4l-0.7 1l-0.3 0.9l0 1l0 1l0.4 1.4l0.2 0.5l0.2 0.9l0.1 1.9l0.1 4.8l0 1l0 0.9l-0.6 0.8l-0.3 0.2l-0.7 0.2l-0.9-0.1zM966 1291.5l0.1 1l19.1 0l7.6-0.1l1-0.1l0.9-0.2l0.7-0.6l0.3-0.9l0.2-1l-0.1-0.9l-0.3-1.9l-0.6-1.9l-1.1-2.5l-0.3-0.4l-0.7-1.1l-0.9-1.1l-1-1l-0.9-0.9l-1-0.7l-1.9-1.2l-1.9-1l-1.9-0.7l-1.9-0.6l-2.1-0.3l-11.3 15.3l-0.6 0.9l-0.3 0.3l-0.4 0.7l-0.6 0.6l-0.1 0.3zM910.6 1249.5l0.2 0l1.9-0.4l1.9-0.2l1-0.4l0.9-0.6l0.4-0.3l0.7-1l0.8-1.2l2.8-3.9l0.5-0.6l0.4-1l0.1-1l-0.5-1.8l-0.5-1.4l-0.2-0.6l-0.7-1l-1-0.4l-0.9 0.1l-1.5 0.4l-0.4 0.1l-2.9 0.8l-1.1 1l-2.7 4.3l-2.3 4.3l-0.2 1l0 0.9l0.6 1.2l0.9 1.1l1 0.5l0.8 0.1zM890.3 1241.8l0.4 0.2l1 0.2l0.9 0l1.1-0.4l0.8-0.6l0.4-0.3l0.7-1l0.4-0.9l0.2-1l-0.1-0.9l-0.4-2l-0.7-1.9l-0.5-1.3l-0.9-2l-0.4-0.5l-0.8-1l-0.7-0.4l-1.9-0.7l-1-0.2l-1.9-0.3l-1 0l-0.9 0.4l-1 0.8l-2.3 2.4l-0.9 0.9l-0.5 1l0 0.9l0.4 1l0.6 0.9l1.8 3.1l0.9 1.1l1 0.7l2.4 0.9l1.4 0.5l1.5 0.4zM948.9 1231.3l1 0.3l0.9 0l1.2-0.3l3.6-1.3l3.8-1.3l1-0.3l0.9-0.5l0.5-0.4l0.5-0.4l0.4-0.6l0.5-1.1l0.2-0.8l0-0.9l-0.5-1l-0.6-0.5l-1-0.5l-0.9-0.3l-1-0.1l-0.9 0.1l-1.3 0.4l-2.1 0.9l-6.2 3.1l-1.3 0.7l-0.6 0.4l-0.5 0.6l-0.2 0.9l0.4 1l0.9 1l0.4 0.3l0.9 0.6zM902.7 1199.8l0.4 0.1l1 0.1l1.2-0.2l0.7-0.3l1.2-0.7l1.1-0.9l2.9-2.9l2.4-2.3l1-0.8l1.2-0.7l1.1-1l3.4-3.3l3.8-3.8l1-0.7l1.2-0.8l2.6-2l1.9-0.7l0.9-0.3l3.9-1l4.7-1.6l1-0.3l0.9-0.2l1.9-0.1l2.9 0l1-0.1l1.4-0.4l0.5-0.2l0.9-0.2l1 0l0.9 0l1 0.1l1 0.3l1 1l2.8 4.3l0.9 1.7l1.1 1.6l1.2 1.9l0.6 0.7l0.9 0.4l1-0.1l1.6-1l10.8-7.2l2.9-2.5l1.5-0.8l0.4-0.1l3.2-0.8l0.6-0.3l0.9-0.4l1-0.1l2.9 0l4.7 0l1 0.1l2.8 1l2 0.1l1.9 0.1l1.4 0.4l0.5 0.2l0.9 0.2l1.9 0.1l1.9 0.1l1.5 0.4l0.4 0.1l1 0.2l1.9 0.1l1.9 0.1l1.5 0.4l0.4 0.2l1 0.2l0.9 0.1l1-0.1l1.3-0.4l3.5-1.4l2.8-1l1.3-0.4l1.7-1l-209.1 0l0 23.4l17.2 0l0.9-0.1l1.3-0.4l3.5-1.4l1.3-0.5l2.5-1l1-0.2l1.4 0.3l0.5 0.1l0.9 0.3l2.9 0.2l1.4 0.3l0.5 0.2l1 0.2l2.8 0.2l1.5 0.4l0.4 0.1l1 0.3l1.9 0.1l19.1 0.1l1.4 0.3l0.5 0.2l8.6 2.1l1.9 0.2l1.4 0.4l0.5 0.2l3.4 0.8z"/>
<path fill="#9b9476" fill-rule="evenodd" d="M1082.2 1354.6l5.1 0.1l4.9-0.1l8.5 0l13.3-0.3l18.1-0.6l23.9-1l0-48.1l-24.8-1.1l-24.8-0.9l-27.7-0.9l-20-0.4l-14.4-0.1l-10.4 0l-7.7 0.2l-5.7 0.2l-4.8 0.4l-3.8 0.5l-2.9 0.5l-1.9 0.5l-1.9 0.5l-2.3 0.9l-1.5 0.7l-8.6 4.1l-2.8 1.1l-2.9 0.9l-2.9 0.7l-2.8 0.4l-2.9 0.2l-1-0.2l-0.3-0.2l-2.5-4.2l-1.5-2.5l-1.4-2.3l-1.5-2.5l-0.5-1l-3.7-6l-0.2-0.6l-0.8-0.9l-1.9 0l-21.9 0.4l-1.9 0.4l-1 0.3l-1.4 0.7l-1.1 1l-0.7 0.9l-0.6 1.5l-0.2 0.4l-0.2 1l-0.2 1.9l0 1.9l0.2 1.9l0.4 2.1l0.4 1.8l1.1 2.8l1.4 3l0.9 1.7l0.6 1.1l2.1 2.8l2.1 2.6l1.1 1.2l2.7 2.6l2.6 2.2l1.2 1l2.9 2l1.9 1.3l4.8 2.7l3.4 1.6l2.1 1l1.2 0.5l5.7 2.2l9.5 3.1l2.9 0.7l7.6 1.9l6.7 1.4l8.6 1.5l8.6 1.2l7.6 0.9l2.9 0.3l6.8 0.6l4.6 0.4l7.7 0.5l7.6 0.4l8.6 0.3l10.5 0.3l9.2 0zM966.1 1291.5l0 0.1l1 0.3l1.9-0.2l1.9-0.3l3.8-0.7l1.9-0.4l11.4-2.2l0.5-0.4l0.6-0.9l0.2-1l0.1-0.9l-0.1-1l-0.3-1.2l-0.2-0.7l-0.8-1.4l-0.3-0.5l-0.8-1l-0.9-0.9l-1.8-1.4l-0.9-0.6l-1-0.3l-1 0.3l-15.2 15.3z"/>
<path fill="#b0a571" fill-rule="evenodd" d="M1016.4 1344.1l6 0.3l7.6 0.2l6.7 0l6.7-0.2l8.6-0.3l11.4-0.7l6.7-0.5l7.6-0.8l18.2-2.3l8.6-1.4l2.8-0.7l5.8-1.1l3.8-0.9l1.9-0.4l2.3-0.7l2.5-0.8l2.8-0.8l1-0.4l1.9-1l2.8-1.2l1-0.7l1.2-1.8l0.7-1l-0.1-0.9l-1.8-1.5l-1-0.7l-1.9-1.1l-1.9-0.8l-1.9-0.8l-2.8-0.9l-2-0.5l-2.8-0.7l-3.2-0.7l-5.4-1l-6.7-1.1l-6.7-0.9l-4.7-0.6l-4.8-0.6l-6.7-0.7l-12.4-1.1l-9.5-0.7l-13.4-0.7l-10.5-0.4l-7.6-0.1l-5.8 0.1l-5.7 0.3l-4.8 0.3l-4.7 0.6l-5.7 0.8l-7.7 1.1l-3.8 0.4l-3.8 0.3l-3.8 0l-2.9-0.1l-1.9-0.2l-1-0.5l-2.3-4.7l-2.4-4.8l-1.4-2.9l-1.5-2.9l-0.4-0.9l-0.5-1l-0.4-0.9l-0.6-1l-0.2-0.9l-0.8-0.8l-0.9-0.1l-5.7 0.2l-17.2 0.8l-1 0.3l-1 0.5l-1.3 1l-0.8 0.9l-0.5 1l-0.6 1.9l-0.2 1.9l0 1.9l0.2 1.9l0.7 2.9l0.7 2l0.7 1.8l1.5 2.9l1.8 2.9l1.7 2.1l1.9 2.2l1.9 1.9l1.9 1.6l3.5 2.7l1.4 0.9l1.8 1.1l2.9 1.6l4.7 2.3l2.9 1.2l4.1 1.5l3 0.9l2.4 0.7l5.8 1.5l3.8 0.8l4.8 0.9l4.7 0.7l5.8 0.8l5.7 0.6l6.7 0.5l3.5 0.2z"/>
<path fill="#c6b667" fill-rule="evenodd" d="M1000.4 1338.4l3.9 0.1l4.7-0.1l5.8-0.2l3.8-0.3l4.8-0.4l4.7-0.7l4.8-0.8l3.8-0.9l4.9-1.5l2.7-1.2l2.4-1.7l0.7-0.9l0.4-1l-0.3-0.9l-0.6-1l-1-0.9l-2.5-1.4l-1.9-0.8l-3.8-1.2l-1.9-0.5l-5.8-1.3l-5.7-0.9l-5.7-0.8l-7.1-0.8l-8.2-0.6l-16.2-1.2l-4.8-0.5l-3.8-0.5l-2.9-0.6l-1.1-0.4l-0.9-1.9l-4.4-10.5l-0.4-1l-1.6-3.8l-0.1-0.3l-0.7-1.6l-0.3-0.6l-0.3-1.3l-0.7-0.8l-0.9-0.1l-3.8 0.2l-19.1 1.4l-1 0.4l-0.9 0.8l-1 1.1l-0.4 0.8l-0.5 1.4l-0.2 0.5l-0.2 0.9l-0.1 2l0.2 1.9l0.3 1.9l0.5 1.9l1.1 2.9l1.4 2.8l1.2 1.9l1.5 2l1.5 1.9l1.8 1.9l1.5 1.3l1.9 1.6l2.5 1.9l1.5 0.9l1.7 1.1l1.9 1l2.9 1.4l3.8 1.6l3.8 1.4l4.8 1.4l3.2 0.7l2.5 0.5l3.8 0.7l4.8 0.7l5.7 0.6l4.8 0.3l2.8 0.1z"/>
<path fill="#dec958" fill-rule="evenodd" d="M978.4 1333.6l3 0.3l3.8 0.3l3.8 0.1l3.8-0.1l3.8-0.2l2.9-0.4l1.9-0.3l2.6-0.6l2.6-1l1.5-1l0.9-1.1l0.3-0.8l-0.3-0.9l-0.9-1.2l-1-0.8l-1.9-1.1l-2.8-1.2l-2.9-1.1l-3.8-1.2l-2.9-0.8l-4.9-1.2l-7.6-1.9l-2.8-0.8l-3.3-1.2l-0.5-0.2l-0.7-0.7l-1.4-3.8l-5.7-16.3l-0.2-0.9l-0.6-0.7l-0.9-0.1l-3.8 0.3l-18.2 1.6l-0.9 0.1l-1 0.7l-0.9 1.1l-0.5 0.8l-0.5 1.2l-0.2 0.7l-0.2 0.9l-0.1 2l0.2 1.9l0.3 1.9l0.5 1.9l1.2 2.9l1.5 2.8l1.6 2.3l1.2 1.6l1.7 1.9l2 1.9l1.8 1.5l2.8 2.1l2.9 1.7l3.8 1.9l3.8 1.6l2.9 1l2.9 0.8l2.8 0.7l3.8 0.7l2.8 0.4z"/>
<path fill="#f6dd3f" fill-rule="evenodd" d="M972.3 1330.7l2.4 0.3l2.8 0.3l2.9 0l2.9-0.1l1.9-0.2l1.9-0.3l1.9-0.5l1.1-0.4l1.6-1l0.6-0.9l0.1-1l-0.5-1l-1-1.1l-0.9-0.8l-2-1.2l-1.9-1l-3.4-1.6l-4.2-1.7l-5.7-2.6l-0.7-0.5l-0.4-0.9l-2.5-8.6l-1.2-3.8l-1.4-4.8l-0.8-2.9l-0.1-0.9l-0.6-0.6l-0.9-0.2l-2.9 0.3l-16.2 1.8l-2.9 0.3l-0.9 0.3l-1 0.9l-0.6 1l-0.5 0.9l-0.3 1l-0.1 0.9l-0.1 2l0.1 1.9l0.4 1.9l0.9 2.9l1.2 2.6l0.6 1.2l1.3 1.9l1.4 1.9l1.7 1.9l2 1.9l1.6 1.3l2.8 2.1l2.9 1.7l2.9 1.4l3.8 1.6l2.8 0.9l2.9 0.7l2.9 0.6l1.4 0.2z"/>
<path fill="#fee838" fill-rule="evenodd" d="M970.7 1328.8l1.1 0.1l2.9 0.1l1.9-0.1l1.9-0.2l1.9-0.5l1-0.3l1.3-1l0.4-0.9l0-1l-0.5-1l-1.2-1.3l-1-0.8l-1-0.7l-4.5-2.9l-1.2-0.7l-1.9-1.2l-0.9-1l-2.7-10.5l-1.2-4.8l-0.6-2.8l-0.5-1.9l-0.3-1.9l-0.5-0.5l-0.9-0.3l-2.9 0.4l-11.4 1.5l-7.7 1.1l-0.9 0.3l-0.3 0.3l-0.7 1l-0.4 0.9l-0.3 1l-0.3 1.9l0 1.9l0.3 1.9l0.5 1.9l0.6 2l0.9 1.9l1.1 1.9l1.4 2.1l1.4 1.7l1.5 1.6l1.9 1.8l1.9 1.5l1.9 1.3l2.9 1.7l1.9 0.9l1.9 0.8l2.5 0.9l1.3 0.5l2.9 0.7l2.9 0.5l1.7 0.2z"/>
<path fill="none" stroke="#000" stroke-width="1.4" d="M1086 1412l0.3-1.3l2-5.4l1-0.9l0.9-0.3l1.9-0.1l1.9-0.1l0.9 0l1-0.2l0.9-0.3l1-0.3l1.9-0.1l7.6 0.1l1-0.1l0.9-0.2l1.9-0.5l2-0.1l21 0.1l0.9 0l1-0.2l1.9-0.5l1.9-0.1l16.2 0.2M822 1294.9l22.9 0l1 0.1l1.4 0.4l0.5 0.1l0.9 0.2l1.9 0.1l26.7 0.1l1 0.1l1 0.5l0.6 0.8l0.4 0.9l0.3 1l0 0.9l-0.4 1.4l-1.2 3.4l-0.7 1.1l-1 0.9l-0.9 0.4l-2.9 0.9l-1.9 0.1l-1.9 0l-0.9 0.1l-1.5 0.4l-0.4 0.1l-1 0.2l-2.9 0.2l-1.4 0.4l-0.5 0.2l-4.7 1.2l-2 0.2l-1.4 0.3l-0.5 0.2l-3.1 0.8l-0.7 0.3l-1.9 0.6l-0.1 1l0.1 0l1.9 0.3l1.9 0.1l2.9 0l0.9 0l1.4-0.4l0.6-0.2l0.9-0.2l1.9-0.1l1.9-0.1l1.4-0.4l0.5-0.1l1-0.2l3.8-0.5l1-0.3l0.9-0.1l1 0.3l0.4 0.9l0.1 1l-0.2 1.9l-0.3 1.4l-0.2 0.5l-1.7 6.7l-0.6 1l-1.5 1.9l-0.8 1.2l-5 6.4l-0.7 1.2l-1 1.2l-3.3 3.4l-3.8 3.8l-0.6 0.9l-0.3 1l-0.1 1.9l0 1.9l0.1 1l0.4 0.9l0.9 0.5l1-0.1l1.4-0.4l0.5-0.1l3.8-1l3.8-1.2l1.9-0.4l2-0.6l4.3-1.5l0.4-0.1l1-0.2l1.9-0.1l14.3 0l1 0.1l1.3 0.3l2 1l1.7 1l1.6 1.1l3.2 1.7l1.6 1.2l1.9 0.9l1 0.2l1.9 0.1l3.8 0l0.9-0.1l1.5-0.4l0.5-0.1l0.9-0.2l1.9-0.1l4.8 0l0.9 0.1l1 0.3l1.1 1l0.8 1.2l1 1.2l1.3 1.4l0.8 1l0.7 1.2l1 1.1l1.3 1.5l0.8 1l0.7 1.2l1 1.1l1 0.9l0.9 0.6l1 0.3l1.9 0.2l8.6 0l0.9 0.1l1.1 0.3l0.8 0.6l1.4 1.3l2.4 2.4l1 0.7l1.2 0.8l1.2 0.9l3.3 3.4l8.6 8.5l1 0.7l1.9 1.1l1.9 0.8l9.5 3.1l1.9 0.4l1.9 0.7l3.9 1.2l1.9 0.7l3.8 1.2l1.9 0.7l4.3 1.4l0.5 0.2l22.4 5.6l0.5 0.1l10.9 2.7l3.4 1.3l1.9 1l1 0.6M1156 1292.6l-154.6 0l-2.9 0.1l-0.9 0l-1 0.2l-0.5 0.6l-0.2 0.9l-0.1 1.9l-0.3 1.9l-0.6 1.9l-1.1 2.5l-0.3 0.4l-0.7 1.1l-0.9 1.1l-1 1l-0.9 0.9l-1 0.7l-1.9 1.2l-1.9 1l-1.9 0.7l-1.9 0.6l-2 0.4M941.3 1292.5l-7.6-0.1l-2-0.1l-0.9-0.2l-1-0.2l-3.8-1.2l-1.9-0.4l-0.8-0.7l0-3.8l0.3-1.9l0.2-1l0.1-1.9l0-3.8l-0.1-1l-0.7-1.9l-1.3-2.8l-0.6-1.1l-0.9-0.8l-1-0.4l-0.9-0.1l-1 0.1l-1.4 0.4l-0.5 0.1l-0.9 0.2l-1.9 0.1l-2-0.1l-1.4-0.3l-0.5-0.2l-0.9-0.2l-2.9-0.2l-1.4-0.4l-0.5-0.2l-0.9-0.2l-1.9-0.1l-2.9 0l-1 0.1l-1.4 0.4l-0.5 0.2l-0.9 0.2l-1.9 0.1l-6.7 0l-1-0.1l-1.4-0.4l-0.5-0.2l-10.9-2.7l-1.5-0.4l-3.8-1.3l-1.9-0.7l-1.3-0.4l-2.5-1.2l-2.3-0.7l-2.5-1.2l-1.9-0.9l-2.3-0.8l-2.5-1.2l-3.8-1.9l-1.2-0.7l-1.7-1.2l-3.1-1.7l-1.6-1.1l-3.1-1.8l-0.8-0.9l-0.3-1l-0.1-0.9l0.1-1l0.4-1l0.9-1l1-0.4l11.4-3.8l1.1-0.5l1.3-0.9l1.4-1.2l1.2-0.8l1.2-0.9l0.9-1l0.5-0.9l0-1l-0.2-0.9l-1-2l-2.6-5.2l-1.2-2.4l-0.8-1l-1.8-1.4l-0.9-0.7l-2-1.2l-3.5-2.4l-2.2-1.4l-0.9-0.6l-1-0.3l-1.9-0.1l-2.9 0l-0.9-0.1l-1.4-0.4l-0.5-0.1l-1-0.2l-1.9-0.1l-3.8 0M989 1292.5l3.8-0.1l1-0.1l0.9-0.2l0.7-0.6l0.3-0.9l0.2-1l-0.1-0.9l-0.3-1.9l-0.6-1.9l-1.1-2.5l-0.3-0.4l-0.7-1.1l-0.9-1.1l-1-1l-0.9-0.9l-1-0.7l-1.9-1.2l-1.9-1l-1.9-0.7l-1.9-0.6l-2-0.4M822 1196.4l17.2 0l0.9-0.1l1.3-0.4l3.5-1.4l1.3-0.5l2.5-1l1-0.2l1.4 0.3l0.5 0.1l0.9 0.3l2.9 0.2l1.4 0.3l0.5 0.2l1 0.2l2.8 0.2l1.5 0.4l0.4 0.1l1 0.3l1.9 0.1l19.1 0.1l1.4 0.3l0.5 0.2l8.6 2.1l1.9 0.2l1.4 0.4l0.5 0.2l3.8 0.9l1 0.1l1.2-0.2l0.7-0.3l1.2-0.7l1.1-0.9l2.9-2.9l2.4-2.3l1-0.8l1.2-0.7l1.1-1l3.4-3.3l3.8-3.8l1-0.7l1.2-0.8l2.6-2l1.9-0.7l0.9-0.3l3.9-1l4.7-1.6l1-0.3l0.9-0.2l1.9-0.1l2.9 0l1-0.1l1.4-0.4l0.5-0.2l0.9-0.2l1 0l0.9 0l1 0.1l1 0.3l1 1l2.8 4.3l0.9 1.7l1.1 1.6l1.2 1.9l0.6 0.7l0.9 0.4l1-0.1l1.6-1l10.8-7.2l2.9-2.5l1.5-0.8l0.4-0.1l3.2-0.8l0.6-0.3l0.9-0.4l1-0.1l2.9 0l4.7 0l1 0.1l2.8 1l2 0.1l1.9 0.1l1.4 0.4l0.5 0.2l0.9 0.2l1.9 0.1l1.9 0.1l1.5 0.4l0.4 0.1l1 0.2l1.9 0.1l1.9 0.1l1.5 0.4l0.4 0.2l1 0.2l0.9 0.1l1-0.1l1.3-0.4l3.5-1.4l2.8-1l1.3-0.4l1.7-1M909.8 1329.9l-1.9-0.8l-2.2-1.2l-4.5-3.1l-1.9-1.1l-1-0.7l-0.6-0.9l-0.5-0.9l-0.8-2.3l-1.1-2.5l-1.5-4.8l-0.2-0.8M897.6 1286.4l0.7 0.4l2 2.6l2 3.1l0.8 1.2l3.8 5l1 0.6l0.9-0.3l1-1.1l1.1-1.6l1.3-1.9l1.4-2.1l1-0.8l0.9-0.4l2.9-0.9l1.9-0.1l0.9 0l1 0.1l0.8 0.4l-0.1 0.9l-0.4 2l-1.8 6.6l-0.3 2l-1.1 2.9l-0.9 1.3l-1.4 1.5l-0.7 1l-0.8 1.2l-0.9 1.1l-2.3 2.4l-0.7 1l-0.3 0.9l0 1l0 1l0.4 1.4l0.2 0.5l0.2 0.9l0.1 1.9l0.1 4.8l0 1l0 0.9l-0.6 0.8l-0.3 0.2l-0.7 0.2l-0.9-0.1M910.7 1249.5l2-0.4l1.9-0.2l1-0.4l0.9-0.6l0.4-0.3l0.7-1l0.8-1.2l2.8-3.9l0.5-0.6l0.4-1l0.1-1l-0.5-1.8l-0.5-1.4l-0.2-0.6l-0.7-1l-1-0.4l-0.9 0.1l-1.5 0.4l-0.4 0.1l-2.9 0.8l-1.1 1l-2.7 4.3l-2.3 4.3l-0.2 1l0 0.9l0.6 1.2l0.9 1.1l1 0.5l0.8 0.1zM890.7 1242l1 0.2l0.9 0l1.1-0.4l0.8-0.6l0.4-0.3l0.7-1l0.4-0.9l0.2-1l-0.1-0.9l-0.4-2l-0.7-1.9l-0.5-1.3l-0.9-2l-0.4-0.5l-0.8-1l-0.7-0.4l-1.9-0.7l-1-0.2l-1.9-0.3l-1 0l-0.9 0.4l-1 0.8l-2.3 2.4l-0.9 0.9l-0.5 1l0 0.9l0.4 1l0.6 0.9l1.8 3.1l0.9 1.1l1 0.7l2.4 0.9l1.4 0.5l1.5 0.4zM948.9 1231.3l1 0.3l0.9 0l1.2-0.3l3.6-1.3l3.8-1.3l1-0.3l0.9-0.5l0.5-0.4l0.5-0.4l0.4-0.6l0.5-1.1l0.2-0.8l0-0.9l-0.5-1l-0.6-0.5l-1-0.5l-0.9-0.3l-1-0.1l-0.9 0.1l-1.3 0.4l-2.1 0.9l-6.2 3.1l-1.3 0.7l-0.6 0.4l-0.5 0.6l-0.2 0.9l0.4 1l0.9 1l0.4 0.3l0.9 0.6zM1156 1304.6l-24.8-1.1l-0.6 0M1098.8 1302.3l-17.2-0.5l-21-0.4l-15.3-0.2l-11.4 0l-7.7 0.2l-5.7 0.2l-4.8 0.4l-3.8 0.5l-2.9 0.5l-1.9 0.5l-1.9 0.5l-2.3 0.9l-1.5 0.7l-8.6 4.1l-2.8 1.1l-2.9 0.9l-2.9 0.7l-2.8 0.4l-2.9 0.2l-1.2-0.2M941.3 1293l-1.9 0.4l-1 0.3l-1.4 0.7l-1.1 1l-0.7 0.9l-0.6 1.5l-0.2 0.4l-0.2 1l-0.2 1.9l0 1.9l0.2 1.9l0.4 2.1l0.4 1.8l1.1 2.8l1.4 3l0.9 1.7l0.6 1.1l2.1 2.8l2.1 2.6l1.1 1.2l2.7 2.6l2.6 2.2l1.2 1l2.9 2l1.9 1.3l4.8 2.7l3.4 1.6l2.1 1l1.2 0.5l5.7 2.2l9.5 3.1l2.9 0.7l7.6 1.9l6.7 1.4l8.6 1.5l8.6 1.2l7.6 0.9l2.9 0.3l6.8 0.6l4.6 0.4l7.7 0.5l7.6 0.4l8.6 0.3l10.5 0.3l20 0l18.1-0.2l20.1-0.6l13.3-0.6l11.5-0.5M988.3 1288l0.2-0.3l0.6-0.9l0.2-1l0.1-0.9l-0.1-1l-0.3-1.2l-0.2-0.7l-0.8-1.4l-0.3-0.5l-0.8-1l-0.9-0.9l-1.8-1.4l-0.9-0.6l-1.5-0.4M941.3 1293.6l-1 0.3l-1 0.5l-1.3 1l-0.8 0.9l-0.5 1l-0.6 1.9l-0.2 1.9l0 1.9l0.2 1.9l0.7 2.9l0.7 2l0.7 1.8l1.5 2.9l1.8 2.9l1.7 2.1l1.9 2.2l1.9 1.9l1.9 1.6l3.5 2.7l1.4 0.9l1.8 1.1l2.9 1.6l4.7 2.3l2.9 1.2l4.1 1.5l3 0.9l2.4 0.7l5.8 1.5l3.8 0.8l4.8 0.9l4.7 0.7l5.8 0.8l3.6 0.4M1035.9 1344.6l8.4-0.2l7.7-0.3l11.4-0.7l6.7-0.5l7.6-0.8l18.2-2.3l8.6-1.4l2.8-0.7l5.8-1.1l3.8-0.9l1.9-0.4l2.3-0.7l2.5-0.8l2.8-0.8l1-0.4l1.9-1l2.8-1.2l1-0.7l1.2-1.8l0.7-1l-0.1-0.9l-1.8-1.5l-1-0.7l-1.9-1.1l-1.9-0.8l-1.9-0.8l-2.8-0.9l-2-0.5l-2.8-0.7l-3.2-0.7l-5.4-1l-6.7-1.1l-6.7-0.9l-4.7-0.6l-4.8-0.6l-6.7-0.7l-12.4-1.1l-9.5-0.7l-13.4-0.7l-10.5-0.4l-7.6-0.1l-5.8 0.1l-5.7 0.3l-4.8 0.3l-4.7 0.6l-5.7 0.8l-7.7 1.1l-3.8 0.4l-3.8 0.3l-3.8 0l-2.9-0.1l-1.9-0.2l-0.9-0.5M941.3 1294.2l-1 0.4l-0.9 0.8l-1 1.1l-0.4 0.8l-0.5 1.4l-0.2 0.5l-0.2 0.9l-0.1 2l0.2 1.9l0.3 1.9l0.5 1.9l1.1 2.9l1.4 2.8l1.2 1.9l1.5 2l1.5 1.9l1.8 1.9l1.5 1.3l1.9 1.6l2.5 1.9l1.5 0.9l1.7 1.1l1.9 1l2.9 1.4l3.8 1.6l3.8 1.4l4.8 1.4l3.2 0.7l2.5 0.5l3.8 0.7l4.8 0.7l5.7 0.6l4.8 0.3l4.8 0.1l5.7 0l4.8-0.1l4.7-0.3l5.8-0.5l4.7-0.7l4.8-0.8l3.8-0.9l4.9-1.5l2.7-1.2l2.4-1.7l0.7-0.9l0.4-1l-0.3-0.9l-0.6-1l-1-0.9l-2.5-1.4l-1.9-0.8l-3.8-1.2l-1.9-0.5l-5.8-1.3l-5.7-0.9l-5.7-0.8l-7.1-0.8l-8.2-0.6l-16.2-1.2l-4.8-0.5l-3.8-0.5l-2.9-0.6l-1.1-0.4M941.3 1294.7l-1 0.7l-0.9 1.1l-0.5 0.8l-0.5 1.2l-0.2 0.7l-0.2 0.9l-0.1 2l0.2 1.9l0.3 1.9l0.5 1.9l1.2 2.9l1.5 2.8l1.6 2.3l1.2 1.6l1.7 1.9l2 1.9l1.8 1.5l2.8 2.1l2.9 1.7l3.8 1.9l3.8 1.6l2.9 1l2.9 0.8l2.8 0.7l3.8 0.7l3.9 0.5l3.8 0.4l3.8 0.2l3.8 0l3.8-0.2l3.8-0.4l2-0.2l3.5-0.8l2.6-1l1.5-1l0.9-1.1l0.3-0.8l-0.3-0.9l-0.9-1.2l-1-0.8l-1.9-1.1M974.7 1315.7l-0.5-0.3l-0.9-0.5M941.3 1295.4l-1 0.9l-0.6 1l-0.5 0.9l-0.3 1l-0.1 0.9l-0.1 2l0.1 1.9l0.4 1.9l0.9 2.9l1.2 2.6l0.6 1.2l1.3 1.9l1.4 1.9l1.7 1.9l2 1.9l1.6 1.3l2.8 2.1l1.1 0.7M984.4 1331.1l2.7-0.4l1.9-0.5l1.1-0.4l1.6-1l0.6-0.9l0.1-1l-0.5-1l-1-1.1l-0.9-0.8l-2-1.2l-1.9-1l-3.4-1.6l-4.2-1.7l-5.7-2.6l-0.7-0.5M941.3 1296l-0.3 0.3l-0.7 1l-0.4 0.9l-0.3 1l-0.3 1.9l0 1.9l0.3 1.9l0.5 1.9l0.6 2l0.9 1.9l1.1 1.9l1.4 2.1l1.4 1.7l1.5 1.6l1.9 1.8l1.9 1.5l1.9 1.3l2.9 1.7l1.9 0.9l1.9 0.8l2.5 0.9l1.3 0.5l2.9 0.7l2.9 0.5l2.8 0.3l2.9 0.1l1.9-0.1l1.9-0.2l1.9-0.5l1-0.3l1.3-1l0.4-0.9l0-1l-0.5-1l-1.2-1.3l-1-0.8l-1-0.7l-4.5-2.9l-1.2-0.7l-1.9-1.2l-0.9-1"/>
<path fill="none" stroke="#000" stroke-width="1.4" stroke-dasharray="5.1 2.2" d="M941.3 1289l-0.3-0.3l-0.7-1l-0.4-0.9l-0.3-1l-0.3-1.9l0-1.9l0.3-1.9l0.5-1.9l0.6-2l0.9-1.9l1.1-1.9l1.4-2.1l1.4-1.7l1.5-1.6l1.9-1.8l1.9-1.5l1.9-1.3l2.9-1.7l0.5-0.2M976.5 1265.7l-0.1 0l-2.7 1.7l-1.9 1.2l-0.9 1M941.3 1289.6l-1-0.9l-0.6-1l-0.5-0.9l-0.3-1l-0.1-0.9l-0.1-2l0.1-1.9l0.4-1.9l0.9-2.9l1.2-2.6l0.6-1.2l1.3-1.9l1.4-1.9l1.7-1.9l2-1.9l1.6-1.3l2.8-2.1l2.9-1.7l2.9-1.4l3.8-1.6l2.8-0.9l2.9-0.7l2.9-0.6l2.8-0.4l2.9-0.3l2.9-0.1l2.8 0l2.9 0.3l1.9 0.3l1.9 0.5l0.4 0.1M941.3 1290.2l-1-0.6l-0.9-1.1l-0.5-0.8l-0.5-1.2l-0.2-0.7l-0.2-0.9l-0.1-2l0.2-1.9l0.3-1.9l0.5-1.9l1.2-2.9l1.5-2.8l1.6-2.3l1.2-1.6l1.7-1.9l2-1.9l1.8-1.5l2.8-2.1l2.9-1.7l3.8-1.9l3.8-1.6l2.9-1l2.9-0.8l2.8-0.7l3.8-0.7l3.9-0.5l3.8-0.4l3.8-0.2l3.8 0l3.8 0.2l3.8 0.4l2 0.2l3.5 0.8l2.6 1l1.5 1l0.9 1.1l0.3 0.8l-0.3 0.9l-0.9 1.2l-1 0.8l-1.9 1.1l-2.8 1.2l-2.9 1.1l-3.8 1.2l-2.9 0.8l-4.9 1.2l-7.6 1.9l-2.8 0.8l-3.3 1.2l-0.9 0.5M941.3 1290.8l-1-0.5l-0.9-0.7l-1-1.1l-0.4-0.8l-0.5-1.4l-0.2-0.5l-0.2-0.9l-0.1-2l0.2-1.9l0.3-1.9l0.5-1.9l1.1-2.9l1.4-2.8l1.2-1.9l1.5-2l1.5-1.9l1.8-1.9l1.5-1.3l1.9-1.6l2.5-1.9l1.5-0.9l1.7-1.1l1.9-1l2.9-1.4l3.8-1.6l3.8-1.4l4.8-1.4l3.2-0.7l2.5-0.5l3.8-0.7l4.8-0.7l5.7-0.6l4.8-0.3l4.8-0.1l5.7 0l4.8 0.1l4.7 0.3l5.8 0.5l4.7 0.7l4.8 0.8l3.8 0.9l4.9 1.5l2.7 1.2l2.4 1.7l0.7 0.9l0.4 1l-0.3 0.9l-0.6 1l-1 0.9l-2.5 1.4l-1.9 0.8l-3.8 1.2l-1.9 0.5l-5.8 1.3l-5.7 0.9l-5.7 0.8l-7.1 0.8l-8.2 0.6l-16.2 1.2l-4.8 0.5l-3.8 0.5l-2.9 0.6l-1.1 0.4M941.3 1291.4l-1-0.3l-1-0.5l-1.3-1l-0.8-0.9l-0.5-1l-0.6-1.9l-0.2-1.9l0-1.9l0.2-1.9l0.7-2.9l0.7-2l0.7-1.8l1.5-2.9l1.8-2.9l1.7-2.1l1.9-2.2l1.9-1.9l1.9-1.6l3.5-2.7l1.4-0.9l1.8-1.1l2.9-1.6l4.7-2.3l2.9-1.2l4.1-1.5l3-0.9l2.4-0.7l5.8-1.5l3.8-0.8l4.8-0.9l4.7-0.7l5.8-0.8l5.7-0.6l6.7-0.5l7.6-0.4l6.7-0.2l6.7-0.1l6.6 0.1l6.7 0.2l9.6 0.4l11.4 0.9l8.9 0.8l15.9 2l5.7 0.9l3.9 0.6l0.8 0.1M1132.4 1261l-1.5 0.9l-1.9 1l-2.6 1l-2.8 0.9l-2 0.5l-2.8 0.7l-3.2 0.7l-5.4 1l-6.7 1.1l-6.7 0.9l-4.7 0.6l-4.8 0.6l-6.7 0.7l-12.4 1.1l-9.5 0.7l-13.4 0.7l-10.5 0.4l-7.6 0.1l-5.8-0.1l-5.7-0.3l-4.8-0.3l-4.7-0.6l-5.7-0.8l-7.7-1.1l-3.8-0.4l-3.8-0.3l-3.8 0l-2.9 0.1l-1.9 0.2l-0.9 0.5M988.3 1297l0.2 0.3l0.6 0.9l0.2 1l0.1 0.9l-0.1 1l-0.3 1.2l-0.2 0.7l-0.8 1.4l-0.3 0.5l-0.8 1l-0.9 0.9l-1.8 1.4l-0.9 0.6l-1.5 0.4M941.3 1291.9l-2-0.4l-0.9-0.2l-1.3-0.7l-1.2-1l-0.7-0.9l-0.4-1l-0.6-1.9l-0.2-1.9l0-1.9l0.2-1.9l0.4-2.1l0.4-1.8l1.1-2.8l1.4-3l0.9-1.7l0.6-1.1l2.1-2.8l2.1-2.6l1.1-1.2l2.7-2.6l2.6-2.2l1.2-1l2.9-2l1.9-1.3l4.8-2.7l3.4-1.6l2.1-1l1.2-0.5l5.7-2.2l9.5-3.1l2.9-0.7l7.6-1.9l6.7-1.4l8.6-1.5l8.6-1.2l7.6-0.9l2.9-0.3l6.8-0.6l4.6-0.4l7.7-0.5l7.6-0.4l8.6-0.3l10.5-0.3l20 0l18.1 0.2l20.1 0.6l13.3 0.6l11.5 0.5M1156 1280.4l-24.8 1.1l-24.8 0.9l-27.7 0.9l-20 0.4l-14.4 0.1l-10.4 0l-7.7-0.2l-5.7-0.2l-4.8-0.4l-3.8-0.5l-2.9-0.5l-1.9-0.5l-1.9-0.5l-2.3-0.9l-1.5-0.7l-8.6-4.1l-2.8-1.1l-2.9-0.9l-2.9-0.7l-2.8-0.4l-2.9-0.2l-1.2 0.2"/>
<ellipse cx="965.1" cy="1292.5" rx="25.2" ry="25.2" fill="#fff"/>
<text transform="translate(974.7 1256.0) rotate(-346.5)" text-anchor="middle" y="4.9" font-size="20.8px">-3.0</text>
<text transform="translate(980.2 1265.8) rotate(-33.4)" text-anchor="middle" y="4.9" font-size="20.8px">-2.5</text>
<text transform="translate(1122.3 1250.8) rotate(-336.8)" text-anchor="middle" y="4.9" font-size="20.8px">-1.0</text>
<text transform="translate(896.4 1298.7) rotate(-270.4)" text-anchor="middle" y="4.9" font-size="20.8px">0.0</text>
<text transform="translate(1114.7 1302.9) rotate(-357.9)" text-anchor="middle" y="4.9" font-size="20.8px">0.5</text>
<text transform="translate(1020.0 1344.3) rotate(-357.6)" text-anchor="middle" y="4.9" font-size="20.8px">1.0</text>
<text transform="translate(990.1 1319.8) rotate(-344.3)" text-anchor="middle" y="4.9" font-size="20.8px">2.0</text>
<text transform="translate(968.6 1330.1) rotate(-347.4)" text-anchor="middle" y="4.9" font-size="20.8px">2.5</text>
</g>
<rect x="822" y="1173" width="334" height="239" fill="none" stroke="#000" stroke-width="2"/>
<text transform="translate(856.7 1453.8) scale(1.215 1.5)">−</text><text x="871.7" y="1448.4">2</text>
<text x="965.1" y="1448.4" text-anchor="middle">0</text>
<text x="1060.6" y="1448.4" text-anchor="middle">2</text>
<text x="1156.0" y="1448.4" text-anchor="middle">4</text>
<text x="989.0" y="1478.7" text-anchor="middle">x</text>
<path stroke="#000" stroke-width="2" fill="none" d="M869.7 1413.0v11M965.1 1413.0v11M1060.6 1413.0v11M1156.0 1413.0v11"/>
<text x="989.0" y="1157.6" text-anchor="middle">PINN, unsteady</text>
<path fill="#00224e" d="M302.2 1500.1L269.1 1505.85L302.2 1511.6z"/>
<path fill="#fee838" d="M952.5 1500.1L985.6 1505.85L952.5 1511.6z"/>
<rect x="301.70" y="1500.1" width="54.77" height="11.5" fill="#002a5f"/>
<rect x="355.97" y="1500.1" width="54.78" height="11.5" fill="#1a386f"/>
<rect x="410.25" y="1500.1" width="54.77" height="11.5" fill="#38476c"/>
<rect x="464.52" y="1500.1" width="54.77" height="11.5" fill="#4d556c"/>
<rect x="518.80" y="1500.1" width="54.78" height="11.5" fill="#61656f"/>
<rect x="573.08" y="1500.1" width="54.77" height="11.5" fill="#737475"/>
<rect x="627.35" y="1500.1" width="54.78" height="11.5" fill="#868379"/>
<rect x="681.62" y="1500.1" width="54.77" height="11.5" fill="#9b9476"/>
<rect x="735.90" y="1500.1" width="54.77" height="11.5" fill="#b0a571"/>
<rect x="790.17" y="1500.1" width="54.78" height="11.5" fill="#c6b667"/>
<rect x="844.45" y="1500.1" width="54.77" height="11.5" fill="#dec958"/>
<rect x="898.72" y="1500.1" width="54.28" height="11.5" fill="#f6dd3f"/>
<path fill="none" stroke="#000" stroke-width="2" stroke-linejoin="miter" d="M301.7 1500.1H953.0L985.6 1505.85L953.0 1511.6H301.7L269.1 1505.85z"/>
<text transform="translate(280.4 1553.9) scale(1.215 1.5)">−</text><text x="295.5" y="1548.6">3.0</text>
<text transform="translate(334.7 1553.9) scale(1.215 1.5)">−</text><text x="349.8" y="1548.6">2.5</text>
<text transform="translate(389.0 1553.9) scale(1.215 1.5)">−</text><text x="404.0" y="1548.6">2.0</text>
<text transform="translate(443.2 1553.9) scale(1.215 1.5)">−</text><text x="458.3" y="1548.6">1.5</text>
<text transform="translate(497.5 1553.9) scale(1.215 1.5)">−</text><text x="512.6" y="1548.6">1.0</text>
<text transform="translate(551.8 1553.9) scale(1.215 1.5)">−</text><text x="566.9" y="1548.6">0.5</text>
<text x="627.3" y="1548.6" text-anchor="middle">0.0</text>
<text x="681.6" y="1548.6" text-anchor="middle">0.5</text>
<text x="735.9" y="1548.6" text-anchor="middle">1.0</text>
<text x="790.2" y="1548.6" text-anchor="middle">1.5</text>
<text x="844.5" y="1548.6" text-anchor="middle">2.0</text>
<text x="898.7" y="1548.6" text-anchor="middle">2.5</text>
<text x="953.0" y="1548.6" text-anchor="middle">3.0</text>
<path stroke="#000" stroke-width="2" fill="none" d="M301.7 1512.6v11M356.0 1512.6v11M410.2 1512.6v11M464.5 1512.6v11M518.8 1512.6v11M573.1 1512.6v11M627.3 1512.6v11M681.6 1512.6v11M735.9 1512.6v11M790.2 1512.6v11M844.5 1512.6v11M898.7 1512.6v11M953.0 1512.6v11"/>
<text transform="translate(235 1512.6) skewX(-12)" text-anchor="middle" font-style="italic" font-size="28px">ω<tspan font-size="19.6px" dy="5">z</tspan></text>
</svg>
</body></html>
